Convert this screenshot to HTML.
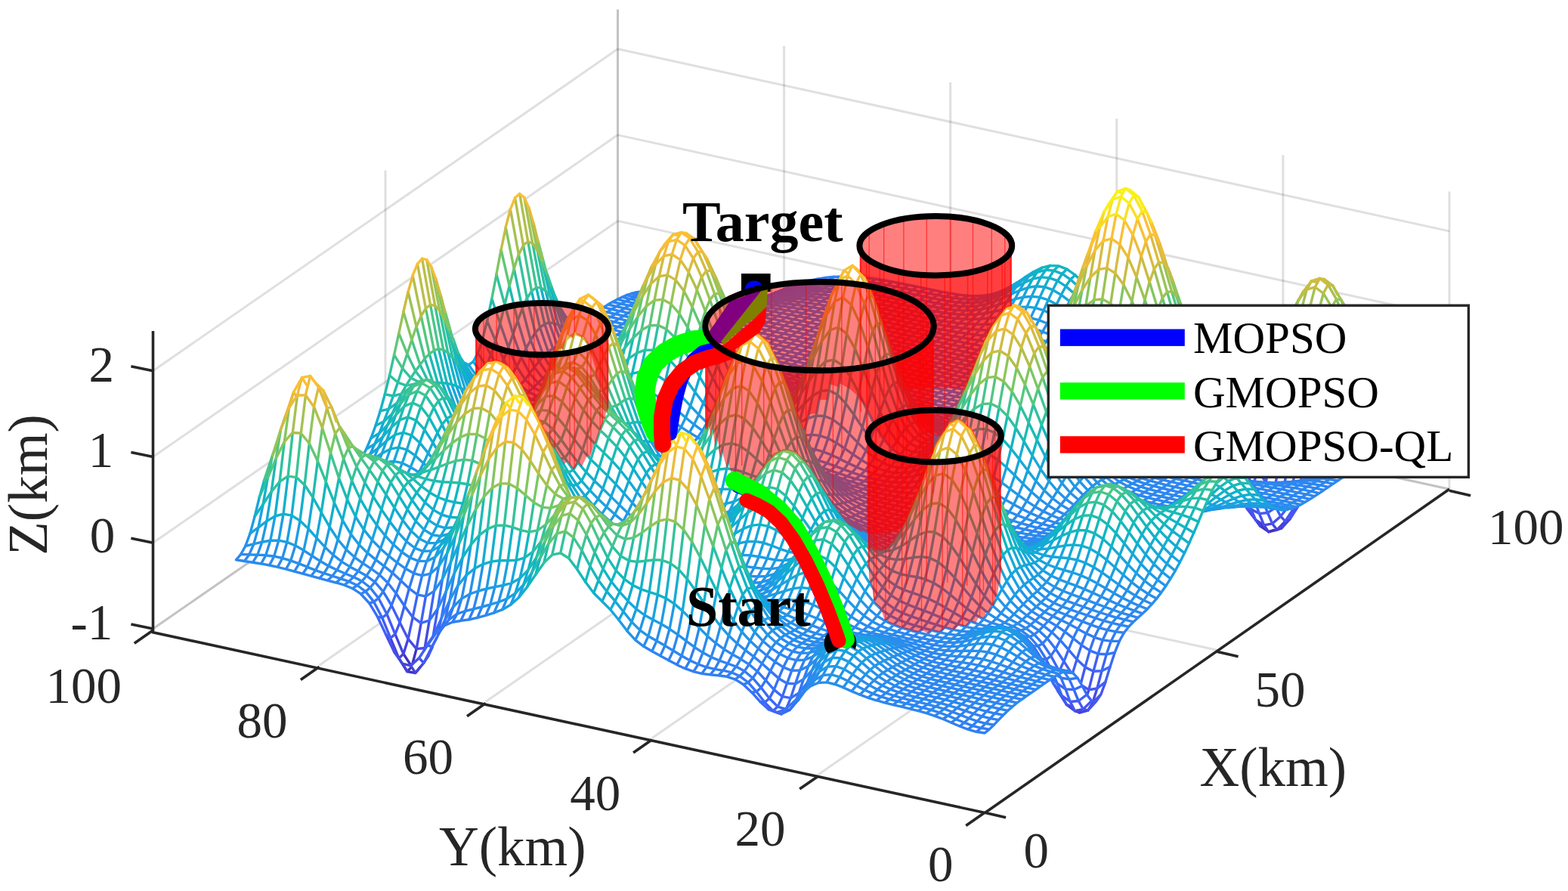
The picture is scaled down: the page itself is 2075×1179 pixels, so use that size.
<!DOCTYPE html><html><head><meta charset="utf-8"><style>html,body{margin:0;padding:0;background:#fff;overflow:hidden}svg{display:block}text{font-family:"Liberation Serif","Times New Roman",serif}</style></head><body>
<svg xmlns="http://www.w3.org/2000/svg" width="2075" height="1179" viewBox="0 0 2075 1179">
<rect width="2075" height="1179" fill="#fff"/>
<path d="M1918 647.3L1918 253.6" stroke="#262626" stroke-opacity="0.15" stroke-width="3" fill="none"/>
<path d="M1082.9 1024.9L1697.9 599.1" stroke="#262626" stroke-opacity="0.15" stroke-width="3" fill="none"/>
<path d="M1697.9 599.1L1697.9 205.3" stroke="#262626" stroke-opacity="0.15" stroke-width="3" fill="none"/>
<path d="M862.8 976.7L1477.8 550.9" stroke="#262626" stroke-opacity="0.15" stroke-width="3" fill="none"/>
<path d="M1477.8 550.9L1477.8 157.1" stroke="#262626" stroke-opacity="0.15" stroke-width="3" fill="none"/>
<path d="M642.7 928.5L1257.7 502.6" stroke="#262626" stroke-opacity="0.15" stroke-width="3" fill="none"/>
<path d="M1257.7 502.6L1257.7 108.9" stroke="#262626" stroke-opacity="0.15" stroke-width="3" fill="none"/>
<path d="M422.6 880.3L1037.6 454.4" stroke="#262626" stroke-opacity="0.15" stroke-width="3" fill="none"/>
<path d="M1037.6 454.4L1037.6 60.7" stroke="#262626" stroke-opacity="0.15" stroke-width="3" fill="none"/>
<path d="M202.5 832.1L817.5 406.2" stroke="#262626" stroke-opacity="0.15" stroke-width="3" fill="none"/>
<path d="M817.5 406.2L817.5 12.5" stroke="#262626" stroke-opacity="0.15" stroke-width="3" fill="none"/>
<path d="M202.5 832.1L202.5 438.3" stroke="#262626" stroke-opacity="0.15" stroke-width="3" fill="none"/>
<path d="M1610.5 860.2L510 619.1" stroke="#262626" stroke-opacity="0.15" stroke-width="3" fill="none"/>
<path d="M510 619.1L510 225.4" stroke="#262626" stroke-opacity="0.15" stroke-width="3" fill="none"/>
<path d="M1918 647.3L817.5 406.2" stroke="#262626" stroke-opacity="0.15" stroke-width="3" fill="none"/>
<path d="M817.5 406.2L817.5 12.5" stroke="#262626" stroke-opacity="0.15" stroke-width="3" fill="none"/>
<path d="M1918 647.3L817.5 406.2" stroke="#262626" stroke-opacity="0.15" stroke-width="3" fill="none"/>
<path d="M202.5 832.1L817.5 406.2" stroke="#262626" stroke-opacity="0.15" stroke-width="3" fill="none"/>
<path d="M1918 533.5L817.5 292.4" stroke="#262626" stroke-opacity="0.15" stroke-width="3" fill="none"/>
<path d="M202.5 718.3L817.5 292.4" stroke="#262626" stroke-opacity="0.15" stroke-width="3" fill="none"/>
<path d="M1918 419.7L817.5 178.6" stroke="#262626" stroke-opacity="0.15" stroke-width="3" fill="none"/>
<path d="M202.5 604.5L817.5 178.6" stroke="#262626" stroke-opacity="0.15" stroke-width="3" fill="none"/>
<path d="M1918 305.9L817.5 64.8" stroke="#262626" stroke-opacity="0.15" stroke-width="3" fill="none"/>
<path d="M202.5 490.7L817.5 64.8" stroke="#262626" stroke-opacity="0.15" stroke-width="3" fill="none"/>
<path d="M1918.2 533.8L1875.2 522.8L1834.2 509.8L1826.8 500.8L1816.8 483.8L1798.2 445.8L1792.2 430.8L1780.2 405.2L1764.2 378.8L1751.2 369.2L1746.2 368.8L1735.8 372.2L1724.2 387.2L1705.8 421.8L1688.2 461.2L1677.8 480.8L1589.8 461.2L1585.8 455.8L1579.2 442.8L1562.2 401.2L1551.8 369.2L1543.8 348.8L1535.2 321.8L1525.2 296.2L1507.2 261.2L1497.2 252.8L1490.2 249.8L1478.2 254.2L1462.8 278.2L1450.8 305.2L1439.2 338.8L1427.8 368.2L1411.2 355.8L1401.8 352.2L1389.8 351.8L1378.8 354.8L1366.8 360.8L1345.2 374.8L1324.2 386.2L1313.2 389.8L1302.8 391.8L1285.8 392.2L1256.8 388.8L1201.2 376.8L1167.8 370.8L1145.8 368.2L1133.2 355.2L1128.2 351.8L1117.8 357.8L1112.8 366.2L1091.2 367.8L1070.2 371.8L1041.2 381.2L1007.2 394.8L985.2 397.8L961.2 399.2L935.8 342.2L918.8 315.8L909.2 309.2L901.2 307.8L890.8 310.8L879.2 323.8L865.2 347.8L847.8 386.2L835.2 388.8L825.2 392.2L811.2 399.2L798.2 407.8L794.8 402.8L778.8 390.2L767.2 396.2L751.8 421.8L747.8 417.8L742.2 409.2L734.8 392.8L721.2 353.2L700.2 275.2L694.2 261.8L687.8 256.8L681.8 262.2L675.2 278.2L665.8 317.2L651.8 394.2L645.8 421.8L638.8 449.8L633.2 466.8L626.8 478.2L620.2 483.2L614.2 480.2L609.2 473.2L597.8 442.8L577.8 370.8L572.8 357.2L565.2 344.2L558.8 342.2L552.8 349.8L545.8 365.8L534.2 411.8L528.2 442.2L509.2 524.2L493.2 575.2L482.2 599.8L481.2 600.2L473.8 596.2L466.8 590.2L449.2 563.8L440.2 540.8L428.2 516.8L416.2 504.8L410.8 497.8L399.8 499.8L388.2 520.2L369.8 574.2L362.8 597.8L349.2 637.2L330.8 708.2L324.2 724.8L319.2 733.2L312.8 741.2L338.8 744.8L373.2 751.8L399.8 758.8L411.2 762.8L454.8 773.8L467.8 779.2L477.2 785.8L489.2 798.8L498.8 814.2L522.2 863.8L532.2 877.2L538.8 888.2L550.2 890.8L560.2 878.8L566.8 869.2L582.8 835.2L588.8 827.8L600.2 823.2L621.8 820.2L641.8 815.2L659.2 809.2L675.2 801.2L687.8 789.8L698.2 776.2L719.2 745.8L730.8 734.2L741.8 732.2L753.8 740.2L764.8 753.8L774.8 769.8L785.2 783.8L809.2 808.2L829.2 834.2L838.2 844.2L852.8 856.2L880.2 871.8L908.2 885.8L916.2 888.8L931.2 892.2L960.2 895.2L972.2 898.8L983.8 905.8L997.2 918.2L1008.8 931.2L1017.2 938.8L1022.8 941.2L1034.8 945.2L1044.8 940.2L1057.2 925.8L1064.8 915.2L1070.8 909.8L1082.8 903.8L1095.2 903.2L1105.8 905.8L1153.2 925.2L1166.8 929.2L1225.2 943.2L1248.8 951.8L1279.2 964.8L1291.8 968.8L1303.2 970.2L1312.8 962.2L1330.8 943.8L1344.2 931.8L1390.8 898.8L1412.2 933.2L1421.8 940.2L1428.2 943.2L1438.8 940.8L1442.2 937.8L1451.2 927.8L1457.8 918.2L1463.8 901.8L1475.2 863.2L1487.2 837.8L1492.8 830.2L1521.8 803.2L1544.8 773.8L1560.2 747.2L1580.2 705.8L1591.2 678.2L1592.8 676.8L1619.2 672.2L1648.8 670.8L1667.2 695.2L1678.2 703.8L1679.8 704.2L1695.2 699.8L1707.8 686.8L1719.2 668.8L1728.8 664.2L1794.8 620.2L1818.2 601.8L1844.8 578.2L1867.2 562.8L1890.8 550.8Z" fill="#fff" fill-rule="evenodd"/>
<path d="M1689.8 701.1l6.2 -2.3M1696 698.7l2.3 -5.6M1678.8 703.7l6.2 -2.2M1667.8 696.2l3.6 -1.3M549.8 890.5l6.1 -7.6M538.8 888.5l5.7 -5.9M545.8 878.8l5.3 -20.2M1689.8 701.1l-11 2.7M1696 698.7l-3.9 1M1678.8 703.7l-11 -7.5M1667.8 696.2l-4.1 -6.1M549.8 890.5l-11 -2M538.8 888.5l-11 -17.6M543.8 880.4l-9.9 -15.1" stroke="#4132c0" stroke-width="3.4" stroke-linecap="round" fill="none"/>
<path d="M561.4 860.4l0.7 -2.9" stroke="#4238cb" stroke-width="3.4" stroke-linecap="round" fill="none"/>
<path d="M1428.6 942.9l1.9 -3.2M1672.6 694.9l6.1 8.9M1428.6 942.9l-3 -2.2M1672.6 694.9l-11 -6.9" stroke="#443ed7" stroke-width="3.4" stroke-linecap="round" fill="none"/>
<path d="M1439.6 940.1l6.2 -9.9M1422.4 940.7l6.1 2.2M1439 918.8l1.9 -6.1M1700.8 689.6l6.2 -2.7M1707 686.9l5.9 -13.3M1683.7 692.9l6.1 8.2M1661.6 688l6.1 8.2M560.8 877.1l6.1 -9.3M543.6 880.8l6.2 9.6M532.6 878.2l6.2 10.3M527.8 870.9l6.1 -5.7M533.9 865.3l6.2 -19.9M1439.6 940.1l-11 2.9M1422.4 940.7l-11 -8.4M1700.8 689.6l-11 11.5M1707 686.9l-11 11.9M1683.7 692.9l-11 2M1661.6 688l-11 -14.5M560.8 877.1l-11 13.3M543.6 880.8l-11 -2.6M532.6 878.2l-11 -15.6M527.8 870.9l-11 -26.6M533.9 865.3l-11 -26.2" stroke="#4444dd" stroke-width="3.4" stroke-linecap="round" fill="none"/>
<path d="M1433.4 938.4l6.1 1.6M1446.7 927.3l5.2 -16.3M1411.4 932.3l6.1 2.2M566.9 867.8l0.4 -1.6M572.8 843.4l0.3 -1.3M562.1 857.5l6.1 -36.6M551.1 858.6l6.1 -34M1433.4 938.4l-11 2.3M1411.4 932.3l-11 -17.3M566.9 867.8l-1.8 2.5M562.1 857.5l-11 1.1M551.1 858.6l-11 -13.2" stroke="#454ae4" stroke-width="3.4" stroke-linecap="round" fill="none"/>
<path d="M1694.7 683.2l6.1 6.4M1666.5 679.6l6.2 15.3M1700.3 637.7l3.1 -19.5M1650.6 673.5l6.1 6.4M554.6 870.7l6.2 6.4M521.6 862.6l6.2 8.3M1694.7 683.2l-11 9.7M1666.5 679.6l-11 -5.9M1650.6 673.5l-1.4 -2.3M554.6 870.7l-11 10.1M521.6 862.6l-11 -23.2" stroke="#464fea" stroke-width="3.4" stroke-linecap="round" fill="none"/>
<path d="M1444.5 927.4l6.1 0.6M1450.6 928l6.2 -9M1456.8 919l6.2 -16.7M1416.3 928.5l6.2 12.2M1440.9 912.7l6.1 -24.4M1711.8 673l3.7 -2M1716.1 670.7l0.3 -0.2M1717 670.2l0.3 -0.2M1677.5 678.5l6.2 14.3M1711.4 636.8l3 -18.4M1655.5 673.7l6.2 14.3M1688.3 638.5l4.1 -25M540.1 845.4l6.1 -28.6M1444.5 927.4l-11 11M1450.6 928l-11 12.1M1456.8 919l-8.7 8.8M1416.3 928.5l-11 -8M1440.9 912.7l-8.1 -4.9M1711.8 673l-11 16.6M1717.8 670l-10.8 16.8M1677.5 678.5l-11 1.1M1655.5 673.7l-2.3 -2.5M540.1 845.4l-11 -21.7" stroke="#4655f0" stroke-width="3.4" stroke-linecap="round" fill="none"/>
<path d="M1427.3 927.5l6.2 11M1451.9 911l6.1 -23.2M1405.3 920.5l6.2 11.8M1430.5 903.7l5.5 -20.9M1400.4 915l1 0.3M1659.9 636.7l4.4 -14.8M571.8 855.6l6.1 -11.6M516.8 844.3l6.1 -5.2M522.9 839.1l6.2 -15.5M1427.3 927.5l-11 1M1451.9 911l-11 1.7M1405.3 920.5l-11 -15.6M1400.4 915l-2.1 -4.2M1654.7 636.3l-7.6 -14.5M571.8 855.6l-11 21.6M516.8 844.3l-11 -26.8M522.9 839.1l-11 -26.6" stroke="#4459f1" stroke-width="3.4" stroke-linecap="round" fill="none"/>
<path d="M1711.2 672.6l0.6 0.4M1690.2 674.7l4.4 8.4M1721.6 635.2l3.8 -20.7M1649.4 671.1l1.3 2.4M1675.3 638l6.1 -33.2M565.6 854l6.2 1.6M580.1 834.8l3.9 -16.4M573.1 842.1l6.1 -36.6M1012 393.5l3.5 -2.1M1700.9 675.2l-6.2 8M1685.1 673.6l-7.6 4.9M1674.9 637.7l-10.6 -15.8M565.6 854l-11 16.7M572.3 856.2l-5.4 11.6M573.1 842.1l-11 15.3M1015.6 391.4l-6.9 2.5" stroke="#415df3" stroke-width="3.4" stroke-linecap="round" fill="none"/>
<path d="M1438.3 919.2l6.2 8.2M1462.9 902.3l6.1 -20M1447 888.3l6.2 -23.1M1394.3 904.9l6.2 10.1M1419.6 890.1l5.5 -17.6M1675 672.3l2.5 6.3M1663.4 671.1l3.1 8.5M1654.5 671.2l1 2.5M1034 944.8l5 -5.2M1023 940.8l6.1 -5.7M557.2 824.5l6.2 -35.4M510.6 839.5l6.2 4.8M529.1 823.6l6.1 -21.9M1438.3 919.2l-11 8.3M1462.9 902.3l-11 8.6M1447 888.3l-11 -5.4M1394.3 904.9l-3.3 -5.8M1416.7 888.9l-8.8 -13.7M1388.6 880.8l-4.1 -8M1034 944.8l-11 -4M1023 940.8l-11 -11.4M557.2 824.5l-11 -7.8M510.6 839.5l-11 -23.2M529.1 823.6l-11 -22.6M1026.6 387l-11 4.4" stroke="#3f62f4" stroke-width="3.4" stroke-linecap="round" fill="none"/>
<path d="M1421.1 912.5l6.1 15M1458 887.8l6.2 -21.9M1410.1 911.9l6.1 16.6M1436 882.8l6.2 -21.9M1402.7 885.9l5.1 -10.6M1730.9 633.7l5.5 -25M1664.2 621.9l6.2 -28M1643.7 627.5l3.4 -5.7M1027.9 942.7l6.2 2.1M1040.4 937.8l5.9 -14M1029.2 935.1l6.2 -13.4M568.2 820.8l6.2 -38.5M546.2 816.7l6.2 -29.8M1018 391.9l2.5 -1.1M1020.4 390.8l6.2 -3.8M1421.1 912.5l-11 -0.6M1458 887.8l-11 0.5M1410.1 911.9l-11 -7.4M1436 882.8l-11 -10.4M1379.2 873.4l-0.8 -1.5M1399.9 884.7l-9.2 -16.8M1712 672.7l-0.2 0.3M1664.2 621.9l-11 -16.8M1626.4 620.7l-2.6 -4.7M1636 623l-6.1 -11.2M1027.9 942.7l-11 -4.1M1039.8 938.3l-10.7 -3.1M1029.2 935.1l-11 -11.1M568.2 820.8l-11 3.7M546.2 816.7l-11 -15M1020.4 390.8l-2.8 1.1M1017 392.1l-0.6 0.2" stroke="#3c66f5" stroke-width="3.4" stroke-linecap="round" fill="none"/>
<path d="M1432.2 907.6l6.1 11.6M1469 882.4l6.2 -18.9M1399.1 904.5l6.1 16M1425 872.5l6.2 -18.9M1407.9 875.3l6.1 -15.6M1738.7 631.9l2.6 -6.9M1647.1 621.8l6.2 -16.7M1038.9 939l6.2 0.4M1045 939.4l6.1 -7.6M1053.9 925.3l3.5 -8.4M1046.3 923.7l6.1 -18.8M1016.9 938.6l6.2 2.2M1035.3 921.8l6.1 -17.5M1012 929.4l6.1 -5.3M1018.2 924.1l6.2 -11.5M576.6 838.2l6.2 -3.5M582.8 834.7l6.1 -14.4M505.8 817.5l6.1 -5M511.9 812.5l6.2 -11.5M1019.1 391.8l0.3 -0.1M1020.1 391.4l5.2 -1.9M1025.3 389.5l6.1 -3M1031.4 386.5l6.2 -3.8M1432.2 907.6l-11 4.9M1469 882.4l-11 5.4M1399.1 904.5l-5.6 -6.8M1425 872.5l-11 -12.8M1407.9 875.3l-11 -16.7M1620.5 621.5l-2.8 -4.6M1647.1 621.8l-11 -18.7M1038.9 939l-11 3.7M1045 939.4l-11 5.4M1046.3 923.7l-11 -2M1016.9 938.6l-11 -10.2M1035.3 921.8l-11 -9.2M1012 929.4l-11 -14.1M1018.2 924.1l-11 -14.1M576.6 838.2l-11 15.8M582.8 834.7l-11 20.8M505.8 817.5l-11 -21M511.9 812.5l-11 -21M1019.1 391.8l-0.3 0.1M1025.3 389.5l-5.3 2M1019.3 391.7l-0.6 0.2M1031.4 386.5l-11 4.3M1037.6 382.6l-11 4.4" stroke="#3a6af7" stroke-width="3.4" stroke-linecap="round" fill="none"/>
<path d="M1714.4 618.3l6.1 -43.5M1703.4 618.2l6.1 -45.2M1692.4 613.5l6.1 -43.5M1005.9 928.4l6.2 1M584.1 818.5l6.1 -35.5M535.2 801.7l6.2 -22.9M499.6 816.2l6.2 1.3M1030.1 388.2l6.1 -2.6M1036.3 385.6l6.1 -3.2M1042.4 382.4l6.2 -3.9M1016.5 392.5l0.3 -0.1M1018.5 392l0.6 -0.2M1714.4 618.3l-11 -0.1M1703.4 618.2l-11 -4.8M1692.4 613.5l-11 -8.7M1616.2 621.9l-4.7 -6.1M1005.9 928.4l-11 -12.2M584.1 818.5l-11 23.7M535.2 801.7l-11 -16.5M499.6 816.2l-11 -18.3M1030.1 388.2l-10 3.3M1019.4 391.7l-0.3 0.1M1036.3 385.6l-11 3.9M1042.4 382.4l-11 4.1M1048.6 378.5l-11 4.2" stroke="#376ef8" stroke-width="3.4" stroke-linecap="round" fill="none"/>
<path d="M1415 898.9l6.2 13.6M1464.2 865.8l6.1 -17.5M1404 896.8l6.2 15.1M1453.2 865.2l6.1 -18.4M1442.2 860.9l6.1 -17.6M1391.5 898.8l2.7 6.1M1414 859.7l6.2 -15M1744.9 630l1.2 -1.6M1746.1 628.3l6.1 -12.8M1384.6 872.7l6.2 -4.8M1390.7 867.9l6.2 -9.3M1741.3 625l6.2 -21.9M1725.4 614.5l6.1 -38.9M1681.4 604.8l6.1 -38.9M1653.2 605.1l6.2 -22M1617.6 616.9l6.1 -0.9M1623.8 616l6.2 -4.3M1629.9 611.7l6.2 -8.6M1056 926.7l6.1 -8.9M1057.3 916.9l6.1 -18.3M1024.3 912.6l6.1 -14.9M1001 915.3l6.1 -5.4M1007.1 909.9l6.2 -9.8M588.9 820.4l6.2 -26.2M579.2 805.6l6.2 -39M518.1 801l6.1 -15.8M1041.1 385l6.1 -2.9M1047.3 382.1l6.1 -3.4M1053.4 378.7l6.2 -4M1017.8 391.9l6.2 -1.7M1024 390.3l6.2 -2.1M994.5 396.2l6.1 -0.7M978 398l1.4 0M1415 898.9l-11 -2M1464.2 865.8l-11 -0.6M1404 896.8l-4.9 -3M1453.2 865.2l-11 -4.3M1442.2 860.9l-11 -7.3M1414 859.7l-11 -12.5M1746.1 628.3l-1.3 1.6M1384.6 872.7l-11 -17.7M1390.7 867.9l-11 -16.4M1741.3 625l-8 8.5M1725.4 614.5l-11 3.8M1681.4 604.8l-11 -10.8M1653.2 605.1l-11 -14.9M1617.6 616.9l-11 -14.2M1623.8 616l-11 -15.9M1629.9 611.7l-11 -16.3M1056 926.7l-11 12.7M1057.3 916.9l-11 6.9M1024.3 912.6l-11 -12.4M1001 915.3l-11 -12.3M1007.1 909.9l-11 -12.7M588.9 820.4l-5.1 10.9M579.2 805.6l-11 15.3M518.1 801l-11 -18.2M1041.1 385l-11 3.2M1047.3 382.1l-11 3.5M1053.4 378.7l-11 3.7M1059.6 374.7l-11 3.7M1017.8 391.9l-4.3 1.1M1012.8 393.2l-1.3 0.3M1010.5 393.7l-1 0.2M1024 390.3l-5.8 1.7M1016.9 392.3l-0.3 0.1M1014.9 392.9l-0.3 0.1M994.5 396.2l-2 0.3M991.2 396.7l-1.7 0.3M973.7 398.4l-0.7 0.1" stroke="#3572f7" stroke-width="3.4" stroke-linecap="round" fill="none"/>
<path d="M1426 897.1l6.2 10.4M1475.2 863.5l6.1 -15.2M1395.6 896.2l3.5 8.3M1431.2 853.5l6.1 -15.4M1378.4 871.9l6.1 0.8M1396.9 858.6l6.1 -11.4M1611.5 615.8l6.2 1.1M1636.1 603.1l6.1 -12.9M1049.9 929.2l6.2 -2.5M1063.2 915.3l5.1 -11.9M1052.5 904.9l6.2 -18M1041.5 904.3l6.2 -17M1030.5 897.6l6.2 -14.7M994.8 916.2l6.2 -0.9M1013.3 900.2l6.1 -12.2M587.6 828l6.2 -7.8M593.8 820.2l6.1 -17.4M552.4 786.9l6.2 -25.3M1046 385.1l6.2 -2.8M1052.1 382.3l6.1 -3.1M1058.3 379.2l6.1 -3.6M1064.4 375.6l6.2 -4M1022.7 391.4l6.2 -1.9M1028.8 389.6l6.2 -2.1M1035 387.4l6.2 -2.4M1005.5 394.6l6.1 -1.2M1011.7 393.3l6.2 -1.4M988.4 396.8l6.1 -0.7M971.2 398.2l6.2 -0.2M961.2 398.9l1.7 0.1M1426 897.1l-11 1.7M1475.2 863.5l-11 2.4M1431.2 853.5l-11 -8.9M1378.4 871.9l-11 -17.2M1396.9 858.6l-11 -13.8M1612.9 623.2l-2.7 -2.1M1614.2 622.9l-8.9 -8.8M1611.5 615.8l-11 -11.6M1636.1 603.1l-11 -15M1049.9 929.2l-11 9.7M1052.5 904.9l-11 -0.7M1041.5 904.3l-11 -6.6M1030.5 897.6l-11 -9.7M994.8 916.2l-11 -10.5M1013.3 900.2l-11 -11.7M587.6 828l-11 10.2M593.8 820.2l-11 14.5M552.4 786.9l-11 -8.2M1046 385.1l-11 2.3M1052.1 382.3l-11 2.7M1058.3 379.2l-11 2.9M1064.4 375.6l-11 3.1M1070.6 371.6l-11 3.1M1022.7 391.4l-11 1.9M1028.8 389.6l-11 2.4M1035 387.4l-11 2.8M1005.5 394.6l-11 1.6M1011.7 393.3l-3.3 0.7M1007.3 394.2l-1.7 0.3M1003.7 394.9l-0.3 0.1M988.4 396.8l-6 0.6M979.4 397.8l-1.7 0.2M971.2 398.2l-10 0.5" stroke="#3476f5" stroke-width="3.4" stroke-linecap="round" fill="none"/>
<path d="M1470.3 848.4l6.2 -12.5M1459.3 846.8l6.2 -13.2M1448.3 843.3l6.2 -12.7M1746.5 629.4l4.5 -3.2M1751 626.2l6.2 -7M1757.1 619.2l6.1 -9.7M1420.2 844.7l6.1 -12.5M1752.3 615.5l6.2 -16.4M1372.5 866.5l5.9 5.4M1403 847.2l6.2 -11.3M1373.6 855l6.2 -3.5M1379.7 851.5l6.2 -6.7M1736.4 608.7l6.1 -32.5M1670.4 593.9l6.1 -32.5M1610.2 621.1l2.8 1.8M1605.3 614.1l6.1 1.6M1642.2 590.2l6.2 -16.5M1612.8 600.1l6.2 -4.7M1618.9 595.4l6.2 -7.3M983.8 905.8l6.2 -2.7M990 903l6.1 -5.8M996.1 897.2l6.2 -8.7M598.7 823.3l6.2 -10.9M563.4 789.1l6.2 -29.9M541.4 778.8l6.2 -20.2M524.2 785.2l6.2 -16.9M488.6 798l6.2 -1.5M494.8 796.4l6.1 -5M500.9 791.5l6.2 -8.7M507.1 782.8l6.1 -11.6M1086.4 371.5l6.2 -4.1M1050.8 386.3l6.2 -2.9M1057 383.4l6.2 -3.1M1063.1 380.3l6.1 -3.4M1069.3 376.9l6.1 -3.7M1075.4 373.2l6.2 -4.1M1027.5 392.2l6.1 -2.2M1033.7 390l6.2 -2.3M1039.8 387.6l6.2 -2.5M1010.4 395l6.1 -1.8M1016.5 393.2l6.1 -1.8M993.2 397.1l6.2 -1.3M999.4 395.8l6.1 -1.2M976.1 398.7l6.2 -1M982.2 397.6l6.2 -0.8M961.6 399.2l3.4 -0.5M965.1 398.7l6.2 -0.5M1470.3 848.4l-11 -1.5M1459.3 846.8l-11 -3.5M1448.3 843.3l-11 -5.2M1372.2 866.7l-1.1 -1.3M1751 626.2l-1.7 1.6M1757.1 619.2l-11 9.1M1366.7 859.2l-0.6 -0.8M1420.2 844.7l-11 -8.8M1752.3 615.5l-11 9.4M1371.3 864.9l-0.8 -1.1M1370.1 863.2l-8.9 -12.5M1403 847.2l-11 -10.6M1373.6 855l-11 -12.5M1379.7 851.5l-11 -11.9M1736.4 608.7l-11 5.8M1670.4 593.9l-11 -10.8M1610.2 621.1l-11 -7.9M1605.3 614.1l-11 -9M1642.2 590.2l-11 -12.1M1612.8 600.1l-11 -12.1M1618.9 595.4l-11 -12.5M983.8 905.8l-11 -6.9M990 903l-11 -8.4M996.1 897.2l-11 -9.2M598.7 823.3l-11 4.7M563.4 789.1l-11 -2.2M541.4 778.8l-11 -10.5M524.2 785.2l-11 -14M488.6 798l-11 -12M494.8 796.4l-11 -13.8M500.9 791.5l-11 -13.9M507.1 782.8l-11 -12.6M1086.4 371.5l-11 1.7M1092.6 367.4l-11 1.8M1050.8 386.3l-11 1.4M1057 383.4l-11 1.7M1063.1 380.3l-11 2M1069.3 376.9l-11 2.3M1075.4 373.2l-11 2.4M1081.6 369.1l-11 2.5M1027.5 392.2l-11 1M1033.7 390l-11 1.5M1039.8 387.6l-11 1.9M1010.4 395l-11 0.8M1016.5 393.2l-11 1.3M993.2 397.1l-11 0.5M999.4 395.8l-11 1.1M976.1 398.7l-11 0.1M982.2 397.6l-11 0.6M965.1 398.7l-4 0M847.9 386.1l-0.3 -0.1" stroke="#327bf4" stroke-width="3.4" stroke-linecap="round" fill="none"/>
<path d="M1303 970l6.2 -4.9M1309.2 965.1l6.1 -6M1419.8 890.5l6.2 6.7M1481.3 848.3l6.2 -11.1M1292 968.3l6.2 -4.9M1298.1 963.4l6.1 -6.1M1304.3 957.3l6.2 -6.6M1408.8 889.9l6.2 9M1281 965.2l6.2 -4.9M1287.1 960.3l6.1 -6M1401.4 892.5l2.6 4.3M1270 961l6.2 -4.8M1755.8 624.7l6.2 -4.4M1762 620.2l6.2 -5.9M1437.3 838.2l6.2 -11.5M1726.4 634.7l6.1 -0.8M1735.3 633.4l0.7 -0.1M1738 633l0.3 -0.1M1763.3 609.5l6.2 -12.1M1709.2 637.5l2.7 0.5M1409.2 835.9l6.1 -9.8M1692.1 638.4l1.6 0.5M1694.7 639.3l0.6 0.2M1747.4 603l6.1 -25.5M1367.4 854.6l6.1 0.4M1385.9 844.8l6.1 -8.2M1392 836.6l6.2 -8.4M1604 619.1l6.2 2M1659.4 583.1l6.1 -25.5M1599.2 613.2l6.2 1M1600.5 604.1l6.2 -1.4M1606.6 602.8l6.1 -2.6M1625.1 588.1l6.1 -10M1060.9 917.7l6.2 -5.8M1067 911.9l6.1 -10.2M1068.3 903.4l6.1 -16.5M1063.5 898.6l6.2 -17M1058.6 887l6.2 -13.9M1047.6 887.3l6.2 -13.5M1036.6 882.9l6.2 -12.1M1019.4 887.9l6.2 -12.2M1002.3 888.5l6.1 -10.5M972.8 898.9l6.2 -4.3M979 894.6l6.1 -6.6M985.1 888l6.2 -8.8M961.8 895.3l6.2 -5.4M968 889.8l6.1 -7.8M950.8 893.7l6.2 -6.5M957 887.3l6.1 -9.3M939.8 892.8l6.2 -7.5M946 885.3l6.1 -11.2M928.8 891.3l6.2 -8.6M935 882.8l6.1 -13.2M917.8 888.7l6.2 -9.7M906.8 884.8l6.2 -10.9M895.8 879.6l6.2 -11.9M620.7 819.8l6.2 -14M609.7 821.5l6.2 -12.9M604.8 812.4l6.1 -20.3M599.9 802.7l6.2 -28.1M574.4 782.4l6.2 -32.8M1072.9 385.1l6.2 -3.4M1079 381.7l6.2 -3.6M1085.2 378.1l6.1 -3.7M1091.3 374.4l6.1 -3.9M1097.5 370.5l6.2 -4.1M1049.5 391.5l6.1 -3M1055.7 388.5l6.2 -3.1M1061.8 385.4l6.2 -3.2M1068 382.2l6.2 -3.4M1074.1 378.9l6.1 -3.6M1080.3 375.3l6.1 -3.8M1032.4 394.3l6.1 -2.6M1038.5 391.6l6.1 -2.7M1044.7 389l6.2 -2.7M1009.1 399.2l6.2 -2.4M1015.2 396.7l6.2 -2.3M1021.4 394.4l6.1 -2.2M991.9 401l6.2 -2.2M998.1 398.8l6.2 -2M1004.2 396.8l6.2 -1.8M980.9 400.4l6.2 -1.8M987.1 398.7l6.2 -1.5M963.8 401.7l6.1 -1.7M969.9 400l6.2 -1.3M841.4 386.9l6.2 -0.9M847.6 386l0.3 0M1303 970l-11 -1.7M1309.2 965.1l-11 -1.8M1419.8 890.5l-11 -0.6M1481.3 848.3l-11 0.1M1292 968.3l-11 -3.1M1298.1 963.4l-11 -3.1M1304.3 957.3l-11 -2.9M1408.8 889.9l-1 -0.3M1281 965.2l-11 -4.2M1287.1 960.3l-11 -4.1M1270 961l-11 -4.8M1384.3 878.3l-8.4 -7.2M1755.8 624.7l-5.9 3.2M1749 628.3l-0.3 0.2M1762 620.2l-11 6M1437.3 838.2l-11 -6M1726.4 634.7l-3.6 1.2M1763.3 609.5l-11 6M1409.2 835.9l-11 -7.7M1692.1 638.4l-3 0.3M1747.4 603l-11 5.7M1367.4 854.6l-11 -12M1385.9 844.8l-11 -10.3M1392 836.6l-11 -8.3M1652.9 636.4l-1.3 -0.2M1611.8 623.4l-7.7 -4.2M1604 619.1l-11 -5.6M1659.4 583.1l-11 -9.5M1599.2 613.2l-11 -6.6M1600.5 604.1l-11 -8.9M1606.6 602.8l-11 -10.8M1625.1 588.1l-11 -11.7M1060.9 917.7l-11 11.6M1067 911.9l-11 14.8M1068.3 903.4l-11 13.5M1063.5 898.6l-11 6.4M1058.6 887l-11 0.3M1047.6 887.3l-11 -4.4M1036.6 882.9l-11 -7.2M1019.4 887.9l-11 -10M1002.3 888.5l-11 -9.3M972.8 898.9l-11 -3.6M979 894.6l-11 -4.8M985.1 888l-11 -5.9M961.8 895.3l-11 -1.5M968 889.8l-11 -2.6M950.8 893.7l-11 -0.9M957 887.3l-11 -2M939.8 892.8l-11 -1.4M946 885.3l-11 -2.5M928.8 891.3l-11 -2.6M935 882.8l-11 -3.8M917.8 888.7l-11 -4M906.8 884.8l-11 -5.1M895.8 879.6l-11 -5.8M620.7 819.8l-11 1.6M609.7 821.5l-11 1.8M604.8 812.4l-11 7.8M599.9 802.7l-11 17.6M574.4 782.4l-11 6.7M1072.9 385.1l-11 0.3M1079 381.7l-11 0.6M1085.2 378.1l-11 0.8M1091.3 374.4l-11 0.9M1097.5 370.5l-11 1M1103.6 366.3l-11 1.1M1049.5 391.5l-11 0.1M1055.7 388.5l-11 0.5M1061.8 385.4l-11 0.8M1068 382.2l-11 1.1M1074.1 378.9l-11 1.4M1080.3 375.3l-11 1.6M1032.4 394.3l-11 0.2M1038.5 391.6l-11 0.6M1044.7 389l-11 1M1009.1 399.2l-11 -0.4M1015.2 396.7l-11 0.1M1021.4 394.4l-11 0.5M991.9 401l-11 -0.6M998.1 398.8l-11 -0.2M1004.2 396.8l-11 0.3M980.9 400.4l-11 -0.5M987.1 398.7l-11 0M963.8 401.7l-1 -0.1M969.9 400l-8.3 -0.3M846.9 388.3l-5.5 -1.4" stroke="#307ff3" stroke-width="3.4" stroke-linecap="round" fill="none"/>
<path d="M1315.3 959.2l6.2 -6.5M1321.5 952.7l6.1 -6.4M1327.6 946.2l6.2 -6M1413.7 888l6.1 2.4M1487.5 837.2l6.2 -8M1310.4 950.6l6.1 -6.6M1316.6 944.1l6.2 -6.1M1402.7 886l4.7 2.9M1408.3 889.5l0.6 0.4M1476.5 835.8l6.2 -8.8M1293.3 954.3l6.2 -6.5M1299.4 947.8l6.1 -6.4M1305.6 941.4l6.2 -6M1391.7 882.4l5.6 3.9M1465.5 833.7l6.2 -9.3M1754.5 629.6l6.2 -3.5M1760.7 626.1l6.1 -3.8M1766.8 622.3l6.2 -4.4M1773 617.9l6.2 -5.2M1779.1 612.7l6.1 -6M1276.1 956.2l6.1 -5.7M1282.3 950.5l6.2 -6.1M1288.4 944.4l6.1 -6M1294.6 938.3l6.2 -5.7M1454.5 830.6l6.2 -9.2M1731.2 635.6l6.2 -2.6M1737.4 633l6.1 -2.4M1743.5 630.6l6.2 -2.6M1749.7 627.9l6.1 -3.3M1768.1 614.3l6.1 -7.5M1774.3 606.8l6.2 -8.9M1259 956.2l6.2 -4.7M1265.1 951.5l6.1 -5.3M1271.3 946.2l6.2 -5.6M1277.4 940.6l6.1 -5.6M1443.5 826.7l6.2 -8.7M1714.1 637.8l6.2 -1.9M1720.2 635.9l6.2 -1.2M1248 951.5l6.2 -4.5M1254.1 947l6.1 -4.9M1260.3 942l6.2 -5.1M1371.2 865.4l0.5 0.8M1426.3 832.1l6.2 -9.8M1696.9 639.3l6.1 -1.6M1703.1 637.7l6.2 -0.2M1758.4 599.1l6.1 -19M1366.1 858.4l1.1 1.4M1368 860.8l1.7 2.2M1370.6 864.1l0.2 0.3M1415.3 826.1l6.2 -8.3M1685.9 638.6l6.1 -0.1M1398.2 828.2l6.1 -7.7M1668.8 638.9l6.2 -0.8M1674.9 638.1l6.1 1.6M1362.6 842.6l6.2 -2.9M1368.7 839.6l6.2 -5.1M1374.9 834.5l6.1 -6.3M1381 828.3l6.2 -6.6M1657.8 637.4l6.2 0.1M1663.9 637.5l1.8 1M1651.2 636.2l1.7 0.2M1602.7 624.5l6.2 -0.9M1608.9 623.6l1.9 0.5M1597.9 619.3l6.1 -0.2M1586.9 615.2l6.1 -1.7M1593 613.5l6.2 -0.3M1648.4 573.7l6.1 -19.1M1582 608.6l6.2 -2.1M1588.2 606.5l6.2 -1.4M1594.3 605.2l6.1 -1M1631.2 578.1l6.2 -12.2M1583.3 598.1l6.1 -2.9M1589.5 595.2l6.2 -3.2M1595.6 592l6.1 -3.9M1601.8 588.1l6.2 -5.1M1607.9 583l6.2 -6.5M1614.1 576.4l6.1 -8M1073.2 901.7l6.2 -13.5M1025.6 875.7l6.2 -10.5M1008.4 878l6.2 -10.7M991.3 879.2l6.1 -10.3M974.1 882.1l6.2 -10M963.1 878l6.2 -12.1M952.1 874.1l6.2 -14.9M924 879l6.1 -15.4M913 873.9l6.1 -17.6M884.8 873.8l6.2 -12.8M631.7 817.4l6.2 -14.4M615.8 808.5l6.1 -22.6M595.1 794.2l6.1 -35.4M1146.2 368.8l1.4 -1M1099.7 391l0.6 -0.4M1076.4 397.2l6.1 -3.7M1082.6 393.5l6.1 -3.7M1088.7 389.8l6.2 -3.8M1094.9 386l6.2 -3.8M1101 382.2l5.3 -3.3M530.4 768.3l6.2 -16M1053.1 403.2l6.2 -3.6M1059.3 399.6l6.2 -3.6M1065.4 396l6.1 -3.5M1071.6 392.5l6.1 -3.5M1077.7 388.9l6.2 -3.6M1083.9 385.3l6.2 -3.6M1090 381.7l6.2 -3.7M1096.2 377.9l6.1 -3.9M1102.3 374.1l6.1 -4M1108.5 370.1l3.4 -2.3M513.2 771.2l6.2 -13.1M1036 405.3l6.2 -3.5M1042.1 401.8l6.2 -3.4M1048.3 398.4l6.2 -3.3M1054.4 395.1l6.1 -3.3M1060.6 391.8l6.1 -3.3M1066.7 388.5l6.2 -3.3M477.6 785.9l6.2 -3.3M483.7 782.7l6.1 -5.1M489.9 777.5l6.2 -7.3M496 770.2l6.1 -9.6M1018.8 407.3l6.1 -3.4M1024.9 403.9l6.2 -3.2M1031.1 400.7l6.2 -3.1M1037.2 397.5l6.2 -3M1043.4 394.5l6.1 -3M1001.6 409.1l6.1 -3.3M1007.8 405.8l6.1 -3.1M1013.9 402.7l6.2 -2.9M1020.1 399.8l6.2 -2.8M1026.2 397l6.2 -2.7M984.5 410.8l6.2 -3.2M990.6 407.6l6.1 -3M996.8 404.6l6.1 -2.8M1002.9 401.8l6.2 -2.6M967.3 412.4l6.2 -3.2M973.5 409.2l6.2 -3M979.6 406.2l6.1 -2.7M985.8 403.5l6.1 -2.5M964.6 406.7l4 -1.8M968.6 404.9l6.1 -2.4M974.8 402.5l6.1 -2.1M962.8 402l1 -0.3M838.8 401.1l3.4 -1.6M827.8 398.7l6.2 -3M834 395.7l6.1 -2.5M840.1 393.2l5.8 -1.9M816.8 396.2l6.2 -3M823 393.2l6.1 -2.6M829.1 390.6l6.2 -2.1M835.3 388.5l6.2 -1.5M1315.3 959.2l-11 -1.9M1321.5 952.7l-11 -2M1327.6 946.2l-11 -2.2M1413.7 888l-11 -2M1487.5 837.2l-11 -1.3M1310.4 950.6l-11 -2.8M1316.6 944.1l-11 -2.7M1402.7 886l-11 -3.6M1476.5 835.8l-11 -2.1M1293.3 954.3l-11 -3.8M1299.4 947.8l-11 -3.5M1305.6 941.4l-11 -3.1M1391.7 882.4l-11 -5.8M1465.5 833.7l-11 -3.1M1754.5 629.6l-11 0.9M1760.7 626.1l-11 1.8M1766.8 622.3l-11 2.4M1773 617.9l-11 2.4M1779.1 612.7l-11 1.6M1276.1 956.2l-11 -4.6M1282.3 950.5l-11 -4.3M1288.4 944.4l-11 -3.8M1294.6 938.3l-11 -3.3M1454.5 830.6l-11 -3.9M1731.2 635.6l-11 0.2M1737.4 633l-11 1.7M1743.5 630.6l-9.4 2.9M1749.7 627.9l-5.5 2.5M1768.1 614.3l-11 4.9M1774.3 606.8l-11 2.7M1259 956.2l-11 -4.7M1265.1 951.5l-11 -4.6M1271.3 946.2l-11 -4.2M1277.4 940.6l-11 -3.7M1443.5 826.7l-11 -4.4M1714.1 637.8l-11 -0.1M1720.2 635.9l-11 1.6M1248 951.5l-11 -4.2M1254.1 947l-11 -4.1M1260.3 942l-11 -3.8M1370.8 864.9l-10.8 -13.4M1426.3 832.1l-11 -6M1696.9 639.3l-11 -0.7M1703.1 637.7l-11 0.7M1758.4 599.1l-11 3.9M1365.3 857.4l-1.1 -1.3M1363.1 854.8l-1.5 -1.8M1360.7 851.9l-5.6 -6.8M1415.3 826.1l-11 -5.6M1685.9 638.6l-11 -0.5M1398.2 828.2l-11 -6.5M1668.8 638.9l-11 -1.5M1674.9 638.1l-11 -0.6M1362.6 842.6l-11 -8.2M1368.7 839.6l-11 -8.2M1374.9 834.5l-11 -7.7M1381 828.3l-11 -6.9M1657.8 637.4l-6.7 -1.1M1663.9 637.5l-11 -1.1M1607.6 625.9l-4.9 -1.4M1610.8 624.3l-1.9 -0.7M1602.7 624.5l-11 -3.3M1608.9 623.6l-11 -4.3M1597.9 619.3l-11 -4.1M1586.9 615.2l-11 -3.7M1593 613.5l-11 -4.9M1648.4 573.7l-11 -7.8M1582 608.6l-11 -4.2M1588.2 606.5l-11 -5.4M1594.3 605.2l-11 -7M1631.2 578.1l-11 -9.7M1583.3 598.1l-11 -5.7M1589.5 595.2l-11 -7.1M1595.6 592l-11 -8.4M1601.8 588.1l-11 -9.5M1607.9 583l-11 -10M1614.1 576.4l-11 -9.8M1073.2 901.7l-8.9 13M1025.6 875.7l-11 -8.4M1008.4 878l-11 -9.1M991.3 879.2l-11 -7.1M974.1 882.1l-11 -4.1M963.1 878l-11 -3.8M952.1 874.1l-11 -4.6M924 879l-11 -5.1M913 873.9l-11 -6.2M884.8 873.8l-11 -6M631.7 817.4l-11 2.5M615.8 808.5l-11 3.8M595.1 794.2l-11 24.2M1147.6 367.8l-2 -0.2M1099.7 391l-11 -1.2M1102.2 386.7l-7.3 -0.7M1104.3 382.5l-3.3 -0.3M1076.4 397.2l-11 -1.2M1082.6 393.5l-11 -1M1088.7 389.8l-11 -0.8M1094.9 386l-11 -0.7M1101 382.2l-11 -0.5M1106.5 378.3l-10.3 -0.3M1108.3 374.2l-6 -0.1M1110.8 370.1l-2.3 0M530.4 768.3l-11 -10.2M1053.1 403.2l-11 -1.4M1059.3 399.6l-11 -1.2M1065.4 396l-11 -0.9M1071.6 392.5l-11 -0.7M1077.7 388.9l-11 -0.4M1083.9 385.3l-11 -0.2M1090 381.7l-11 0M1096.2 377.9l-11 0.2M1102.3 374.1l-11 0.3M1108.5 370.1l-11 0.4M1112.9 366l-9.3 0.4M513.2 771.2l-11 -10.6M1036 405.3l-11 -1.4M1042.1 401.8l-11 -1.1M1048.3 398.4l-11 -0.9M1054.4 395.1l-11 -0.6M1060.6 391.8l-11 -0.3M1066.7 388.5l-11 0M477.6 785.9l-11 -7.2M483.7 782.7l-11 -8.2M489.9 777.5l-11 -8.5M496 770.2l-11 -8.3M1018.8 407.3l-11 -1.4M1024.9 403.9l-11 -1.2M1031.1 400.7l-11 -0.9M1037.2 397.5l-11 -0.6M1043.4 394.5l-11 -0.2M1001.6 409.1l-11 -1.5M1007.8 405.8l-11 -1.3M1013.9 402.7l-11 -1M1020.1 399.8l-11 -0.6M1026.2 397l-11 -0.2M984.5 410.8l-11 -1.6M990.6 407.6l-11 -1.4M996.8 404.6l-11 -1.1M1002.9 401.8l-11 -0.8M973.5 409.2l-7.7 -1.1M979.6 406.2l-11 -1.3M985.8 403.5l-11 -1M968.6 404.9l-5 -0.5M974.8 402.5l-11 -0.9M841.5 401.7l-2.7 -0.6M838.8 401.1l-11 -2.4M843 397.7l-9 -2M844.5 394.1l-4.3 -1M827.8 398.7l-11 -2.5M834 395.7l-11 -2.5M840.1 393.2l-11 -2.6M845.9 391l-10.7 -2.6" stroke="#2f83f1" stroke-width="3.4" stroke-linecap="round" fill="none"/>
<path d="M1333.8 940.3l6.2 -5.4M1339.9 934.9l6.1 -4.9M1346 930l6.2 -4.6M1352.2 925.5l6.1 -4.4M1358.3 921.1l6.2 -4.3M1364.5 916.8l6.2 -4.3M1370.7 912.5l6.1 -4.3M1376.8 908.2l6.2 -4.3M1383 903.9l6.1 -4.3M1389.1 899.7l6.2 -4.2M1395.2 895.5l6.2 -3.8M1401.4 891.7l6.1 -2.8M1407.5 888.9l6.2 -0.8M1493.7 829.2l6.1 -6.2M1499.8 822.9l6.2 -5.6M1506 817.3l6.1 -5.6M1512.1 811.8l6.2 -5.9M1721.2 667.7l6.1 -3.4M1727.3 664.3l6.2 -3.7M1733.5 660.5l6.2 -3.9M1739.7 656.6l6.1 -4.1M1745.8 652.6l6.2 -4.1M1752 648.4l6.1 -4.1M1758.1 644.3l6.2 -4.1M1764.2 640.2l6.2 -4.1M1770.4 636l6.1 -4.1M1776.5 631.9l6.2 -4.1M1782.7 627.8l6.1 -4.2M1788.8 623.6l6.2 -4.3M1795 619.2l6.2 -4.5M1801.2 614.7l6.1 -4.7M1807.3 610l6.2 -4.9M1813.5 605.1l6.1 -5.1M1819.6 599.9l6.2 -5.3M1825.8 594.7l6.2 -5.4M1893.4 548.5l6.2 -3.5M1899.6 544.9l6.1 -3.7M1905.7 541.2l6.1 -3.9M1911.8 537.3l6.2 -4M1322.7 938l6.2 -5.4M1328.9 932.6l6.1 -4.9M1335 927.7l6.2 -4.6M1341.2 923.1l6.1 -4.4M1347.3 918.7l6.2 -4.3M1353.5 914.4l6.2 -4.3M1359.6 910.1l6.1 -4.3M1365.8 905.7l6.2 -4.3M1371.9 901.4l6.1 -4.4M1378.1 897l6.2 -4.3M1384.2 892.8l6.2 -3.8M1390.4 888.9l6.1 -2.7M1396.5 886.3l6.2 -0.2M1482.6 827l6.1 -6.8M1488.8 820.2l6.2 -6M1494.9 814.2l6.1 -6.1M1710.2 665.3l6.1 -3.4M1716.3 661.9l6.2 -3.7M1722.5 658.2l6.2 -3.9M1728.6 654.2l6.1 -4M1734.8 650.2l6.2 -4.1M1740.9 646.1l6.1 -4M1747.1 642.1l6.2 -4M1753.2 638.1l6.2 -3.9M1759.4 634.2l6.1 -3.9M1765.5 630.3l6.2 -3.9M1771.7 626.4l6.1 -4.1M1777.8 622.3l6.2 -4.4M1784 617.9l6.2 -4.8M1790.1 613.1l6.1 -5.2M1796.3 607.9l6.2 -5.6M1802.4 602.3l6.1 -6M1888.5 541.4l6.1 -3.3M1894.7 538.1l6.1 -3.6M1900.8 534.5l6.2 -3.9M1311.7 935.5l6.2 -5.4M1317.9 930.1l6.1 -4.9M1324 925.2l6.2 -4.6M1330.2 920.7l6.1 -4.4M1336.3 916.3l6.2 -4.3M1342.5 911.9l6.2 -4.3M1348.6 907.6l6.1 -4.4M1354.8 903.2l6.2 -4.5M1360.9 898.7l6.1 -4.6M1367.1 894.2l6.2 -4.6M1373.2 889.6l6.2 -4.1M1379.4 885.4l6.1 -2.9M1385.5 882.6l6.2 -0.1M1471.6 824.4l6.1 -7.2M1477.8 817.3l6.2 -6.5M1699.2 663.1l6.1 -3.5M1705.3 659.6l6.2 -3.8M1711.5 655.8l6.2 -3.9M1717.6 651.9l6.1 -4M1723.8 647.9l6.2 -3.9M1729.9 644l6.1 -3.8M1736.1 640.2l6.2 -3.7M1742.2 636.5l6.2 -3.5M1748.4 633l6.1 -3.4M1785.3 606.6l6.2 -6.8M1791.4 599.8l6.1 -7.5M1883.7 534.5l6.1 -3.1M1889.8 531.4l6.2 -3.5M1300.7 932.7l6.2 -5.2M1306.9 927.5l6.1 -4.8M1313 922.7l6.2 -4.5M1319.2 918.2l6.1 -4.4M1325.3 913.8l6.2 -4.3M1331.5 909.5l6.2 -4.4M1337.6 905.1l6.1 -4.5M1343.8 900.6l6.2 -4.7M1349.9 895.9l6.1 -5M1356.1 890.9l6.2 -5.1M1362.2 885.8l6.2 -4.8M1374.5 877.4l6.2 -0.8M1380.7 876.7l6.1 3.8M1460.6 821.4l6.1 -7.4M1466.8 814l6.2 -7M1682 664.2l6.2 -3.2M1688.2 660.9l6.1 -3.6M1694.3 657.3l6.2 -3.8M1700.5 653.5l6.2 -3.9M1706.6 649.6l6.1 -3.9M1712.8 645.8l6.2 -3.7M1718.9 642.1l6.1 -3.4M1725.1 638.6l6.2 -3M1780.4 597.9l6.1 -10M1878.8 528l6.2 -3.1M1283.6 935.1l6.2 -5.3M1289.7 929.8l6.2 -4.9M1295.9 924.8l6.1 -4.6M1302 920.2l6.2 -4.5M1308.2 915.7l6.1 -4.4M1314.3 911.4l6.2 -4.4M1320.5 907l6.2 -4.5M1326.6 902.6l6.1 -4.7M1332.8 897.9l6.2 -5.1M1338.9 892.8l6.1 -5.6M1375.8 871l3.4 4.3M1449.6 817.9l6.1 -7.5M1672.2 661.6l5 -2.8M1677.2 658.8l6.1 -3.7M1683.3 655.1l6.2 -3.8M1689.5 651.3l6.2 -3.8M1695.6 647.4l6.1 -3.7M1701.8 643.8l6.2 -3.3M1707.9 640.5l6.1 -2.7M1769.4 597.5l6.1 -13.8M1266.4 936.9l6.1 -5.1M1272.6 931.8l6.2 -4.9M1278.7 926.9l6.2 -4.7M1284.9 922.2l6.1 -4.5M1291 917.7l6.2 -4.4M1297.2 913.3l6.1 -4.3M1303.3 908.9l6.2 -4.4M1309.5 904.5l6.2 -4.6M1315.6 900l6.1 -4.9M1321.8 895l6.2 -5.5M1327.9 889.5l6.1 -6.3M1432.5 822.3l6.2 -8M1438.6 814.2l6.1 -7.5M1667.3 656l5 -3.1M1672.3 652.9l6.2 -3.8M1678.5 649.1l6.2 -3.7M1684.6 645.3l6.1 -3.4M1690.8 642l6.2 -2.7M1237 947.3l6.2 -4.4M1243.1 942.9l6.1 -4.6M1249.3 938.2l6.2 -4.8M1255.4 933.5l6.1 -4.7M1261.6 928.7l6.2 -4.6M1267.7 924.1l6.2 -4.5M1273.9 919.6l6.1 -4.4M1280 915.2l6.2 -4.3M1286.2 910.8l6.1 -4.3M1292.3 906.5l6.2 -4.4M1298.5 902.1l6.2 -4.7M1304.6 897.4l6.1 -5.2M1310.8 892.2l6.2 -6M1421.5 817.9l6.2 -7.4M1427.6 810.5l6.1 -7.5M1662.2 650.2l5.3 -3.3M1667.5 646.9l6.2 -3.6M1673.6 643.3l6.1 -2.9M1679.8 640.4l6.2 -1.8M1226 943.7l6.2 -4.3M1232.1 939.3l6.1 -4.5M1238.3 934.9l6.2 -4.5M1244.4 930.4l6.1 -4.5M1250.6 925.9l6.2 -4.4M1256.7 921.4l6.2 -4.4M1262.9 917l6.1 -4.3M1269 912.7l6.2 -4.3M1275.2 908.4l6.1 -4.3M1281.3 904.1l6.2 -4.5M1287.5 899.6l6.2 -4.8M1293.6 894.8l6.1 -5.4M1299.8 889.5l6.2 -6.4M1361.3 850.7l6.2 3.9M1404.3 820.6l6.2 -7M1410.5 813.5l6.2 -6.9M1657.6 644.1l5 -2.7M1662.6 641.4l6.1 -2.5M1215 940.6l6.2 -4.3M1221.1 936.3l6.1 -4.3M1227.3 931.9l6.2 -4.4M1233.4 927.6l6.1 -4.4M1239.6 923.2l6.2 -4.3M1245.7 918.8l6.2 -4.3M1251.9 914.5l6.1 -4.3M1258 910.2l6.2 -4.3M1264.2 906l6.1 -4.3M1270.3 901.6l6.2 -4.5M1276.5 897.2l6.2 -4.8M1282.6 892.4l6.1 -5.4M1288.8 886.9l6.2 -6.5M1356.4 842.7l6.1 -0.1M1387.2 821.7l6.1 -6.4M1393.3 815.3l6.2 -6.2M1653.2 638.8l4.5 -1.5M1204 937.8l6.2 -4.3M1210.1 933.5l6.1 -4.3M1216.3 929.2l6.2 -4.3M1222.4 924.9l6.1 -4.3M1228.6 920.6l6.2 -4.3M1234.7 916.3l6.2 -4.3M1240.9 912l6.1 -4.3M1247 907.8l6.2 -4.3M1253.2 903.5l6.1 -4.3M1259.3 899.2l6.2 -4.4M1265.5 894.7l6.2 -4.8M1271.6 890l6.1 -5.4M1277.8 884.6l6.2 -6.4M1351.6 834.4l6.2 -3M1357.7 831.4l6.2 -4.6M1363.9 826.8l6.1 -5.5M1370 821.3l6.2 -5.8M1376.2 815.6l6.1 -5.8M1192.9 935.2l6.2 -4.3M1199.1 930.9l6.1 -4.3M1205.2 926.6l6.2 -4.3M1211.4 922.3l6.1 -4.3M1217.5 918l6.2 -4.3M1223.7 913.7l6.2 -4.3M1229.8 909.4l6.1 -4.2M1236 905.2l6.2 -4.2M1242.1 901l6.1 -4.3M1248.3 896.7l6.2 -4.4M1254.4 892.3l6.2 -4.6M1260.6 887.6l6.1 -5.2M1266.7 882.5l6.2 -6M1181.9 932.6l6.2 -4.4M1188.1 928.2l6.1 -4.4M1194.2 923.8l6.2 -4.4M1200.4 919.4l6.1 -4.3M1206.5 915.1l6.2 -4.3M1212.7 910.8l6.2 -4.2M1218.8 906.6l6.1 -4.2M1225 902.4l6.2 -4.2M1231.1 898.2l6.1 -4.2M1237.3 894l6.2 -4.3M1243.4 889.7l6.2 -4.5M1249.6 885.2l6.1 -4.9M1255.7 880.4l6.2 -5.5M1261.9 874.9l6.1 -6.3M1170.9 929.8l6.2 -4.5M1177.1 925.3l6.2 -4.6M1183.2 920.7l6.2 -4.5M1189.4 916.2l6.1 -4.4M1195.5 911.8l6.2 -4.3M1201.7 907.5l6.2 -4.2M1207.8 903.3l6.2 -4.1M1214 899.2l6.2 -4.1M1220.1 895.1l6.1 -4.1M1226.3 891l6.2 -4.1M1232.4 886.9l6.2 -4.3M1238.6 882.6l6.2 -4.5M1244.7 878.1l6.2 -4.9M1250.9 873.1l6.1 -5.5M1546.9 669.5l5.3 -3.5M1552.2 665.9l6.2 -4.1M1558.4 661.8l6.1 -4.2M1564.5 657.6l6.2 -4.2M1570.7 653.4l6.2 -4.2M1159.9 926.8l6.2 -4.9M1166.1 921.9l6.2 -4.9M1172.2 917l6.2 -4.8M1209.1 891.2l6.1 -3.9M1215.3 887.3l6.2 -3.9M1221.4 883.4l6.2 -4M1227.6 879.4l6.2 -4.1M1233.7 875.3l6.2 -4.4M1239.9 870.9l6.1 -4.7M1246 866.2l6.2 -5.1M1530.6 670.8l4.5 -3M1535.1 667.8l6.2 -4.2M1541.2 663.6l6.2 -4.2M1547.4 659.5l6.1 -4.2M1553.5 655.3l6.2 -4.2M1559.7 651.1l6.2 -4.2M1565.8 646.9l6.2 -4.2M1572 642.6l6.2 -4.2M1578.1 638.4l6.1 -4.1M1584.3 634.3l6.2 -3.9M1590.4 630.4l6.2 -3.4M1596.6 627l6.2 -2.5M1148.9 923.3l6.2 -5.4M1222.7 871.8l6.2 -3.8M1228.9 868l6.1 -4M1235 864l6.2 -4.4M1241.2 859.6l6.2 -4.6M1247.3 855l6.2 -4.8M1521.3 667.3l2.8 -1.9M1524.1 665.4l6.2 -4.2M1530.2 661.2l6.2 -4.2M1536.4 657l6.1 -4.2M1542.5 652.8l6.2 -4.2M1548.7 648.6l6.2 -4.2M1554.8 644.4l6.2 -4.2M1561 640.2l6.2 -4.2M1567.1 636l6.1 -4.1M1573.3 631.8l6.2 -4M1579.4 627.8l6.2 -3.7M1585.6 624.2l6.2 -3M1591.7 621.1l6.2 -1.9M1224 861.1l6.2 -3.6M1230.2 857.4l6.2 -4.1M1236.3 853.4l6.1 -4.4M1242.5 849l6.2 -4.7M1248.6 844.3l6.1 -5.2M1512.8 662.9l0.3 -0.2M1513.1 662.7l6.1 -4.2M1519.2 658.5l6.2 -4.2M1525.4 654.3l6.1 -4.2M1531.5 650.2l6.2 -4.2M1537.7 646l6.2 -4.2M1543.8 641.9l6.1 -4.2M1550 637.7l6.2 -4.2M1556.1 633.5l6.1 -4.2M1562.3 629.3l6.2 -4.1M1568.4 625.3l6.2 -3.9M1574.6 621.4l6.1 -3.5M1580.7 617.9l6.2 -2.7M1219.2 854.6l6.2 -3.5M1225.3 851.1l6.1 -4.1M1231.5 847l6.2 -4.7M1237.6 842.3l6.1 -5.5M1504.6 657.9l3.6 -2.5M1508.2 655.5l6.2 -4.1M1514.4 651.4l6.1 -4.1M1520.5 647.3l6.2 -4.1M1526.7 643.2l6.2 -4.1M1532.8 639.2l6.1 -4.1M1539 635.1l6.2 -4.1M1545.1 630.9l6.1 -4.1M1551.3 626.8l6.2 -4.1M1557.4 622.7l6.2 -4M1563.6 618.7l6.1 -3.8M1569.7 614.9l6.2 -3.4M1575.9 611.4l6.1 -2.8M1637.4 565.9l6.1 -13.9M1214.3 848.4l6.1 -3.9M1220.5 844.5l6.2 -4.7M1226.6 839.7l6.1 -5.8M1496.6 652.2l0.6 -0.4M1497.2 651.8l6.2 -3.9M1503.4 647.9l6.1 -3.9M1509.5 644l6.2 -3.9M1515.7 640.1l6.2 -3.9M1521.8 636.2l6.1 -3.9M1528 632.3l6.2 -4M1534.1 628.3l6.1 -4.1M1540.3 624.2l6.2 -4.1M1546.4 620.1l6.2 -4.1M1552.6 616l6.1 -4M1558.7 611.9l6.2 -3.9M1564.9 608.1l6.1 -3.6M1571 604.4l6.2 -3.3M1577.2 601.1l6.2 -3M1620.2 568.4l6.2 -9.2M1203.3 845.5l6.1 -3.7M1209.5 841.7l6.2 -4.8M1215.6 837l6.1 -6M1504.7 636.3l6.2 -3.6M1510.8 632.8l6.1 -3.7M1517 629.1l6.2 -3.8M1523.1 625.3l6.1 -3.9M1529.3 621.4l6.2 -4M1535.4 617.4l6.2 -4.1M1541.6 613.3l6.1 -4.2M1547.7 609.1l6.2 -4.2M1553.9 604.9l6.1 -4.2M1560 600.7l6.2 -4.2M1566.2 596.6l6.2 -4.2M1572.3 592.4l6.1 -4.3M1578.5 588.2l6.2 -4.5M1584.6 583.6l6.1 -5M1590.8 578.6l6.2 -5.7M1596.9 572.9l6.2 -6.3M1192.3 842.6l6.1 -3.7M1198.4 838.9l6.2 -4.9M1389.1 706.4l5.3 -3.2M1505.9 625.5l6.2 -3.4M1512.1 622.1l6.1 -3.6M1518.2 618.4l6.2 -3.9M1524.4 614.6l6.2 -4.1M1530.5 610.5l6.1 -4.3M1536.7 606.3l6.2 -4.4M1542.8 601.8l6.1 -4.6M1549 597.2l6.2 -4.8M1555.1 592.4l6.2 -5.1M1561.3 587.3l6.1 -5.4M1365.8 712.7l6.1 -3.8M1371.9 708.9l6.2 -3.9M1378.1 705l6.1 -4.2M1384.2 700.8l6.2 -4.5M1390.4 696.3l6.2 -4.8M1396.5 691.5l6.1 -5.2M1507.2 615.1l6.2 -3.6M1513.4 611.5l6.2 -3.9M1519.5 607.6l6.1 -4.3M1525.7 603.3l6.2 -4.7M1531.8 598.6l6.1 -5.1M1538 593.6l6.2 -5.5M1071.9 908.4l6.2 -8.4M1349.2 715l5.6 -3.6M1354.8 711.4l6.1 -4.1M1360.9 707.2l6.2 -4.3M1367.1 702.9l6.1 -4.6M1373.2 698.4l6.2 -5M1379.4 693.4l6.2 -5.4M1502.4 608.2l6.2 -3.7M1508.5 604.4l6.1 -4.3M1514.7 600.1l6.2 -4.9M1520.8 595.2l6.1 -5.6M1662.3 497.5l6.2 -3.3M1668.4 494.2l0.9 -0.5M1345.2 708.5l4.8 -3.4M1349.9 705.1l6.2 -4.6M1356.1 700.5l6.1 -5M1362.2 695.5l6.2 -5.5M1651.3 495l6.2 -3.2M1657.4 491.8l6.1 -3.6M1663.6 488.2l6.1 -3.9M1669.7 484.3l6.2 -4.1M1074.5 887l6.2 -14.6M1341.1 701l4 -3.2M1345.1 697.8l6.1 -5.4M1646.4 489.1l6.1 -3.4M1652.6 485.6l6.1 -3.8M1658.7 481.8l6.2 -4M1069.6 881.5l6.2 -12.7M1336.8 692.3l3.4 -3.3M1635.4 486.2l6.1 -3.2M1641.6 483l6.1 -3.7M1647.7 479.3l6.2 -3.9M1064.8 873.1l6.1 -9.2M1630.6 480.2l6.1 -3.5M1636.7 476.7l6.2 -3.9M1053.8 873.7l6.1 -9.4M1059.9 864.3l6.2 -6.3M1619.6 477.5l6.1 -3.3M1625.7 474.1l6.2 -3.8M1042.8 870.8l6.1 -8.8M1048.9 862l6.2 -6.2M1608.6 474.7l6.1 -3.2M1614.7 471.6l6.2 -3.7M1031.7 865.2l6.1 -8.1M1597.5 472l6.1 -3M1603.7 469l6.2 -3.6M1014.6 867.3l6.2 -9.5M1592.7 466.5l6.2 -3.6M997.4 868.9l6.2 -10.7M980.3 872.1l6.1 -11.6M1173.5 715.4l6.1 -3.2M1179.7 712.2l6.2 -3.6M1185.8 708.7l4.4 -2.8M941.1 869.5l6.2 -18.2M1168.7 709l6.2 -3.2M1174.8 705.8l6.2 -3.7M1181 702.1l6.1 -4M1187.1 698.2l6.2 -4.1M1193.3 694l4.5 -3.1M1163.8 702.7l6.2 -3.4M1170 699.3l6.1 -3.8M1176.1 695.5l6.2 -4M1182.3 691.5l6.1 -4.2M1188.4 687.3l6.2 -4.4M1194.6 682.9l6.2 -4.6M1200.7 678.3l4.5 -3.7M1152.8 699.4l6.2 -3M1159 696.4l6.1 -3.6M1165.1 692.8l6.2 -3.9M1171.3 688.9l6.2 -4.1M1177.4 684.8l6.2 -4.3M1183.6 680.5l6.2 -4.5M1189.7 676l6.1 -4.8M1195.9 671.2l6.2 -5.2M1202 666l6.2 -6M902 867.7l6.1 -19.5M1148 693.1l6.1 -3.3M1154.1 689.8l6.2 -3.7M1160.3 686l6.2 -4M1166.4 682l6.2 -4.1M1172.6 677.9l6.2 -4.3M1178.7 673.6l6.1 -4.6M1184.9 669l6.2 -4.9M1191 664.1l6.2 -5.4M1197.2 658.7l6.2 -6.2M890.9 861l6.1 -21.1M1143.1 686.2l6.2 -3.5M1149.2 682.7l6.2 -3.7M1155.4 679l6.2 -3.9M1161.5 675.1l6.2 -4.1M1167.7 671l6.1 -4.3M1173.8 666.7l6.2 -4.6M1180 662.1l6.2 -5M1186.1 657.1l6.2 -5.5M873.8 867.7l6.2 -13.4M1144.4 675.3l6.2 -3.6M1150.5 671.7l6.2 -3.7M1156.7 668l6.1 -4M1162.8 664l6.2 -4.2M1169 659.8l6.2 -4.6M1175.1 655.2l6.2 -5M1181.3 650.2l6.2 -5.5M862.8 861.8l6.2 -13.7M1145.7 664.3l6.1 -3.5M1151.8 660.9l6.2 -3.8M1158 657.1l6.2 -4.2M1164.1 652.9l6.2 -4.5M1170.3 648.4l6.2 -4.9M1176.4 643.4l6.1 -5.4M1147 654l6.2 -3.7M1153.1 650.3l6.2 -4.1M1159.3 646.2l6.2 -4.5M1165.4 641.7l6.1 -5M1171.6 636.7l6.2 -5.4M1142.1 647.2l6.2 -3.6M1148.3 643.6l6.2 -4.2M1154.4 639.4l6.1 -4.7M1160.6 634.7l6.2 -5.3M1137.3 640.6l6.2 -3.9M1143.4 636.7l6.1 -4.7M1149.6 632.1l6.2 -5.5M1254.1 559l2.8 -1.3M1132.4 633.7l6.1 -4.8M1249.3 552.9l6.2 -3.1M1255.4 549.8l6.1 -3.7M1261.6 546.1l1.7 -1.1M1244.4 546.9l6.1 -3.4M1250.6 543.5l6.2 -3.9M1256.7 539.6l6.1 -4.1M1262.9 535.5l6.2 -4.3M1269 531.2l1.4 -1M1233.4 543.9l6.1 -3M1239.6 540.9l6.2 -3.7M1245.7 537.2l6.1 -4M1251.9 533.1l6.2 -4.2M1258 528.9l6.2 -4.3M1264.2 524.6l6.1 -4.3M1270.3 520.3l6.2 -4.3M1276.5 516l0.3 -0.2M1228.5 538.2l6.2 -3.5M1234.7 534.6l6.1 -4M1240.8 530.7l6.2 -4.2M1247 526.5l6.2 -4.2M1253.1 522.3l6.1 -4.3M1259.3 518l6.2 -4.3M1265.4 513.7l6.1 -4.3M1271.6 509.4l6.2 -4.3M1277.7 505.1l4.8 -3.3M1217.5 535.5l6.2 -3.3M1223.7 532.1l6.1 -3.9M1229.8 528.3l6.2 -4.1M1236 524.1l6.2 -4.2M1242.1 519.9l6.1 -4.3M1248.3 515.7l6.2 -4.3M1254.4 511.4l6.1 -4.3M1260.6 507.1l6.2 -4.3M1266.7 502.9l6.2 -4.3M1272.9 498.6l6.1 -4.3M1279 494.3l6.2 -4.3M1285.2 490l3.1 -2.1M1209.3 531.4l3.4 -1.8M1212.7 529.6l6.1 -3.8M1218.8 525.8l6.2 -4.1M1225 521.7l6.2 -4.2M1231.1 517.5l6.1 -4.2M1237.3 513.3l6.2 -4.3M1243.4 509l6.1 -4.3M1249.6 504.8l6.2 -4.3M1255.7 500.5l6.2 -4.3M1261.9 496.2l6.1 -4.3M1268 492l6.2 -4.3M1274.2 487.7l6.1 -4.3M1280.3 483.4l6.2 -4.3M1286.5 479.1l6.2 -4.4M1292.6 474.7l1.1 -0.8M1205.8 524.7l2 -1.3M1207.8 523.4l6.2 -4.1M1214 519.3l6.2 -4.2M1220.1 515.1l6.1 -4.2M1226.3 510.9l6.2 -4.3M1232.4 506.6l6.1 -4.3M1238.6 502.4l6.2 -4.3M1244.7 498.1l6.2 -4.3M1250.9 493.8l6.1 -4.3M1257 489.6l6.2 -4.3M1263.2 485.3l6.1 -4.3M1269.3 481l6.2 -4.3M1275.5 476.7l6.2 -4.4M1281.6 472.3l6.2 -4.5M1287.8 467.8l6.1 -4.7M1293.9 463.1l6.1 -5.1M1300.1 457.9l0.7 -0.7M1202.1 517.5l0.8 -0.6M1203 516.9l6.2 -4.2M1209.1 512.7l6.1 -4.2M1215.3 508.5l6.2 -4.3M1221.4 504.2l6.1 -4.3M1227.6 500l6.2 -4.3M1233.7 495.7l6.2 -4.3M1239.9 491.4l6.1 -4.3M1246 487.2l6.2 -4.3M1252.2 482.9l6.1 -4.3M1258.3 478.6l6.2 -4.3M1264.5 474.3l6.2 -4.4M1270.6 470l6.2 -4.5M1276.8 465.5l6.1 -4.7M1282.9 460.8l6.1 -5M1289.1 455.9l6.2 -5.5M1295.2 450.4l6.2 -6.1M1198.1 510.3l6.1 -4.2M1204.3 506.1l6.2 -4.3M1210.4 501.8l6.1 -4.3M1216.6 497.6l6.2 -4.3M1222.7 493.3l6.2 -4.3M1228.9 489l6.1 -4.3M1235 484.8l6.2 -4.3M1241.2 480.5l6.1 -4.3M1247.3 476.2l6.2 -4.3M1253.5 471.9l6.2 -4.3M1259.6 467.6l6.2 -4.4M1265.8 463.2l6.1 -4.6M1271.9 458.6l6.1 -4.8M1278.1 453.8l6.2 -5.2M1284.2 448.6l6.2 -5.7M1195.2 502.3l4.2 -2.9M1199.4 499.4l6.1 -4.3M1205.6 495.1l6.2 -4.3M1211.7 490.9l6.2 -4.3M1217.9 486.6l6.1 -4.3M1224 482.4l6.2 -4.3M1230.2 478.1l6.1 -4.3M1236.3 473.8l6.2 -4.3M1242.5 469.5l6.2 -4.3M1248.6 465.2l6.2 -4.4M1254.8 460.8l6.1 -4.5M1260.9 456.4l6.1 -4.7M1267.1 451.7l6.2 -4.9M1273.2 446.7l6.2 -5.3M1279.4 441.4l6.2 -5.9M1192 494.5l2.5 -1.7M1194.6 492.7l6.2 -4.3M1200.7 488.5l6.2 -4.3M1206.9 484.2l6.1 -4.3M1213 480l6.2 -4.3M1219.2 475.7l6.1 -4.3M1225.3 471.4l6.2 -4.3M1231.5 467.1l6.2 -4.3M1237.6 462.8l6.2 -4.3M1243.8 458.5l6.1 -4.4M1249.9 454.1l6.1 -4.5M1256.1 449.5l6.2 -4.7M1262.2 444.8l6.2 -5M1268.4 439.8l6.2 -5.4M1189.1 486.5l0.6 -0.4M1189.7 486.1l6.2 -4.3M1195.9 481.8l6.1 -4.3M1202 477.5l6.2 -4.3M1208.2 473.3l6.1 -4.3M1214.3 469l6.2 -4.3M1220.5 464.8l6.2 -4.3M1226.6 460.5l6.2 -4.3M1232.8 456.2l6.1 -4.4M1238.9 451.8l6.1 -4.4M1245.1 447.3l6.2 -4.6M1251.2 442.8l6.2 -4.8M1257.4 438l6.2 -5M1263.5 433l6.1 -5.3M1186.2 478.4l4.8 -3.3M1191 475.1l6.2 -4.3M1197.1 470.9l6.1 -4.3M1203.3 466.6l6.2 -4.3M1209.4 462.3l6.2 -4.3M1215.6 458.1l6.2 -4.3M1221.7 453.8l6.1 -4.3M1227.9 449.5l6.1 -4.4M1234 445.1l6.2 -4.5M1240.2 440.6l6.2 -4.6M1246.3 436.1l6.2 -4.7M1252.5 431.3l6.1 -4.9M1258.6 426.5l6.1 -5.1M1264.8 421.4l6.2 -5.2M1183.1 470.6l3.1 -2.1M1186.1 468.5l6.1 -4.3M1192.3 464.2l6.2 -4.3M1198.4 459.9l6.2 -4.3M1204.6 455.7l6.2 -4.3M1210.7 451.4l6.1 -4.3M1216.9 447.1l6.1 -4.3M1223 442.8l6.2 -4.4M1229.2 438.4l6.2 -4.4M1235.3 434l6.2 -4.5M1241.5 429.4l6.1 -4.6M1247.6 424.8l6.1 -4.7M1253.8 420.1l6.2 -4.8M1259.9 415.2l6.2 -4.9M1266.1 410.4l6.2 -4.8M1180.2 462.6l1.1 -0.8M1181.3 461.8l6.2 -4.3M1187.4 457.5l6.2 -4.3M1193.6 453.3l6.2 -4.3M1199.7 449l6.2 -4.3M1205.9 444.7l6.1 -4.3M1212 440.4l6.2 -4.3M1218.2 436.1l6.2 -4.4M1224.3 431.7l6.2 -4.4M1230.5 427.3l6.2 -4.5M1236.6 422.9l6.1 -4.5M1242.8 418.3l6.2 -4.6M1248.9 413.8l6.2 -4.6M1255.1 409.2l6.2 -4.6M1261.2 404.6l6.2 -4.5M1267.4 400.1l6.1 -4.4M1273.5 395.6l6.2 -4.3M1177.5 454.4l5 -3.5M1182.6 450.9l6.2 -4.3M1188.7 446.6l6.2 -4.3M1194.9 442.3l6.1 -4.3M1201 438.1l6.2 -4.3M1207.2 433.8l6.2 -4.3M1213.3 429.5l6.2 -4.3M1219.5 425.1l6.2 -4.4M1225.6 420.8l6.1 -4.4M1231.8 416.4l6.2 -4.4M1237.9 411.9l6.2 -4.4M1244.1 407.5l6.2 -4.4M1250.2 403.1l6.2 -4.4M1256.4 398.7l6.1 -4.4M1262.5 394.3l6.2 -4.3M642.7 814.3l6.2 -14.3M1174.7 446.3l3.1 -2.1M1177.7 444.2l6.2 -4.3M1183.9 439.9l6.1 -4.3M1190 435.7l6.2 -4.3M1196.2 431.4l6.2 -4.3M1202.3 427.1l6.2 -4.3M1208.5 422.8l6.2 -4.3M1214.6 418.5l6.1 -4.3M1220.8 414.2l6.2 -4.3M1226.9 409.8l6.2 -4.3M1233.1 405.5l6.2 -4.3M1239.2 401.2l6.2 -4.3M1245.4 396.8l6.1 -4.3M1251.5 392.5l6.2 -4.3M1172 438.1l0.8 -0.6M1172.9 437.5l6.1 -4.3M1179 433.3l6.2 -4.3M1185.2 429l6.2 -4.3M1191.3 424.7l6.2 -4.3M1197.5 420.5l6.2 -4.3M1203.6 416.2l6.1 -4.3M1209.8 411.9l6.2 -4.3M1215.9 407.6l6.2 -4.3M1222.1 403.3l6.2 -4.3M1228.2 399l6.2 -4.3M1234.4 394.7l6.1 -4.3M1240.5 390.5l6.2 -4.3M626.8 805.8l6.1 -23.8M1169.4 429.9l4.8 -3.3M1174.2 426.6l6.2 -4.3M1180.3 422.4l6.2 -4.3M1186.5 418.1l6.2 -4.3M1192.6 413.9l6.1 -4.3M1198.8 409.6l6.2 -4.3M1204.9 405.3l6.2 -4.3M1211.1 401l6.2 -4.3M1217.2 396.8l6.2 -4.3M1223.4 392.5l6.1 -4.3M1229.5 388.2l6.2 -4.3M1052.5 498.5l6.2 -3.2M1058.6 495.3l6.1 -3.6M1166.5 421.9l2.8 -1.9M1169.3 420l6.2 -4.2M1175.5 415.7l6.2 -4.3M1181.6 411.5l6.1 -4.3M1187.8 407.2l6.2 -4.3M1193.9 403l6.2 -4.3M1200.1 398.7l6.2 -4.3M1206.2 394.5l6.2 -4.3M1212.4 390.2l6.1 -4.3M1218.5 386l6.2 -4.3M1047.6 492.4l6.1 -3.4M1053.8 489l6.2 -3.8M1059.9 485.2l6.2 -4M1066.1 481.2l4.2 -2.8M1163.6 414l0.8 -0.6M1164.5 413.4l6.2 -4.2M1170.6 409.2l6.1 -4.2M1176.8 404.9l6.2 -4.2M1182.9 400.7l6.2 -4.2M1189.1 396.4l6.2 -4.2M1195.2 392.2l6.2 -4.2M1201.4 387.9l6.1 -4.3M1207.5 383.7l6.2 -4.3M1036.6 489.5l6.1 -3.2M1042.7 486.3l6.2 -3.7M1048.9 482.6l6.2 -3.9M1055 478.7l6.2 -4.1M1061.2 474.6l6.2 -4.2M1067.3 470.4l6.1 -4.2M1073.5 466.2l1.4 -1M1161.3 405.7l4.5 -3.1M1165.7 402.6l6.2 -4.2M1171.9 398.4l6.2 -4.2M1178 394.2l6.2 -4.2M1184.2 389.9l6.2 -4.2M1190.3 385.7l6.1 -4.2M1196.5 381.4l6.2 -4.3M1031.7 483.6l6.2 -3.5M1037.9 480.1l6.2 -3.9M1044 476.2l6.2 -4.1M1050.2 472.2l6.2 -4.2M1056.3 468l6.1 -4.2M1062.5 463.8l6.2 -4.2M1068.6 459.5l6.2 -4.2M1074.8 455.3l4.5 -3.1M1158.4 397.9l2.5 -1.7M1160.9 396.2l6.2 -4.2M1167 391.9l6.2 -4.2M1173.2 387.7l6.2 -4.2M1179.3 383.5l6.1 -4.2M1185.5 379.3l6.2 -4.3M590.2 783l6.2 -38.7M1028.1 476.8l5 -3.1M1033 473.7l6.2 -4M1039.2 469.7l6.2 -4.1M1045.3 465.6l6.1 -4.2M1051.5 461.4l6.2 -4.2M1057.6 457.1l6.2 -4.2M1063.8 452.9l6.2 -4.2M1069.9 448.7l6.2 -4.2M1076.1 444.4l6.1 -4.2M1082.2 440.2l1.1 -0.8M1155.2 390.4l0.8 -0.6M1156 389.8l6.2 -4.2M1162.2 385.6l6.2 -4.2M1168.3 381.4l6.1 -4.2M1174.5 377.2l6.2 -4.2M1024.7 469.6l3.5 -2.3M1028.2 467.3l6.2 -4.1M1034.3 463.2l6.1 -4.2M1040.5 459l6.2 -4.2M1046.6 454.7l6.2 -4.2M1052.8 450.5l6.2 -4.2M1058.9 446.3l6.2 -4.2M1065.1 442l6.1 -4.2M1071.2 437.8l6.2 -4.2M1077.4 433.6l6.2 -4.2M1083.5 429.4l3.9 -2.7M1152.3 382.9l5 -3.4M1157.3 379.5l6.1 -4.2M1163.5 375.3l6.2 -4.2M1020.8 462.4l2.5 -1.7M1023.3 460.7l6.1 -4.2M1029.5 456.6l6.2 -4.2M1035.6 452.3l6.2 -4.2M1041.8 448.1l6.2 -4.2M1047.9 443.9l6.2 -4.2M1054.1 439.7l6.1 -4.2M1060.2 435.4l6.2 -4.2M1066.4 431.2l6.2 -4.2M1072.5 427.1l6.2 -4.2M1078.7 422.9l6.2 -4.1M1084.8 418.8l6.1 -4.1M1091 414.6l0.8 -0.6M1149.1 375.8l3.4 -2.3M1152.5 373.5l6.2 -4.2M1017.1 455.1l1.4 -1M1018.5 454.2l6.1 -4.2M1024.6 449.9l6.2 -4.2M1030.8 445.7l6.2 -4.2M1036.9 441.5l6.2 -4.2M1043.1 437.3l6.1 -4.2M1049.2 433.1l6.2 -4.2M1055.4 428.9l6.2 -4.1M1061.5 424.8l6.2 -4.1M1067.7 420.7l6.2 -4.1M1073.8 416.6l6.1 -4.1M1080 412.5l6.2 -4M1086.1 408.5l6.2 -4M1092.3 404.4l3.6 -2.4M558.5 761.6l6.1 -19M1011.7 448.9l2 -1.3M1013.6 447.6l6.2 -4.2M1019.8 443.3l6.1 -4.2M1025.9 439.1l6.2 -4.2M1032.1 435l6.1 -4.2M1038.2 430.8l6.2 -4.1M1044.4 426.7l6.2 -4.1M1050.5 422.6l6.2 -4.1M1056.7 418.5l6.1 -4M1062.8 414.5l6.1 -4M1069 410.5l6.2 -4M1075.1 406.5l6.2 -3.9M1081.3 402.6l6.2 -3.9M1087.4 398.7l6.1 -3.9M1093.6 394.8l6.1 -3.9M547.5 758.6l6.1 -16.2M1005.1 443.5l3.6 -2.5M1008.8 441l6.1 -4.2M1014.9 436.8l6.2 -4.2M1021.1 432.6l6.1 -4.1M1027.2 428.5l6.2 -4.1M1033.4 424.4l6.2 -4M1039.5 420.4l6.2 -4M1045.7 416.4l6.1 -3.9M1051.8 412.5l6.1 -3.9M1058 408.6l6.2 -3.8M1064.1 404.8l6.2 -3.8M1070.3 401l6.2 -3.8M984.1 447.9l1.4 -0.9M985.5 447l6.2 -4.2M991.6 442.8l6.2 -4.2M997.8 438.6l6.1 -4.2M1003.9 434.5l6.2 -4.1M1010.1 430.4l6.1 -4.1M1016.2 426.3l6.2 -4M1022.4 422.3l6.2 -4M1028.5 418.3l6.2 -3.9M1034.7 414.4l6.1 -3.8M1040.8 410.6l6.1 -3.7M1047 406.8l6.2 -3.7M519.4 758.1l6.2 -13.7M980.6 440.4l6.2 -4.2M986.8 436.3l6.1 -4.1M992.9 432.2l6.2 -4.1M999.1 428.1l6.1 -4M1005.2 424.1l6.2 -3.9M1011.4 420.1l6.2 -3.9M1017.5 416.3l6.2 -3.8M1023.7 412.5l6.1 -3.7M1029.8 408.8l6.1 -3.6M502.2 760.6l6.2 -11.6M976.6 433.4l5.3 -3.5M981.9 429.9l6.2 -4M988 425.9l6.1 -3.9M994.2 421.9l6.2 -3.8M1000.3 418.1l6.2 -3.7M1006.5 414.4l6.2 -3.6M1012.6 410.7l6.1 -3.5M466.6 778.7l6.2 -4.2M472.7 774.5l6.1 -5.4M478.9 769.1l6.2 -7.1M485 761.9l6.1 -9.3M973.5 426l3.5 -2.3M977 423.7l6.1 -3.8M983.2 419.9l6.2 -3.7M989.3 416.1l6.2 -3.6M995.5 412.5l6.2 -3.4M455.6 774.2l6.2 -4.8M461.7 769.4l6.1 -5.9M467.9 763.5l6.2 -7.8M970.1 419.1l2 -1.2M972.2 417.8l6.2 -3.6M978.3 414.2l6.2 -3.4M444.6 771l6.2 -5.3M450.7 765.7l6.1 -6.7M433.6 768.1l6.2 -5.8M439.7 762.2l6.1 -7.9M422.6 765.2l6.2 -6.6M411.6 762.2l6.2 -7.7M400.6 759.2l6.2 -8.9M705.1 539.6l1.9 -1.4M701 531.6l3.5 -2.7M704.5 528.8l6.1 -5M814.7 444.3l1.8 -1.1M816.5 443.2l6.1 -4M822.6 439.1l2.8 -1.9M811.6 436.5l6.2 -4M817.8 432.5l6.2 -4M823.9 428.5l6.1 -4M830.1 424.4l1.4 -0.9M808.5 428.7l4.4 -2.8M812.9 425.9l6.1 -4M819.1 422l6.2 -4M825.2 418l6.1 -3.9M831.4 414.1l5.9 -3.6M805.1 421.3l2.9 -1.8M808.1 419.5l6.2 -3.9M814.2 415.5l6.1 -3.9M820.4 411.7l6.2 -3.7M826.5 407.9l6.2 -3.6M832.7 404.4l6.1 -3.3M323.5 742.5l6.2 -8.6M801.8 414l1.5 -0.9M803.2 413.1l6.1 -3.8M809.4 409.2l6.2 -3.7M815.5 405.5l6.2 -3.6M821.7 402l6.1 -3.3M312.5 740.8l6.2 -7.3M798.1 407l0.3 -0.2M798.4 406.8l6.2 -3.7M804.5 403l6.2 -3.6M810.7 399.5l6.1 -3.3M1333.8 940.3l-11 -2.3M1339.9 934.9l-11 -2.3M1346 930l-11 -2.4M1352.2 925.5l-11 -2.4M1358.3 921.1l-11 -2.4M1364.5 916.8l-11 -2.4M1370.7 912.5l-11 -2.4M1376.8 908.2l-11 -2.5M1383 903.9l-11 -2.5M1389.1 899.7l-11 -2.6M1395.2 895.5l-11 -2.7M1401.4 891.7l-11 -2.8M1407.5 888.9l-11 -2.6M1493.7 829.2l-11 -2.2M1499.8 822.9l-11 -2.7M1506 817.3l-11 -3.1M1512.1 811.8l-11 -3.6M1721.2 667.7l-11 -2.4M1727.3 664.3l-11 -2.4M1733.5 660.5l-11 -2.4M1739.7 656.6l-11 -2.4M1745.8 652.6l-11 -2.4M1752 648.4l-11 -2.3M1758.1 644.3l-11 -2.2M1764.2 640.2l-11 -2M1770.4 636l-11 -1.8M1776.5 631.9l-11 -1.6M1782.7 627.8l-11 -1.4M1788.8 623.6l-11 -1.3M1795 619.2l-11 -1.4M1801.2 614.7l-11 -1.6M1807.3 610l-11 -2.1M1813.5 605.1l-11 -2.8M1819.6 599.9l-11 -3.6M1825.8 594.7l-11 -4.6M1893.4 548.5l-11 -4.2M1899.6 544.9l-11 -3.6M1905.7 541.2l-11 -3.1M1911.8 537.3l-11 -2.8M1918 533.3l-11 -2.6M1322.7 938l-11 -2.6M1328.9 932.6l-11 -2.5M1335 927.7l-11 -2.4M1341.2 923.1l-11 -2.4M1347.3 918.7l-11 -2.4M1353.5 914.4l-11 -2.4M1359.6 910.1l-11 -2.5M1365.8 905.7l-11 -2.5M1371.9 901.4l-11 -2.7M1378.1 897l-11 -2.9M1384.2 892.8l-11 -3.2M1390.4 888.9l-11 -3.5M1396.5 886.3l-11 -3.7M1482.6 827l-11 -2.6M1488.8 820.2l-11 -3M1494.9 814.2l-11 -3.4M1710.2 665.3l-11 -2.2M1716.3 661.9l-11 -2.3M1722.5 658.2l-11 -2.3M1728.6 654.2l-11 -2.3M1734.8 650.2l-11 -2.3M1740.9 646.1l-11 -2.2M1747.1 642.1l-11 -1.9M1753.2 638.1l-11 -1.6M1759.4 634.2l-11 -1.2M1765.5 630.3l-11 -0.7M1771.7 626.4l-11 -0.2M1777.8 622.3l-11 0M1784 617.9l-11 0M1790.1 613.1l-11 -0.5M1796.3 607.9l-11 -1.3M1802.4 602.3l-11 -2.5M1888.5 541.4l-11 -4.3M1894.7 538.1l-11 -3.6M1900.8 534.5l-11 -3.1M1907 530.6l-11 -2.8M1311.7 935.5l-11 -2.8M1317.9 930.1l-11 -2.6M1324 925.2l-11 -2.5M1330.2 920.7l-11 -2.4M1336.3 916.3l-11 -2.4M1342.5 911.9l-11 -2.4M1348.6 907.6l-11 -2.5M1354.8 903.2l-11 -2.6M1360.9 898.7l-11 -2.9M1367.1 894.2l-11 -3.3M1373.2 889.6l-11 -3.8M1379.4 885.4l-11 -4.5M1385.5 882.6l-11 -5.2M1471.6 824.4l-11 -3M1477.8 817.3l-11 -3.3M1699.2 663.1l-11 -2.2M1705.3 659.6l-11 -2.3M1711.5 655.8l-11 -2.3M1717.6 651.9l-11 -2.3M1723.8 647.9l-11 -2.2M1729.9 644l-11 -1.9M1736.1 640.2l-11 -1.5M1742.2 636.5l-11 -0.9M1748.4 633l-11 0M1785.3 606.6l-11 0.2M1791.4 599.8l-11 -1.8M1883.7 534.5l-11 -4.1M1889.8 531.4l-11 -3.4M1896 527.9l-11 -2.9M1300.7 932.7l-11 -2.9M1306.9 927.5l-11 -2.7M1313 922.7l-11 -2.5M1319.2 918.2l-11 -2.5M1325.3 913.8l-11 -2.4M1331.5 909.5l-11 -2.5M1337.6 905.1l-11 -2.5M1343.8 900.6l-11 -2.7M1349.9 895.9l-11 -3.1M1356.1 890.9l-11 -3.7M1362.2 885.8l-11 -4.6M1374.5 877.4l-11 -6.8M1380.7 876.7l-11 -8.1M1460.6 821.4l-11 -3.4M1466.8 814l-11 -3.5M1682 664.2l-9 -1.6M1688.2 660.9l-11 -2.1M1694.3 657.3l-11 -2.2M1700.5 653.5l-11 -2.2M1706.6 649.6l-11 -2.2M1712.8 645.8l-11 -2M1718.9 642.1l-11 -1.6M1725.1 638.6l-11 -0.9M1780.4 597.9l-11 -0.4M1878.8 528l-11 -3.8M1885 524.9l-11 -3.1M1283.6 935.1l-11 -3.3M1289.7 929.8l-11 -2.9M1295.9 924.8l-11 -2.7M1302 920.2l-11 -2.5M1308.2 915.7l-11 -2.5M1314.3 911.4l-11 -2.4M1320.5 907l-11 -2.5M1326.6 902.6l-11 -2.6M1332.8 897.9l-11 -2.8M1338.9 892.8l-11 -3.3M1375.8 871l-11 -11.4M1449.6 817.9l-11 -3.7M1677.2 658.8l-9 -1.7M1683.3 655.1l-11 -2.2M1689.5 651.3l-11 -2.2M1695.6 647.4l-11 -2.1M1701.8 643.8l-11 -1.8M1707.9 640.5l-11 -1.2M1769.4 597.5l-11 1.6M1874 521.8l-11 -3.3M1266.4 936.9l-11 -3.4M1272.6 931.8l-11 -3.1M1278.7 926.9l-11 -2.8M1284.9 922.2l-11 -2.6M1291 917.7l-11 -2.5M1297.2 913.3l-11 -2.5M1303.3 908.9l-11 -2.4M1309.5 904.5l-11 -2.5M1315.6 900l-11 -2.6M1321.8 895l-11 -2.8M1327.9 889.5l-11 -3.3M1432.5 822.3l-11 -4.4M1438.6 814.2l-11 -3.8M1672.3 652.9l-9 -1.8M1678.5 649.1l-11 -2.2M1684.6 645.3l-11 -2M1690.8 642l-11 -1.6M1237 947.3l-11 -3.6M1243.1 942.9l-11 -3.5M1249.3 938.2l-11 -3.3M1255.4 933.5l-11 -3.1M1261.6 928.7l-11 -2.9M1267.7 924.1l-11 -2.7M1273.9 919.6l-11 -2.5M1280 915.2l-11 -2.5M1286.2 910.8l-11 -2.4M1292.3 906.5l-11 -2.4M1298.5 902.1l-11 -2.5M1304.6 897.4l-11 -2.5M1310.8 892.2l-11 -2.7M1421.5 817.9l-11 -4.3M1427.6 810.5l-11 -3.8M1667.5 646.9l-9.7 -1.9M1673.6 643.3l-11 -2M1679.8 640.4l-11 -1.5M1226 943.7l-11 -3.1M1232.1 939.3l-11 -3M1238.3 934.9l-11 -2.9M1244.4 930.4l-11 -2.8M1250.6 925.9l-11 -2.7M1256.7 921.4l-11 -2.6M1262.9 917l-11 -2.5M1269 912.7l-11 -2.5M1275.2 908.4l-11 -2.4M1281.3 904.1l-11 -2.4M1287.5 899.6l-11 -2.4M1293.6 894.8l-11 -2.5M1299.8 889.5l-11 -2.5M1361.3 850.7l-4.6 -4.4M1354.2 843.9l-3.9 -3.7M1404.3 820.6l-11 -5.2M1410.5 813.5l-11 -4.4M1662.6 641.4l-8.3 -1.5M1215 940.6l-11 -2.8M1221.1 936.3l-11 -2.8M1227.3 931.9l-11 -2.7M1233.4 927.6l-11 -2.7M1239.6 923.2l-11 -2.6M1245.7 918.8l-11 -2.5M1251.9 914.5l-11 -2.5M1258 910.2l-11 -2.5M1264.2 906l-11 -2.5M1270.3 901.6l-11 -2.4M1276.5 897.2l-11 -2.4M1282.6 892.4l-11 -2.4M1288.8 886.9l-11 -2.3M1356.4 842.7l-11 -7.3M1387.2 821.7l-11 -6.1M1393.3 815.3l-11 -5.5M1204 937.8l-11 -2.6M1210.1 933.5l-11 -2.6M1216.3 929.2l-11 -2.6M1222.4 924.9l-11 -2.6M1228.6 920.6l-11 -2.6M1234.7 916.3l-11 -2.6M1240.9 912l-11 -2.6M1247 907.8l-11 -2.6M1253.2 903.5l-11 -2.5M1259.3 899.2l-11 -2.5M1265.5 894.7l-11 -2.4M1271.6 890l-11 -2.3M1277.8 884.6l-11 -2.1M1351.6 834.4l-11 -5.6M1357.7 831.4l-11 -6.3M1363.9 826.8l-11 -6.7M1370 821.3l-11 -6.8M1376.2 815.6l-11 -6.9M1192.9 935.2l-11 -2.6M1199.1 930.9l-11 -2.7M1205.2 926.6l-11 -2.8M1211.4 922.3l-11 -2.8M1217.5 918l-11 -2.9M1223.7 913.7l-11 -2.9M1229.8 909.4l-11 -2.8M1236 905.2l-11 -2.8M1242.1 901l-11 -2.7M1248.3 896.7l-11 -2.7M1254.4 892.3l-11 -2.6M1260.6 887.6l-11 -2.4M1266.7 882.5l-11 -2.1M1181.9 932.6l-11 -2.8M1188.1 928.2l-11 -2.9M1194.2 923.8l-11 -3.1M1200.4 919.4l-11 -3.2M1206.5 915.1l-11 -3.3M1212.7 910.8l-11 -3.4M1218.8 906.6l-11 -3.3M1225 902.4l-11 -3.2M1231.1 898.2l-11 -3.1M1237.3 894l-11 -3M1243.4 889.7l-11 -2.9M1249.6 885.2l-11 -2.7M1255.7 880.4l-11 -2.3M1261.9 874.9l-11 -1.8M1555.2 666.5l-3 -0.6M1560.7 662.2l-2.3 -0.5M1566.9 658.1l-2.3 -0.5M1571.7 653.7l-1 -0.2M1170.9 929.8l-11 -3.1M1177.1 925.3l-11 -3.4M1183.2 920.7l-11 -3.7M1189.4 916.2l-11 -4M1195.5 911.8l-11 -4.2M1201.7 907.5l-11 -4.3M1207.8 903.3l-11 -4.2M1214 899.2l-11 -4.1M1220.1 895.1l-11 -3.9M1226.3 891l-11 -3.7M1232.4 886.9l-11 -3.5M1238.6 882.6l-11 -3.2M1244.7 878.1l-11 -2.8M1250.9 873.1l-11 -2.2M1545.8 669.9l-10.7 -2.1M1552.2 665.9l-11 -2.3M1558.4 661.8l-11 -2.3M1564.5 657.6l-11 -2.3M1570.7 653.4l-11 -2.4M1576.8 649.2l-11 -2.4M1582 644.8l-10 -2.2M1586.8 640.4l-8.7 -1.9M1592 636l-7.7 -1.7M1597.4 632l-7 -1.6M1602.4 628.5l-5.8 -1.5M1159.9 926.8l-11 -3.5M1166.1 921.9l-11 -4.1M1172.2 917l-11 -4.6M1209.1 891.2l-11 -5.1M1215.3 887.3l-11 -4.7M1221.4 883.4l-11 -4.4M1227.6 879.4l-11 -4M1233.7 875.3l-11 -3.5M1239.9 870.9l-11 -2.9M1246 866.2l-11 -2.2M1535.1 667.8l-11 -2.4M1541.2 663.6l-11 -2.4M1547.4 659.5l-11 -2.5M1553.5 655.3l-11 -2.5M1559.7 651.1l-11 -2.5M1565.8 646.9l-11 -2.5M1572 642.6l-11 -2.4M1578.1 638.4l-11 -2.5M1584.3 634.3l-11 -2.5M1590.4 630.4l-11 -2.6M1596.6 627l-11 -2.8M1148.9 923.3l-11 -4.1M1222.7 871.8l-11 -4.4M1228.9 868l-11 -3.7M1235 864l-11 -2.9M1241.2 859.6l-11 -2.2M1247.3 855l-11 -1.6M1524.1 665.4l-11 -2.7M1530.2 661.2l-11 -2.7M1536.4 657l-11 -2.7M1542.5 652.8l-11 -2.6M1548.7 648.6l-11 -2.6M1554.8 644.4l-11 -2.5M1561 640.2l-11 -2.5M1567.1 636l-11 -2.5M1573.3 631.8l-11 -2.5M1579.4 627.8l-11 -2.6M1585.6 624.2l-11 -2.8M1591.7 621.1l-11 -3.2M1224 861.1l-11 -3.5M1230.2 857.4l-11 -2.8M1236.3 853.4l-11 -2.3M1242.5 849l-11 -2M1248.6 844.3l-11 -2M1513.1 662.7l-0.3 -0.1M1512.1 662.4l-0.3 -0.1M1519.2 658.5l-11 -3M1525.4 654.3l-11 -3M1531.5 650.2l-11 -2.9M1537.7 646l-11 -2.8M1543.8 641.9l-11 -2.7M1550 637.7l-11 -2.6M1556.1 633.5l-11 -2.6M1562.3 629.3l-11 -2.5M1568.4 625.3l-11 -2.6M1574.6 621.4l-11 -2.7M1580.7 617.9l-11 -3.1M1219.2 854.6l-11 -3.2M1225.3 851.1l-11 -2.7M1231.5 847l-11 -2.5M1237.6 842.3l-11 -2.5M1508.2 655.5l-11 -3.7M1514.4 651.4l-11 -3.5M1520.5 647.3l-11 -3.3M1526.7 643.2l-11 -3.1M1532.8 639.2l-11 -3M1539 635.1l-11 -2.8M1545.1 630.9l-11 -2.7M1551.3 626.8l-11 -2.6M1557.4 622.7l-11 -2.6M1563.6 618.7l-11 -2.7M1569.7 614.9l-11 -2.9M1575.9 611.4l-11 -3.4M1637.4 565.9l-11 -6.7M1214.3 848.4l-11 -2.9M1220.5 844.5l-11 -2.7M1226.6 839.7l-11 -2.8M1497.2 651.8l-5 -2.2M1503.4 647.9l-11 -4.4M1509.5 644l-11 -4.1M1515.7 640.1l-11 -3.8M1521.8 636.2l-11 -3.4M1528 632.3l-11 -3.1M1534.1 628.3l-11 -2.9M1540.3 624.2l-11 -2.8M1546.4 620.1l-11 -2.7M1552.6 616l-11 -2.7M1558.7 611.9l-11 -2.8M1564.9 608.1l-11 -3.1M1571 604.4l-11 -3.7M1577.2 601.1l-11 -4.6M1620.2 568.4l-11 -8.8M1203.3 845.5l-11 -2.9M1209.5 841.7l-11 -2.8M1215.6 837l-11 -3M1504.7 636.3l-11 -4.7M1510.8 632.8l-11 -4.1M1517 629.1l-11 -3.6M1523.1 625.3l-11 -3.3M1529.3 621.4l-11 -3M1535.4 617.4l-11 -2.8M1541.6 613.3l-11 -2.8M1547.7 609.1l-11 -2.9M1553.9 604.9l-11 -3.1M1560 600.7l-11 -3.5M1566.2 596.6l-11 -4.2M1572.3 592.4l-11 -5.1M1578.5 588.2l-11 -6.2M1584.6 583.6l-11 -7.4M1590.8 578.6l-11 -8.6M1596.9 572.9l-11 -9.4M1192.3 842.6l-11 -2.8M1198.4 838.9l-11 -3M1389.1 706.4l-11 -1.5M1394.9 702.7l-10.7 -1.9M1398.7 698.2l-8.3 -1.8M1403.3 693.3l-6.8 -1.8M1407.9 687.9l-5.2 -1.7M1505.9 625.5l-11 -4.4M1512.1 622.1l-11 -3.8M1518.2 618.4l-11 -3.3M1524.4 614.6l-11 -3M1530.5 610.5l-11 -2.9M1536.7 606.3l-11 -3M1542.8 601.8l-11 -3.2M1549 597.2l-11 -3.6M1555.1 592.4l-11 -4.3M1561.3 587.3l-11 -5.2M1365.8 712.7l-11 -1.3M1371.9 708.9l-11 -1.7M1378.1 705l-11 -2M1384.2 700.8l-11 -2.4M1390.4 696.3l-11 -2.9M1396.5 691.5l-11 -3.5M1507.2 615.1l-11 -3.8M1513.4 611.5l-11 -3.4M1519.5 607.6l-11 -3.2M1525.7 603.3l-11 -3.2M1531.8 598.6l-11 -3.4M1538 593.6l-11 -4M1668.8 494.3l-0.3 -0.1M1071.9 908.4l-11 9.3M1354.8 711.4l-9 -1.5M1360.9 707.2l-11 -2.1M1367.1 702.9l-11 -2.4M1373.2 698.4l-11 -2.8M1379.4 693.4l-11 -3.4M1502.4 608.2l-11 -3.8M1508.5 604.4l-11 -3.4M1514.7 600.1l-11 -3.5M1520.8 595.2l-11 -3.8M1662.3 497.5l-11 -2.5M1668.4 494.2l-11 -2.4M1671.6 489.9l-8 -1.7M1674.4 485.3l-4.7 -1M1677.2 480.5l-1.3 -0.3M1349.9 705.1l-7.3 -1.6M1356.1 700.5l-11 -2.7M1362.2 695.5l-11 -3.2M1651.3 495l-11 -3M1657.4 491.8l-11 -2.7M1663.6 488.2l-11 -2.6M1669.7 484.3l-11 -2.5M1675.9 480.3l-11 -2.4M1074.5 887l-11 11.6M1345.1 697.8l-6.5 -1.7M1646.4 489.1l-11 -2.9M1652.6 485.6l-11 -2.7M1658.7 481.8l-11 -2.5M1664.9 477.8l-11 -2.5M1069.6 881.5l-11 5.4M1635.4 486.2l-11 -3M1641.6 483l-11 -2.7M1647.7 479.3l-11 -2.6M1653.9 475.3l-11 -2.5M1064.8 873.1l-11 0.6M1630.6 480.2l-11 -2.8M1636.7 476.7l-11 -2.6M1642.9 472.9l-11 -2.5M1053.8 873.7l-11 -2.9M1059.9 864.3l-11 -2.3M1619.6 477.5l-11 -2.7M1625.7 474.1l-11 -2.6M1631.9 470.4l-11 -2.5M1042.8 870.8l-11 -5.6M1048.9 862l-11 -4.8M1608.6 474.7l-11 -2.7M1614.7 471.6l-11 -2.6M1620.9 467.9l-11 -2.5M1031.7 865.2l-11 -7.5M1597.5 472l-1.3 -0.3M1603.7 469l-11 -2.5M1609.8 465.4l-11 -2.5M1014.6 867.3l-11 -9M1598.8 462.9l-9.7 -2.1M997.4 868.9l-11 -8.5M980.3 872.1l-11 -6.2M1177.7 721.7l-10.4 -3.6M1181.9 717.9l-8.4 -2.5M1184.9 713.6l-5.2 -1.4M1187.8 709.1l-2 -0.5M1173.5 715.4l-11 -3.8M1179.7 712.2l-11 -3.2M1185.8 708.7l-11 -2.9M1191 704.5l-10 -2.4M1193.5 699.6l-6.3 -1.5M1195.9 694.6l-2.7 -0.6M941.1 869.5l-11 -5.9M1168.7 709l-11 -3.6M1174.8 705.8l-11 -3.1M1181 702.1l-11 -2.8M1187.1 698.2l-11 -2.6M1193.3 694l-11 -2.5M1198.4 689.5l-10 -2.2M1201.2 684.3l-6.7 -1.4M1203.4 678.8l-2.7 -0.5M1163.8 702.7l-11 -3.3M1170 699.3l-11 -3M1176.1 695.5l-11 -2.8M1182.3 691.5l-11 -2.6M1188.4 687.3l-11 -2.5M1194.6 682.9l-11 -2.4M1200.7 678.3l-11 -2.3M1205.9 673.1l-10 -1.9M1208.3 667l-6.3 -1M1152.8 699.4l-11 -3.7M1159 696.4l-11 -3.3M1165.1 692.8l-11 -3M1171.3 688.9l-11 -2.9M1177.4 684.8l-11 -2.7M1183.6 680.5l-11 -2.6M1189.7 676l-11 -2.4M1195.9 671.2l-11 -2.2M1202 666l-11 -1.9M902 867.7l-11 -6.7M1148 693.1l-11 -3.8M1154.1 689.8l-11 -3.5M1160.3 686l-11 -3.3M1166.4 682l-11 -3.1M1172.6 677.9l-11 -2.8M1178.7 673.6l-11 -2.6M1184.9 669l-11 -2.4M1191 664.1l-11 -2.1M1197.2 658.7l-11 -1.6M890.9 861l-11 -6.6M1143.1 686.2l-11 -4.5M1149.2 682.7l-11 -4.1M1155.4 679l-11 -3.7M1161.5 675.1l-11 -3.3M1167.7 671l-11 -3M1173.8 666.7l-11 -2.7M1180 662.1l-11 -2.3M1186.1 657.1l-11 -1.9M873.8 867.7l-11 -6M1144.4 675.3l-11 -4.9M1150.5 671.7l-11 -4.2M1156.7 668l-11 -3.6M1162.8 664l-11 -3.1M1169 659.8l-11 -2.7M1175.1 655.2l-11 -2.2M1181.3 650.2l-11 -1.8M862.8 861.8l-11 -6.5M1145.7 664.3l-11 -4.6M1151.8 660.9l-11 -3.8M1158 657.1l-11 -3.1M1164.1 652.9l-11 -2.6M1170.3 648.4l-11 -2.2M1176.4 643.4l-11 -1.8M1147 654l-11 -3.7M1153.1 650.3l-11 -3.1M1159.3 646.2l-11 -2.6M1165.4 641.7l-11 -2.3M1171.6 636.7l-11 -2M1142.1 647.2l-11 -3.6M1148.3 643.6l-11 -3M1154.4 639.4l-11 -2.7M1160.6 634.7l-11 -2.6M1255.7 559.5l-1.6 -0.5M1137.3 640.6l-11 -3.4M1143.4 636.7l-11 -3.1M1149.6 632.1l-11 -3.2M1254.1 559l-11 -3.9M1257.7 555.3l-8.4 -2.4M1260.4 551l-5 -1.2M1262.9 546.4l-1.3 -0.3M1132.4 633.7l-11 -3.4M1249.3 552.9l-11 -3.5M1255.4 549.8l-11 -2.9M1261.6 546.1l-11 -2.6M1265 541.5l-8.3 -1.8M1267.2 536.4l-4.3 -0.9M1269.7 531.4l-0.7 -0.1M1244.4 546.9l-11 -3M1250.6 543.5l-11 -2.7M1256.7 539.6l-11 -2.5M1262.9 535.5l-11 -2.4M1269 531.2l-11 -2.3M1271.8 526.2l-7.7 -1.6M1274.3 521.1l-4 -0.8M1233.4 543.9l-11 -3.1M1239.6 540.9l-11 -2.7M1245.7 537.2l-11 -2.5M1251.9 533.1l-11 -2.4M1258 528.9l-11 -2.4M1264.2 524.6l-11 -2.3M1270.3 520.3l-11 -2.3M1276.5 516l-11 -2.3M1278.9 510.9l-7.3 -1.5M1280.7 505.7l-3 -0.6M1228.5 538.2l-11 -2.7M1234.7 534.6l-11 -2.5M1240.8 530.7l-11 -2.4M1247 526.5l-11 -2.4M1253.1 522.3l-11 -2.4M1259.3 518l-11 -2.4M1265.4 513.7l-11 -2.3M1271.6 509.4l-11 -2.3M1277.7 505.1l-11 -2.3M1282.9 500.6l-10 -2.1M1285.4 495.6l-6.3 -1.3M1287.2 490.4l-2 -0.4M1217.5 535.5l-7 -1.7M1223.7 532.1l-11 -2.5M1229.8 528.3l-11 -2.4M1236 524.1l-11 -2.4M1242.1 519.9l-11 -2.4M1248.3 515.7l-11 -2.4M1254.4 511.4l-11 -2.4M1260.6 507.1l-11 -2.4M1266.7 502.9l-11 -2.4M1272.9 498.6l-11 -2.3M1279 494.3l-11 -2.3M1285.2 490l-11 -2.3M1289.3 485.3l-9 -1.9M1291.5 480.1l-5 -1.1M1293.3 474.8l-0.7 -0.1M1212.7 529.6l-5.7 -1.3M1218.8 525.8l-11 -2.4M1225 521.7l-11 -2.4M1231.1 517.5l-11 -2.4M1237.3 513.3l-11 -2.4M1243.4 509l-11 -2.4M1249.6 504.8l-11 -2.4M1255.7 500.5l-11 -2.4M1261.9 496.2l-11 -2.4M1268 492l-11 -2.4M1274.2 487.7l-11 -2.4M1280.3 483.4l-11 -2.4M1286.5 479.1l-11 -2.4M1292.6 474.7l-11 -2.3M1295.8 469.5l-8 -1.7M1297.9 463.9l-4 -0.8M1300.4 458l-0.3 -0.1M1207.8 523.4l-3 -0.7M1214 519.3l-11 -2.4M1220.1 515.1l-11 -2.4M1226.3 510.9l-11 -2.4M1232.4 506.6l-11 -2.4M1238.6 502.4l-11 -2.4M1244.7 498.1l-11 -2.4M1250.9 493.8l-11 -2.4M1257 489.6l-11 -2.4M1263.2 485.3l-11 -2.4M1269.3 481l-11 -2.4M1275.5 476.7l-11 -2.4M1281.6 472.3l-11 -2.4M1287.8 467.8l-11 -2.3M1293.9 463.1l-11 -2.2M1300.1 457.9l-11 -2.1M1203 516.9l-1.3 -0.3M1209.1 512.7l-11 -2.4M1215.3 508.5l-11 -2.4M1221.4 504.2l-11 -2.4M1227.6 500l-11 -2.4M1233.7 495.7l-11 -2.4M1239.9 491.4l-11 -2.4M1246 487.2l-11 -2.4M1252.2 482.9l-11 -2.4M1258.3 478.6l-11 -2.4M1264.5 474.3l-11 -2.4M1270.6 470l-11 -2.4M1276.8 465.5l-11 -2.3M1282.9 460.8l-11 -2.2M1289.1 455.9l-11 -2.1M1295.2 450.4l-11 -1.8M1204.3 506.1l-8 -1.8M1210.4 501.8l-11 -2.4M1216.6 497.6l-11 -2.4M1222.7 493.3l-11 -2.4M1228.9 489l-11 -2.4M1235 484.8l-11 -2.4M1241.2 480.5l-11 -2.4M1247.3 476.2l-11 -2.4M1253.5 471.9l-11 -2.4M1259.6 467.6l-11 -2.4M1265.8 463.2l-11 -2.3M1271.9 458.6l-11 -2.2M1278.1 453.8l-11 -2.1M1284.2 448.6l-11 -1.9M1199.4 499.4l-5.7 -1.2M1205.6 495.1l-11 -2.4M1211.7 490.9l-11 -2.4M1217.9 486.6l-11 -2.4M1224 482.4l-11 -2.4M1230.2 478.1l-11 -2.4M1236.3 473.8l-11 -2.4M1242.5 469.5l-11 -2.4M1248.6 465.2l-11 -2.4M1254.8 460.8l-11 -2.3M1260.9 456.4l-11 -2.3M1267.1 451.7l-11 -2.1M1273.2 446.7l-11 -1.9M1279.4 441.4l-11 -1.6M1194.6 492.7l-3.3 -0.7M1200.7 488.5l-11 -2.4M1206.9 484.2l-11 -2.4M1213 480l-11 -2.4M1219.2 475.7l-11 -2.4M1225.3 471.4l-11 -2.4M1231.5 467.1l-11 -2.4M1237.6 462.8l-11 -2.4M1243.8 458.5l-11 -2.4M1249.9 454.1l-11 -2.3M1256.1 449.5l-11 -2.2M1262.2 444.8l-11 -2M1268.4 439.8l-11 -1.8M1189.7 486.1l-1 -0.2M1195.9 481.8l-9.3 -2M1202 477.5l-11 -2.4M1208.2 473.3l-11 -2.4M1214.3 469l-11 -2.4M1220.5 464.8l-11 -2.4M1226.6 460.5l-11 -2.4M1232.8 456.2l-11 -2.4M1238.9 451.8l-11 -2.3M1245.1 447.3l-11 -2.3M1251.2 442.8l-11 -2.1M1257.4 438l-11 -2M1263.5 433l-11 -1.7M1191 475.1l-6.7 -1.5M1197.1 470.9l-11 -2.4M1203.3 466.6l-11 -2.4M1209.4 462.3l-11 -2.4M1215.6 458.1l-11 -2.4M1221.7 453.8l-11 -2.4M1227.9 449.5l-11 -2.4M1234 445.1l-11 -2.3M1240.2 440.6l-11 -2.2M1246.3 436.1l-11 -2.1M1252.5 431.3l-11 -1.9M1258.6 426.5l-11 -1.7M1264.8 421.4l-11 -1.3M1186.1 468.5l-4 -0.9M1192.3 464.2l-11 -2.4M1198.4 459.9l-11 -2.4M1204.6 455.7l-11 -2.4M1210.7 451.4l-11 -2.4M1216.9 447.1l-11 -2.4M1223 442.8l-11 -2.3M1229.2 438.4l-11 -2.3M1235.3 434l-11 -2.2M1241.5 429.4l-11 -2.1M1247.6 424.8l-11 -1.9M1253.8 420.1l-11 -1.7M1259.9 415.2l-11 -1.5M1266.1 410.4l-11 -1.2M1181.3 461.8l-1.7 -0.4M1187.4 457.5l-9.7 -2.1M1193.6 453.3l-11 -2.4M1199.7 449l-11 -2.4M1205.9 444.7l-11 -2.4M1212 440.4l-11 -2.4M1218.2 436.1l-11 -2.3M1224.3 431.7l-11 -2.3M1230.5 427.3l-11 -2.2M1236.6 422.9l-11 -2.1M1242.8 418.3l-11 -2M1248.9 413.8l-11 -1.8M1255.1 409.2l-11 -1.7M1261.2 404.6l-11 -1.5M1267.4 400.1l-11 -1.4M1273.5 395.6l-11 -1.3M1279.7 391.3l-11 -1.3M1182.6 450.9l-7 -1.5M1188.7 446.6l-11 -2.4M1194.9 442.3l-11 -2.4M1201 438.1l-11 -2.4M1207.2 433.8l-11 -2.4M1213.3 429.5l-11 -2.3M1219.5 425.1l-11 -2.3M1225.6 420.8l-11 -2.2M1231.8 416.4l-11 -2.2M1237.9 411.9l-11 -2.1M1244.1 407.5l-11 -2M1250.2 403.1l-11 -1.9M1256.4 398.7l-11 -1.8M1262.5 394.3l-11 -1.8M1268.7 390l-11 -1.8M642.7 814.3l-11 3.1M1177.7 444.2l-4 -0.9M1183.9 439.9l-11 -2.4M1190 435.7l-11 -2.4M1196.2 431.4l-11 -2.4M1202.3 427.1l-11 -2.4M1208.5 422.8l-11 -2.3M1214.6 418.5l-11 -2.3M1220.8 414.2l-11 -2.3M1226.9 409.8l-11 -2.2M1233.1 405.5l-11 -2.2M1239.2 401.2l-11 -2.1M1245.4 396.8l-11 -2.1M1251.5 392.5l-11 -2.1M1257.7 388.2l-11 -2.1M1059.3 505.2l-1.9 -0.6M1172.9 437.5l-1.3 -0.3M1179 433.3l-9.3 -2M1185.2 429l-11 -2.4M1191.3 424.7l-11 -2.4M1197.5 420.5l-11 -2.4M1203.6 416.2l-11 -2.3M1209.8 411.9l-11 -2.3M1215.9 407.6l-11 -2.3M1222.1 403.3l-11 -2.3M1228.2 399l-11 -2.2M1234.4 394.7l-11 -2.2M1240.5 390.5l-11 -2.2M1246.7 386.2l-11 -2.2M626.8 805.8l-11 2.7M1061.2 501l-8.7 -2.5M1062.8 496.3l-4.2 -1.1M1174.2 426.6l-6.3 -1.4M1180.3 422.4l-11 -2.4M1186.5 418.1l-11 -2.4M1192.6 413.9l-11 -2.4M1198.8 409.6l-11 -2.3M1204.9 405.3l-11 -2.3M1211.1 401l-11 -2.3M1217.2 396.8l-11 -2.3M1223.4 392.5l-11 -2.3M1229.5 388.2l-11 -2.3M1235.7 384l-11 -2.3M1052.5 498.5l-11 -3.3M1058.6 495.3l-11 -2.9M1064.8 491.6l-11 -2.7M1066.9 486.8l-7 -1.6M1068.7 481.8l-2.7 -0.6M1169.3 420l-3.7 -0.8M1175.5 415.7l-11 -2.4M1181.6 411.5l-11 -2.3M1187.8 407.2l-11 -2.3M1193.9 403l-11 -2.3M1200.1 398.7l-11 -2.3M1206.2 394.5l-11 -2.3M1212.4 390.2l-11 -2.3M1218.5 386l-11 -2.3M1224.7 381.7l-11 -2.3M1047.6 492.4l-11 -2.9M1053.8 489l-11 -2.7M1059.9 485.2l-11 -2.6M1066.1 481.2l-11 -2.5M1070.9 476.7l-9.7 -2.1M1072.4 471.5l-5 -1.1M1074.5 466.4l-1 -0.2M1164.5 413.4l-0.7 -0.1M1170.6 409.2l-9 -1.9M1176.8 404.9l-11 -2.3M1182.9 400.7l-11 -2.3M1189.1 396.4l-11 -2.3M1195.2 392.2l-11 -2.3M1201.4 387.9l-11 -2.3M1207.5 383.7l-11 -2.2M1213.7 379.4l-11 -2.2M1036.6 489.5l-3.9 -1M1042.7 486.3l-11 -2.7M1048.9 482.6l-11 -2.6M1055 478.7l-11 -2.5M1061.2 474.6l-11 -2.4M1067.3 470.4l-11 -2.4M1073.5 466.2l-11 -2.4M1076.3 461.2l-7.7 -1.7M1077.8 456l-3 -0.7M1165.7 402.6l-6 -1.2M1171.9 398.4l-11 -2.2M1178 394.2l-11 -2.2M1184.2 389.9l-11 -2.2M1190.3 385.7l-11 -2.2M1196.5 381.4l-11 -2.2M1202.6 377.2l-11 -2.2M1031.7 483.6l-1 -0.2M1037.9 480.1l-9.3 -2.2M1044 476.2l-11 -2.5M1050.2 472.2l-11 -2.4M1056.3 468l-11 -2.4M1062.5 463.8l-11 -2.4M1068.6 459.5l-11 -2.4M1074.8 455.3l-11 -2.4M1079.9 450.8l-10 -2.2M1081.4 445.6l-5.3 -1.2M1082.9 440.3l-0.7 -0.1M1160.9 396.2l-3.7 -0.7M1167 391.9l-11 -2.1M1173.2 387.7l-11 -2.1M1179.3 383.5l-11 -2.1M1185.5 379.3l-11 -2.1M1191.6 375l-11 -2.1M590.2 783l-11 22.6M1033 473.7l-7.3 -1.6M1039.2 469.7l-11 -2.4M1045.3 465.6l-11 -2.4M1051.5 461.4l-11 -2.4M1057.6 457.1l-11 -2.4M1063.8 452.9l-11 -2.4M1069.9 448.7l-11 -2.4M1076.1 444.4l-11 -2.4M1082.2 440.2l-11 -2.4M1084.7 435.2l-7.3 -1.6M1086.2 429.9l-2.7 -0.6M1156 389.8l-1 -0.2M1162.2 385.6l-9.7 -1.7M1168.3 381.4l-11 -1.9M1174.5 377.2l-11 -1.9M1180.6 372.9l-11 -1.9M1028.2 467.3l-5.7 -1.2M1034.3 463.2l-11 -2.4M1040.5 459l-11 -2.4M1046.6 454.7l-11 -2.4M1052.8 450.5l-11 -2.4M1058.9 446.3l-11 -2.4M1065.1 442l-11 -2.4M1071.2 437.8l-11 -2.4M1077.4 433.6l-11 -2.3M1083.5 429.4l-11 -2.3M1087.7 424.8l-9 -1.9M1089.8 419.8l-5 -1M1091.3 414.7l-0.3 -0.1M1157.3 379.5l-7 -1.1M1163.5 375.3l-11 -1.7M1169.6 371l-11 -1.7M1023.3 460.7l-3.7 -0.8M1029.5 456.6l-11 -2.4M1035.6 452.3l-11 -2.4M1041.8 448.1l-11 -2.4M1047.9 443.9l-11 -2.4M1054.1 439.7l-11 -2.4M1060.2 435.4l-11 -2.3M1066.4 431.2l-11 -2.3M1072.5 427.1l-11 -2.3M1078.7 422.9l-11 -2.2M1084.8 418.8l-11 -2.2M1091 414.6l-11 -2.1M1093.5 409.8l-7.3 -1.4M1094.9 404.9l-2.7 -0.5M1152.5 373.5l-4.3 -0.6M1158.6 369.3l-11 -1.4M1018.5 454.2l-1.7 -0.4M1024.6 449.9l-11 -2.4M1030.8 445.7l-11 -2.4M1036.9 441.5l-11 -2.4M1043.1 437.3l-11 -2.3M1049.2 433.1l-11 -2.3M1055.4 428.9l-11 -2.3M1061.5 424.8l-11 -2.2M1067.7 420.7l-11 -2.2M1073.8 416.6l-11 -2.1M1080 412.5l-11 -2M1086.1 408.5l-11 -1.9M1092.3 404.4l-11 -1.8M1096.4 400.1l-9 -1.4M1098.2 395.5l-4.7 -0.7M558.5 761.6l-11 -3M1013.6 447.6l-5.3 -1.2M1019.8 443.3l-11 -2.4M1025.9 439.1l-11 -2.3M1032.1 435l-11 -2.3M1038.2 430.8l-11 -2.3M1044.4 426.7l-11 -2.2M1050.5 422.6l-11 -2.2M1056.7 418.5l-11 -2.1M1062.8 414.5l-11 -2M1069 410.5l-11 -1.9M1075.1 406.5l-11 -1.8M1081.3 402.6l-11 -1.6M1087.4 398.7l-11 -1.5M1093.6 394.8l-11 -1.4M547.5 758.6l-11 -6.3M986.5 447.2l-1 -0.2M992.3 443l-0.7 -0.1M1008.8 441l-11 -2.3M1014.9 436.8l-11 -2.3M1021.1 432.6l-11 -2.3M1027.2 428.5l-11 -2.2M1033.4 424.4l-11 -2.2M1039.5 420.4l-11 -2.1M1045.7 416.4l-11 -2M1051.8 412.5l-11 -1.9M1058 408.6l-11 -1.7M1064.1 404.8l-11 -1.6M1070.3 401l-11 -1.4M985.5 447l-2.3 -0.5M991.6 442.8l-11 -2.4M997.8 438.6l-11 -2.3M1003.9 434.5l-11 -2.3M1010.1 430.4l-11 -2.3M1016.2 426.3l-11 -2.2M1022.4 422.3l-11 -2.1M1028.5 418.3l-11 -2M1034.7 414.4l-11 -1.9M1040.8 410.6l-11 -1.7M1047 406.8l-11 -1.6M519.4 758.1l-11 -9M980.6 440.4l-0.3 -0.1M986.8 436.3l-9.7 -2M992.9 432.2l-11 -2.3M999.1 428.1l-11 -2.2M1005.2 424.1l-11 -2.1M1011.4 420.1l-11 -2M1017.5 416.3l-11 -1.9M1023.7 412.5l-11 -1.8M1029.8 408.8l-11 -1.6M502.2 760.6l-11 -8.1M981.9 429.9l-7.3 -1.5M988 425.9l-11 -2.2M994.2 421.9l-11 -2.1M1000.3 418.1l-11 -2M1006.5 414.4l-11 -1.8M1012.6 410.7l-11 -1.6M466.6 778.7l-11 -4.5M472.7 774.5l-11 -5M478.9 769.1l-11 -5.5M485 761.9l-11 -6.2M977 423.7l-5.3 -1M983.2 419.9l-11 -2M989.3 416.1l-11 -1.9M995.5 412.5l-11 -1.7M455.6 774.2l-11 -3.3M461.7 769.4l-11 -3.7M467.9 763.5l-11 -4.5M972.2 417.8l-2.7 -0.5M978.3 414.2l-11 -1.8M444.6 771l-11 -2.9M450.7 765.7l-11 -3.5M433.6 768.1l-11 -2.9M439.7 762.2l-11 -3.7M422.6 765.2l-11 -3M411.6 762.2l-11 -3.1M400.6 759.2l-11 -3.1M707.7 536l-5.2 -1.3M710.3 530.3l-5.8 -1.5M712.9 524.5l-2.3 -0.6M704.5 528.8l-6 -2.5M819.4 449.4l-2.6 -0.7M821.8 444.4l-5.3 -1.3M824 439.4l-1.3 -0.3M816.5 443.2l-2.3 -0.6M822.6 439.1l-11 -2.7M826.5 434.5l-8.7 -2M828.9 429.6l-5 -1.1M830.8 424.6l-0.7 -0.1M817.8 432.5l-8.7 -2.1M823.9 428.5l-11 -2.5M830.1 424.4l-11 -2.5M833.2 419.8l-8 -1.8M835.4 415l-4 -0.9M812.9 425.9l-6.3 -1.5M819.1 422l-11 -2.5M825.2 418l-11 -2.4M831.4 414.1l-11 -2.4M837.2 410.3l-10.7 -2.3M839.3 405.8l-6.7 -1.5M808.1 419.5l-4.3 -1M814.2 415.5l-11 -2.5M820.4 411.7l-11 -2.4M826.5 407.9l-11 -2.4M832.7 404.4l-11 -2.4M323.5 742.5l-11 -1.7M803.2 413.1l-2.7 -0.6M809.4 409.2l-11 -2.5M815.5 405.5l-11 -2.5M821.7 402l-11 -2.5" stroke="#2d87f0" stroke-width="3.4" stroke-linecap="round" fill="none"/>
<path d="M1518.2 805.8l6.2 -6.5M1524.4 799.3l6.1 -7.2M1702.8 674.4l6.2 -1.5M1708.9 673l6.1 -2.3M1715 670.6l6.2 -3M1831.9 589.3l6.2 -5.4M1838.1 583.9l6.1 -5.2M1844.2 578.7l6.1 -4.9M1850.3 573.8l6.2 -4.5M1856.5 569.3l6.2 -4M1862.7 565.3l6.2 -3.6M1868.8 561.6l6.1 -3.4M1875 558.3l6.1 -3.2M1881.1 555.1l6.2 -3.2M1887.2 551.8l6.2 -3.4M1501.1 808.1l6.2 -6.6M1507.2 801.5l6.2 -7.3M1691.7 672.2l6.2 -1.5M1697.9 670.7l6.1 -2.4M1704 668.3l6.2 -3M1808.6 596.3l6.2 -6.3M1814.7 590l6.2 -6.4M1820.9 583.6l6.2 -6.4M1870.1 549.2l6.2 -2.3M1876.2 546.8l6.2 -2.6M1882.4 544.3l6.2 -2.9M1483.9 810.8l6.1 -6.7M1490.1 804.1l6.2 -7.4M1682.7 669.9l4.2 -1.2M1686.9 668.7l6.1 -2.5M1693 666.2l6.2 -3.1M1797.6 592.2l6.2 -8M1803.7 584.2l6.2 -8.2M1871.4 539l6.2 -1.9M1877.5 537.1l6.1 -2.5M1368.4 881l6.1 -3.5M1472.9 807l6.1 -7.5M1479.1 799.5l6.2 -8.5M1677.1 666.4l4.9 -2.2M1786.6 587.9l6.2 -10.8M1866.5 531.8l6.1 -1.4M1872.7 530.4l6.1 -2.4M1345.1 887.2l6.2 -6M1351.2 881.2l6.2 -5.9M1357.4 875.3l6.1 -4.7M1363.5 870.6l6.2 -2M1369.7 868.6l6.1 2.4M1455.8 810.5l6.2 -7.5M1461.9 803l6.1 -8.4M1775.6 583.7l6.2 -14.9M1861.7 525.6l6.1 -1.4M1867.8 524.3l6.2 -2.5M1334.1 883.2l6.2 -7.1M1340.2 876.1l6.2 -7.3M1364.8 859.6l6.2 5.6M1444.8 806.8l6.2 -8M1450.9 798.8l6.1 -9.3M1856.8 520.2l6.2 -1.7M1316.9 886.2l6.1 -7.1M1323.1 879l6.2 -8.2M1360 851.5l6.2 6.9M1433.8 803l6.2 -8.4M1845.8 515.8l6.2 -0.8M1305.9 883.1l6.1 -7.7M1312.1 875.3l6.2 -9.1M1355.1 845.1l6.1 5.6M1416.6 806.7l6.1 -7.4M1422.8 799.2l6.2 -8.8M1294.9 880.4l6.1 -8M1301.1 872.4l6.2 -9.4M1350.3 840.2l6.2 2.5M1399.5 809.1l6.2 -6.5M1405.6 802.6l6.1 -7.4M1731.6 575.6l6.2 -41M1283.9 878.2l6.1 -7.8M1290.1 870.5l6.2 -9.1M1345.4 835.3l6.1 -0.9M1382.3 809.8l6.2 -5.8M1388.5 804l6.2 -6.2M1394.6 797.8l6.1 -7.1M1720.6 574.8l6.2 -45.7M1272.9 876.5l6.1 -7.1M1279 869.3l6.2 -8.3M1334.4 830.9l6.1 -2.1M1340.5 828.8l6.2 -3.7M1346.7 825.1l6.2 -4.9M1352.8 820.1l6.1 -5.6M1359 814.5l6.2 -5.8M1365.1 808.7l6.1 -5.8M1709.5 573.1l6.2 -47.4M1268 868.6l6.2 -7.2M1274.2 861.4l6.2 -7.7M1323.4 827.7l6.1 -3.8M1329.5 824l6.2 -5.1M1335.7 818.9l6.2 -6.1M1698.5 570l6.2 -45.7M1257 867.6l6.2 -6.1M1263.2 861.5l6.2 -6.4M1269.3 855.1l6.2 -6.3M1306.2 828.7l6.2 -4.4M1312.4 824.2l6.1 -5.8M1687.5 565.8l6.2 -41M1178.4 912.2l6.1 -4.6M1184.5 907.6l6.2 -4.4M1190.7 903.2l6.2 -4.1M1196.8 899.1l6.2 -4M1203 895.1l6.2 -3.9M1252.2 861l6.2 -5.4M1258.3 855.6l6.2 -5.4M1264.5 850.2l6.2 -5.1M1270.6 845.1l6.1 -4.7M1276.8 840.4l6.2 -4.4M1282.9 836l6.2 -4.5M1289.1 831.5l6.2 -5.3M1295.2 826.1l6.2 -6.6M1155.1 917.9l6.2 -5.5M1161.2 912.4l6.2 -5.3M1167.4 907l6.1 -5M1173.5 902.1l6.2 -4.5M1179.7 897.6l6.2 -4M1185.8 893.5l6.2 -3.7M1192 889.8l6.2 -3.6M1198.1 886.2l6.1 -3.6M1204.3 882.6l6.2 -3.6M1210.4 879l6.2 -3.6M1216.6 875.4l6.2 -3.6M1253.5 850.2l6.2 -4.9M1259.6 845.3l6.1 -4.9M1265.8 840.4l6.2 -5.2M1271.9 835.3l6.2 -5.9M1278.1 829.4l6.2 -7.2M1137.9 919.2l6.2 -6.2M1144.1 913l6.1 -6.4M1150.2 906.6l6.2 -6.1M1193.3 876.4l6.2 -3.1M1199.4 873.3l6.2 -3M1205.6 870.3l6.1 -2.9M1211.7 867.4l6.2 -3M1217.9 864.4l6.1 -3.3M1254.8 839.1l6.2 -5.9M1260.9 833.2l6.2 -7.2M1267.1 826l6.1 -9.1M1126.9 914.6l6.2 -7.3M1200.7 862.1l6.2 -2.1M1206.9 860l6.1 -2.4M1213 857.6l6.2 -2.9M1243.8 836.8l6.2 -6.6M1249.9 830.2l6.2 -8.4M1195.9 855.2l6.1 -1.5M1202 853.7l6.2 -2.2M1208.2 851.4l6.2 -3.1M1232.8 834l6.2 -7.3M1238.9 826.7l6.2 -9.6M1626.4 559.2l6.1 -10.2M1191 849.9l6.2 -1.7M1197.2 848.2l6.2 -2.7M1221.8 830.9l6.2 -7.9M1227.9 823.1l6.2 -10.6M1487.1 646.6l5.3 -3.1M1492.4 643.4l6.1 -3.6M1498.5 639.9l6.2 -3.5M1603.1 566.6l6.1 -7M1609.2 559.6l6.2 -7.5M1180 846.5l6.2 -1.3M1186.1 845.2l6.2 -2.6M1204.6 834l6.1 -6.3M1210.7 827.7l6.2 -8.3M1358.3 723.1l6.1 -3.3M1364.5 719.8l6.2 -3.3M1370.6 716.5l6.2 -3.3M1376.8 713.3l6.1 -3.3M1382.9 709.9l6.2 -3.5M1481.3 637.5l6.1 -3M1487.5 634.5l6.2 -2.9M1493.6 631.6l6.2 -3M1499.8 628.6l6.1 -3.2M1567.4 581.9l6.2 -5.7M1573.6 576.2l6.1 -6.1M1579.7 570l6.2 -6.5M1082.9 903.4l6.2 -9.9M1169 843.9l6.2 -1.4M1175.1 842.5l6.2 -2.7M1181.3 839.8l6.1 -3.9M1187.4 835.9l6.2 -5.1M1193.6 830.8l6.1 -6.5M1199.7 824.2l6.2 -8.6M1353.8 719.9l5.9 -3.5M1359.6 716.4l6.2 -3.7M1402.7 686.3l6.2 -5.7M1408.8 680.6l6.1 -6.1M1415 674.5l6.2 -6.4M1488.8 623.4l6.1 -2.4M1494.9 621.1l6.2 -2.8M1501.1 618.3l6.1 -3.2M1544.1 588.1l6.2 -6M1550.3 582.1l6.1 -6.6M1556.4 575.5l6.2 -7.1M1078 900l6.1 -11.1M1158 842l6.2 -2M1164.1 840l6.2 -3.2M1170.3 836.8l6.1 -4.4M1176.4 832.4l6.2 -5.5M1182.6 826.9l6.1 -6.8M1188.7 820l6.2 -8.7M1385.5 688l6.1 -6M1391.7 681.9l6.2 -6.7M1397.8 675.2l6.1 -7.3M1483.9 615.6l6.2 -1.8M1490.1 613.8l6.1 -2.5M1496.2 611.3l6.2 -3.1M1527 589.6l6.2 -6.3M1533.1 583.3l6.2 -7.2M1650 502.6l6.2 -2.2M1656.1 500.3l6.2 -2.8M1079.3 888.2l6.1 -14.1M1147 840.4l6.2 -3M1153.1 837.5l6.2 -4.1M1159.3 833.3l6.1 -5.2M1165.4 828.1l6.2 -6.2M1171.6 821.9l6.1 -7.3M1368.4 690l6.2 -6.2M1374.5 683.8l6.1 -7.1M1380.7 676.7l6.2 -8.1M1479.1 608.4l6.1 -1.5M1485.2 606.9l6.2 -2.5M1491.4 604.4l6.2 -3.4M1497.5 601l6.1 -4.3M1503.7 596.6l6.2 -5.2M1509.8 591.4l6.1 -6.2M1516 585.2l6.2 -7.4M1639 499.3l6.2 -1.8M1645.1 497.5l6.2 -2.6M1129.8 841.8l6.1 -3.2M1136 838.6l6.2 -4.3M1142.1 834.3l6.2 -5.4M1148.3 828.9l6.1 -6.5M1351.2 692.4l6.2 -6.2M1357.4 686.2l6.2 -7.2M1363.5 678.9l6.1 -8.5M1474.2 601.9l6.2 -1.7M1480.4 600.2l6.2 -3M1486.5 597.2l6.1 -4.3M1492.7 592.9l6.2 -5.6M1498.8 587.2l6.1 -7.1M1634.1 494l6.2 -2.1M1640.3 492l6.2 -2.9M1075.8 868.8l6.1 -8.1M1106.5 847.2l6.1 -3M1112.7 844.2l6.2 -3.6M1118.8 840.6l6.1 -4.6M1125 836l6.2 -5.8M1131.1 830.2l6.2 -7.1M1340.2 688.9l6.2 -7M1346.4 681.9l6.2 -8.5M1469.4 595.6l6.2 -2.5M1475.5 593.1l6.1 -4.3M1481.7 588.8l6.2 -6.1M1487.8 582.7l6.1 -8.1M1623.1 490l6.2 -1.4M1629.3 488.6l6.2 -2.5M1070.9 863.9l6.2 -5.8M1077.1 858l6.1 -4M1083.2 854l6.2 -3.4M1089.4 850.6l6.2 -3.4M1095.5 847.2l6.1 -3.9M1101.7 843.3l6.2 -4.7M1107.8 838.5l6.1 -6M1114 832.5l6.2 -7.5M1332.1 681.6l3.3 -4.2M1464.5 588.8l6.1 -4.3M1470.7 584.5l6.2 -6.6M1618.3 485.1l6.2 -2M1624.4 483.1l6.1 -2.9M1066.1 858.1l6.1 -4.5M1072.2 853.6l6.2 -3.9M1078.4 849.7l6.2 -3.9M1084.5 845.8l6.1 -4.6M1090.7 841.2l6.2 -5.7M1096.8 835.5l6.1 -7.3M1607.3 481.5l6.2 -1.4M1613.4 480.1l6.1 -2.6M1055.1 855.8l6.1 -4.6M1061.2 851.2l6.2 -4M1067.4 847.2l6.2 -4.1M1073.5 843.1l6.1 -4.9M1079.7 838.2l6.2 -6.4M1085.8 831.8l6.1 -8.5M1600 477.4l2.4 -0.4M1602.4 477l6.1 -2.3M1037.9 857.2l6.2 -5.9M1044 851.3l6.1 -4.5M1050.2 846.8l6.2 -3.8M1056.3 843l6.2 -3.9M1062.5 839.2l6.1 -4.8M1068.6 834.3l6.2 -6.7M1596.6 472.4l1 -0.3M1020.7 857.7l6.1 -7.7M1003.6 858.2l6.2 -9.9M986.4 860.4l6.2 -12.3M969.3 865.9l6.1 -14.3M1162.2 728.4l3.9 -1.3M1166.1 727.1l6.2 -2.4M1172.2 724.7l5.2 -2.4M958.3 859.2l6.1 -18.1M1161.2 720l6.1 -2M1167.4 718l6.2 -2.6M1156.4 713.3l6.2 -1.7M1162.5 711.6l6.1 -2.6M930.1 863.6l6.2 -21.8M1151.5 707.2l6.1 -1.8M1157.7 705.4l6.2 -2.7M919.1 856.3l6.2 -25.4M1140.5 702.2l6.2 -0.8M1146.7 701.5l6.2 -2.1M1208.2 660l6.2 -7M1135.7 697.1l6.2 -1.4M1141.8 695.7l6.2 -2.6M1203.3 652.5l6.2 -7.3M1209.5 645.2l6.1 -8.6M1000.7 778.4l1 -1M1130.8 691.4l6.2 -2.2M1136.9 689.2l6.1 -3M1192.3 651.5l6.2 -6.3M1198.4 645.3l6.1 -7.2M1204.6 638.1l6.2 -8.2M879.9 854.3l6.1 -22.1M996.6 771.7l0.2 -0.3M1125.9 684.4l6.1 -2.7M1132.1 681.7l6.2 -3.1M1138.2 678.6l6.2 -3.4M1187.4 644.7l6.1 -6.1M1193.6 638.5l6.2 -6.8M1199.7 631.7l6.2 -7.5M1121.1 675.6l6.2 -2.5M1127.2 673.1l6.2 -2.7M1133.4 670.4l6.2 -2.9M1139.5 667.5l6.2 -3.1M1182.6 638l6.2 -5.9M1188.7 632.1l6.2 -6.4M1194.9 625.7l6.2 -6.8M851.8 855.3l6.2 -13.5M1128.5 661.9l6.2 -2.2M1134.7 659.8l6.1 -2.6M1140.8 657.1l6.2 -3.2M1177.7 631.3l6.2 -5.9M1183.9 625.4l6.2 -6.4M1190 619.1l6.2 -6.8M1123.7 653.8l6.1 -1.4M1129.8 652.4l6.2 -2.2M1136 650.2l6.1 -3M1166.7 629.4l6.1 -5.9M1172.9 623.5l6.2 -6.6M1179 616.9l6.2 -7.3M1125 645.7l6.1 -2M1131.1 643.7l6.2 -3.1M1155.7 626.5l6.1 -6.5M1161.9 620l6.2 -7.7M1241.8 562l6.2 -0.9M1248 561l6.1 -2M1386.1 464.9l3.3 -3M1114 640.4l6.1 -0.8M1120.1 639.6l6.2 -2.3M1126.3 637.3l6.2 -3.6M1138.6 628.9l6.2 -6.1M1144.7 622.7l6.1 -7.7M1150.9 615.1l6.2 -9.6M1237 555.8l6.1 -0.7M1243.1 555.1l6.2 -2.1M1382.1 454.8l2.4 -2.9M1109.1 635.1l6.2 -1.5M1115.3 633.6l6.2 -3.3M1121.4 630.2l6.1 -5.1M1127.6 625.2l6.2 -7M1133.7 618.1l6.1 -9.4M1232.1 550.5l6.2 -1M1238.3 549.4l6.2 -2.5M1104.3 629.6l6.2 -3.1M1110.4 626.6l6.1 -5.5M1116.6 621.1l6.2 -8.2M1227.3 545.6l6.2 -1.8M1093.2 625.6l6.2 -2.8M1099.4 622.8l6.1 -5.9M1105.5 616.9l6.2 -9.5M1216.6 541.7l5.8 -0.9M1222.4 540.8l6.1 -2.6M1088.4 619.2l6.1 -6.4M1212.7 537.2l4.9 -1.8M1082.6 610.3l0.9 -1M1301.4 444.2l6.2 -7M1307.5 437.2l6.1 -8.1M1290.4 442.9l6.2 -6.4M1296.5 436.4l6.1 -7.2M1285.5 435.5l6.1 -6.5M1291.7 429.1l6.1 -7.1M1274.5 434.4l6.1 -5.8M1280.7 428.6l6.1 -6.2M1286.8 422.4l6.2 -6.6M1269.7 427.7l6.1 -5.5M1275.8 422.2l6.2 -5.8M1282 416.4l6.2 -5.9M1288.1 410.5l6.2 -5.8M1270.9 416.2l6.2 -5.3M1277.1 410.9l6.2 -5.2M1283.2 405.7l6.1 -5.1M1289.4 400.6l6.1 -4.8M1295.5 395.7l6.2 -4.5M1272.2 405.5l6.1 -4.8M1278.4 400.8l6.1 -4.6M1284.5 396.2l6.2 -4.4M653.7 810.9l6.2 -14.2M637.8 803l6.1 -24M1049.9 515.1l4.9 -1.3M1045 508.6l6.2 -1.6M1051.2 507.1l6.2 -2.4M1057.3 504.6l3.1 -1.5M919.1 583.8l4.2 -4.9M1040.2 502.7l6.2 -1.6M1046.3 501l6.2 -2.5M611 792l6.2 -30.9M1036.3 496.8l5.2 -1.6M1041.5 495.2l6.2 -2.8M1033.7 490.6l2.9 -1.1M1031.1 483.9l0.6 -0.3M585.4 766.5l6.2 -34.1M569.5 759.2l6.1 -21.8M536.5 752.3l6.1 -14.3M508.3 749.1l6.2 -13.4M491.2 752.6l6.2 -12M474 755.8l6.1 -10.4M456.9 759l6.2 -9.1M445.9 754.3l6.2 -11.3M428.7 758.6l6.1 -9.6M417.7 754.6l6.1 -12M406.7 750.2l6.1 -14.7M389.6 756.1l6.2 -10.2M378.5 753.1l6.2 -11.3M710.6 523.9l3.8 -3.2M367.5 750.4l6.2 -11.8M696.1 522l3.6 -3.3M699.6 518.7l6.2 -5.9M705.8 512.8l6.2 -6.1M356.5 748l6.2 -11.8M345.5 746l6.2 -11.1M334.5 744.2l6.2 -10M329.7 733.9l6.1 -13.9M318.7 733.5l6.1 -11M1518.2 805.8l-11 -4.3M1524.4 799.3l-11 -5.1M1702.8 674.4l-11 -2.2M1708.9 673l-11 -2.3M1715 670.6l-11 -2.3M1831.9 589.3l-11 -5.7M1838.1 583.9l-11 -6.7M1844.2 578.7l-11 -7.5M1850.3 573.8l-11 -8.1M1856.5 569.3l-11 -8.3M1862.7 565.3l-11 -8.1M1868.8 561.6l-11 -7.6M1875 558.3l-11 -6.8M1881.1 555.1l-11 -5.9M1887.2 551.8l-11 -5M1501.1 808.1l-11 -4.1M1507.2 801.5l-11 -4.9M1691.7 672.2l-7 -1.1M1697.9 670.7l-11 -2M1704 668.3l-11 -2.1M1808.6 596.3l-11 -4.1M1814.7 590l-11 -5.8M1820.9 583.6l-11 -7.6M1870.1 549.2l-11 -8M1876.2 546.8l-11 -6.6M1882.4 544.3l-11 -5.3M1483.9 810.8l-11 -3.8M1490.1 804.1l-11 -4.5M1686.9 668.7l-8.7 -1.4M1693 666.2l-11 -2M1797.6 592.2l-11 -4.3M1803.7 584.2l-11 -7.1M1871.4 539l-11 -6.8M1877.5 537.1l-11 -5.2M1368.4 881l-11 -5.6M1472.9 807l-11 -4M1479.1 799.5l-11 -4.9M1786.6 587.9l-11 -4.2M1866.5 531.8l-11 -6.3M1872.7 530.4l-11 -4.8M1345.1 887.2l-11 -4M1351.2 881.2l-11 -5.2M1357.4 875.3l-11 -6.5M1363.5 870.6l-11 -8M1369.7 868.6l-11 -9.6M1455.8 810.5l-11 -3.7M1461.9 803l-11 -4.2M1775.6 583.7l-11 -3.6M1861.7 525.6l-11 -5.4M1867.8 524.3l-11 -4.1M1334.1 883.2l-11 -4.1M1340.2 876.1l-11 -5.2M1364.8 859.6l-11 -11.5M1444.8 806.8l-11 -3.8M1450.9 798.8l-11 -4.2M1856.8 520.2l-11 -4.3M1863 518.5l-11 -3.4M1316.9 886.2l-11 -3.1M1323.1 879l-11 -3.7M1360 851.5l-11 -11.2M1433.8 803l-11 -3.8M1845.8 515.8l-8.8 -3.5M1852 515.1l-11 -3.4M1305.9 883.1l-11 -2.7M1312.1 875.3l-11 -2.9M1355.1 845.1l-5.5 -4.4M1348.6 839.9l-4.5 -3.5M1416.6 806.7l-11 -4.1M1422.8 799.2l-11 -4M1841 511.6l-6.2 -1.9M1294.9 880.4l-11 -2.2M1301.1 872.4l-11 -1.9M1350.3 840.2l-3.6 -1.9M1399.5 809.1l-11 -5.1M1405.6 802.6l-11 -4.8M1731.6 575.6l-11 -0.8M1283.9 878.2l-11 -1.8M1290.1 870.5l-11 -1.1M1345.4 835.3l-11 -4.4M1382.3 809.8l-11 -6.9M1388.5 804l-11 -6.7M1394.6 797.8l-11 -6.4M1720.6 574.8l-11 -1.8M1272.9 876.5l-11 -1.6M1279 869.3l-11 -0.8M1334.4 830.9l-11 -3.2M1340.5 828.8l-11 -4.8M1346.7 825.1l-11 -6.2M1352.8 820.1l-11 -7.4M1359 814.5l-11 -8.3M1365.1 808.7l-11 -9.1M1709.5 573.1l-11 -3.1M1268 868.6l-11 -0.9M1274.2 861.4l-11 0.2M1323.4 827.7l-11 -3.5M1329.5 824l-11 -5.5M1335.7 818.9l-11 -7.5M1698.5 570l-11 -4.1M1257 867.6l-11 -1.5M1263.2 861.5l-11 -0.5M1269.3 855.1l-11 0.5M1306.2 828.7l-11 -2.5M1312.4 824.2l-11 -4.7M1687.5 565.8l-11 -4.4M1178.4 912.2l-11 -5.2M1184.5 907.6l-11 -5.5M1190.7 903.2l-11 -5.6M1196.8 899.1l-11 -5.6M1203 895.1l-11 -5.3M1252.2 861l-11 -1.4M1258.3 855.6l-11 -0.6M1264.5 850.2l-11 0M1270.6 845.1l-11 0.3M1276.8 840.4l-11 0M1282.9 836l-11 -0.7M1289.1 831.5l-11 -2.1M1295.2 826.1l-11 -4M1155.1 917.9l-11 -4.9M1161.2 912.4l-11 -5.8M1167.4 907l-11 -6.6M1173.5 902.1l-11 -7.1M1179.7 897.6l-11 -7.3M1185.8 893.5l-11 -7.2M1192 889.8l-11 -7M1198.1 886.2l-11 -6.6M1204.3 882.6l-11 -6.1M1210.4 879l-11 -5.7M1216.6 875.4l-11 -5.1M1253.5 850.2l-11 -1.2M1259.6 845.3l-11 -1.1M1265.8 840.4l-11 -1.4M1271.9 835.3l-11 -2.1M1278.1 829.4l-11 -3.4M1137.9 919.2l-11 -4.6M1144.1 913l-11 -5.7M1150.2 906.6l-11 -6.9M1193.3 876.4l-11 -7.5M1199.4 873.3l-11 -6.9M1205.6 870.3l-11 -6.1M1211.7 867.4l-11 -5.3M1217.9 864.4l-11 -4.4M1254.8 839.1l-11 -2.3M1260.9 833.2l-11 -3M1267.1 826l-11 -4.3M1126.9 914.6l-11 -4.8M1200.7 862.1l-11 -5.8M1206.9 860l-11 -4.8M1213 857.6l-11 -3.9M1243.8 836.8l-11 -2.8M1249.9 830.2l-11 -3.5M1195.9 855.2l-11 -4.6M1202 853.7l-11 -3.8M1208.2 851.4l-11 -3.2M1232.8 834l-11 -3.1M1238.9 826.7l-11 -3.6M1626.4 559.2l-11 -7M1191 849.9l-11 -3.3M1197.2 848.2l-11 -3M1221.8 830.9l-11 -3.2M1227.9 823.1l-11 -3.6M1383.8 712.9l-7 0.4M1387.3 710l-4.3 0M1390.8 706.5l-1.7 -0.1M1479.8 643.4l-4.6 -2.7M1492.4 643.4l-11 -5.9M1498.5 639.9l-11 -5.3M1603.1 566.6l-11 -9.8M1609.2 559.6l-11 -9.6M1180 846.5l-11 -2.6M1186.1 845.2l-11 -2.7M1204.6 834l-11 -3.2M1210.7 827.7l-11 -3.5M1358.3 723.1l-0.3 0M1364.5 719.8l-10.3 0.2M1370.6 716.5l-11 -0.1M1376.8 713.3l-11 -0.5M1382.9 709.9l-11 -1M1412.9 682.2l-4.1 -1.6M1418 675.9l-3.1 -1.4M1423.8 669.5l-2.7 -1.5M1430.1 663.3l-2.8 -1.8M1435.9 656.8l-2.5 -1.8M1481.3 637.5l-11 -8M1487.5 634.5l-11 -7.1M1493.6 631.6l-11 -6.1M1499.8 628.6l-11 -5.2M1567.4 581.9l-11 -6.4M1573.6 576.2l-11 -7.8M1579.7 570l-11 -9.2M1082.9 903.4l-11 4.9M1169 843.9l-11 -1.9M1175.1 842.5l-11 -2.5M1181.3 839.8l-11 -3M1187.4 835.9l-11 -3.5M1193.6 830.8l-11 -3.9M1199.7 824.2l-11 -4.2M1359.6 716.4l-10 -1M1402.7 686.3l-11 -4.3M1408.8 680.6l-11 -5.4M1415 674.5l-11 -6.6M1488.8 623.4l-11 -6.6M1494.9 621.1l-11 -5.4M1501.1 618.3l-11 -4.5M1544.1 588.1l-11 -4.8M1550.3 582.1l-11 -5.9M1556.4 575.5l-11 -7.4M1660.3 504.3l-10.3 -1.7M1663.1 501.5l-7 -1.1M1666 498.1l-3.7 -0.6M1078 900l-11 11.9M1158 842l-11 -1.6M1164.1 840l-11 -2.6M1170.3 836.8l-11 -3.5M1176.4 832.4l-11 -4.3M1182.6 826.9l-11 -5M1188.7 820l-11 -5.5M1385.5 688l-11 -4.2M1391.7 681.9l-11 -5.3M1397.8 675.2l-11 -6.7M1483.9 615.6l-11 -6.7M1490.1 613.8l-11 -5.4M1496.2 611.3l-11 -4.4M1527 589.6l-11 -4.4M1533.1 583.3l-11 -5.5M1650 502.6l-11 -3.3M1656.1 500.3l-11 -2.8M1079.3 888.2l-11 15.2M1147 840.4l-11 -1.8M1153.1 837.5l-11 -3.1M1159.3 833.3l-11 -4.4M1165.4 828.1l-11 -5.7M1171.6 821.9l-11 -6.9M1368.4 690l-11 -3.8M1374.5 683.8l-11 -4.9M1380.7 676.7l-11 -6.3M1479.1 608.4l-11 -6.4M1485.2 606.9l-11 -5M1491.4 604.4l-11 -4.2M1497.5 601l-11 -3.8M1503.7 596.6l-11 -3.8M1509.8 591.4l-11 -4.2M1516 585.2l-11 -5M1639 499.3l-11 -4.3M1645.1 497.5l-11 -3.5M1129.8 841.8l-11 -1.2M1136 838.6l-11 -2.5M1142.1 834.3l-11 -4.1M1148.3 828.9l-11 -5.8M1351.2 692.4l-11 -3.4M1357.4 686.2l-11 -4.3M1363.5 678.9l-11 -5.5M1474.2 601.9l-11 -5.7M1480.4 600.2l-11 -4.6M1486.5 597.2l-11 -4.1M1492.7 592.9l-11 -4.1M1498.8 587.2l-11 -4.5M1634.1 494l-11 -4M1640.3 492l-11 -3.3M1075.8 868.8l-11 4.3M1106.5 847.2l-11 0M1112.7 844.2l-11 -0.9M1118.8 840.6l-11 -2.1M1125 836l-11 -3.5M1131.1 830.2l-11 -5.2M1340.2 688.9l-5.5 -1.8M1346.4 681.9l-11 -4.6M1469.4 595.6l-11 -4.9M1475.5 593.1l-11 -4.3M1481.7 588.8l-11 -4.3M1487.8 582.7l-11 -4.8M1623.1 490l-11 -4.4M1629.3 488.6l-11 -3.5M1070.9 863.9l-11 0.5M1077.1 858l-11 0M1083.2 854l-11 -0.4M1089.4 850.6l-11 -0.9M1095.5 847.2l-11 -1.4M1101.7 843.3l-11 -2.1M1107.8 838.5l-11 -3M1114 832.5l-11 -4.3M1464.5 588.8l-11 -4.4M1470.7 584.5l-11 -4.4M1618.3 485.1l-11 -3.6M1624.4 483.1l-11 -3.1M1066.1 858.1l-11 -2.3M1072.2 853.6l-11 -2.4M1078.4 849.7l-11 -2.5M1084.5 845.8l-11 -2.7M1090.7 841.2l-11 -3M1096.8 835.5l-11 -3.7M1607.3 481.5l-5.2 -1.7M1613.4 480.1l-11 -3M1055.1 855.8l-11 -4.6M1061.2 851.2l-11 -4.4M1067.4 847.2l-11 -4.2M1073.5 843.1l-11 -3.9M1079.7 838.2l-11 -3.9M1085.8 831.8l-11 -4.2M1602.4 477l-2.6 -0.7M1037.9 857.2l-11 -7.2M1044 851.3l-11 -7M1050.2 846.8l-11 -6.7M1056.3 843l-11 -6.1M1062.5 839.2l-11 -5.3M1068.6 834.3l-11 -4.7M1020.7 857.7l-11 -9.4M1003.6 858.2l-11 -10.1M986.4 860.4l-11 -8.9M1168.7 728l-2.6 -0.9M1174.5 725.4l-2.3 -0.7M969.3 865.9l-11 -6.6M1153.8 725.5l-0.3 -0.2M1166.1 727.1l-11 -5.6M1172.2 724.7l-11 -4.6M958.3 859.2l-11 -8M1161.2 720l-11 -6M1167.4 718l-11 -4.7M1156.4 713.3l-11 -5.6M1162.5 711.6l-11 -4.4M930.1 863.6l-11 -7.3M1151.5 707.2l-11 -4.9M1157.7 705.4l-11 -3.9M1211.5 660.4l-3.3 -0.4M919.1 856.3l-11 -8.1M1140.5 702.2l-11 -5.4M1146.7 701.5l-11 -4.3M1208.2 660l-11 -1.3M1214.3 653l-11 -0.5M1135.7 697.1l-11 -4.9M1141.8 695.7l-11 -4.2M1203.3 652.5l-11 -0.9M1209.5 645.2l-11 0.1M1130.8 691.4l-11 -5.2M1136.9 689.2l-11 -4.9M1192.3 651.5l-11 -1.4M1198.4 645.3l-11 -0.6M1204.6 638.1l-11 0.4M879.9 854.3l-11 -6.2M1125.9 684.4l-11 -6.6M1132.1 681.7l-11 -6.1M1138.2 678.6l-11 -5.5M1187.4 644.7l-11 -1.2M1193.6 638.5l-11 -0.5M1199.7 631.7l-11 0.4M1121.1 675.6l-11 -8.8M1127.2 673.1l-11 -7.8M1133.4 670.4l-11 -6.7M1139.5 667.5l-11 -5.6M1182.6 638l-11 -1.3M1188.7 632.1l-11 -0.8M1194.9 625.7l-11 -0.3M851.8 855.3l-11 -8.5M1128.5 661.9l-11 -7.6M1134.7 659.8l-11 -6M1140.8 657.1l-11 -4.7M1177.7 631.3l-11 -1.9M1183.9 625.4l-11 -1.9M1190 619.1l-11 -2.2M1249.5 569.4l-2.8 -1M1123.7 653.8l-11 -7.8M1129.8 652.4l-11 -5.9M1136 650.2l-11 -4.5M1166.7 629.4l-11 -2.9M1172.9 623.5l-11 -3.5M1179 616.9l-11 -4.5M1251.9 566.7l-10.1 -4.7M1253.9 563.2l-6 -2.1M1125 645.7l-11 -5.3M1131.1 643.7l-11 -4.1M1155.7 626.5l-11 -3.8M1161.9 620l-11 -5M1241.8 562l-11 -7.2M1248 561l-11 -5.2M1389.4 461.9l-5.3 -1.3M1393 454.6l-8.4 -2.7M1114 640.4l-11 -6.1M1120.1 639.6l-11 -4.6M1126.3 637.3l-11 -3.7M1138.6 628.9l-11 -3.7M1144.7 622.7l-11 -4.6M1150.9 615.1l-11 -6.4M1237 555.8l-11 -6.5M1243.1 555.1l-11 -4.6M1109.1 635.1l-11 -4.9M1115.3 633.6l-11 -3.9M1121.4 630.2l-11 -3.7M1127.6 625.2l-11 -4.1M1133.7 618.1l-11 -5.2M1232.1 550.5l-11 -5.2M1238.3 549.4l-11 -3.8M1104.3 629.6l-11 -4M1110.4 626.6l-11 -3.7M1116.6 621.1l-11 -4.2M1227.3 545.6l-10.7 -3.8M1093.2 625.6l-1.9 -0.7M1099.4 622.8l-11 -3.6M1105.5 616.9l-11 -4M1222.4 540.8l-8.7 -2.4M1088.4 619.2l-1.3 -0.4M1302.9 451.7l-7.7 -1.3M1306.4 444.9l-5 -0.6M1301.4 444.2l-11 -1.4M1307.5 437.2l-11 -0.8M1290.4 442.9l-11 -1.5M1296.5 436.4l-11 -0.9M1285.5 435.5l-11 -1.1M1291.7 429.1l-11 -0.5M1274.5 434.4l-11 -1.4M1280.7 428.6l-11 -0.9M1286.8 422.4l-11 -0.2M1269.7 427.7l-11 -1.3M1275.8 422.2l-11 -0.8M1282 416.4l-11 -0.2M1288.1 410.5l-11 0.4M1270.9 416.2l-11 -0.9M1277.1 410.9l-11 -0.5M1283.2 405.7l-11 -0.1M1289.4 400.6l-11 0.2M1295.5 395.7l-11 0.5M1301.7 391.3l-11 0.5M1272.2 405.5l-11 -0.9M1278.4 400.8l-11 -0.7M1284.5 396.2l-11 -0.6M1290.7 391.8l-11 -0.5M653.7 810.9l-11 3.4M1051.8 520.2l-8 -4.1M1053.3 516.6l-3.5 -1.5M637.8 803l-11 2.8M1049.9 515.1l-8.6 -4.6M1055.4 513.1l-10.4 -4.5M1057.5 509.3l-6.3 -2.2M923.3 588.9l-0.6 -0.3M927.5 581.1l-4.2 -2.2M1045 508.6l-5.5 -2.8M1051.2 507.1l-11 -4.4M1057.3 504.6l-11 -3.6M1040.2 502.7l-2.1 -0.9M1046.3 501l-10.1 -3.5M611 792l-11 10.7M1041.5 495.2l-6.8 -2.1M585.4 766.5l-11 15.8M569.5 759.2l-11 2.4M536.5 752.3l-11 -7.9M508.3 749.1l-11 -8.5M491.2 752.6l-11 -7.2M474 755.8l-11 -5.9M456.9 759l-11 -4.7M445.9 754.3l-11 -5.4M428.7 758.6l-11 -4M417.7 754.6l-11 -4.3M406.7 750.2l-11 -4.4M389.6 756.1l-11 -3M378.5 753.1l-11 -2.7M710.6 523.9l-11 -5.1M715.3 517.9l-9.5 -5.1M718 510.5l-6.1 -3.8M720.8 502.6l-2.8 -1.9M367.5 750.4l-11 -2.4M699.6 518.7l-8.4 -6.7M705.8 512.8l-11 -10.6M356.5 748l-11 -2.1M345.5 746l-11 -1.8M334.5 744.2l-11 -1.7M329.7 733.9l-11 -0.4" stroke="#2a8ced" stroke-width="3.4" stroke-linecap="round" fill="none"/>
<path d="M1530.5 792.1l6.2 -8M1536.7 784.1l6.1 -8.8M1696.6 674.8l6.2 -0.4M1513.4 794.2l6.1 -8.2M1519.5 786l6.2 -9M1688.3 672.5l3.4 -0.3M1827 577.2l6.1 -6M1833.2 571.2l6.1 -5.5M1839.3 565.7l6.2 -4.7M1845.5 561l6.2 -3.9M1851.6 557.2l6.2 -3.1M1857.8 554.1l6.1 -2.6M1863.9 551.5l6.1 -2.3M1496.2 796.6l6.2 -8.4M1502.4 788.2l6.1 -9.4M1809.9 576l6.2 -8.1M1859.1 541.1l6.2 -0.9M1865.2 540.2l6.2 -1.3M1485.2 791l6.2 -9.8M1657.4 670.5l6.1 -0.2M1792.7 577.1l6.2 -11M1860.4 532.2l6.2 -0.4M1468.1 794.6l6.2 -9.7M1855.5 525.5l6.1 0.1M1346.4 868.8l6.1 -6.2M1352.5 862.6l6.2 -3.6M1358.7 859l6.1 0.6M1457.1 789.5l6.2 -11.1M1629.3 671.4l6.2 -0.9M1764.6 580.1l6.2 -20.4M1850.7 520.2l6.1 -0.1M1329.2 870.8l6.2 -8.7M1439.9 794.6l6.1 -10.1M1612.1 673.3l6.1 -1.2M1753.6 577.6l6.2 -27.2M1839.7 514.5l6.1 1.4M1318.2 866.2l6.2 -9.8M1428.9 790.4l6.1 -10.8M1592.6 676.8l2.4 -0.5M1595.3 676.1l0.3 -0.1M1596.6 675.8l0.6 -0.2M1598.2 675.3l1 -0.3M1599.8 674.8l1 -0.3M1742.6 576.2l6.2 -34.4M1836.5 511.5l4.4 0.1M1307.2 863l6.2 -10.2M1411.8 795.2l6.2 -8.9M1417.9 786.3l6.1 -11.1M1296.2 861.4l6.2 -9.9M1340.3 834.4l0.3 0.1M1341.3 834.6l4.1 0.7M1400.8 790.7l6.2 -8.7M1285.2 861l6.2 -8.9M1330.6 831.3l3.8 -0.3M1371.3 802.9l6.2 -5.7M1377.4 797.3l6.2 -5.9M1383.6 791.4l6.1 -6.6M1389.7 784.8l6.2 -7.9M1280.3 853.7l6.1 -7.4M1286.5 846.3l6.2 -6.2M1311.1 831.7l6.1 -1.5M1317.2 830.2l6.2 -2.4M1341.8 812.8l6.1 -6.6M1348 806.2l6.2 -6.6M1354.1 799.6l6.1 -6.2M1275.5 848.8l6.2 -5.6M1281.6 843.2l6.1 -4.5M1287.8 838.7l6.2 -3.5M1293.9 835.2l6.2 -3.1M1300.1 832.1l6.2 -3.4M1318.5 818.5l6.2 -7.1M1324.7 811.3l6.2 -8.1M1301.4 819.5l6.1 -8.3M1676.5 561.5l6.2 -34.4M1284.2 822.2l6.2 -9.1M1665.5 557.6l6.2 -27.1M1156.4 900.5l6.1 -5.5M1162.5 894.9l6.2 -4.7M1168.7 890.2l6.2 -4M1174.8 886.3l6.1 -3.4M1181 882.8l6.2 -3.2M1187.1 879.6l6.1 -3.2M1273.2 816.9l6.2 -11.7M1654.5 554.6l6.2 -20.4M1133.1 907.2l6.1 -7.5M1139.2 899.7l6.2 -7.2M1182.3 868.9l6.2 -2.5M1188.4 866.4l6.2 -2.3M1194.6 864.2l6.1 -2.1M1256.1 821.7l6.1 -11.1M1643.5 552l6.2 -14.8M1115.9 909.7l6.2 -8.5M1122.1 901.2l6.1 -8.9M1183.6 857.4l6.1 -1.1M1189.7 856.3l6.2 -1.1M1245.1 817.1l6.1 -13M1632.5 549l6.2 -10.7M1104.9 905.5l6.2 -9.7M1178.7 850.8l6.2 -0.2M1184.9 850.6l6.1 -0.7M1234.1 812.4l6.1 -14.6M1363.2 724l6.2 -3M1369.4 721l6.1 -2.9M1375.5 718.1l2.8 -1.2M1615.4 552.1l6.1 -7.7M1621.5 544.4l6.2 -7.8M1093.9 902.9l6.2 -10.2M1173.8 846.8l6.1 -0.3M1216.9 819.4l6.2 -11.3M1358 723.2l0.3 -0.2M1473.7 641.5l1.5 -0.8M1475.2 640.7l6.2 -3.2M1585.9 563.5l6.2 -6.7M1592 556.8l6.1 -6.8M1089 893.5l6.1 -11.5M1162.8 844.2l6.1 -0.3M1205.9 815.7l6.2 -11.6M1421.1 668.1l6.2 -6.6M1427.3 661.5l6.1 -6.5M1433.4 655l6.2 -6.1M1470.3 629.5l6.1 -2M1476.5 627.5l6.2 -1.9M1482.6 625.5l6.2 -2.1M1562.6 568.4l6.1 -7.5M1568.7 560.8l6.2 -7.8M1648.7 507.7l6.1 -1.4M1654.8 506.2l4.9 -1.4M1084.2 888.8l6.2 -12.6M1151.8 842.9l6.1 -0.9M1194.9 811.4l6.2 -11.5M1404 667.9l6.2 -7.8M1477.8 616.8l6.1 -1.2M1539.3 576.1l6.1 -8M1545.4 568.1l6.2 -8.9M1637.7 504.9l6.1 -0.8M1643.8 504.1l6.1 -1.5M1134.7 843.5l2 -0.4M1137.4 843l3.4 -0.7M1140.8 842.3l6.1 -1.9M1177.7 814.5l6.2 -8.8M1386.8 668.5l6.1 -9.1M1472.9 608.9l6.2 -0.4M1522.1 577.8l6.2 -8.7M1528.3 569.1l6.1 -10M1632.8 500l6.1 -0.7M1080.6 872.4l6.2 -10.5M1122.7 844.5l1 -0.3M1123.7 844.1l6.2 -2.4M1154.4 822.4l6.2 -7.4M1160.6 815l6.1 -8.1M1369.7 670.4l6.2 -10M1468.1 602.1l6.1 -0.2M1505 580.2l6.2 -8.7M1511.1 571.4l6.2 -10.5M1621.8 494.4l6.1 0.5M1628 495l6.2 -0.9M1081.9 860.7l6.2 -4.9M1088.1 855.8l6.1 -3.2M1094.2 852.6l6.2 -2.7M1100.4 849.9l6.2 -2.7M1137.3 823.1l6.1 -8.3M1352.5 673.4l6.1 -10.3M1463.2 596.2l6.2 -0.6M1494 574.6l6.2 -10.3M1617 489.8l6.2 0.2M1120.1 825l6.2 -9.2M1335.4 677.3l6.2 -9.9M1458.4 590.7l6.2 -1.9M1476.8 577.9l6.1 -9.2M1612.1 485.6l6.2 -0.5M1103 828.2l6.2 -9.4M1109.1 818.8l6.2 -11.6M1326.6 668.4l3.9 -7.2M1447.4 585.6l6.2 -1.2M1453.5 584.4l6.1 -4.2M1459.7 580.2l6.2 -7.2M1465.8 573l6.1 -10.4M1603.5 481.3l3.8 0.2M1092 823.3l6.2 -11.2M1442.5 580l6.1 -4.1M1448.7 575.9l6.2 -7.6M1074.8 827.7l6.1 -9.3M1080.9 818.3l6.2 -12.6M1436.3 572.9l1.4 -0.9M1437.6 572l6.2 -8M1026.9 850l6.2 -5.8M1033 844.2l6.1 -4.1M1039.2 840.1l6.2 -3.1M1045.3 837l6.2 -3.1M1051.5 833.9l6.1 -4.2M1057.6 829.7l6.2 -6.4M1063.8 823.3l6.1 -9.6M1009.7 848.3l6.1 -8.2M1040.5 826.9l6.1 -2.8M1046.6 824.1l6.2 -5.3M1052.8 818.7l6.1 -9M975.4 851.5l6.2 -15.5M1149.6 722.4l5.5 -0.9M1155.1 721.5l6.2 -1.4M947.3 851.3l6.1 -22.7M1150.2 714.1l6.1 -0.8M1145.4 707.7l6.2 -0.5M1007.2 788.8l4.2 -4M1134.4 701.3l6.2 0.9M908.1 848.2l6.2 -28.8M1003.5 784.3l3 -2.9M1006.5 781.4l6.1 -7M1129.5 696.8l6.2 0.3M1215.6 636.6l6.2 -10M1001.6 777.5l6.2 -7M1007.8 770.5l6.2 -8M1124.6 692.3l6.2 -0.8M1210.7 629.9l6.2 -9.1M996.8 771.4l6.2 -8.4M1002.9 763l6.1 -10.6M1115.7 686.5l4.1 -0.2M1119.8 686.2l6.2 -1.8M1205.9 624.3l6.2 -8M868.9 848.1l6.1 -22.4M992.1 761.9l6 -10.9M1110.2 678.9l4.8 -1.2M1114.9 677.8l6.1 -2.2M1201 618.9l6.2 -7.1M1207.2 611.8l6.1 -7.1M1116.2 665.3l6.2 -1.6M1122.4 663.7l6.2 -1.8M1196.2 612.3l6.1 -7M1202.3 605.3l6.2 -6.9M1245.4 575.3l0.3 -0.1M840.8 846.8l6.2 -12.9M1117.5 654.4l6.2 -0.6M1185.2 609.6l6.1 -7.8M1191.3 601.8l6.2 -7.8M1240.5 569.2l6.2 -0.8M1246.7 568.4l4.8 -1.1M1112.7 646l6.1 0.5M1118.8 646.6l6.2 -0.8M1168 612.4l6.2 -8.8M1174.2 603.5l6.1 -9.7M1235.7 561.7l6.1 0.3M1107.8 639.4l6.2 1M1157 605.5l6.2 -11.5M1230.8 554.8l6.2 1M1384.6 451.9l6.1 -8.7M1390.7 443.2l6.1 -10M1103 634.3l6.1 0.7M1139.9 608.7l6.2 -12.3M1226 549.4l6.1 1.1M1376.5 443.8l3.2 -4.9M1098.1 630.2l6.2 -0.5M1122.7 612.9l6.1 -11.6M1221.1 545.3l6.2 0.3M1092.2 625.6l1 0.1M1111.7 607.4l6.1 -14M1087.8 619.5l0.6 -0.3M1094.5 612.9l6.2 -10.7M1083.5 609.3l6.2 -11.5M1076.5 598.8l2.2 -4.1M1313.7 429.1l6.1 -9.1M1302.7 429.2l6.1 -8.1M1308.8 421.1l6.2 -8.7M1297.8 422l6.2 -7.6M1304 414.5l6.2 -7.8M1293 415.9l6.2 -6.7M1299.1 409.1l6.2 -6.7M1305.3 402.4l6.1 -6.3M1294.3 404.7l6.1 -5.6M1300.4 399.1l6.1 -5.2M1306.6 393.9l6.2 -4.6M664.7 806.7l6.2 -14.3M648.8 800l6.1 -23.4M1046.2 523.3l2.4 -0.3M1048.6 523l1.7 -0.4M1043.7 516l6.2 -0.9M1040.6 509l4.4 -0.4M622 785.9l6.2 -33.6M923.3 578.9l6.1 -9M1038.1 502.8l2 -0.1M910.5 574.8l1.8 -2.4M889 579.9l6.2 -5.7M553.7 742.4l6.2 -12.9M525.5 744.5l6.1 -13.9M497.3 740.6l6.2 -14.7M480.2 745.4l6.2 -13.7M463 749.9l6.1 -12.5M452 743l6.1 -15.8M434.9 748.9l6.2 -14.5M423.9 742.6l6.2 -18.7M395.7 745.9l6.1 -17.5M384.7 741.9l6.1 -19.9M373.7 738.5l6.1 -21.2M711.9 506.7l6.1 -6.1M718.1 500.6l5.9 -5.7M362.7 736.2l6.1 -21.1M689.5 508.9l5.3 -6.7M351.7 734.8l6.1 -19.5M340.7 734.2l6.1 -17M324.8 722.5l6.2 -16.6M1530.5 792.1l-11 -6.1M1536.7 784.1l-11 -7.1M1696.6 674.8l-6.3 -1.2M1689.6 673.5l-0.3 -0.1M1513.4 794.2l-11 -6M1519.5 786l-11 -7.3M1827 577.2l-11 -9.3M1833.2 571.2l-11 -10.7M1839.3 565.7l-11 -11.6M1845.5 561l-11 -11.9M1851.6 557.2l-11 -11.6M1857.8 554.1l-11 -10.8M1863.9 551.5l-11 -9.5M1496.2 796.6l-11 -5.6M1502.4 788.2l-11 -6.9M1809.9 576l-11 -9.9M1859.1 541.1l-11 -10.8M1865.2 540.2l-11 -8.7M1485.2 791l-11 -6.1M1657.4 670.5l-8.3 0M1792.7 577.1l-11 -8.3M1860.4 532.2l-11 -8.4M1468.1 794.6l-11 -5.1M1855.5 525.5l-11 -7.3M1346.4 868.8l-11 -6.7M1352.5 862.6l-11 -8.2M1358.7 859l-11 -9.8M1457.1 789.5l-11 -5.1M1629.3 671.4l-1.7 0.1M1626.9 671.5l-2.3 0.2M1764.6 580.1l-11 -2.5M1850.7 520.2l-10.4 -5.5M1329.2 870.8l-11 -4.6M1439.9 794.6l-11 -4.1M1612.1 673.3l-1 0.1M1610.1 673.5l-1 0.1M1753.6 577.6l-11 -1.3M1839.7 514.5l-0.9 -0.5M1318.2 866.2l-11 -3.2M1428.9 790.4l-11 -4.1M1742.6 576.2l-11 -0.6M1307.2 863l-11 -1.6M1411.8 795.2l-11 -4.6M1417.9 786.3l-11 -4.3M1296.2 861.4l-11 -0.3M1400.8 790.7l-11 -5.9M1285.2 861l-11 0.3M1321.9 830.7l-4.7 -0.6M1371.3 802.9l-11 -9.6M1377.4 797.3l-11 -9.6M1383.6 791.4l-11 -9.2M1389.7 784.8l-11 -8.2M1280.3 853.7l-11 1.4M1286.5 846.3l-11 2.5M1311.1 831.7l-11 0.4M1317.2 830.2l-11 -1.5M1341.8 812.8l-11 -9.5M1348 806.2l-11 -11.3M1354.1 799.6l-11 -12.8M1275.5 848.8l-11 1.4M1281.6 843.2l-11 1.8M1287.8 838.7l-11 1.7M1293.9 835.2l-11 0.8M1300.1 832.1l-11 -0.6M1318.5 818.5l-11 -7.2M1324.7 811.3l-11 -9.9M1301.4 819.5l-11 -6.4M1676.5 561.5l-11 -3.8M1284.2 822.2l-11 -5.3M1665.5 557.6l-11 -3M1156.4 900.5l-11 -8M1162.5 894.9l-11 -8.7M1168.7 890.2l-11 -9M1174.8 886.3l-11 -8.9M1181 882.8l-11 -8.5M1187.1 879.6l-11 -8.1M1273.2 816.9l-11 -6.2M1654.5 554.6l-11 -2.6M1133.1 907.2l-11 -6M1139.2 899.7l-11 -7.4M1182.3 868.9l-11 -8.3M1188.4 866.4l-11 -7.6M1194.6 864.2l-11 -6.7M1256.1 821.7l-11 -4.7M1643.5 552l-11 -3M1115.9 909.7l-11 -4.3M1122.1 901.2l-11 -5.4M1183.6 857.4l-11 -6.4M1189.7 856.3l-11 -5.5M1245.1 817.1l-11 -4.6M1632.5 549l-11 -4.6M1104.9 905.5l-11 -2.6M1178.7 850.8l-11 -4.3M1184.9 850.6l-11 -3.8M1234.1 812.4l-11 -4.3M1363.2 724l-2 0.4M1369.4 721l-11 2.1M1375.5 718.1l-11 1.8M1381 715.4l-10.3 1.2M1615.4 552.1l-11 -8.8M1621.5 544.4l-11 -7.5M1093.9 902.9l-11 0.6M1173.8 846.8l-11 -2.5M1216.9 819.4l-11 -3.8M1442.5 651.2l-2.9 -2.3M1449.3 646.5l-3.6 -3M1456.8 642.9l-4.9 -4.2M1465.5 641.2l-7.4 -6.3M1475.2 640.7l-11 -8.8M1585.9 563.5l-11 -10.5M1592 556.8l-11 -11.5M1657.8 506.1l-3 0.1M1089 893.5l-11 6.4M1162.8 844.2l-11 -1.3M1205.9 815.7l-11 -4.3M1421.1 668.1l-11 -8M1427.3 661.5l-11 -9.5M1433.4 655l-11 -10.9M1470.3 629.5l-11 -11M1476.5 627.5l-11 -9.5M1482.6 625.5l-11 -8M1562.6 568.4l-11 -9.2M1568.7 560.8l-11 -11.1M1648.7 507.7l-11 -2.7M1654.8 506.2l-11 -2.1M1084.2 888.8l-11 12.9M1151.8 842.9l-11 -0.6M1194.9 811.4l-11 -5.6M1404 667.9l-11 -8.4M1477.8 616.8l-11 -8.5M1539.3 576.1l-11 -7M1545.4 568.1l-11 -8.9M1637.7 504.9l-11 -5.3M1643.8 504.1l-11 -4.1M1130.7 843.7l-4.3 0.3M1124.3 844.1l-0.7 0M1140.8 842.3l-11 -0.6M1177.7 814.5l-11 -7.7M1386.8 668.5l-11 -8.1M1472.9 608.9l-11 -8.2M1522.1 577.8l-11 -6.3M1528.3 569.1l-11 -8.2M1632.8 500l-11 -5.6M1080.6 872.4l-11 9.2M1108.4 848.4l-0.3 0.1M1106.7 848.7l-6.3 1.2M1114.2 846.4l-0.7 0.1M1112.9 846.6l-6.3 0.7M1123.7 844.1l-11 0.1M1154.4 822.4l-11 -7.6M1160.6 815l-11 -9.3M1369.7 670.4l-11 -7.2M1468.1 602.1l-11 -7.3M1505 580.2l-11 -5.5M1511.1 571.4l-11 -7.1M1621.8 494.4l-11 -6.8M1628 495l-11 -5.1M1081.9 860.7l-11 3.2M1088.1 855.8l-11 2.3M1094.2 852.6l-11 1.5M1100.4 849.9l-11 0.7M1137.3 823.1l-11 -7.3M1352.5 673.4l-11 -6M1463.2 596.2l-11 -6.2M1494 574.6l-11 -5.9M1617 489.8l-8.9 -4.6M1120.1 825l-11 -6.2M1335.4 677.3l-5.7 -2.4M1458.4 590.7l-11 -5.1M1476.8 577.9l-11 -4.9M1612.1 485.6l-7.5 -3.1M1103 828.2l-11 -4.9M1109.1 818.8l-11 -6.7M1447.4 585.6l-2.8 -1.2M1453.5 584.4l-11 -4.3M1459.7 580.2l-11 -4.3M1465.8 573l-11 -4.8M1092 823.3l-11 -5M1442.5 580l-1.9 -0.7M1448.7 575.9l-11 -3.9M1074.8 827.7l-11 -4.4M1080.9 818.3l-11 -4.6M1437.6 572l-2.9 -0.9M1026.9 850l-11 -9.8M1033 844.2l-11 -10M1039.2 840.1l-11 -9.5M1045.3 837l-11 -8.4M1051.5 833.9l-11 -7M1057.6 829.7l-11 -5.6M1063.8 823.3l-11 -4.5M1009.7 848.3l-11 -11.9M1040.5 826.9l-11 -9.1M1046.6 824.1l-11 -6.8M1052.8 818.7l-11 -4.8M975.4 851.5l-11 -10.4M1155.1 721.5l-11 -7.5M947.3 851.3l-11 -9.5M1150.2 714.1l-11 -7.3M1145.4 707.7l-11 -6.4M1134.4 701.3l-9.6 -6.1M1217.5 644.7l-8 0.5M908.1 848.2l-11 -8.3M1006.5 781.4l-3.7 0.7M1129.5 696.8l-7.7 -4.1M1215.6 636.6l-11 1.5M1001.6 777.5l-2 0.1M1007.8 770.5l-11 0.9M1124.6 692.3l-7.4 -3.8M1210.7 629.9l-11 1.8M1002.9 763l-10.7 -0.8M1119.8 686.2l-8.2 -5.2M1205.9 624.3l-11 1.5M868.9 848.1l-11 -6.3M1114.9 677.8l-11 -9.5M1201 618.9l-11 0.2M1207.2 611.8l-11 0.5M1245.7 575.3l-0.3 0M1116.2 665.3l-11 -11.1M1122.4 663.7l-11 -9.3M1196.2 612.3l-11 -2.7M1202.3 605.3l-11 -3.5M1245.4 575.3l-11 -5.6M1247.8 572.3l-7.2 -3.1M840.8 846.8l-11 -12M1117.5 654.4l-11 -10.1M1185.2 609.6l-11 -6M1191.3 601.8l-11 -8M1240.5 569.2l-11 -8.7M1246.7 568.4l-11 -6.7M1112.7 646l-11 -9.8M1118.8 646.6l-11 -7.2M1168 612.4l-11 -6.9M1174.2 603.5l-11 -9.5M1235.7 561.7l-11 -9.9M1397.3 445.9l-6.6 -2.7M1107.8 639.4l-11 -8.4M1157 605.5l-11 -9.1M1230.8 554.8l-11 -9.3M1384.6 451.9l-4.9 -1.5M1390.7 443.2l-11 -4.2M1103 634.3l-5.2 -3.1M1139.9 608.7l-11 -7.4M1226 549.4l-5.4 -3.6M1098.1 630.2l-3.1 -1.4M1122.7 612.9l-11 -5.5M1221.1 545.3l-1.8 -0.9M1111.7 607.4l-11 -5.2M1094.5 612.9l-11 -3.6M1083.5 609.3l-2.3 -0.6M1310.2 437.4l-2.7 -0.2M1314.7 429.1l-1 0M1313.7 429.1l-11 0.1M1302.7 429.2l-11 -0.1M1308.8 421.1l-11 0.9M1297.8 422l-11 0.4M1304 414.5l-11 1.4M1293 415.9l-11 0.6M1299.1 409.1l-11 1.4M1305.3 402.4l-11 2.2M1294.3 404.7l-11 1M1300.4 399.1l-11 1.5M1306.6 393.9l-11 1.8M1312.7 389.4l-11 1.9M825.7 690.5l-1.1 -0.8M664.7 806.7l-11 4.2M1047.8 526.1l-1.3 -0.5M1049.8 523.5l-1.3 -0.5M648.8 800l-11 3M1048.6 523l-3.5 -2.1M1043.7 516l-0.6 -0.4M932 571.6l-2.5 -1.7M622 785.9l-11 6.1M923.3 578.9l-11 -6.6M887.9 585.3l-5.1 -3.2M890.8 580.9l-1.8 -1M897.2 575.4l-2.1 -1.2M889 579.9l-11 -6.5M553.7 742.4l-11 -4.4M525.5 744.5l-11 -8.8M497.3 740.6l-11 -9M480.2 745.4l-11 -8M463 749.9l-11 -6.8M452 743l-11 -8.6M434.9 748.9l-11 -6.3M423.9 742.6l-11 -7.1M395.7 745.9l-11 -4M384.7 741.9l-11 -3.3M373.7 738.5l-11 -2.3M711.9 506.7l-11 -12.6M718.1 500.6l-11 -14.7M724.1 494.4l-10.8 -16.3M727.8 484.9l-8.4 -13.7M362.7 736.2l-11 -1.4M351.7 734.8l-11 -0.7M340.7 734.2l-11 -0.3" stroke="#2690eb" stroke-width="3.4" stroke-linecap="round" fill="none"/>
<path d="M1542.8 775.3l6.2 -9.6M1690.5 673.9l6.1 0.9M1525.7 777.1l6.1 -9.7M1679.4 671.9l6.1 0.8M1508.5 778.8l6.2 -10.3M1668.4 670.9l6.1 0.4M1816 568l6.1 -7.4M1822.2 560.5l6.1 -6.4M1846.8 543.3l6.1 -1.3M1852.9 542l6.1 -0.8M1491.4 781.3l6.1 -11M1651.3 669.5l6.2 0.9M1798.9 566.1l6.2 -10.7M1854.2 531.6l6.2 0.6M1474.2 784.9l6.2 -11.3M1640.3 670.4l6.2 0M1781.7 568.8l6.2 -15.1M1849.4 523.8l6.2 1.7M1463.2 778.5l6.2 -13M1623.1 671.5l6.1 -0.1M1844.5 518.3l6.1 2M1335.4 862.2l6.1 -7.8M1341.5 854.4l6.2 -5.2M1347.7 849.2l6.1 -1.1M1353.8 848.1l6.2 3.4M1446.1 784.4l6.2 -12.3M1599.8 674.1l6.2 -0.2M1606 674l6.2 -0.7M1324.4 856.5l6.1 -9M1349 840.4l6.2 4.8M1435.1 779.6l6.2 -13.3M1313.4 852.8l6.1 -9.5M1344.1 836.4l6.1 3.8M1302.4 851.5l6.1 -9.3M1333.7 832.4l0.3 0.1M1406.9 782l6.1 -10.9M1291.3 852.1l6.1 -8.5M1297.5 843.6l6.2 -6.8M1315.9 831.1l3.4 0M1395.9 776.9l6.1 -10M1292.6 840.1l6.1 -4.4M1298.8 835.8l6.2 -2.6M1304.9 833.2l6.2 -1.5M1360.3 793.4l6.2 -5.7M1366.4 787.6l6.2 -5.4M1372.6 782.2l6.1 -5.6M1330.8 803.3l6.2 -8.4M1307.5 811.2l6.2 -9.8M1290.4 813.1l6.1 -11.2M1145.4 892.5l6.1 -6.3M1151.5 886.2l6.2 -5M1157.7 881.2l6.2 -3.9M1163.8 877.4l6.1 -3.1M1170 874.3l6.2 -2.7M1176.1 871.5l6.1 -2.6M1262.2 810.6l6.2 -14.5M1128.2 892.3l6.2 -8.4M1171.3 860.6l6.2 -1.8M1177.4 858.8l6.2 -1.4M1638.7 538.4l6.2 -10.7M1111.1 895.8l6.1 -10.2M1172.6 851l6.1 -0.2M1362.3 724.4l0.9 -0.4M1627.7 536.6l6.2 -7.6M1100 892.6l6.1 -11.2M1167.7 846.5l6.2 0.3M1223 808.1l6.1 -15.6M1598.2 550l6.2 -6.7M1604.3 543.3l6.1 -6.4M1610.5 536.9l6.2 -5.9M1647.4 510.8l6.2 -2.1M1156.7 843.9l6.2 0.4M1212 804.1l6.1 -16M1439.6 648.9l6.1 -5.5M1445.7 643.4l6.2 -4.7M1451.9 638.7l6.2 -3.8M1458 634.9l6.1 -3M1464.2 631.9l6.2 -2.4M1574.9 553l6.2 -7.8M1636.4 509.9l6.2 -1.1M1642.5 508.8l6.2 -1.2M1090.3 876.2l6.1 -11.9M1139.5 843.1l6.1 0M1145.7 843.1l6.2 -0.2M1201 799.9l6.1 -15.5M1410.1 660l6.2 -8.1M1416.3 652l6.1 -7.9M1465.5 617.9l6.2 -0.5M1471.6 617.5l6.2 -0.7M1551.6 559.2l6.1 -9.5M1631.5 505l6.2 -0.1M1085.5 874.1l6.2 -11.7M1183.9 805.8l6.2 -11M1393 659.5l6.2 -9.8M1466.8 608.3l6.1 0.5M1534.4 559.1l6.2 -11.2M1626.7 499.6l6.1 0.4M1086.8 861.9l6.1 -6.4M1092.9 855.5l6.2 -3.6M1099.1 851.9l4.9 -1.8M1104.6 849.9l0.3 -0.1M1166.7 806.8l6.2 -9M1375.8 660.4l6.1 -11.4M1461.9 600.7l6.2 1.4M1517.3 560.9l6.1 -12.4M1615.7 492.2l6.1 2.2M1143.4 814.8l6.2 -9.1M1149.6 805.7l6.1 -9.5M1358.7 663.2l6.2 -12.3M1457.1 594.7l6.1 1.5M1500.1 564.3l6.2 -12.8M1610.8 487.7l6.1 2.1M1126.3 815.8l6.1 -10.6M1341.5 667.4l6.1 -12.3M1452.2 590l6.2 0.6M1483 568.7l6.2 -12.1M1606.6 484.3l0.3 0.1M1607.7 484.6l4.4 1M1330.5 661.2l6.1 -14.4M1444.8 584.8l2.6 0.8M1472 562.6l6.2 -14M1098.1 812.1l6.2 -14M1441.1 580.2l1.4 -0.1M1454.8 568.3l6.1 -11.4M1443.8 563.9l6.1 -12.3M1069.9 813.7l6.2 -13.5M1430.1 563.8l2.7 -3.6M1432.8 560.2l6.1 -12.9M1015.9 840.2l6.2 -5.9M1022 834.3l6.1 -3.6M1028.2 830.6l6.2 -2M1034.3 828.6l6.2 -1.7M1058.9 809.7l6.2 -13.4M1424.1 552.5l3.9 -8.2M992.6 848.1l6.2 -11.7M1035.6 817.3l6.2 -3.4M1041.8 813.9l6.1 -7.5M1047.9 806.4l6.2 -12.2M1030.8 808.5l6.1 -4.9M1036.9 803.6l6.2 -10M1025.9 800.8l6.2 -7M1021.1 794.1l6.2 -8.4M1139.6 713.4l4.4 0.5M1144.1 714l6.2 0.1M1010.1 793.9l6.2 -5.1M1016.2 788.8l6.1 -8.7M1139.2 706.8l6.1 0.9M1011.4 784.8l6.2 -7.9M1017.5 776.9l6.1 -8.5M1012.7 774.4l6.2 -7.4M1018.8 767l6.2 -7.7M1123.4 694.3l0.3 0.1M1124.3 694.7l5.2 2.1M1221.8 626.6l6.2 -11.4M897.1 839.9l6.2 -31.5M1013.9 762.4l6.1 -9.6M1120.2 691.4l4.4 0.9M1216.9 620.8l6.2 -9.9M1009.1 752.4l6.2 -13.5M1212 616.2l6.2 -8.3M1218.2 607.9l6.1 -8.2M998.1 751l6.2 -14.5M1213.3 604.6l6.2 -6.8M1219.5 597.8l6.2 -6.1M857.9 841.8l6.1 -21.7M987.1 749.6l6.2 -14.7M1103.9 668.3l6.1 -1.5M1110.1 666.8l6.2 -1.5M1208.5 598.5l6.2 -6.4M1214.6 592.1l6.2 -5.5M1220.8 586.6l6.2 -4.4M1226.9 582.3l6.1 -3.2M1233.1 579.1l6.2 -2.2M1239.2 576.9l6.2 -1.6M846.9 833.9l6.1 -20M981.4 736.4l0.8 -1.8M1111.4 654.3l6.2 0M1197.5 594l6.1 -7.4M1228.2 570.6l6.1 -0.8M1234.4 569.7l6.2 -0.5M1106.5 644.3l6.2 1.8M1180.3 593.8l6.2 -10M1229.5 560.5l6.2 1.2M1396.9 433.2l6.2 -11.2M1096.8 630.9l6.2 3.4M1379.7 438.9l6.1 -11M1095.5 629.1l2.6 1M1128.9 601.3l6.2 -15.7M1219.1 544.2l2 1.1M1370.6 431.7l4.3 -8.1M1363.7 420.9l0.2 -0.3M1100.7 602.2l6.1 -16.1M1089.7 597.8l6.1 -17.7M1078.7 594.6l6.1 -18.2M1070.1 586l3.7 -10.7M1319.8 420l6.2 -10M1315 412.4l6.2 -9.1M1310.1 406.6l6.2 -7.7M1316.3 398.9l6.1 -7.2M1311.4 396.2l6.1 -5.6M1317.6 390.5l6.2 -4.7M823.4 691.4l1.2 -1.7M824.6 689.7l6.1 -11.1M659.8 796.7l6.1 -22.2M633 782l6.2 -35.4M929.5 569.9l6.2 -10.7M912.3 572.3l6.1 -10.7M606.1 774.7l6.1 -37.2M882.8 582l6.1 -2.1M895.1 574.2l6.2 -9.1M878 573.4l6.2 -5.7M884.1 567.8l6.2 -10.1M580.5 749.5l6.1 -23.8M564.7 742.6l6.2 -13.6M542.7 738l6.2 -13M514.5 735.7l6.1 -15.1M469.2 737.3l6.2 -16.5M441 734.5l6.1 -20.5M412.9 735.5l6.2 -23.7M694.8 502.2l6.2 -8.1M700.9 494.1l6.1 -8.2M335.8 719.9l6.2 -22M1542.8 775.3l-11 -8M1690.5 673.9l-11 -1.9M1525.7 777.1l-11 -8.6M1679.4 671.9l-11 -1.1M1508.5 778.8l-11 -8.5M1668.4 670.9l-11 -0.4M1816 568l-11 -12.5M1822.2 560.5l-11 -14.7M1846.8 543.3l-11 -14.9M1852.9 542l-11 -13M1491.4 781.3l-11 -7.7M1651.3 669.5l-11 0.9M1798.9 566.1l-11 -12.4M1854.2 531.6l-11 -11M1474.2 784.9l-11 -6.4M1640.3 670.4l-11 1M1781.7 568.8l-11 -9.1M1849.4 523.8l-11 -9.9M1463.2 778.5l-11 -6.3M1623.1 671.5l-11 1.8M1844.5 518.3l-5.5 -4M1335.4 862.2l-11 -5.7M1341.5 854.4l-11 -6.9M1347.7 849.2l-11 -8.1M1353.8 848.1l-11 -9.5M1446.1 784.4l-11 -4.8M1599.8 674.1l-7.1 2.3M1606 674l-9.3 1.9M1596 676l-0.7 0.1M1324.4 856.5l-11 -3.7M1349 840.4l-11 -7.1M1435.1 779.6l-11 -4.4M1313.4 852.8l-11 -1.3M1344.1 836.4l-1.9 -0.7M1341.6 835.4l-0.3 -0.1M1340.3 834.9l-0.3 -0.1M1334 832.5l-0.3 -0.1M1302.4 851.5l-11 0.6M1406.9 782l-11 -5.1M1291.3 852.1l-11 1.6M1297.5 843.6l-11 2.7M1315.9 831.1l-11 2.1M1311.8 831.6l-0.7 0M1395.9 776.9l-11 -6.8M1292.6 840.1l-11 3.1M1298.8 835.8l-11 3M1304.9 833.2l-11 2M1360.3 793.4l-11 -13.8M1366.4 787.6l-11 -14M1372.6 782.2l-11 -13.4M1330.8 803.3l-11 -12.7M1307.5 811.2l-11 -9.4M1290.4 813.1l-11 -8M1145.4 892.5l-11 -8.7M1151.5 886.2l-11 -9.6M1157.7 881.2l-11 -9.9M1163.8 877.4l-11 -9.9M1170 874.3l-11 -9.5M1176.1 871.5l-11 -8.9M1262.2 810.6l-11 -6.5M1128.2 892.3l-11 -6.7M1171.3 860.6l-11 -7.9M1177.4 858.8l-11 -7.2M1373.9 719.8l-0.3 0.1M1373 720.2l-0.6 0.2M1371.7 720.6l-8.5 3.3M1375.3 718.7l-6 2.3M1377.8 717.3l-2.3 0.8M1638.7 538.4l-11 -1.8M1111.1 895.8l-11 -3.2M1172.6 851l-11 -4.9M1627.7 536.6l-11 -5.6M1100 892.6l-11 0.9M1167.7 846.5l-11 -2.6M1223 808.1l-11 -4M1598.2 550l-11 -12.1M1604.3 543.3l-11 -12.1M1610.5 536.9l-11 -11.5M1647.4 510.8l-11 -0.9M1653.2 508.8l-10.7 0.1M1656.4 507.3l-7.7 0.4M1156.7 843.9l-4.7 -0.3M1151 843.5l-5.3 -0.4M1212 804.1l-11 -4.2M1439.6 648.9l-11 -12.1M1445.7 643.4l-11 -12.9M1451.9 638.7l-11 -13.2M1458 634.9l-11 -12.9M1464.2 631.9l-11 -12.1M1574.9 553l-11 -13M1636.4 509.9l-11 -5.4M1642.5 508.8l-11 -3.8M1090.3 876.2l-11 12M1139.5 843.1l-3.3 0.4M1136.7 843.4l-2 0.1M1201 799.9l-11 -5.1M1410.1 660l-11 -10.4M1416.3 652l-11 -12.6M1465.5 617.9l-11 -12.6M1471.6 617.5l-11 -10.4M1551.6 559.2l-11 -11.3M1631.5 505l-11 -7.1M1085.5 874.1l-11 12.8M1183.9 805.8l-11 -7.9M1393 659.5l-11 -10.5M1466.8 608.3l-11 -10.5M1534.4 559.1l-11 -10.7M1626.7 499.6l-11 -7.4M1086.8 861.9l-11 6.9M1092.9 855.5l-11 5.2M1099.1 851.9l-11 3.9M1104.9 849.7l-1 0.3M1103.3 850.2l-9.1 2.4M1166.7 806.8l-11 -10.6M1375.8 660.4l-11 -9.6M1461.9 600.7l-11 -9.6M1517.3 560.9l-11 -9.4M1615.7 492.2l-9.4 -7.7M1143.4 814.8l-11 -9.6M1149.6 805.7l-11 -11.9M1358.7 663.2l-11 -8M1457.1 594.7l-7.4 -5.5M1500.1 564.3l-11 -7.7M1610.8 487.7l-0.6 -0.4M1608.8 486.3l-0.6 -0.4M1126.3 815.8l-11 -8.6M1341.5 667.4l-11 -6.2M1452.2 590l-4.1 -2.4M1483 568.7l-11 -6.1M1330.5 661.2l-8.9 -4.9M1472 562.6l-11 -5.8M1098.1 812.1l-11 -6.5M1454.8 568.3l-11 -4.3M1443.8 563.9l-11 -3.7M1069.9 813.7l-11 -4M1432.8 560.2l-5.5 -1.4M1015.9 840.2l-11 -13.2M1022 834.3l-11 -13.7M1028.2 830.6l-11 -13.1M1034.3 828.6l-11 -11.4M1058.9 809.7l-11 -3.3M992.6 848.1l-11 -12.1M1035.6 817.3l-11 -8.4M1041.8 813.9l-11 -5.4M1047.9 806.4l-11 -2.8M1030.8 808.5l-11 -6.3M1036.9 803.6l-11 -2.8M1025.9 800.8l-11 -3.3M1021.1 794.1l-11 -0.3M1144.1 714l-11 -9.4M1016.2 788.8l-8.7 1.5M1139.2 706.8l-11 -8.4M1011.4 784.8l-6.3 1.5M1017.5 776.9l-11 4.5M1220.9 635.5l-5.3 1.2M1012.7 774.4l-11 3M1018.8 767l-11 3.4M1123.4 694.3l-0.8 -0.6M1221.8 626.6l-11 3.3M897.1 839.9l-11 -7.6M1013.9 762.4l-11 0.6M1216.9 620.8l-11 3.5M1009.1 752.4l-11 -1.4M1212 616.2l-11 2.7M1218.2 607.9l-11 3.8M998.1 751l-11 -1.4M1213.3 604.6l-11 0.7M1219.5 597.8l-11 0.7M1241.7 579.5l-8.7 -0.4M1244.2 577.3l-5 -0.4M857.9 841.8l-11 -7.9M1103.9 668.3l-6.3 -7.9M1096.7 659.3l-0.2 -0.3M1110.1 666.8l-11 -12.7M1208.5 598.5l-11 -4.5M1214.6 592.1l-11 -5.5M1220.8 586.6l-11 -6.4M1226.9 582.3l-11 -6.8M1233.1 579.1l-11 -6.8M1239.2 576.9l-11 -6.3M846.9 833.9l-11 -11M1111.4 654.3l-11 -12.8M1197.5 594l-11 -10.2M1228.2 570.6l-11 -12.7M1234.4 569.7l-11 -10.8M1106.5 644.3l-11 -13M1180.3 593.8l-11 -12.8M1229.5 560.5l-11 -13.2M1402.2 435.9l-5.4 -2.7M1396.9 433.2l-11 -5.2M1096.8 630.9l-0.3 -0.2M1379.7 438.9l-6.5 -2.2M1128.9 601.3l-11 -7.9M1100.7 602.2l-11 -4.4M1089.7 597.8l-11 -3.1M1078.7 594.6l-5 -0.8M1321.5 419.8l-1.7 0.2M1319.8 420l-11 1.2M1315 412.4l-11 2.1M1310.1 406.6l-11 2.5M1316.3 398.9l-11 3.5M1311.4 396.2l-11 2.9M1317.6 390.5l-11 3.4M1323.7 385.8l-11 3.6M835 682.4l-4.3 -3.8M809.3 691.4l-0.8 -0.6M808 690.3l-0.5 -0.4M824.6 689.7l-11 -9.1M659.8 796.7l-11 3.2M633 782l-11 3.9M881.8 594.3l-1.6 -1.7M936.9 560.3l-1.3 -1.1M884.8 589.9l-3.3 -2.9M929.5 569.9l-11 -8.3M885.9 587.9l-9.2 -7.4M912.3 572.3l-11 -7.2M606.1 774.7l-11 19.5M882.8 582l-11 -7.6M895.1 574.2l-11 -6.5M878 573.4l-11 -6.4M884.1 567.8l-11 -6.3M580.5 749.5l-11 9.7M564.7 742.6l-11 -0.2M542.7 738l-11 -7.5M514.5 735.7l-11 -9.8M469.2 737.3l-11 -10.1M441 734.5l-11 -10.6M412.9 735.5l-11 -7.2M731.3 475.3l-5.8 -9.8M734.4 465.8l-2.7 -4.6M694.8 502.2l-11 -17.3M700.9 494.1l-11 -21.1M335.8 719.9l-11 2.6" stroke="#2395e8" stroke-width="3.4" stroke-linecap="round" fill="none"/>
<path d="M1549 765.7l6.2 -10.4M1684.3 671.5l6.2 2.4M1531.8 767.3l6.2 -10.4M1673.3 669.7l6.2 2.2M1514.7 768.5l6.1 -10.9M1662.3 669.2l6.2 1.7M1828.3 554.1l6.2 -5M1834.5 549.1l6.2 -3.6M1840.6 545.5l6.2 -2.2M1497.5 770.3l6.2 -11.9M1645.1 667.3l6.1 2.2M1848.1 530.3l6.2 1.3M1480.4 773.6l6.1 -12.8M1634.1 669.4l6.1 1M1843.2 520.6l6.2 3.2M1617 670.9l6.2 0.6M1838.4 513.9l6.2 4.3M1452.2 772.1l6.2 -14.6M1593.7 674l6.1 0.2M1838.5 513.7l1.1 0.8M1330.5 847.5l6.2 -6.4M1336.7 841.1l6.1 -2.5M1342.8 838.6l6.2 1.7M1319.5 843.3l6.2 -7.1M1338 833.3l6.2 3.1M1424.1 775.2l6.2 -13.8M1308.5 842.2l6.2 -7.2M1327 830.5l6.2 1.6M1413.1 771.1l6.2 -13.6M1303.6 836.8l6.1 -4.2M1309.8 832.7l6.2 -1.6M1402 766.9l6.2 -12.6M1378.7 776.6l6.2 -6.5M1384.9 770.1l6.1 -8.3M1337 794.9l6.2 -8.1M1343.1 786.8l6.1 -7.2M1313.7 801.4l6.2 -10.9M1296.5 801.9l6.2 -13.3M1279.4 805.1l6.1 -14.7M1649.7 537.2l6.2 -14.9M1134.4 883.8l6.1 -7.2M1140.5 876.7l6.2 -5.4M1152.8 867.5l6.1 -2.7M1159 864.8l6.2 -2.2M1165.1 862.6l6.1 -2M1251.2 804.1l6.2 -17.3M1365.3 723.9l0.6 -0.3M1366.5 723.4l1.5 -0.6M1368.1 722.8l2.2 -1.1M1370.8 721.4l3.4 -1.7M1644.8 527.7l6.2 -10.1M1117.2 885.6l6.2 -9.7M1160.3 852.7l6.2 -1.1M1166.4 851.7l6.2 -0.6M1240.2 797.9l6.2 -19.6M1633.8 529l6.2 -7.1M1640 521.9l6.1 -6.3M1106.2 881.5l6.2 -10.8M1155.4 846.2l6.2 -0.1M1161.5 846.1l6.1 0.4M1616.6 531l6.2 -5.4M1622.8 525.7l6.2 -4.7M1628.9 520.9l6.1 -4.1M1635.1 516.8l6.1 -3.4M1641.2 513.5l6.2 -2.7M1095.2 882l6.2 -11.8M1144.4 843.3l6.2 0.1M1150.5 843.4l6.1 0.4M1581 545.3l6.1 -7.4M1587.2 537.9l6.2 -6.7M1624.1 512.5l6.1 -1.4M1630.2 511.1l6.2 -1.2M1133.4 843.3l6.2 -0.2M1422.4 644.1l6.2 -7.3M1428.6 636.8l6.1 -6.3M1453.2 619.8l6.2 -1.2M1459.3 618.5l6.1 -0.6M1557.7 549.7l6.2 -9.7M1625.4 504.5l6.2 0.5M1091.6 862.4l6.2 -7.9M1110.1 847.7l1.7 -0.4M1190 794.8l6.1 -14.3M1399.1 649.6l6.2 -10.2M1460.6 607l6.2 1.3M1620.5 498l6.2 1.7M1172.9 797.9l6.2 -10.3M1382 649l6.2 -12.5M1455.8 597.9l6.1 2.8M1155.7 796.3l6.2 -9.5M1364.8 650.8l6.1 -14.3M1450.9 591.1l6.2 3.6M1132.4 805.2l6.2 -11.4M1347.7 655.2l6.2 -15M1448.1 587.8l4.1 2.3M1489.1 556.6l6.2 -15.4M1115.3 807.2l6.1 -13.4M1320.6 652.3l5.1 -13.6M1461 556.8l6.2 -15.7M1087.1 805.7l6.2 -16.1M1313.6 634.8l1.1 -3.2M1449.9 551.6l6.2 -17.2M1076.1 800.2l6.2 -17.5M998.7 836.5l6.1 -9.6M1023.3 817.2l6.2 0.6M1029.5 817.8l6.1 -0.5M981.6 836.1l6.2 -14.8M1024.6 808.9l6.2 -0.3M1043.1 793.6l6.2 -14.7M1411.5 526.4l0.6 -1.6M964.4 841.1l6.2 -19.9M1019.8 802.3l6.1 -1.5M1032.1 793.8l6.2 -11.8M1014.9 797.5l6.2 -3.4M1027.2 785.7l6.1 -11.9M936.3 841.7l6.1 -27.8M1022.4 780.2l6.2 -10.4M1133.1 704.6l6.2 2.2M1023.7 768.4l6.2 -8.2M1128.2 698.4l6.1 2.9M1025 759.4l6.1 -8.3M1031.1 751.1l6.2 -9.5M1227.9 615.2l1 -2.1M1229.3 612.5l0.2 -0.3M1230.3 610.3l0.1 -0.3M1020.1 752.8l6.1 -11.8M1223 610.9l6.2 -10.3M886.1 832.3l6.2 -33.3M1224.3 599.7l6.2 -7.6M1225.6 591.7l6.2 -5.1M1231.8 586.5l6.2 -4M1237.9 582.5l2.8 -1.3M1102.9 668.5l1 -0.2M1099.1 654.1l6.2 0M1105.2 654.1l6.1 0.2M1203.6 586.6l6.2 -6.3M1209.8 580.3l6.2 -4.8M1215.9 575.5l6.1 -3.2M1222.1 572.3l6.2 -1.8M829.8 834.8l6.2 -11.9M976.1 722.5l1.3 -3.4M1186.5 583.8l6.1 -9.4M1223.4 558.9l6.2 1.6M1101.7 636.3l6.1 3.1M1163.2 594l6.1 -13M1224.7 551.8l6.1 3M1146 596.4l6.2 -15.3M1219.8 545.5l6.2 3.8M1385.9 428l6.2 -12.2M1374.9 423.7l6.2 -13M1117.8 593.4l6.2 -19.4M1363.8 420.6l6.2 -13.2M1356.4 411.3l2.6 -5.4M1326 410l6.2 -10.5M1321.1 403.3l6.2 -9M1322.4 391.8l6.1 -6.2M1328.6 385.5l6.2 -4.9M675.7 800.3l6.2 -15M670.8 792.4l6.1 -21M807.4 689.9l6.2 -9.3M644 779l6.2 -35.8M935.6 559.2l6.1 -12.2M881.6 587l3.9 1.5M918.5 561.7l6.2 -13M876.7 580.4l6.2 1.6M901.3 565.1l6.1 -12.5M601.2 758.8l6.2 -39.4M871.8 574.5l6.1 -1M890.3 557.7l6.1 -14.3M867 567l6.2 -5.6M873.1 561.4l6.2 -11M860.1 557.6l2.1 -1.8M575.7 737.4l6.2 -14.4M570.8 729l6.1 -10.2M559.8 729.5l6.1 -11.1M548.8 725l6.1 -12.2M531.7 730.5l6.2 -14.1M503.5 725.9l6.1 -17.2M486.3 731.7l6.2 -17M458.2 727.2l6.2 -20.3M553.3 626.8l1.1 -1.8M401.9 728.3l6.2 -28.8M707.1 486l6.2 -7.8M679.1 493.3l4.7 -8.4M346.8 717.2l6.2 -27.6M489 602.4l0.6 -1.2M331 705.9l6.1 -22.5M482 599.7l2.7 -5.4M1549 765.7l-11 -8.8M1684.3 671.5l-11 -1.8M1531.8 767.3l-11 -9.7M1673.3 669.7l-11 -0.6M1514.7 768.5l-11 -10.1M1662.3 669.2l-11 0.4M1828.3 554.1l-11 -16.1M1834.5 549.1l-11 -16.6M1840.6 545.5l-11 -16.2M1497.5 770.3l-11 -9.5M1645.1 667.3l-11 2M1848.1 530.3l-11 -14M1480.4 773.6l-11 -8.1M1634.1 669.4l-11 2.1M1843.2 520.6l-11 -13.2M1617 670.9l-11 3.1M1838.4 513.9l-1.7 -1.7M1835.7 511.3l-1.7 -1.7M1452.2 772.1l-11 -5.8M1330.5 847.5l-11 -4.2M1336.7 841.1l-11 -4.9M1342.8 838.6l-11 -5.8M1319.5 843.3l-11 -1.1M1338 833.3l-11 -2.8M1424.1 775.2l-11 -4.1M1308.5 842.2l-11 1.5M1327 830.5l-11 0.6M1413.1 771.1l-11 -4.2M1303.6 836.8l-11 3.3M1309.8 832.7l-11 3.1M1402 766.9l-11 -5.1M1378.7 776.6l-11 -11.9M1384.9 770.1l-11 -9.7M1337 794.9l-11 -15.5M1343.1 786.8l-11 -17.8M1313.7 801.4l-11 -12.8M1296.5 801.9l-11 -11.4M1279.4 805.1l-11 -9M1649.7 537.2l-11 1.1M1134.4 883.8l-11 -8M1140.5 876.7l-11 -8.9M1152.8 867.5l-11 -9.4M1159 864.8l-11 -9M1165.1 862.6l-11 -8.5M1251.2 804.1l-11 -6.2M1368.1 722.8l-0.6 0.2M1366.8 723.2l-1.9 0.7M1363.9 724.2l-0.6 0.2M1644.8 527.7l-11 1.3M1117.2 885.6l-11 -4.1M1160.3 852.7l-11 -6M1166.4 851.7l-11 -5.5M1240.2 797.9l-11 -5.4M1633.8 529l-11 -3.3M1640 521.9l-11 -1M1654.5 508.4l-0.3 0.1M1106.2 881.5l-11 0.6M1155.4 846.2l-11 -2.8M1161.5 846.1l-11 -2.7M1616.6 531l-11 -10.2M1622.8 525.7l-11 -8.5M1628.9 520.9l-11 -6.4M1635.1 516.8l-11 -4.3M1641.2 513.5l-11 -2.4M1095.2 882l-11 6.8M1144.4 843.3l-11 0M1150.5 843.4l-11 -0.3M1581 545.3l-11 -14.7M1587.2 537.9l-11 -16M1624.1 512.5l-11 -9.7M1630.2 511.1l-11 -7.4M1133.4 843.3l-3.7 0.6M1422.4 644.1l-11 -14.6M1428.6 636.8l-11 -16.3M1453.2 619.8l-11 -16.3M1459.3 618.5l-11 -14.6M1557.7 549.7l-11 -13.8M1625.4 504.5l-11 -9.3M1091.6 862.4l-11 9.9M1110.1 847.7l-0.6 0.2M1108.8 848.1l-0.6 0.2M1107.3 848.8l-1.9 0.7M1104.7 849.7l-5.7 2.2M1190 794.8l-11 -7.2M1399.1 649.6l-11 -13.1M1460.6 607l-11 -13.1M1620.5 498l-11 -9.8M1172.9 797.9l-11 -11.1M1382 649l-11 -12.4M1455.8 597.9l-11 -12.5M1155.7 796.3l-11 -13.8M1364.8 650.8l-11 -10.7M1450.9 591.1l-3.3 -3.3M1132.4 805.2l-11 -11.3M1347.7 655.2l-11 -8.3M1489.1 556.6l-11 -7.9M1115.3 807.2l-11 -9.1M1461 556.8l-11 -5.2M1087.1 805.7l-11 -5.5M1449.9 551.6l-11 -4.3M1076.1 800.2l-11 -3.9M998.7 836.5l-11 -15.2M1023.3 817.2l-11 -15M1029.5 817.8l-11 -11.8M981.6 836.1l-11 -14.8M1024.6 808.9l-11 -10.3M1043.1 793.6l-11 0.2M964.4 841.1l-11 -12.5M1019.8 802.3l-6.5 -4.4M1032.1 793.8l-11 0.3M1014.9 797.5l-2.2 -0.8M1027.2 785.7l-11 3.1M936.3 841.7l-11 -10.9M1022.4 780.2l-11 4.6M1133.1 704.6l-11 -11M1023.7 768.4l-11 6M1128.2 698.4l-5 -4.1M1224.3 625.6l-2.5 1.1M1025 759.4l-11 3.1M1031.1 751.1l-11 1.8M1227.9 615.2l-11 5.6M1020.1 752.8l-11 -0.4M1223 610.9l-11 5.4M886.1 832.3l-11 -6.5M1224.3 599.7l-11 4.9M1225.6 591.7l-11 0.5M1231.8 586.5l-11 0.1M1237.9 582.5l-11 -0.2M1099.1 654.1l-11 -17.7M1105.2 654.1l-11 -15.4M1203.6 586.6l-11 -12.2M1209.8 580.3l-11 -13.7M1215.9 575.5l-11 -14.4M1222.1 572.3l-11 -14M829.8 834.8l-11 -14.5M1186.5 583.8l-11 -16.4M1223.4 558.9l-11 -16.7M1407 424.5l-4 -2.5M1101.7 636.3l-8.5 -9M1092.3 626.3l-0.2 -0.2M1163.2 594l-11 -12.9M1224.7 551.8l-11 -13.1M1146 596.4l-11 -10.8M1219.8 545.5l-1.7 -1.7M1215.7 541.5l-0.2 -0.2M1385.9 428l-11 -4.3M1374.9 423.7l-11 -3.1M1117.8 593.4l-11 -7.4M1363.8 420.6l-0.3 -0.1M1326 410l-11 2.4M1321.1 403.3l-11 3.3M1322.4 391.8l-11 4.4M1328.6 385.5l-11 5M1334.7 380.6l-11 5.2M675.7 800.3l-11 6.4M842.8 671.9l-6 -6.5M670.8 792.4l-11 4.3M807.4 689.9l-0.8 -0.7M806.2 688.8l-9.8 -8.6M644 779l-11 3M875.8 606.1l-3 -3.2M880 597.3l-5.9 -7.9M942.5 547.7l-0.7 -0.7M883.5 591.9l-8.1 -9.5M935.6 559.2l-11 -10.5M881.6 587l-9.4 -10.1M871.2 575.9l-0.2 -0.2M918.5 561.7l-11 -9M876.7 580.4l-3 -2.7M901.3 565.1l-11 -7.4M601.2 758.8l-11 24.1M871.8 574.5l-2.8 -1.9M890.3 557.7l-11 -7.2M867 567l-2.4 -1.3M873.1 561.4l-11 -5.7M575.7 737.4l-11 5.2M570.8 729l-11 0.4M559.8 729.5l-11 -4.4M548.8 725l-11 -8.6M531.7 730.5l-11 -9.9M503.5 725.9l-11 -11.2M486.3 731.7l-11 -10.8M458.2 727.2l-11 -13.2M401.9 728.3l-11 -6.4M616.3 517.3l-0.1 -0.3M707.1 486l-11 -24.8M743.8 440.8l-4.6 -10.8M745.9 434.7l-0.6 -1.2M671.3 484.4l-4.7 -8.6M749.4 425.3l-2.9 -5.3M346.8 717.2l-11 2.7M627.3 500.4l-2.4 -3.6M751.2 422.3l-3.1 -4" stroke="#209ae5" stroke-width="3.4" stroke-linecap="round" fill="none"/>
<path d="M1555.2 755.3l6.1 -11.3M1538 756.9l6.2 -10.9M1667.1 666l6.1 3.8M1520.8 757.6l6.2 -11.2M1656.1 666l6.1 3.1M1805 555.4l6.1 -9.6M1841.9 529l6.1 1.3M1628 667.3l6.2 2M1787.9 553.7l6.2 -14.4M1469.4 765.5l6.1 -14.7M1610.8 669.6l6.2 1.3M1770.7 559.7l6.2 -20.5M1441.2 766.3l6.2 -15.8M1325.7 836.2l6.1 -3.4M1331.8 832.8l6.2 0.5M1430.2 761.4l6.2 -16.5M1314.7 835l6.1 -3.9M1320.8 831.1l6.2 -0.6M1419.2 757.5l6.2 -16.5M1391 761.8l6.2 -10.7M1349.3 779.6l6.2 -6M1355.4 773.6l6.2 -4.8M1361.6 768.8l6.2 -4.2M1367.7 764.7l6.2 -4.4M1373.9 760.3l6.1 -5.6M1380 754.7l6.2 -7.7M1319.8 790.5l6.2 -11.1M1302.7 788.6l6.2 -14.7M1285.5 790.5l6.2 -17.4M1660.7 534.2l6.2 -20.4M1268.4 796.1l6.1 -18.4M1366.8 723.6l6.2 -3.2M1372.9 720.4l6.2 -4M1379.1 716.4l0.3 -0.2M1146.7 871.3l6.2 -3.8M1651 517.5l6.1 -9M1123.4 875.9l6.1 -8.1M1129.5 867.8l6.2 -5.9M1148 855.8l6.2 -1.6M1154.1 854.1l6.1 -1.4M1646.1 515.6l6.1 -5.2M1652.3 510.4l6.2 -3.9M1112.3 870.6l6.1 -9.1M1149.2 846.7l6.2 -0.6M1229.2 792.5l6.2 -21.2M1101.3 870.2l6.1 -10.3M1138.2 843.7l6.2 -0.3M1218.2 788.1l6.2 -21.7M1593.3 531.2l6.1 -5.7M1599.5 525.5l6.2 -4.7M1605.6 520.8l6.2 -3.6M1611.8 517.2l6.2 -2.7M1617.9 514.5l6.1 -2M1096.5 864.3l6.2 -9.2M1121.1 844.6l6.1 -0.8M1127.2 843.8l6.2 -0.5M1207.2 784.4l6.2 -20.8M1434.7 630.5l6.2 -5M1440.9 625.5l6.2 -3.5M1447 622l6.1 -2.2M1563.9 540l6.2 -9.5M1613.1 502.8l6.1 0.8M1619.2 503.7l6.2 0.8M1097.8 854.5l6.1 -4.5M1103.9 850l6.2 -2.4M1405.3 639.4l6.1 -9.9M1454.5 605.4l6.2 1.7M1540.6 547.9l6.1 -12.1M1614.4 495.2l6.2 2.7M1179 787.6l6.1 -12.4M1523.4 548.4l6.2 -14.2M1609.5 488.2l6.2 4M1161.9 786.8l6.2 -9.6M1506.3 551.5l6.1 -15.4M1606.1 484.2l4.8 3.5M1138.6 793.8l6.1 -11.3M1121.4 793.9l6.2 -14.3M1336.7 646.8l6.2 -17.8M1478.1 548.7l6.2 -18M1104.3 798.1l6.1 -16.3M1438.9 547.3l6.2 -18.1M1065.1 796.3l6.2 -17.8M1427.9 544.2l6.2 -18.4M1004.9 826.9l6.2 -6.4M1011 820.5l6.1 -3M1017.2 817.6l6.2 -0.4M1054.1 794.2l6.2 -16.8M1418 539.3l5.1 -14.9M1018.5 806l6.1 2.9M1013.6 798.6l6.2 3.7M1038.2 782.1l6.1 -15.2M1012.1 796.3l2.8 1.2M1033.4 773.8l6.2 -13.5M1028.5 769.7l6.1 -10.6M1128.8 702.4l4.3 2.2M925.3 830.9l6.1 -33M1029.8 760.2l6.2 -7.4M1036 752.8l6.1 -6.8M1122.1 693.6l6.2 4.8M1037.3 741.6l6.2 -11.4M1122 693.2l1.3 1.1M1026.2 741l6.2 -14.6M1229.2 600.6l6.1 -10M1015.2 738.9l6.1 -16.9M1230.5 592.1l6.2 -6.6M1236.6 585.6l5.1 -4.3M875.1 825.7l6.2 -34M1004.2 736.6l6.1 -18.3M993.2 734.9l6.1 -18.6M982.2 734.5l6.1 -17.8M1094.3 654.5l4.8 -0.4M835.9 822.9l6.1 -17M1100.4 641.6l6.2 2.7M1192.6 574.4l6.2 -7.8M1217.2 557.9l6.1 1.1M971.1 709.7l1.4 -3.8M1095.5 631.3l6.2 5M1169.3 581l6.2 -13.6M1218.5 547.3l6.2 4.5M1403 422l6.2 -11.7M1092.1 626.1l4.7 4.9M1152.2 581.1l6.1 -17.7M1213.7 538.7l6.1 6.8M1392 415.7l6.2 -12.9M1135 585.6l6.2 -20M961.5 682.5l3.9 -6.2M1106.8 586l6.2 -22.7M958 672.4l2.5 -5.8M1095.8 580.1l6.2 -25.1M1348.4 405.2l5.7 -12M1338.2 405.3l4.9 -9.4M1073.8 575.3l6.2 -25.1M1332.1 399.5l6.2 -10.3M1064 571.8l4.9 -18.2M1327.3 394.3l6.1 -8.2M1333.4 386.1l6.1 -6.9M830.7 678.7l6.2 -13.2M813.6 680.6l6.1 -12.5M655 776.6l6.2 -34.9M795.7 680.9l0.7 -0.7M796.4 680.2l6.2 -9.4M880.3 592.6l2.2 0.9M941.8 547l4.1 -9M946.2 537.4l0.7 -1.5M947.3 534.9l0.1 -0.3M617.1 761.1l6.1 -40.5M875.4 582.4l6.2 4.6M924.6 548.6l6.1 -15.1M907.4 552.6l6.2 -15.6M869.2 572.8l2.6 1.6M865.6 567l1.4 0M879.3 550.5l6.1 -16M862.1 555.7l6.2 -11.6M854 545.4l3.2 -6.3M577 718.8l6.2 -9.3M566 718.4l6.2 -10.7M537.8 716.4l6.1 -13.9M520.6 720.6l6.2 -16.1M475.3 720.9l6.2 -19.9M430 723.9l6.1 -26.6M554.3 625l6.2 -12M539.7 625.8l3.6 -7.6M390.8 722l6.2 -33M529.1 620.6l3.2 -7.8M379.8 717.4l6.2 -35.3M519.7 614.4l1.6 -4M368.8 715.2l6.2 -35.1M713.2 478.2l6.1 -6.9M719.4 471.3l6.2 -5.8M725.5 465.5l6.2 -4.4M731.7 461.1l5.5 -2.7M357.8 715.3l6.2 -32.3M502.7 606.8l2.8 -6.8M683.8 484.9l6.2 -11.8M495.6 604.3l4.9 -11.4M489.6 601.2l6.2 -13.4M484.7 594.3l6.1 -14.4M1555.2 755.3l-11 -9.2M1538 756.9l-11 -10.6M1667.1 666l-11 0.1M1520.8 757.6l-11 -11.6M1656.1 666l-11 1.3M1805 555.4l-11 -16.1M1841.9 529l-11 -17M1628 667.3l-11 3.5M1787.9 553.7l-11 -14.6M1469.4 765.5l-11 -7.9M1610.8 669.6l-11 4.5M1770.7 559.7l-11 -9.3M1441.2 766.3l-11 -4.9M1325.7 836.2l-11 -1.2M1331.8 832.8l-11 -1.7M1430.2 761.4l-11 -3.9M1314.7 835l-11 1.8M1320.8 831.1l-11 1.6M1419.2 757.5l-11 -3.2M1391 761.8l-11 -7.1M1349.3 779.6l-11 -19.3M1355.4 773.6l-11 -19.7M1361.6 768.8l-11 -18.9M1367.7 764.7l-11 -16.9M1373.9 760.3l-11 -13.8M1380 754.7l-11 -10.1M1319.8 790.5l-11 -16.6M1302.7 788.6l-11 -15.6M1285.5 790.5l-11 -12.8M1660.7 534.2l-11 3M1268.4 796.1l-11 -9.3M1366.8 723.6l-3.6 0.9M1372.9 720.4l-7.9 3.6M1379.1 716.4l-11 6.4M1378.7 716.8l-0.3 0.2M1376.5 718.2l-0.3 0.2M1146.7 871.3l-11 -9.4M1651 517.5l-11 4.4M1123.4 875.9l-11 -5.3M1129.5 867.8l-11 -6.3M1148 855.8l-11 -6.9M1154.1 854.1l-11 -6.5M1646.1 515.6l-11 1.3M1652.3 510.4l-11 3.1M1656.2 507.4l-8.8 3.4M1112.3 870.6l-11 -0.4M1149.2 846.7l-11 -3M1229.2 792.5l-11 -4.4M1101.3 870.2l-11 6M1138.2 843.7l-11 0.1M1218.2 788.1l-11 -3.7M1593.3 531.2l-11 -16.6M1599.5 525.5l-11 -16.5M1605.6 520.8l-11 -15.6M1611.8 517.2l-11 -14.1M1617.9 514.5l-11 -12M1096.5 864.3l-11 9.9M1121.1 844.6l-4.9 1.3M1113 846.9l-0.3 0.1M1111.7 847.2l-1.6 0.4M1127.2 843.8l-3 0.7M1207.2 784.4l-11 -3.9M1434.7 630.5l-11 -17.4M1440.9 625.5l-11 -17.8M1447 622l-11 -17.4M1563.9 540l-11 -16.5M1613.1 502.8l-11 -14.8M1619.2 503.7l-11 -12M1097.8 854.5l-11 7.4M1103.9 850l-11 5.5M1405.3 639.4l-11 -16M1454.5 605.4l-11 -16M1540.6 547.9l-11 -13.7M1614.4 495.2l-11 -12.7M1179 787.6l-11 -10.4M1523.4 548.4l-11 -12.4M1609.5 488.2l-7.3 -8M1161.9 786.8l-11 -14.7M1506.3 551.5l-11 -10.3M1138.6 793.8l-11 -14.1M1121.4 793.9l-11 -12M1336.7 646.8l-11 -8.1M1478.1 548.7l-11 -7.6M1104.3 798.1l-11 -8.6M1438.9 547.3l-11 -3.1M1065.1 796.3l-11 -2.1M1427.9 544.2l-8.3 -1.3M1004.9 826.9l-11 -17.5M1011 820.5l-11 -18.4M1017.2 817.6l-11 -17.5M1054.1 794.2l-11 -0.6M1018.5 806l-11 -14.8M1013.6 798.6l-0.4 -0.5M1038.2 782.1l-11 3.6M1033.4 773.8l-11 6.3M1028.5 769.7l-11 7.2M1124 697.8l-8.1 -10.2M925.3 830.9l-11 -11.5M1029.8 760.2l-11 6.8M1036 752.8l-11 6.5M1122.1 693.6l-4.4 -4.7M1117.2 688.4l-1.1 -1.2M1037.3 741.6l-11 -0.6M1026.2 741l-11 -2.1M1229.2 600.6l-11 7.3M1015.2 738.9l-11 -2.4M1230.5 592.1l-11 5.7M1236.6 585.6l-11 6.1M1240.4 581.7l-8.6 4.8M1241.2 580.8l-3.3 1.7M875.1 825.7l-11 -5.7M1004.2 736.6l-11 -1.6M993.2 734.9l-11 -0.4M982.2 734.5l-1.7 0.1M1082.8 636.9l-0.2 -0.3M1082.1 635.7l-0.2 -0.3M835.9 822.9l-11 -13.7M1100.4 641.6l-11 -16.6M1192.6 574.4l-11 -19.7M1217.2 557.9l-11 -19.9M1411.8 412.3l-2.7 -2M1095.5 631.3l-9.5 -13.5M1169.3 581l-11 -17.5M1218.5 547.3l-11 -17.7M1403 422l-11 -6.3M1152.2 581.1l-11 -15.5M1213.7 538.7l-0.6 -0.8M1211.7 536l-0.2 -0.3M1392 415.7l-11 -5M1135 585.6l-11 -11.5M1106.8 586l-11 -5.9M1095.8 580.1l-11 -3.7M1330 409.1l-4 0.8M1073.8 575.3l-8 0.8M1332.1 399.5l-11 3.8M1327.3 394.3l-11 4.6M1333.4 386.1l-11 5.6M830.7 678.7l-11 -10.5M813.6 680.6l-11 -9.8M655 776.6l-11 2.4M796.4 680.2l-11 -11.1M877.9 601.8l-9.9 -15.1M880.3 592.6l-11 -16.4M941.8 547l-11 -13.4M617.1 761.1l-11 13.6M875.4 582.4l-9.3 -13.2M924.6 548.6l-11 -11.6M907.4 552.6l-11 -9.3M879.3 550.5l-11 -6.4M862.1 555.7l-4.1 -1.7M577 718.8l-11 -0.4M566 718.4l-11 -5.6M537.8 716.4l-11 -12M520.6 720.6l-11 -11.9M475.3 720.9l-11 -14M430 723.9l-11 -12.1M554.9 625.4l-0.6 -0.3M564 616.2l-3.5 -3.2M554.3 625l-11 -6.9M390.8 722l-11 -4.6M379.8 717.4l-11 -2.2M603.2 538.8l-0.2 -0.3M602.7 537.9l-0.2 -0.3M368.8 715.2l-11 0.1M613.5 522.3l-3.5 -8.7M713.2 478.2l-11 -28.2M719.4 471.3l-11 -30.8M725.5 465.5l-11 -32.2M731.7 461.1l-11 -32.4M737.4 456.9l-10.6 -29.9M740.9 448.3l-7.9 -20.6M357.8 715.3l-11 1.9M621.8 508.7l-4.3 -9.8M683.8 484.9l-11 -25.2M750.6 423.3l-8 -13.9M742.2 408.8l-0.2 -0.3M489.6 601.2l-1.8 0.9" stroke="#1c9ee3" stroke-width="3.4" stroke-linecap="round" fill="none"/>
<path d="M1561.3 744l6.2 -12.2M1678.2 667.5l6.1 4M1544.1 746.1l6.1 -11.3M1503.7 758.4l6.1 -12.4M1639 664l6.2 3.4M1811.2 545.8l6.1 -7.8M1817.3 538l6.2 -5.6M1823.5 532.4l6.2 -3.1M1829.6 529.3l6.2 -0.9M1835.8 528.4l6.1 0.6M1486.5 760.8l6.2 -13.8M1621.8 664.5l6.2 2.8M1837.1 516.4l6.2 4.2M1604.7 667.9l6.1 1.7M1832.2 507.4l6.2 6.5M1458.4 757.6l6.1 -16.5M1759.7 550.4l6.2 -27M1408.2 754.3l6.2 -15.5M1397.2 751.1l6.2 -13.4M1386.2 747l6.2 -10.3M1326 779.4l6.2 -10.4M1671.7 530.5l6.2 -27M1362.3 724.5l4.4 -0.8M1655.8 522.3l6.2 -14.1M1257.4 786.8l6.1 -22.2M1657.1 508.6l6.1 -7.2M1135.7 861.9l6.2 -3.8M1141.8 858.1l6.1 -2.3M1118.5 861.5l6.2 -6.5M1136.9 848.9l6.2 -1.2M1143.1 847.6l6.1 -0.9M1107.5 859.9l6.2 -7.6M1125.9 845.5l6.2 -1.1M1132.1 844.4l6.1 -0.7M1102.6 855l6.2 -5.9M1108.8 849.2l6.1 -3.1M1114.9 846.1l6.2 -1.5M1570 530.6l6.1 -8.6M1606.9 502.5l6.1 0.4M1196.2 780.6l6.2 -18.8M1411.4 629.5l6.2 -9M1448.3 603.9l6.1 1.4M1546.7 535.9l6.2 -12.4M1608.2 491.7l6.2 3.5M1185.2 775.2l6.2 -15.7M1388.1 636.5l6.2 -13M1449.6 593.9l6.2 4M1168 777.2l6.1 -10.2M1371 636.6l6.2 -15.8M1444.8 585.4l6.1 5.7M1144.7 782.4l6.2 -10.4M1353.8 640.2l6.1 -17.6M1495.3 541.2l6.1 -18.7M1325.7 638.7l6.2 -20.5M1467.1 541.1l6.2 -20.4M1093.2 789.6l6.1 -18.9M987.7 821.3l6.1 -11.9M1049.2 778.9l6.1 -18.2M1405.7 511.3l1.5 -5.1M953.4 828.6l6.2 -25.3M1034.7 759.1l6.2 -9.4M1042.1 746.1l6.2 -6.7M1048.3 739.3l6.2 -7.5M1235.3 590.5l6.2 -9.1M864.1 820.1l6.2 -33.2M853.1 814l6.2 -30.6M977.4 719l6.2 -19.3M1094.2 638.7l6.1 2.9M1198.8 566.6l6.2 -5.4M1204.9 561.1l6.1 -2.8M1211.1 558.3l6.2 -0.5M818.8 820.3l6.2 -11.1M1409.2 410.3l6.2 -11.5M967.2 698.8l0.5 -1.2M1381 410.7l6.2 -13.7M963.2 686.7l0.9 -1.4M1370 407.4l6.2 -13.9M965.4 676.2l6.1 -12.6M1359 405.9l6.2 -13.7M953 656.2l2.6 -9M1084.8 576.4l6.2 -25.9M1343.1 395.9l6.2 -11.6M1338.3 389.2l6.1 -9.3M1339.6 379.2l6.2 -5.2M686.7 790.4l6.2 -16.6M681.8 785.3l6.1 -20.1M836.9 665.5l6.1 -14.3M666 774.5l6.2 -32.8M819.7 668.1l6.2 -15.2M802.6 670.8l6.1 -13.3M785.2 669.3l0.3 -0.2M785.4 669.1l6.2 -8.8M872.8 603l4.4 0.3M874.1 589.5l6.1 3.1M871.1 575.6l5.6 4.8M896.4 543.4l6.2 -18.2M596.4 744.3l6.2 -35M868.3 544.1l6.1 -17.4M857.3 539.1l6.1 -18.3M581.8 723l6.1 -9.3M583.1 709.5l6.2 -10.8M841.3 516.3l0.1 -0.3M572.1 707.7l6.2 -12M555 712.8l6.2 -12M492.5 714.6l6.1 -19.7M447.2 714l6.2 -25.6M543.3 618.2l6.2 -15.3M510.9 609.9l5.6 -15.6M664.6 480.4l2 -4.6M342 697.9l6.1 -30.5M748.1 418.3l3.2 3.5M1561.3 744l-11 -9.3M1678.2 667.5l-11 -1.5M1544.1 746.1l-11 -11M1503.7 758.4l-11 -11.4M1639 664l-11 3.3M1811.2 545.8l-11 -19.2M1817.3 538l-11 -21.2M1823.5 532.4l-11 -21.9M1829.6 529.3l-11 -21.3M1835.8 528.4l-11 -19.6M1486.5 760.8l-11 -10M1621.8 664.5l-11 5.1M1837.1 516.4l-11 -16.9M1604.7 667.9l-11 6.1M1832.2 507.4l-3.1 -4.1M1828.8 502.8l-0.6 -0.8M1827.7 501.5l-0.6 -0.8M1458.4 757.6l-11 -7.1M1759.7 550.4l-11 -8.6M1408.2 754.3l-11 -3.2M1397.2 751.1l-11 -4.1M1386.2 747l-11 -6.1M1326 779.4l-11 -20.3M1671.7 530.5l-11 3.7M1655.8 522.3l-11 5.4M1257.4 786.8l-11 -8.6M1657.1 508.6l-11 7M1135.7 861.9l-11 -6.9M1141.8 858.1l-11 -7.1M1118.5 861.5l-11 -1.6M1136.9 848.9l-11 -3.4M1143.1 847.6l-11 -3.3M1107.5 859.9l-11 4.4M1125.9 845.5l-11 0.6M1132.1 844.4l-11 0.3M1102.6 855l-11 7.4M1108.8 849.2l-11 5.3M1114.9 846.1l-11 3.9M1570 530.6l-11 -19M1606.9 502.5l-11 -17.6M1196.2 780.6l-11 -5.3M1411.4 629.5l-11 -18.7M1448.3 603.9l-11 -18.7M1546.7 535.9l-11 -17M1608.2 491.7l-11 -16.1M1185.2 775.2l-11 -8.2M1388.1 636.5l-11 -15.8M1449.6 593.9l-11 -15.8M1168 777.2l-11 -14.2M1371 636.6l-11 -14M1444.8 585.4l-5.2 -6.6M1439.2 578.3l-0.6 -0.8M1437.7 576.4l-0.2 -0.3M1144.7 782.4l-11 -16.5M1353.8 640.2l-11 -11.2M1495.3 541.2l-11 -10.5M1325.7 638.7l-11 -7.1M1467.1 541.1l-11 -6.7M1093.2 789.6l-11 -6.8M987.7 821.3l-11 -19.2M1049.2 778.9l-11 3.2M953.4 828.6l-11 -14.6M1034.7 759.1l-11 9.3M1117.3 692.9l-7.5 -11.5M1042.1 746.1l-11 5M1048.3 739.3l-11 2.3M1233 603.5l-9.9 7.4M1235.3 590.5l-11 9.2M864.1 820.1l-11 -6.1M853.1 814l-11 -8.1M977.4 719l-2.3 0.7M1094.2 638.7l-11 -20.3M1198.8 566.6l-11 -22M1204.9 561.1l-11 -22.9M1211.1 558.3l-11 -22.1M1416.3 399.6l-1 -0.9M818.8 820.3l-11 -13.5M1409.2 410.3l-11 -7.4M1381 410.7l-11 -3.3M1370 407.4l-11 -1.5M965.4 676.2l-5.2 2.3M1359 405.9l-9.3 0.2M1084.8 576.4l-11 -1.2M1343.1 395.9l-11 3.6M1338.3 389.2l-11 5.1M1339.6 379.2l-11 6.3M1345.7 374l-11 6.6M686.7 790.4l-11 9.9M681.8 785.3l-11 7.1M850 660.2l-6.9 -9M836.9 665.5l-11 -12.6M666 774.5l-11 2.1M819.7 668.1l-11 -10.7M802.6 670.8l-11 -10.5M785.4 669.1l-11 -12.8M872.8 603l-11 -18.2M874.1 589.5l-11 -19.9M896.4 543.4l-11 -8.9M596.4 744.3l-11 22.3M868.3 544.1l-11 -5M857.3 539.1l-7.8 -2.4M581.8 723l-11 6M583.1 709.5l-11 -1.8M572.1 707.7l-11 -6.8M555 712.8l-11 -10.3M492.5 714.6l-11 -13.7M447.2 714l-11 -16.7M571.4 605.6l-4.8 -6M543.3 618.2l-11 -5.4M610.4 528.3l-6.6 -17.6M748.2 429.4l-7.7 -18.2M625.4 503l-6.6 -12M654 477.9l-4.5 -8.2M342 697.9l-11 8M629.8 496.1l-9.8 -13.3M634.4 489.7l-8.2 -11.1M747.3 417.3l-0.2 -0.3" stroke="#19a3e0" stroke-width="3.4" stroke-linecap="round" fill="none"/>
<path d="M1672 662l6.2 5.5M1661 660.7l6.2 5.2M1527 746.3l6.2 -11.3M1650 661.6l6.2 4.5M1509.8 746l6.2 -12.3M1632.8 659.6l6.2 4.4M1492.7 747l6.1 -14.1M1615.7 661.1l6.1 3.4M1794 539.3l6.1 -12.6M1830.9 512l6.1 4.3M1475.5 750.8l6.2 -15.8M1598.5 666l6.2 1.9M1776.9 539.1l6.2 -19.3M1447.4 750.5l6.1 -18M1748.7 541.8l6.2 -33.9M1436.4 744.9l6.1 -18.9M1403.3 737.7l6.1 -15.9M1392.3 736.7l6.2 -12.8M1332.1 769l6.1 -8.7M1362.9 746.5l6.1 -1.9M1369 744.6l6.2 -3.7M1375.2 740.9l6.2 -6.2M1381.3 734.7l6.2 -8.9M1682.7 527.1l6.2 -33.9M1308.8 774l6.2 -14.9M1370.3 730.9l6.2 -4.2M1376.5 726.7l6.2 -6.7M1365.5 725.7l6.2 -2.3M1371.6 723.4l6.1 -4.7M1377.8 718.7l6.2 -5.8M1383.9 712.9l6.2 -5.6M1390.1 707.4l0.8 -0.6M1274.5 777.7l6.2 -22.1M1662 508.2l6.1 -12.3M1246.4 778.2l6.1 -25.4M1124.6 854.9l6.2 -3.9M1130.8 851l6.1 -2.1M1113.6 852.4l6.2 -4.6M1119.8 847.8l6.1 -2.3M1576.2 521.9l6.2 -7.3M1582.3 514.6l6.1 -5.6M1588.5 508.9l6.2 -3.8M1594.6 505.2l6.2 -2.1M1600.8 503.1l6.2 -0.6M1417.6 620.5l6.1 -7.4M1423.7 613.1l6.2 -5.4M1436 604.6l6.1 -1.1M1442.2 603.5l6.2 0.5M1552.9 523.5l6.2 -11.9M1394.3 623.5l6.1 -12.6M1443.5 589.4l6.2 4.5M1529.6 534.3l6.1 -15.4M1603.4 482.5l6.2 5.7M1174.2 767l6.2 -11.9M1512.4 536.1l6.2 -17.7M1603.5 481.9l1.1 1.3M1150.9 772l6.2 -9M1127.6 779.6l6.1 -13.7M1342.8 629l6.1 -21.1M1484.3 530.7l6.1 -22.1M1110.4 781.9l6.2 -17.3M1314.6 631.6l6.2 -22.8M1456.1 534.4l6.2 -22.5M1082.2 782.8l6.1 -20.7M1306.2 616l3.6 -14.2M1445.1 529.2l6.2 -23.8M1071.2 778.6l6.1 -21.2M1434.1 525.8l6.2 -24.3M1060.2 777.4l6.1 -20.3M1423.1 524.4l6.2 -23.8M1012.3 802.2l6.2 3.8M1412.1 524.8l6.2 -22.5M970.6 821.2l6.2 -19.1M1007.5 791.1l6.1 7.4M1044.4 766.9l6.2 -16.8M1039.5 760.3l6.1 -13.2M1400 497.7l2.4 -8.5M1040.8 749.8l6.2 -7.3M1054.4 731.8l6.2 -9M1115.9 687.6l6.2 6M914.3 819.4l6.1 -38M1043.4 730.2l6.2 -13.5M1244.7 580.3l0.1 -0.3M1245.2 579.3l1.2 -2.4M1032.4 726.5l6.2 -17.4M1241.5 581.4l6.2 -7.5M1021.4 722l6.2 -20.3M1010.4 718.3l6.2 -21.9M999.4 716.4l6.2 -22.2M988.4 716.7l6.2 -21.3M842.1 805.9l6.2 -26.2M1088.1 636.4l6.2 2.3M824.9 809.2l6.1 -13.8M972.5 706l6.2 -18.4M1089.4 625l6.2 6.3M1175.5 567.4l6.1 -12.7M1212.4 542.2l6.2 5.1M1415.3 398.7l4.1 -6.9M1419.8 391.2l0.2 -0.3M967.7 697.5l6.1 -15.5M1398.2 402.8l6.2 -12.6M964.6 690.7l4.3 -8.3M1387.2 397l6.2 -13.4M964.1 685.3l6.2 -8.5M970.2 676.8l6.2 -8.5M1124 574l6.2 -25M1365.1 392.2l6.2 -13.4M960.5 666.6l6.2 -19.5M1354.1 393.2l6.2 -12.7M1349.3 384.3l6.1 -10.4M1344.4 379.9l6.1 -7.7M1350.6 372.2l6.2 -5.5M1058.5 557.2l5.6 -22.7M1047.6 528.9l1.9 -3.9M677 771.4l6.2 -30.1M808.7 657.4l6.2 -16.7M791.6 660.3l6.1 -13.4M866.7 602.5l6.2 0.5M628.1 752.3l6.1 -44.1M868 586.7l6.2 2.8M869.3 576.2l6.2 6.2M930.8 533.6l6.2 -16.5M913.6 537.1l6.1 -18.3M885.4 534.5l6.2 -20.7M591.5 732.4l6.1 -25M586.7 725.7l6.2 -14.8M588 713.7l6.2 -7.4M594.1 706.3l6.2 -8.6M847.5 531.9l4.9 -14.8M589.3 698.7l6.1 -14.4M561.1 700.9l6.2 -12.4M544 702.6l6.2 -13.2M526.8 704.5l6.1 -16M509.6 708.7l6.2 -18.6M464.3 706.9l6.2 -23.3M419 711.8l6.1 -33.8M560.5 613l6.1 -13.4M532.3 612.7l6.2 -17.5M521.3 610.4l6.2 -18.1M505.4 600l6.1 -16.7M689.9 473.1l6.1 -11.9M745.3 433.5l1.2 0.7M500.6 592.9l6.2 -15.2M666.6 475.8l6.2 -16.1M746.6 420l3.7 4.3M495.7 587.8l6.1 -14.6M624.9 496.8l4.4 0.7M645.4 479.2l4.1 -9.5M337.1 683.4l6.2 -25.4M490.9 579.9l6.2 -16.7M1672 662l-11 -1.3M1661 660.7l-11 0.8M1527 746.3l-11 -12.6M1650 661.6l-11 2.4M1509.8 746l-11 -13.1M1632.8 659.6l-11 4.9M1492.7 747l-11 -12M1615.7 661.1l-11 6.8M1794 539.3l-11 -19.4M1830.9 512l-11 -20.7M1475.5 750.8l-11 -9.8M1598.5 666l-2.5 1.7M1776.9 539.1l-11 -15.8M1447.4 750.5l-11 -5.6M1748.7 541.8l-11 -7.2M1436.4 744.9l-11 -3.9M1403.3 737.7l-11 -1M1392.3 736.7l-11 -1.9M1332.1 769l-11 -23.5M1362.9 746.5l-11 -18.7M1369 744.6l-11 -13.9M1375.2 740.9l-11 -8.9M1381.3 734.7l-11 -3.8M1682.7 527.1l-11 3.4M1308.8 774l-11 -20.3M1370.3 730.9l-11 -6.2M1376.5 726.7l-11 -1M1365.5 725.7l-6.8 -1.9M1371.6 723.4l-8.7 1.1M1377.8 718.7l-11 4.9M1383.9 712.9l-11 7.5M1390.1 707.4l-9.7 8M1379.8 715.8l-0.8 0.6M1274.5 777.7l-11 -13M1662 508.2l-11 9.4M1663.3 501.4l-11 9M1246.4 778.2l-11 -7M1124.6 854.9l-11 -2.6M1130.8 851l-11 -3.2M1113.6 852.4l-11 2.7M1119.8 847.8l-11 1.4M1576.2 521.9l-11 -20.9M1582.3 514.6l-11 -22.1M1588.5 508.9l-11 -22.3M1594.6 505.2l-11 -21.6M1600.8 503.1l-11 -19.9M1417.6 620.5l-11 -20.9M1423.7 613.1l-11 -22.4M1436 604.6l-11 -22.4M1442.2 603.5l-11 -20.9M1552.9 523.5l-11 -20.4M1394.3 623.5l-11 -19.3M1443.5 589.4l-11 -19.3M1529.6 534.3l-11 -15.9M1603.4 482.5l-9.3 -13M1593.7 468.9l-0.2 -0.3M1174.2 767l-11 -11.9M1512.4 536.1l-11 -13.6M1150.9 772l-11 -17.9M1127.6 779.6l-11 -15M1342.8 629l-11 -10.8M1484.3 530.7l-11 -10M1110.4 781.9l-11 -11.2M1314.6 631.6l-2.4 -1.2M1456.1 534.4l-11 -5.2M1082.2 782.8l-11 -4.2M1445.1 529.2l-11 -3.4M1071.2 778.6l-11 -1.1M1434.1 525.8l-11 -1.4M1060.2 777.4l-11 1.5M1423.1 524.4l-11 0.4M1012.3 802.2l-11 -19.2M1412.1 524.8l-1 0.2M970.6 821.2l-11 -18M1007.5 791.1l-6.8 -11.1M1000.3 779.5l-0.2 -0.3M1044.4 766.9l-11 7M1039.5 760.3l-11 9.4M1040.8 749.8l-11 10.5M1055.4 731.7l-1 0.1M1061.9 723.3l-1.3 -0.4M1054.4 731.8l-11 -1.6M1115.9 687.6l-9.8 -13.3M1105.7 673.7l-0.2 -0.3M914.3 819.4l-11 -11M1043.4 730.2l-11 -3.8M1237.8 592l-8.6 8.6M1032.4 726.5l-11 -4.5M1241.5 581.4l-11 10.7M1244 577.8l-7.3 7.8M1021.4 722l-11 -3.7M1010.4 718.3l-11 -1.9M999.4 716.4l-11 0.3M988.4 716.7l-11 2.3M842.1 805.9l-11 -10.5M1088.1 636.4l-11 -23.4M824.9 809.2l-11 -13.8M972.5 706l-2.3 1.4M1089.4 625l-11 -20.3M1175.5 567.4l-11 -22.5M1212.4 542.2l-11 -22.7M1415.3 398.7l-11 -8.6M967.7 697.5l-0.5 0.4M1398.2 402.8l-11 -5.8M1387.2 397l-11 -3.6M964.1 685.3l-1 0.9M970.2 676.8l-8.2 7M1124 574l-11 -10.7M1365.1 392.2l-11 1M960.5 666.6l-4 0.6M1354.1 393.2l-11 2.7M1349.3 384.3l-11 4.9M1344.4 379.9l-11 6.3M1350.6 372.2l-11 7M855.9 647.4l-6.7 -10M677 771.4l-11 3.1M808.7 657.4l-11 -10.6M791.6 660.3l-11 -11.4M866.3 601.9l-10.7 -18M628.1 752.3l-11 8.8M868 586.7l-11 -23M947.7 533.4l-10.8 -16.3M869.3 576.2l-11 -20.2M930.8 533.6l-11 -14.8M913.6 537.1l-11 -11.9M885.4 534.5l-11 -7.8M591.5 732.4l-11 17.1M586.7 725.7l-11 11.7M588 713.7l-11 5.1M594.1 706.3l-11 3.2M589.3 698.7l-11 -3M561.1 700.9l-11 -11.5M544 702.6l-11 -14.1M526.8 704.5l-11 -14.4M509.6 708.7l-11 -13.7M464.3 706.9l-11 -18.5M578.1 594.3l-5.3 -8.6M419 711.8l-11 -12.3M560.5 613l-11 -10.1M532.3 612.7l-11 -2.4M521.3 610.4l-7.7 0.8M607.3 535.5l-9.6 -26.9M505.4 600l-7.9 5.1M619.4 512.7l-8.1 -22.3M689.9 473.1l-11 -30.9M745.3 433.5l-11 -31.9M500.6 592.9l-11 8.3M623.6 506l-11 -24.9M666.6 475.8l-11 -25.1M746.6 420l-10.5 -24.1M735.8 395.2l-0.3 -0.6M495.7 587.8l-11 6.5M624.9 496.8l-11 -16.8M641.9 481.9l-9.5 -14.5" stroke="#17a6db" stroke-width="3.4" stroke-linecap="round" fill="none"/>
<path d="M1567.5 731.9l6.1 -13M1550.3 734.8l6.2 -11.7M1533.1 735.1l6.1 -11.1M1643.8 655.9l6.2 5.6M1516 733.7l6.2 -11.7M1800.2 526.6l6.1 -9.8M1597.2 665.6l1.3 0.4M1826.1 499.5l6.2 8M1464.5 741l6.2 -17.7M1737.7 534.6l6.2 -40.1M1425.4 741l6.1 -18.9M1726.7 529.1l6.2 -44.5M1414.3 738.8l6.1 -17.9M1715.7 525.7l6.2 -46.1M1704.7 524.3l6.2 -44.5M1693.7 524.8l6.2 -40.1M1338.3 760.3l6.2 -6.4M1344.4 753.9l6.2 -4M1350.6 749.9l6.2 -2.1M1356.7 747.8l6.2 -1.3M1387.5 725.9l6.2 -10.9M1364.2 732.1l6.2 -1.2M1382.6 720l6.1 -8.3M1388.8 711.7l6.2 -8.5M1291.7 773l6.2 -19.3M1359.3 724.7l6.1 1M1666.8 513.8l6.2 -19.1M1235.3 771.3l6.1 -27.5M1224.3 766.4l6.1 -28.1M1213.3 763.6l6.1 -27M1202.3 761.8l6.1 -24.2M1429.9 607.7l6.2 -3.2M1602.1 488l6.1 3.7M1191.3 759.5l6.1 -19.9M1377.1 620.7l6.2 -16.5M1438.6 578.1l6.2 7.3M1157 763l6.1 -7.9M1360 622.6l6.2 -19.7M993.9 809.4l6.2 -7.3M1000 802.2l6.1 -2.1M1006.2 800.1l6.2 2.1M942.4 813.9l6.2 -31.5M1047 742.4l0.5 -0.4M1060.6 722.9l6.2 -10.5M1049.6 716.7l6.2 -15.3M903.2 808.4l6.1 -42.1M1081.9 635.4l6.1 1M1181.6 554.7l6.2 -10.2M1206.2 537.9l6.1 4.3M807.8 806.7l6.2 -11.4M1086 617.9l4.6 6.8M1158.3 563.4l6.2 -18.6M1207.5 529.6l6.2 9.2M1404.3 390.2l6.1 -11.3M969 682.4l6.1 -10.3M1141.2 565.6l6.1 -23.4M976.4 668.3l6.1 -9.8M1376.1 393.4l6.2 -13.7M971.5 663.7l6.2 -16.7M1113 563.3l6.2 -29.6M1360.3 380.6l6.1 -11.3M1355.4 373.9l6.1 -8.4M946.8 638.7l4 -17.4M1069 553.6l6.2 -29.6M1053.5 544.8l5.8 -22.1M1049.6 534.8l4.8 -14.5M692.8 773.8l6.1 -19.8M1049.5 525l6.2 -10.2M688 765.2l6.2 -27M843 651.2l6.2 -13.8M825.9 652.9l6.1 -16.6M774.4 656.3l6.2 -7.4M861.8 584.8l6.1 1.9M612.2 737.5l6.2 -42M866.2 569.1l4.4 6M874.4 526.7l6.2 -22.7M592.8 710.9l6.1 -8M600.3 697.7l6.1 -12.7M578.3 695.7l6.1 -14.7M835.1 499.9l1.5 -5.5M567.3 688.5l6.1 -13.9M481.5 701l6.1 -22M566.6 599.6l6.2 -13.9M408 699.6l6.1 -41.2M549.5 602.8l6.1 -16.9M516.4 594.3l6.1 -18.9M602.5 537.7l2.9 0.8M616.1 517l0.3 0.2M696.1 461.1l6.2 -11.1M739.1 430l6.2 3.5M353 689.6l6.1 -38.8M501.9 573.2l6.2 -15.6M742.1 408.5l0.2 0.3M742.6 409.4l5.3 8.7M620 482.8l6.2 -4.1M626.2 478.6l6.1 -11.3M1567.5 731.9l-11 -8.8M1550.3 734.8l-11 -10.8M1533.1 735.1l-11 -13M1643.8 655.9l-11 3.7M1516 733.7l-11 -14.3M1800.2 526.6l-11 -23.4M1826.1 499.5l-9 -15.4M1816.8 483.5l-0.2 -0.3M1464.5 741l-11 -8.6M1737.7 534.6l-11 -5.4M1425.4 741l-11 -2.2M1726.7 529.1l-11 -3.5M1414.3 738.8l-11 -1.1M1715.7 525.7l-11 -1.4M1704.7 524.3l-11 0.5M1693.7 524.8l-11 2.2M1338.3 760.3l-11 -25.7M1344.4 753.9l-11 -26.3M1350.6 749.9l-11 -25.3M1356.7 747.8l-11 -22.6M1387.5 725.9l-11 0.9M1364.2 732.1l-11 -11.9M1382.6 720l-11 3.4M1388.8 711.7l-11 7M1291.7 773l-11 -17.5M1359.3 724.7l-4.6 -3.5M1666.8 513.8l-11 8.5M1235.3 771.3l-11 -4.8M1224.3 766.4l-11 -2.9M1213.3 763.6l-11 -1.8M1202.3 761.8l-11 -2.3M1429.9 607.7l-11 -23M1602.1 488l-11 -19.6M1191.3 759.5l-11 -4.4M1377.1 620.7l-11 -17.8M1438.6 578.1l-8.5 -13.8M1429.7 563.7l-0.2 -0.3M1429.2 562.8l-0.2 -0.3M1428.7 562l-0.2 -0.3M1157 763l-11 -17.6M1360 622.6l-11 -14.7M993.9 809.4l-11 -22.4M1000 802.2l-11 -23.6M1006.2 800.1l-11 -22.4M942.4 813.9l-11 -16.1M1047 742.4l-11 10.4M1047.3 741.9l-5.2 4.2M1050.3 738.2l-2.1 1.1M1068.6 713.9l-1.9 -1.5M1075.8 704.7l-3 -3.6M1083.2 696.8l-4.1 -6.5M1104.8 688.4l-7.4 -14M1110.9 689.4l-7.3 -12.8M1060.6 722.9l-11 -6.2M1049.6 716.7l-11 -7.6M903.2 808.4l-11 -9.5M1081.9 635.4l-11 -25.4M1181.6 554.7l-11 -27.1M1206.2 537.9l-11 -27.2M1421 387.9l-10.5 -9M807.8 806.7l-11 -11M1158.3 563.4l-11 -21.3M1207.5 529.6l-6.4 -12.5M1200.2 515.3l-0.2 -0.3M1404.3 390.2l-11 -6.5M969 682.4l-5.3 5.8M1141.2 565.6l-11 -16.6M976.4 668.3l-11 7.9M1376.1 393.4l-11 -1.2M971.5 663.7l-11 2.9M1113 563.3l-11 -8.3M1360.3 380.6l-11 3.8M1355.4 373.9l-11 6M1356.7 366.8l-11 7.3M1069 553.6l-9.8 5.2M692.8 773.8l-11 11.5M1049.5 525l-2 2.6M688 765.2l-11 6.2M861.9 636.4l-6.6 -10.4M843 651.2l-11 -14.9M825.9 652.9l-11 -12.2M774.4 656.3l-11 -14.6M861.8 584.8l-11 -24.9M612.2 737.5l-11 21.3M874.4 526.7l-11 -5.9M592.8 710.9l-11 12.1M600.3 697.7l-11 1M578.3 695.7l-11 -7.3M567.3 688.5l-11 -11.5M481.5 701l-11 -17.4M584.2 582.8l-5.3 -10.1M566.6 599.6l-11 -13.7M408 699.6l-11 -10.6M549.5 602.8l-11 -7.6M516.4 594.3l-11 5.7M602.5 537.7l-11 -30.3M616.1 517l-11 -35.5M696.1 461.1l-11 -36.7M739.1 430l-11 -37.7M353 689.6l-11 8.3M501.9 573.2l-11 6.7M741.7 408l-0.2 -0.3" stroke="#16a9d6" stroke-width="3.4" stroke-linecap="round" fill="none"/>
<path d="M1573.6 718.8l6.2 -13.9M1665.8 655.2l6.2 6.8M1556.4 723.1l6.1 -12.2M1654.8 654.2l6.2 6.5M1539.3 724l6.2 -10.8M1626.7 654.6l6.1 5M1498.8 732.9l6.2 -13.5M1609.5 657.5l6.2 3.6M1806.3 516.8l6.2 -6.3M1824.8 508.8l6.1 3.2M1481.7 735l6.1 -15.9M1453.5 732.5l6.2 -19.3M1409.5 721.8l6.2 -17.4M1398.5 723.8l6.2 -14.5M1393.6 715l6.1 -11.8M1315 759.1l6.2 -13.6M1358 730.7l6.2 1.4M1394.9 703.2l6.2 -7.3M1353.2 720.2l6.2 4.5M1668.1 495.9l6.1 -9.5M1263.5 764.6l6.2 -26.8M1559 511.6l6.1 -10.6M1595.9 484.9l6.1 3.1M1400.4 610.8l6.2 -11.3M1437.3 585.3l6.1 4.1M1535.7 518.9l6.2 -15.8M1597.2 475.6l6.2 6.9M1180.3 755.2l6.1 -14.6M1518.6 518.4l6.1 -19.4M1594 469.5l0.2 0.3M1594.6 470.4l3.9 5.9M1163.2 755.2l6.2 -7.6M1169.3 747.5l6.1 -8.7M1501.4 522.5l6.2 -21.7M1133.7 765.9l6.2 -11.7M1116.6 764.6l6.1 -16.3M1331.8 618.2l6.1 -24.5M1473.3 520.6l6.1 -25.3M1099.4 770.7l6.2 -20M1055.4 760.7l6.2 -19.7M976.7 802.1l6.1 -15.1M1050.5 750.1l6.1 -16M1407.2 506.2l6.1 -25.3M959.6 803.2l6.2 -24.4M1045.7 747.2l6.2 -11M1395 485.5l2.5 -8.8M1066.7 712.4l6.1 -11.3M1109.8 681.5l6.2 6.2M1390.8 475.8l1.8 -5.7M1106 674.3l0.7 1.1M1107.1 676l3.9 5.8M1246.4 576.9l6.2 -11.3M1038.5 709.1l6.2 -19.5M1386.9 466.3l2.2 -3.8M892.2 798.9l6.1 -45.1M983.5 699.7l6.2 -21.4M1081.6 635.5l0.3 0M831.1 795.4l6.2 -21.1M1083.2 618.4l6.1 6.6M1187.8 544.6l6.2 -6.3M1200.1 536.2l6.2 1.8M813.9 795.3l6.1 -12M973.8 682l6.2 -14.3M796.8 795.8l6.2 -13.4M975.1 672.1l6.2 -8.4M1393.3 383.6l6.1 -12M982.5 658.5l6.2 -12.6M1382.3 379.8l6.1 -12.2M1371.3 378.8l6.1 -12M966.7 647.1l6.1 -25.6M1102 555l6.2 -32.8M955.7 647.2l6.1 -27.3M1361.6 365.5l6.2 -5.7M1080 550.2l6.2 -32.8M697.7 776.6l6.2 -19.1M797.7 646.8l6.2 -17.5M639.1 746.6l6.1 -46.8M770.1 658.4l4.3 -2.1M780.6 648.9l6.1 -12.7M855.7 583.9l6.2 0.9M863.1 569.5l6.1 6.7M936.9 517l6.2 -17M919.7 518.8l6.2 -20.1M902.6 525.2l6.1 -21.6M863.4 520.8l6.2 -24M852.4 517.2l6.2 -24.5M595.4 684.3l6.2 -19.7M841.4 516l6.2 -24M584.4 681l6.2 -18.9M550.1 689.4l6.2 -12.4M532.9 688.5l6.2 -14.5M515.8 690.1l6.1 -18.2M498.6 694.9l6.2 -20.8M436.2 697.3l6.2 -32.4M538.4 595.2l6.1 -19.3M527.4 592.2l6.1 -19.9M364 683l6.1 -45.8M511.6 583.3l6.2 -17.4M610 513.6l6.1 3.4M702.2 450l6.1 -9.5M733 427.6l6.1 2.4M506.7 577.7l6.1 -15.4M617.4 498.9l6.1 7.1M672.8 459.6l6.2 -17.5M618.7 491l6.1 5.7M649.5 469.7l6.1 -19M497 563.2l6.2 -19.3M613.9 479.9l6.2 2.8M632.3 467.4l6.2 -18.2M1573.6 718.8l-11 -8M1665.8 655.2l-11 -1M1556.4 723.1l-11 -9.9M1654.8 654.2l-11 1.7M1539.3 724l-11 -12.6M1626.7 654.6l-11 6.5M1498.8 732.9l-11 -13.9M1609.5 657.5l-11 8.5M1806.3 516.8l-11 -26M1824.8 508.8l-11 -23.9M1481.7 735l-11 -11.7M1453.5 732.5l-11 -6.5M1409.5 721.8l-11 2.1M1398.5 723.8l-11 2M1393.6 715l-11 5M1315 759.1l-11 -24.9M1358 730.7l-11 -17.8M1394.9 703.2l-11 9.7M1353.2 720.2l-6.5 -8.5M1668.1 495.9l-11 12.7M1263.5 764.6l-11 -11.8M1559 511.6l-11 -23.6M1595.9 484.9l-11 -23M1400.4 610.8l-11 -22.7M1437.3 585.3l-11 -22.7M1535.7 518.9l-11 -19.9M1597.2 475.6l-11 -19.5M1180.3 755.2l-11 -7.6M1518.6 518.4l-11 -17.6M1163.2 755.2l-11 -15.3M1169.3 747.5l-11 -11.1M1501.4 522.5l-11 -14M1133.7 765.9l-11 -17.7M1116.6 764.6l-11 -13.9M1331.8 618.2l-11 -9.4M1473.3 520.6l-11 -8.7M1099.4 770.7l-11 -8.6M1055.4 760.7l-11 6.2M976.7 802.1l-11 -23.3M1050.5 750.1l-11 10.2M1407.2 506.2l-3.1 1.5M959.6 803.2l-11 -20.8M1045.7 747.2l-11 12M1090.5 691.1l-5.3 -9.7M1098 688.7l-6.7 -12.8M1066.7 712.4l-11 -11M1109.8 681.5l-11 -18.1M1246.4 576.9l-11 13.6M1038.5 709.1l-11 -7.4M892.2 798.9l-11 -7.2M983.5 699.7l-11 6.2M1065.7 612.4l-0.9 -2.2M831.1 795.4l-11 -12M1083.2 618.4l-11 -24.9M1187.8 544.6l-11 -30.3M1200.1 536.2l-11 -30.4M1424.9 377.4l-8.3 -7.6M1427.9 368.7l-5.1 -4.8M813.9 795.3l-11 -12.9M973.8 682l-8.8 9.8M796.8 795.8l-11 -11.1M975.1 672.1l-11 13.2M1393.3 383.6l-11 -3.9M982.5 658.5l-11 5.2M1382.3 379.8l-11 -1M1371.3 378.8l-11 1.7M966.7 647.1l-11 0.2M1102 555l-11 -4.5M955.7 647.2l-5.7 0.5M1361.6 365.5l-11 6.7M1367.7 359.8l-11 7M1080 550.2l-11 3.4M697.7 776.6l-11 13.8M1050.8 522.1l-3.5 5.4M866.5 625.9l-5.1 -7.9M870.4 617.8l-2.8 -3.8M797.7 646.8l-11 -10.6M639.1 746.6l-11 5.7M761.3 658l-10.2 -18.4M767 657.3l-9.7 -15.2M780.6 648.9l-11 -12.6M855.7 583.9l-11 -25.4M953.1 518.2l-10 -18.2M863.1 569.5l-11 -24.7M936.9 517l-11 -18.4M919.7 518.8l-11 -15.2M902.6 525.2l-11 -11.3M596.3 705.5l-8.4 8.2M596.9 704.3l-2.8 2M601.2 697.3l-0.9 0.4M863.4 520.8l-11 -3.6M852.4 517.2l-11 -1.2M595.4 684.3l-11 -3.3M841.4 516l-0.3 0M584.4 681l-11 -6.4M550.1 689.4l-11 -15.4M532.9 688.5l-11 -16.6M515.8 690.1l-11 -16M498.6 694.9l-11 -15.9M436.2 697.3l-11 -19.3M590 572.3l-4.9 -10.6M594.7 562l-3.5 -8M598.7 553.3l-1.4 -3.1M538.4 595.2l-11 -3M527.4 592.2l-11 2M591.7 522.9l-6.3 -16.2M364 683l-11 6.6M511.6 583.3l-11 9.6M610 513.6l-11 -40.3M702.2 450l-11 -41.8M733 427.6l-11 -42.7M506.7 577.7l-11 10.1M617.4 498.9l-11 -31M672.8 459.6l-11 -31.6M618.7 491l-7.2 -13.4M649.5 469.7l-11 -20.5" stroke="#14acd1" stroke-width="3.4" stroke-linecap="round" fill="none"/>
<path d="M1562.6 710.9l6.2 -12.7M1545.4 713.2l6.1 -10.6M1637.7 649.5l6.1 6.4M1522.1 722.1l6.1 -10.6M1603.4 654.2l6.1 3.3M1812.5 510.5l6.2 -2.5M1818.6 508l6.2 0.8M1783 519.8l6.1 -16.6M1765.9 523.4l6.2 -25.1M1442.5 726l6.2 -20.2M1431.5 722.1l6.2 -20.3M1420.5 720.9l6.2 -19.3M1404.6 709.3l6.1 -14.9M1399.8 703.2l6.2 -11.1M1351.9 727.8l6.1 2.8M1401.1 695.9l5.4 -4.5M1677.8 503.5l6.2 -25M1297.8 753.7l6.1 -19.6M1673 494.6l6.1 -16.4M1280.7 755.6l6.2 -24.6M1565.2 501l6.2 -8.5M1589.8 483.2l6.2 1.7M1406.6 599.6l6.1 -8.9M1431.2 582.5l6.2 2.7M1186.5 740.6l6.2 -17.8M1383.3 604.2l6.1 -16M1432.5 570.1l6.2 8M1175.5 738.8l6.2 -10.8M1139.9 754.2l6.2 -8.7M1349 607.9l6.2 -23.8M1159.6 728.2l6.2 0.9M1166.1 729l5.8 -1.3M1320.8 608.8l6.1 -27.3M1462.2 511.9l6.1 -28M1088.4 762.1l6.2 -22M1077.4 757.4l6.2 -22.6M1066.4 757.1l6.2 -21.8M1418.2 502.3l6.1 -28M1001.3 783l6.2 8.2M1051.8 736.2l6.2 -7.5M931.4 797.8l6.2 -37.9M1072.9 701.1l6.2 -10.9M1103.6 676.6l6.2 4.9M1256.9 560.4l0.5 -1.3M1055.7 701.4l6.1 -15.9M1252.5 565.6l5.4 -7.8M1258.3 557.2l0.2 -0.3M1389.3 462.3l0.6 -0.8M1390.3 460.9l0.2 -0.3M1027.5 701.7l6.2 -22.6M881.2 791.8l6.1 -46.3M994.5 695.4l6.2 -23.6M978.7 687.5l6.1 -18.7M1193.9 538.2l6.1 -2M820.1 783.3l6.2 -16.9M1078.4 604.7l6.2 10.9M1164.5 544.9l6.1 -17.2M1201.4 519.5l6.2 10.1M1410.5 378.8l6.1 -9M1416.6 369.8l6.2 -5.9M1399.5 371.7l6.1 -9.4M988.7 645.8l6.1 -16.8M1130.1 549l6.1 -29.6M977.7 647l6.1 -22M1377.4 366.9l6.1 -9.4M1366.4 369.2l6.1 -9M1372.6 360.2l6.2 -5.9M1091 550.5l6.2 -34M934 608.1l0.9 -3.9M1064.1 534.5l6.1 -29.6M1054.4 520.3l6.1 -17.3M849.2 637.5l6.2 -11.5M832 636.3l6.2 -15.9M814.9 640.7l6.1 -18.5M650.1 743.2l6.1 -47.8M786.7 636.2l6.2 -17.4M763.4 641.7l6.2 -5.4M849.5 583.4l6.2 0.5M858.2 556l6.2 10.7M607.4 719.5l6.2 -36.8M891.6 513.8l6.1 -24.7M597.7 707.3l6.2 -14.8M606.4 685l6.2 -18.8M573.4 674.6l6.2 -16.6M829.3 484.4l2.4 -9.7M556.3 676.9l6.1 -12.2M453.3 688.4l6.2 -27.5M572.8 585.7l6.1 -13.1M555.6 585.9l6.2 -17.3M397 689l6.1 -47.2M386 682.1l6.1 -50.5M375 680.1l6.1 -50M708.4 440.5l6.2 -7.2M726.8 427l6.2 0.6M740.4 411.2l6.1 8.8M508 557.7l6.2 -16.4M1562.6 710.9l-11 -8.3M1545.4 713.2l-11 -11.3M1637.7 649.5l-11 5.1M1522.1 722.1l-11 -14.8M1603.4 654.2l-1.8 1.6M1812.5 510.5l-11 -26.9M1818.6 508l-11 -26.2M1783 519.8l-11 -21.5M1765.9 523.4l-11 -15.5M1442.5 726l-11 -3.9M1431.5 722.1l-11 -1.2M1420.5 720.9l-11 0.9M1404.6 709.3l-11 5.6M1399.8 703.2l-11 8.5M1351.9 727.8l-11 -23.4M1401.1 695.9l-11 11.4M1677.8 503.5l-11 10.3M1297.8 753.7l-11 -22.7M1673 494.6l-11 13.5M1280.7 755.6l-11 -17.7M1672.5 488.8l-9.2 12.6M1565.2 501l-11 -26.2M1589.8 483.2l-11 -25.8M1406.6 599.6l-11 -25.5M1431.2 582.5l-11 -25.5M1186.5 740.6l-11 -1.8M1383.3 604.2l-11 -21.9M1432.5 570.1l-11 -21.9M1175.5 738.8l-11 -5.2M1139.9 754.2l-11 -19.2M1349 607.9l-11 -14.2M1159.6 728.2l-3.9 -1.3M1320.8 608.8l-11 -7.1M1462.2 511.9l-11 -6.6M1088.4 762.1l-11 -4.7M1077.4 757.4l-11 -0.3M1066.4 757.1l-11 3.6M1418.2 502.3l-11 3.9M1001.3 783l-11 -23.3M1051.8 736.2l-11 13.6M1054.4 733.2l-0.6 0.8M1052.9 735l-0.6 0.8M1051 737.4l-1.3 1.6M1048.9 740l-0.6 0.8M1047.4 741.9l-0.4 0.5M931.4 797.8l-11 -16.4M1072.9 701.1l-11 -15.6M1103.6 676.6l-11 -20.9M1055.7 701.4l-11 -11.8M1252.5 565.6l-11 15.8M1388.9 462.8l-2.3 3.3M1027.5 701.7l-11 -5.4M881.2 791.8l-11 -4.9M994.5 695.4l-11 4.3M978.7 687.5l-11 10M1193.9 538.2l-11 -31.5M820.1 783.3l-11 -13.5M1078.4 604.7l-7.8 -16.1M1069.7 586.8l-0.1 -0.3M1164.5 544.9l-11 -27.4M1201.4 519.5l-11 -27.5M1410.5 378.8l-11 -7.2M1416.6 369.8l-11 -7.6M980 665.2l-0.2 0.3M978.9 666.5l-0.6 0.8M977.4 668.3l-7.1 8.5M980.8 663.6l-4.4 4.6M1399.5 371.7l-11 -4.1M988.7 645.8l-11 1.1M1130.1 549l-11 -15.3M977.7 647l-11 0.1M1377.4 366.9l-11 2.3M1366.4 369.2l-11 4.7M1372.6 360.2l-11 5.3M1091 550.5l-11 -0.3M1064.1 534.5l-10.5 11.2M1054.4 520.3l-6.3 10M849.2 637.5l-11 -17M874.4 609.9l-5.5 -4.9M832 636.3l-11 -14.1M814.9 640.7l-11 -11.3M650.1 743.2l-11 3.4M786.7 636.2l-11 -11.4M763.4 641.7l-11 -16.5M848.8 581.8l-10.3 -22.7M958.5 503.3l-9.3 -19.5M858.2 556l-6.6 -13.6M851.4 541.8l-0.7 -1.5M850.2 539.3l-0.1 -0.3M849.7 538.4l-0.1 -0.3M607.4 719.5l-11 24.8M891.6 513.8l-11 -9.8M597.7 707.3l-11 18.4M607.4 684.9l-1 0.1M606.4 685l-11 -0.8M573.4 674.6l-11 -9.8M556.3 676.9l-11 -15.1M453.3 688.4l-11 -23.4M572.8 585.7l-11 -17.1M555.6 585.9l-11 -10M397 689l-11 -6.9M386 682.1l-11 -2M375 680.1l-11 2.9M581 510.3l-1.8 -4M708.4 440.5l-11 -45.8M726.8 427l-11 -46.4M740.4 411.2l-11 -32.5M508 557.7l-11 5.5" stroke="#12b0cd" stroke-width="3.4" stroke-linecap="round" fill="none"/>
<path d="M1579.8 705l6.2 -14.4M1659.7 647.5l6.1 7.7M1648.7 646.9l6.1 7.3M1551.6 702.6l6.2 -10.6M1528.3 711.4l6.2 -9.5M1620.5 649.3l6.2 5.3M1505 719.4l6.2 -12.1M1602.8 653.9l0.6 0.3M1487.8 719.1l6.2 -14.8M1819.9 491.3l6.1 8.1M1470.7 723.3l6.1 -17.7M1817 484.5l0.2 0.3M1817.6 485.6l0.2 0.3M1818.1 486.5l0.2 0.3M1818.5 487.4l0.2 0.3M1819.1 488.6l0.2 0.3M1819.6 489.5l0.2 0.3M1820 490.4l0.2 0.3M1820.6 491.6l0.1 0.3M1821.1 492.5l0.2 0.3M1321.1 745.5l6.1 -10.8M1345.7 725.2l6.2 2.6M1252.5 752.8l6.2 -30.8M1571.3 492.5l6.1 -5.9M1577.5 486.6l6.2 -3M1583.6 483.6l6.2 -0.4M1197.5 739.6l6.2 -24.2M1412.7 590.7l6.2 -5.9M1418.9 584.8l6.2 -2.6M1425 582.1l6.1 0.4M1541.9 503.1l6.2 -15.1M1591.1 468.4l6.1 7.2M1181.6 728l6.2 -13M1366.1 602.9l6.2 -20.6M1430 564.7l0.2 0.3M1430.5 565.5l0.2 0.3M1431 566.4l0.3 0.6M1431.7 567.6l0.2 0.3M1432.1 568.5l0.2 0.3M1432.6 569.3l0.5 0.9M1433.6 571.1l0.2 0.3M1146 745.5l6.1 -5.6M1152.2 739.8l6.2 -3.4M1158.3 736.4l6.1 -2.8M1164.5 733.6l6.2 -3.8M1170.6 729.8l6.2 -5.7M1176.8 724.1l6.1 -7.4M1182.9 716.7l6.2 -8M1490.4 508.6l6.2 -25.9M1122.7 748.2l6.2 -13.3M1105.5 750.6l6.1 -18.7M1309.8 601.7l6.1 -29.2M1451.2 505.4l6.1 -29.7M1299 596.7l5.9 -28.9M1440.2 501.5l6.1 -30.3M1291.1 581.2l2.8 -13.5M1429.2 500.6l6.1 -29.7M1061.5 741l6.1 -18.5M982.9 787l6.2 -8.5M995.2 777.7l6.2 5.3M1056.7 734.1l6.2 -12.8M1402.4 489.3l6.2 -25.9M1079 690.2l6.2 -8.8M1388.1 468.7l5.9 -14.5M1016.5 696.3l6.2 -24.4M870.2 786.9l6.1 -45.6M1005.5 694.1l6.2 -24.7M859.2 783.4l6.1 -42.6M848.2 779.6l6.1 -37.4M1077.1 613l6.2 5.4M980 667.7l6.1 -11.8M802.9 782.4l6.1 -12.6M1147.3 542.2l6.2 -24.7M1405.6 362.3l6.2 -6.1M785.7 784.7l6.2 -16.8M1388.4 367.6l6.1 -9.6M1383.6 357.4l6.2 -6.1M940.6 621.4l5.4 -26.5M1059.3 522.7l6.2 -24.8M703.9 757.5l6.1 -20.1M699 754.1l6.2 -23.9M683.1 741.3l6.1 -39.7M855.3 625.9l6.1 -7.9M861.5 618l6.2 -4M867.6 614l4.8 -0.5M672.1 741.7l6.1 -44M868.9 605l5 4.9M661.1 741.7l6.1 -46.8M803.9 629.4l6.1 -19.6M757.3 642.1l6.2 -0.4M769.6 636.3l6.1 -11.5M857 563.7l6.2 5.8M602.5 709.3l6.1 -26.2M562.4 664.8l6.2 -13.1M539.1 674l6.2 -12.1M487.6 679l6.2 -21.9M470.5 683.6l6.1 -23.7M522.6 575.3l6.2 -19.4M517.7 565.9l6.1 -16.8M603.8 510.7l6.2 2.9M714.5 433.3l6.2 -4.5M720.7 428.7l6.1 -1.8M512.9 562.3l6.2 -14.9M611.3 490.4l6.2 8.5M348.1 667.4l6.2 -34.7M612.6 481.1l6.2 9.9M655.6 450.7l6.2 -22.6M735.6 394.6l0.3 0.6M736.1 395.8l5.6 12.1M343.3 657.9l6.2 -21.8M1579.8 705l-11 -6.8M1659.7 647.5l-11 -0.6M1648.7 646.9l-11 2.6M1551.6 702.6l-11 -9.1M1528.3 711.4l-11 -14.3M1620.5 649.3l-11 8.2M1505 719.4l-11 -15.2M1487.8 719.1l-11 -13.4M1819.9 491.3l-11 -23.2M1470.7 723.3l-11 -10.1M1321.1 745.5l-11 -28.9M1345.7 725.2l-11 -28.1M1252.5 752.8l-11 -9.1M1571.3 492.5l-11 -27.9M1577.5 486.6l-11 -28.4M1583.6 483.6l-11 -27.7M1197.5 739.6l-11 1M1412.7 590.7l-11 -27.4M1418.9 584.8l-11 -28M1425 582.1l-11 -27.4M1541.9 503.1l-11 -24.1M1591.1 468.4l-11 -23.7M1181.6 728l-11 1.8M1366.1 602.9l-11 -18.8M1146 745.5l-11 -19.2M1152.2 739.8l-11 -17.2M1158.3 736.4l-11 -13.4M1164.5 733.6l-11 -8M1170.6 729.8l-11 -1.6M1176.8 724.1l-10.7 4.8M1182.9 716.7l-8.1 8.2M1490.4 508.6l-11 -13.3M1122.7 748.2l-11 -16.3M1105.5 750.6l-11 -10.5M1309.8 601.7l-10.7 -3.9M1451.2 505.4l-11 -3.9M1440.2 501.5l-11 -1M1429.2 500.6l-11 1.7M1061.5 741l-11 9.1M982.9 787l-11 -27.3M995.2 777.7l-11 -27.3M1056.7 734.1l-11 13M1402.4 489.3l-4.2 3.5M1079 690.2l-11 -19.4M1016.5 696.3l-11 -2.2M870.2 786.9l-11 -3.5M1005.5 694.1l-11 1.3M859.2 783.4l-11 -3.8M848.2 779.6l-11 -5.4M1077.1 613l-11 -28.8M980 667.7l-11 14.7M1422.8 363.9l-11 -7.7M802.9 782.4l-11 -14.6M986.4 655.6l-3.9 2.8M992.9 644.6l-4.2 1.2M1147.3 542.2l-11 -22.7M1405.6 362.3l-11 -4.2M785.7 784.7l-11 -14.6M1388.4 367.6l-11 -0.7M1383.6 357.4l-11 2.8M1378.7 354.3l-11 5.5M1059.3 522.7l-8.9 13.2M703.9 757.5l-11 16.3M699 754.1l-11 11.1M683.1 741.3l-11 0.4M855.3 625.9l-11 -18.3M861.5 618l-11 -18.2M867.6 614l-11 -16.7M872.9 612.4l-10.2 -12.7M672.1 741.7l-11 0.1M868.9 605l-4.3 -4.3M661.1 741.7l-11 1.4M803.9 629.4l-11 -10.6M757.3 642.1l-11 -19.4M769.6 636.3l-11 -14.3M837.8 571l-5.4 -10.7M964 489.8l-8.6 -20.1M981.4 456l-1.5 -3.4M857 563.7l-11 -28.6M602.5 709.3l-11 23.1M562.4 664.8l-11 -12.8M539.1 674l-11 -17.7M487.6 679l-11 -19.1M470.5 683.6l-11 -22.6M603.6 542.3l-4.9 -9.1M522.6 575.3l-11 7.9M517.7 565.9l-11 11.8M603.8 510.7l-11 -43.9M714.5 433.3l-11 -48M720.7 428.7l-11 -48.2M512.9 562.3l-11 10.9M611.3 490.4l-11 -37.8M348.1 667.4l-11 16M612.6 481.1l-5 -11.7M607.3 468.8l-0.3 -0.6M655.6 450.7l-11 -25.9M735.6 394.6l-0.5 -1.2M734.8 392.8l-0.3 -0.6M734.1 391.2l-0.1 -0.3" stroke="#11b3c8" stroke-width="3.4" stroke-linecap="round" fill="none"/>
<path d="M1568.7 698.2l6.2 -13.1M1557.7 691.9l6.2 -10.8M1631.5 642.8l6.2 6.7M1534.4 701.9l6.1 -8.5M1614.4 644.4l6.1 4.9M1511.1 707.3l6.1 -10.1M1789.2 503.3l6.1 -12.4M1813.8 484.9l6.1 6.5M1459.7 713.2l6.1 -19.1M1754.9 507.9l6.2 -31.1M1415.6 704.4l6.1 -17.4M1410.8 694.4l6.2 -13.6M1405.9 692.1l6.2 -9M1412.1 683l6.2 -5.8M1688.8 493.2l6.2 -31.1M1327.3 734.6l6.2 -7M1333.4 727.6l6.2 -2.9M1339.6 724.7l6.2 0.5M1347 712.9l6.2 7.3M1679.1 478.2l6.1 -12.2M1241.5 743.8l6.2 -33.5M1230.5 738.3l6.2 -34.3M1219.5 736.6l6.2 -32.9M1208.5 737.6l6.2 -29.4M1548 488l6.1 -13.2M1389.4 588.2l6.2 -14.1M1426.3 562.6l6.1 7.5M1524.7 499l6.2 -19.9M1586.2 456.1l6.2 10.9M1507.6 500.8l6.1 -23.9M1153.5 725.6l6.2 2.5M1338 593.7l6.2 -27.6M1479.4 495.3l6.2 -29.8M989 778.6l6.1 -0.9M1276 560.8l2 -9.2M1413.4 480.8l6.2 -29.8M1397.5 476.7l6.1 -23.9M1085.2 681.4l6.2 -5.5M1091.3 675.9l6.2 -1.5M1097.5 674.4l6.1 2.2M1257.4 559.2l6.2 -14.1M1392.7 470l6.2 -19.9M1061.9 685.5l6.2 -14.7M1098.8 663.3l6.2 9.3M1394 454.3l6.1 -13.2M1044.7 689.6l6.1 -19.9M989.7 678.3l6.1 -21.7M837.2 774.2l6.1 -30.9M984.8 668.8l6.2 -17M1070.9 610l6.1 3M809.1 769.8l6.2 -14.9M1394.6 358l6.2 -6.1M950.8 621.3l6.2 -32.9M708.7 760.4l6.2 -22.4M928.5 596.8l1.6 -5.8M924.3 590.7l0.9 -2.5M924 589.9l0.8 -1.1M925.3 588.3l0.2 -0.3M694.1 738.2l6.1 -34.3M838.2 620.4l6.2 -12.8M821 622.2l6.2 -17.6M751.1 639.6l6.1 2.5M775.7 624.8l6.2 -16.8M623.3 720.6l6.2 -46.2M850.8 559.9l6.1 3.8M943.1 500l6.1 -16.2M925.9 498.7l6.2 -20.8M908.7 503.6l6.2 -23.9M603.8 692.5l0.5 -0.5M880.6 504l6.1 -27.2M869.6 496.8l6.1 -28.9M612.6 666.3l6.1 -25.5M601.6 664.6l6.1 -25.6M847.6 491.9l6.1 -28.9M590.6 662.1l6.1 -23.8M836.6 494.4l6.1 -27.2M579.6 658l6.1 -20.3M824.5 469.4l2.3 -9M545.2 661.8l6.1 -9.8M820.5 459l1.5 -5.2M521.9 671.9l6.2 -15.6M504.8 674.1l6.1 -19.6M425.2 678.1l6.2 -40.3M578.9 572.6l6.2 -10.9M544.6 576l6.2 -19.6M533.6 572.3l6.2 -20.3M597.7 508.6l6.1 2.1M678.9 442.1l6.1 -17.6M734.3 401.6l6.2 9.6M503.2 543.9l6.1 -22.1M610.1 474.2l3.7 5.7M638.5 449.2l6.1 -24.4M1568.7 698.2l-11 -6.3M1557.7 691.9l-11 -6.4M1631.5 642.8l-11 6.5M1534.4 701.9l-11 -12.7M1614.4 644.4l-11 9.7M1511.1 707.3l-11 -15.7M1789.2 503.3l-11 -26.1M1813.8 484.9l-11 -26.9M1459.7 713.2l-11 -7.4M1754.9 507.9l-11 -13.5M1415.6 704.4l-11 4.9M1410.8 694.4l-11 8.8M1405.9 692.1l-11 11.2M1412.1 683l-11 12.9M1688.8 493.2l-11 10.3M1327.3 734.6l-11 -31.7M1333.4 727.6l-11 -32.5M1339.6 724.7l-11 -31.3M1347 712.9l-9 -16.8M1337.7 695.5l-0.2 -0.3M1679.1 478.2l-11 17.6M1241.5 743.8l-11 -5.4M1230.5 738.3l-11 -1.7M1219.5 736.6l-11 1M1208.5 737.6l-11 2M1548 488l-11 -28M1389.4 588.2l-11 -25.8M1426.3 562.6l-11 -25.8M1524.7 499l-11 -22.1M1586.2 456.1l-3.2 -6.3M1582.8 449.2l-0.2 -0.3M1582.3 448.3l-0.2 -0.3M1581.8 447.4l-0.3 -0.6M1581.2 446.2l-0.2 -0.3M1580.8 445.3l-0.2 -0.3M1507.6 500.8l-11 -18.1M1153.5 725.6l-9.7 -7.8M1338 593.7l-11 -12.2M1479.4 495.3l-11 -11.3M989 778.6l-11 -28.8M1413.4 480.8l-11 8.4M1397.5 476.7l-4.4 5.1M1085.2 681.4l-11 -22M1091.3 675.9l-11 -23.1M1097.5 674.4l-11 -22.7M1257.4 559.2l-1.1 1.7M1255.9 561.5l-0.2 0.3M1255.4 562.3l-0.7 1.1M1254.3 564l-1.1 1.7M1252.9 566.3l-6.6 10.6M1392.7 470l-2.6 3.5M1061.9 685.5l-11 -15.8M1098.8 663.3l-11 -17.6M1394 454.3l-7.1 12.1M1044.7 689.6l-11 -10.5M989.7 678.3l-11 9.2M837.2 774.2l-11 -7.8M984.8 668.8l-11 13.2M1070.9 610l-11 -31.4M809.1 769.8l-11 -17.1M1411.8 356.2l-11 -4.3M1394.6 358l-11 -0.6M1400.7 351.9l-11 -0.5M1389.7 351.4l-11 2.9M950.8 621.3l-9.1 3.1M708.7 760.4l-11 16.2M694.1 738.2l-11 3.1M838.2 620.4l-11 -15.8M821 622.2l-11 -12.4M751.1 639.6l-11 -22.5M775.7 624.8l-11 -12.9M969.1 477.9l-7.6 -19M978.2 461.3l-4.4 -10.9M623.3 720.6l-11 16.9M850.8 559.9l-11 -31.1M943.1 500l-11 -22.2M984.5 450.4l-3.3 -6.6M925.9 498.7l-11 -19M908.7 503.6l-11 -14.4M603.8 692.5l-11 18.4M880.6 504l-11 -7.3M614.9 666.6l-2.3 -0.3M869.6 496.8l-11 -4.1M612.6 666.3l-11 -1.7M601.6 664.6l-11 -2.5M847.6 491.9l-11 2.4M590.6 662.1l-11 -4.1M836.6 494.4l-3.4 1.5M579.6 658l-11 -6.3M545.2 661.8l-11 -17M521.9 671.9l-11 -17.4M504.8 674.1l-11 -17.1M425.2 678.1l-11 -19.6M578.9 572.6l-11 -20.2M601.9 547l-9.4 -19.2M604.4 540.8l-3.7 -4.8M600.2 535.4l-0.2 -0.3M544.6 576l-11 -3.7M533.6 572.3l-11 3.1M597.7 508.6l-11 -45.8M678.9 442.1l-11 -38.9M734.3 401.6l-11 -40.1" stroke="#0fb6c3" stroke-width="3.4" stroke-linecap="round" fill="none"/>
<path d="M1585.9 690.5l6.1 -14.6M1574.9 685.1l6.1 -13.2M1642.5 639.3l6.2 7.6M1540.6 693.4l6.2 -7.8M1546.7 685.6l6.2 -7.6M1517.3 697.1l6.2 -7.9M1494 704.2l6.2 -12.6M1537 671.5l6.2 -0.3M1544.5 671l4.8 -0.8M1476.8 705.6l6.2 -16.1M1772 498.3l6.1 -21.2M1448.7 705.8l6.1 -19.9M1437.7 701.8l6.1 -20M1426.6 701.5l6.1 -19.1M1684 478.5l6.2 -21.1M1304 734.1l6.2 -17.6M1269.7 737.8l6.2 -29.9M1584.9 462l6.1 6.5M1192.6 722.8l6.2 -20.5M1187.8 715l6.1 -14.3M1128.9 734.9l6.2 -8.7M1147.3 723.1l6.1 2.6M1094.5 740.1l6.1 -20.4M1083.5 734.8l6.1 -21M1072.5 735.3l6.1 -20.3M1062.8 721.4l6.2 -7.9M965.7 778.8l6.1 -19.1M990.3 759.6l6.2 13.6M948.6 782.5l6.2 -30.6M920.4 781.4l6.2 -44.1M1033.7 679.1l6.1 -23M1000.7 671.8l6.1 -23.9M1064.2 610.6l0.6 -0.3M1064.8 610.3l6.2 -0.3M826.2 766.4l6.1 -24.4M986.1 655.9l6.2 -8.4M1072.2 593.5l6.1 11.2M1170.6 527.6l6.2 -13.4M1195.2 510.7l6.1 8.8M791.9 767.8l6.1 -15.1M994.8 629l6.2 -21.5M774.7 770.1l6.2 -21M983.8 624.9l6.2 -27.5M1119.1 533.7l6.1 -35.2M972.8 621.5l6.2 -31.6M961.8 620l6.2 -33.4M1075.1 524l6.1 -35.2M1060.6 503.1l6.2 -13.4M862.8 599.7l6.2 5.3M792.9 618.8l6.1 -19.9M752.4 625.1l6.2 -3.2M758.6 622l6.1 -10.1M844.7 558.5l6.2 1.4M852.1 544.8l6.1 11.2M858.6 492.7l6.1 -29.5M568.6 651.7l6.1 -15.4M551.4 652l6.2 -8.7M585.1 561.7l6.2 -7.7M591.2 554l6.1 -3.8M597.4 550.2l2.4 0M561.8 568.6l6.1 -16.1M585.4 506.7l6.2 0.6M591.5 507.4l6.2 1.3M519 547.4l6.2 -13.8M514.2 541.3l6.1 -17.2M1585.9 690.5l-11 -5.4M1574.9 685.1l-11 -3.9M1642.5 639.3l-11 3.6M1540.6 693.4l-11 -10.2M1546.7 685.6l-11 -6.9M1517.3 697.1l-11 -15.2M1494 704.2l-11 -14.7M1537 671.5l-5 0M1542.8 671.3l-0.3 0.1M1476.8 705.6l-11 -11.5M1772 498.3l-11 -21.5M1448.7 705.8l-11 -3.9M1437.7 701.8l-11 -0.3M1426.6 701.5l-11 2.9M1684 478.5l-11 16.1M1304 734.1l-11 -28M1269.7 737.8l-11 -15.8M1584.9 462l-11 -27.7M1192.6 722.8l-11 5.2M1187.8 715l-11 9.1M1128.9 734.9l-11 -17.8M1147.3 723.1l-11 -13.2M1094.5 740.1l-11 -5.3M1083.5 734.8l-11 0.5M1072.5 735.3l-11 5.7M1062.8 721.4l-11 14.9M965.7 778.8l-11 -26.9M990.3 759.6l-11 -26.8M948.6 782.5l-11 -22.5M920.4 781.4l-11 -15.2M1033.7 679.1l-11 -7.2M1000.7 671.8l-11 6.5M1042.6 595.9l-1.2 -2.8M1053.3 599.3l-5.7 -15.8M1064.8 610.3l-11 -32M826.2 766.4l-11 -11.5M986.1 655.9l-11 16.2M1072.2 593.5l-11 -28M1170.6 527.6l-11 -33M1195.2 510.7l-11 -33M1002 631.1l-7.1 -2M791.9 767.8l-11 -18.7M994.8 629l-11 -4.1M774.7 770.1l-11 -16.9M983.8 624.9l-11 -3.5M1119.1 533.7l-11 -11.5M972.8 621.5l-11 -1.5M961.8 620l-11 1.3M1075.1 524l-11 10.4M1060.6 503.1l-11 21.9M862.8 599.7l-11 -13.7M792.9 618.8l-11 -10.8M973.9 468.2l-6.2 -15.8M752.4 625.1l-11 -18M758.6 622l-11 -15.8M844.7 558.5l-11 -31.8M852.1 544.8l-11 -27.9M858.6 492.7l-11 -0.7M568.6 651.7l-11 -8.4M551.4 652l-11 -14.3M585.1 561.7l-11 -22.4M591.2 554l-11 -23.6M597.4 550.2l-11 -23.6M561.8 568.6l-11 -12.3M585.4 506.7l-11 -43M591.5 507.4l-11 -45.6M519 547.4l-11 10.3M514.2 541.3l-11 2.6" stroke="#15b8bc" stroke-width="3.4" stroke-linecap="round" fill="none"/>
<path d="M1653.5 639.6l6.2 7.9M1563.9 681.2l6.1 -10.8M1625.4 636.6l6.1 6.2M1552.9 678l6.1 -7.6M1559 670.4l6.2 -7.6M1609.1 641.1l5.3 3.4M1523.4 689.2l6.1 -6M1529.6 683.2l6.2 -4.6M1535.7 678.7l6.2 -3.9M1541.9 674.8l6.1 -3.8M1548 671l6.2 -4M1554.2 667l6.1 -4.3M1560.3 662.7l6.2 -4.3M1566.5 658.4l5.9 -3.6M1500.1 691.6l6.1 -9.6M1530.9 671.2l6.1 0.2M1795.3 490.8l6.2 -7.3M1801.5 483.6l6.2 -1.8M1807.6 481.8l6.2 3.1M1519.9 667.4l5.3 3.5M1808.9 468.2l6.1 12.4M1465.8 694.1l6.2 -17.2M1743.9 494.4l6.2 -36.5M1421.8 687l6.2 -15.6M1416.9 680.9l6.2 -10.6M1699.8 484.7l6.2 -36.5M1340.9 704.4l6.1 8.4M1685.3 466l0.7 -0.8M1286.8 731l6.1 -24.8M1203.6 715.4l6.2 -27.5M1554.2 474.8l6.2 -10.2M1578.8 457.4l6.2 4.5M1395.6 574.1l6.1 -10.8M1420.2 557.1l6.2 5.5M1530.9 479l6.2 -19M1580.1 444.7l6.1 11.4M1372.3 582.3l6.1 -19.9M1421.5 548.2l6.2 12.1M1355.1 584.1l6.2 -24.9M1496.6 482.7l6.1 -28.6M1135 726.3l6.1 -3.7M1141.2 722.6l6.2 0.4M1111.7 731.9l6.2 -14.8M1326.9 581.5l6.2 -30.9M1468.4 484l6.2 -33M1067.7 722.5l6.2 -14.5M1283.8 567.2l5.2 -26.3M1424.4 474.3l6.2 -33M1069 713.5l1.3 -0.5M1269.1 556.4l4.1 -16.5M1408.5 463.4l6.1 -28.6M1262.3 557.8l6.1 -19.6M1263.5 545.1l6.2 -10.8M1398.8 450.1l6.2 -19M1068 670.8l6.2 -11.4M1092.6 655.7l6.2 7.6M1400.1 441.1l1.2 -2M1087.7 645.7l0.6 1.2M1088.6 647.5l0.1 0.3M1089.1 648.4l0.8 1.5M1090.1 650.5l0.1 0.3M1022.7 671.9l6.1 -24.7M1011.7 669.4l6.1 -25M991 651.8l6.1 -13.4M1176.8 514.2l6.2 -7.5M1189.1 505.8l6.2 4.9M815.2 754.9l6.1 -19.1M1012.8 615.7l5.4 -15.4M1108.1 522.2l6.1 -39.1M1086.1 517.4l6.1 -39.1M935 604.2l6.2 -28.8M710 737.4l6.2 -21.1M925.3 588.2l6.2 -15.1M705.1 730.2l6.1 -28.2M844.3 607.7l6.1 -7.9M850.5 599.8l6.2 -2.4M856.6 597.4l6.1 2.4M827.2 604.6l6.2 -13.9M810 609.8l6.2 -18.7M634.3 708.2l6.2 -50.8M747.7 638l3.4 1.6M781.9 608l6.1 -19.8M746.3 622.7l6.2 2.5M764.7 611.9l6.2 -16.2M838.5 559.1l6.2 -0.6M949.2 483.8l6.2 -14.1M897.7 489.1l6.2 -27.4M831.7 474.7l6.2 -27.4M557.5 643.3l6.1 -9.5M706.2 541l0.2 -0.6M706.7 539.7l4.6 -12M528.1 656.3l6.2 -11.5M818.1 452.8l5.2 -12M510.9 654.5l6.2 -15.9M547.8 628.3l6.2 -1.9M554 626.5l6.1 -5.1M560.1 621.3l6.2 -7M493.8 657l6.1 -19.5M476.6 659.9l6.2 -21.3M459.5 660.9l6.1 -24.8M442.3 664.9l6.2 -32.4M598.7 533.2l5.7 7.6M550.7 556.3l6.1 -18.2M528.7 555.9l6.1 -18.3M523.9 549l6.2 -15M579.2 506.3l6.1 0.4M359.1 650.8l6.2 -44.4M525.2 533.5l6.1 -12.4M605.1 481.5l6.2 8.9M685.1 424.5l6.2 -16.3M728.1 392.4l6.2 9.2M606.4 467.9l6.1 13.2M349.4 636.1l6.1 -11.2M1653.5 639.6l-11 -0.3M1563.9 681.2l-11 -3.2M1625.4 636.6l-11 7.8M1552.9 678l-11 -3.2M1559 670.4l-11 0.6M1523.4 689.2l-11 -13.6M1529.6 683.2l-11 -10.9M1535.7 678.7l-11 -7.5M1541.9 674.8l-11 -3.6M1548 671l-11 0.4M1554.2 667l-10.4 4M1560.3 662.7l-6.2 4.2M1566.5 658.4l-1 0.9M1565 659.7l-0.8 0.7M1500.1 691.6l-11 -15.2M1530.9 671.2l-11 -3.8M1795.3 490.8l-11 -29.1M1801.5 483.6l-11 -30.2M1807.6 481.8l-11 -29.4M1519.9 667.4l-0.3 -0.1M1808.9 468.2l-8.9 -18.9M1799.8 448.7l-0.1 -0.3M1799.3 447.8l-0.3 -0.6M1798.2 445.4l-0.1 -0.3M1465.8 694.1l-11 -8.3M1743.9 494.4l-11 -9.8M1421.8 687l-11 7.5M1416.9 680.9l-11 11.2M1699.8 484.7l-11 8.5M1340.9 704.4l-11 -26.7M1685.3 466l-8 14.8M1677 481.3l-0.5 0.9M1286.8 731l-11 -23M1203.6 715.4l-11 7.4M1554.2 474.8l-11 -31.1M1578.8 457.4l-11 -30.9M1395.6 574.1l-11 -29M1420.2 557.1l-11 -29M1530.9 479l-11 -26.7M1580.1 444.7l-11 -26.6M1372.3 582.3l-11 -23.1M1421.5 548.2l-5.4 -11.2M1415.8 536.3l-0.7 -1.5M1414.7 533.9l-0.1 -0.3M1355.1 584.1l-11 -18.1M1496.6 482.7l-11 -17.2M1135 726.3l-11 -17.9M1141.2 722.6l-11 -16.4M1111.7 731.9l-11 -12.2M1326.9 581.5l-11 -8.9M1468.4 484l-11 -8.3M1067.7 722.5l-11 11.7M1424.4 474.3l-11 6.5M1069 713.5l-4.7 6.5M1063.9 720.5l-0.6 0.8M1408.5 463.4l-11 13.3M1263.5 545.1l-11 20.5M1398.8 450.1l-10.7 18.7M1068 670.8l-11 -19.2M1092.6 655.7l-11 -20.2M1400.1 441.1l-10.9 21.2M1087.7 645.7l-0.6 -0.8M1086.7 644.3l-0.2 -0.3M1022.7 671.9l-11 -2.5M1011.7 669.4l-11 2.4M991 651.8l-11 15.9M1021.9 605.9l-3.7 -5.7M1176.8 514.2l-11 -36.9M1189.1 505.8l-11 -36.9M815.2 754.9l-11 -16.8M1011.5 617.5l-10.5 -9.9M1108.1 522.2l-11 -5.7M1086.1 517.4l-11 6.6M935 604.2l-1.8 1.6M710 737.4l-11 16.7M925.3 588.2l-1.2 1.7M705.1 730.2l-11 8M844.3 607.7l-11 -16.9M850.5 599.8l-11 -17M856.6 597.4l-11 -15.9M827.2 604.6l-11 -13.5M810 609.8l-11 -10.9M634.3 708.2l-11 12.5M781.9 608l-11 -12.3M746.3 622.7l-11 -20.9M764.7 611.9l-11 -14.6M838.5 559.1l-11 -30.3M949.2 483.8l-11 -25.7M983.5 452l-8.4 -19.5M897.7 489.1l-11 -12.3M831.7 474.7l-4.4 3.8M557.5 643.3l-11 -9.6M528.1 656.3l-11 -17.7M510.9 654.5l-11 -16.9M547.8 628.3l-0.3 0.1M554 626.5l-0.5 0.4M560.1 621.3l-0.4 0.5M493.8 657l-11 -18.5M476.6 659.9l-11 -23.7M459.5 660.9l-11 -28.4M442.3 664.9l-11 -27.2M598.7 533.2l-11 -15.6M550.7 556.3l-11 -4.4M528.7 555.9l-11 9.9M523.9 549l-11 13.3M579.2 506.3l-11 -38.1M359.1 650.8l-11 16.6M525.2 533.5l-11 7.7M605.1 481.5l-11 -44.7M685.1 424.5l-11 -46.2M728.1 392.4l-11 -47.5M606.4 467.9l-5.3 -15.5M600.9 451.7l-0.3 -1M600.2 449.8l-0.1 -0.3M599.7 448.2l-0.1 -0.3" stroke="#1bbab6" stroke-width="3.4" stroke-linecap="round" fill="none"/>
<path d="M1592 675.9l6.2 -14.2M1581 671.9l6.2 -12.9M1636.4 632.2l6.1 7.1M1570 670.3l6.2 -10.7M1565.2 662.8l6.1 -7.4M1571.3 655.4l6.2 -6.7M1506.3 681.9l6.2 -6.3M1518.6 672.3l6.2 -1.1M1524.7 671.1l6.2 0.1M1483 689.5l6.2 -13.2M1454.8 685.8l6.2 -17.8M1732.9 484.6l6.2 -40.3M1432.8 682.4l6.2 -17M1710.8 479.8l6.2 -40.3M1423.1 670.3l6.2 -6.5M1429.2 663.8l1 -0.3M1310.1 716.5l6.1 -13.5M1339.5 700l0.1 0.3M1340.6 702.4l0.1 0.3M1341 703.4l0.3 0.6M1341.6 704.6l0.1 0.3M1342 705.5l0.1 0.3M1258.7 722l6.2 -34.4M1560.3 464.6l6.1 -6.4M1566.5 458.2l6.2 -2.3M1572.6 455.9l6.2 1.5M1401.7 563.3l6.2 -6.5M1414 554.8l6.1 2.3M1193.9 700.7l6.2 -13.7M1513.7 476.9l6.2 -24.6M1136.3 709.8l6.1 7M1315.9 572.5l6.2 -33.1M1457.4 475.7l6.2 -35.1M1446.4 471.2l6.2 -35.8M1293.9 567.7l6.2 -33.1M1435.4 470.9l6.2 -35.1M971.9 759.7l6.2 -9.9M1403.7 452.8l6.2 -24.6M1074.2 659.4l6.2 -6.6M1086.5 651.7l6.1 4M909.4 766.3l6.2 -49.4M1050.8 669.7l6.2 -18M995.8 656.7l6.2 -19.5M1066.1 584.1l6.2 9.4M1182.9 506.7l6.1 -0.9M1153.5 517.5l6.1 -22.8M1190.4 492l6.2 16.2M798 752.7l6.2 -14.6M1136.3 519.5l6.2 -31.3M763.7 753.2l6.2 -24.9M1097.1 516.5l6.1 -40.5M719.7 744.9l6.2 -25.6M1070.3 504.9l6.2 -31.3M714.9 738l6.1 -21.2M930.1 591l6.1 -23.1M1065.4 497.9l6.1 -22.8M851.8 586l6.2 8.1M799 598.9l6.2 -19.1M826.5 560.1l5.8 0.2M832.4 560.3l6.1 -1.2M618.4 695.5l6.2 -40.2M747.5 606.1l6.1 -8.9M932 477.9l6.1 -19.8M981.2 443.8l3.3 6.6M914.9 479.7l6.2 -24.7M608.7 683.1l6.2 -14.7M596.7 638.3l6.2 -28.4M585.7 637.7l6.2 -24.2M574.7 636.3l6.2 -18.5M826.9 460.4l6.2 -24.7M563.7 633.8l6.2 -12M822 453.8l6.1 -19.8M534.2 644.8l6.1 -7.1M540.4 637.7l6.2 -4M546.5 633.7l6.1 -3.4M552.7 630.3l6.2 -5.1M558.8 625.2l6.2 -8.1M541.7 627.1l6.2 1.2M414.2 658.4l6.2 -48.4M567.9 552.5l6.2 -13.2M539.7 551.9l6.1 -18.9M530 534l6.2 -12.1M575.1 506.1l4.1 0.3M520.3 524l6.2 -18M661.8 428l6.2 -24.8M729.4 378.7l6.1 15.9M509.3 521.7l6.2 -24.9M644.6 424.8l6.2 -29.4M1592 675.9l-11 -4M1581 671.9l-11 -1.5M1636.4 632.2l-11 4.4M1570 670.3l-11 0.1M1565.2 662.8l-11 4.2M1571.3 655.4l-11 7.3M1506.3 681.9l-11 -14.8M1518.6 672.3l-11 -10.8M1524.7 671.1l-11 -7.5M1483 689.5l-11 -12.6M1454.8 685.8l-11 -4M1732.9 484.6l-11 -5M1432.8 682.4l-11 4.6M1710.8 479.8l-11 4.9M1423.1 670.3l-11 12.8M1429.2 663.8l-3 3.6M1310.1 716.5l-11 -32.6M1258.7 722l-11 -11.8M1560.3 464.6l-11 -33.2M1566.5 458.2l-11 -33.9M1572.6 455.9l-11 -33.1M1401.7 563.3l-11 -31.2M1414 554.8l-11 -31.2M1193.9 700.7l-11 16M1513.7 476.9l-11 -22.8M1136.3 709.8l-11 -10.3M1315.9 572.5l-11 -4.7M1457.4 475.7l-11 -4.5M1446.4 471.2l-11 -0.4M1293.9 567.7l-7.9 2.9M1435.4 470.9l-11 3.5M971.9 759.7l-11 -31.5M1403.7 452.8l-11 17.2M1074.2 659.4l-11 -21.5M1086.5 651.7l-11 -21.9M909.4 766.3l-11 -12.4M1050.8 669.7l-11 -13.5M995.8 656.7l-11 12.1M1066.1 584.1l-11 -32.5M1182.9 506.7l-11 -38.3M1153.5 517.5l-11 -29.3M1190.4 492l-7.3 -19.4M1182.9 472l-0.4 -0.9M1182.3 470.4l-0.2 -0.6M1181.7 468.9l-0.1 -0.3M798 752.7l-11 -21.8M1136.3 519.5l-11 -20.9M763.7 753.2l-11 -14.4M1097.1 516.5l-11 0.9M719.7 744.9l-11 15.5M1070.3 504.9l-11 17.8M714.9 738l-11 19.5M930.1 591l-3 3.7M1065.4 497.9l-11 22.4M851.8 586l-11 -12.1M799 598.9l-11 -10.7M825.8 559.2l-10.6 -22.1M832.4 560.3l-11 -27.2M618.4 695.5l-11 24M747.5 606.1l-11 -16.3M932 477.9l-11 -22.9M981.2 443.8l-6.7 -13.8M974.3 429.4l-0.7 -1.5M973.3 427.3l-0.1 -0.3M914.9 479.7l-11 -18M608.7 683.1l-11 24.3M596.7 638.3l-11 -0.6M585.7 637.7l-11 -1.4M574.7 636.3l-11 -2.5M826.9 460.4l-3.9 5.1M563.7 633.8l-11 -3.4M822 453.8l-2.3 3.7M534.2 644.8l-11 -16.5M540.4 637.7l-11 -13.6M546.5 633.7l-11 -9M552.7 630.3l-11 -3.2M558.8 625.2l-11 3.1M541.7 627.1l-3 -0.4M414.2 658.4l-11 -16.6M567.9 552.5l-11 -14.4M539.7 551.9l-11 4M530 534l-11 13.3M572.7 505l-10.7 -30.2M520.3 524l-11 -2.3M661.8 428l-11 -32.7M729.4 378.7l-3.3 -10.1M725.9 367.9l-0.3 -1M725.4 366.3l-0.3 -1M724.7 364.4l-0.2 -0.6M723.6 361l-0.1 -0.3" stroke="#20bcaf" stroke-width="3.4" stroke-linecap="round" fill="none"/>
<path d="M1598.2 661.7l6.1 -13.1M1647.4 632.2l6.1 7.4M1587.2 658.9l6.1 -12M1576.2 659.7l6.1 -10M1619.2 631.6l6.2 5.1M1577.5 648.6l6.2 -5.5M1583.6 643.1l6.1 -3.8M1512.4 675.6l6.1 -3.3M1513.7 663.6l6.2 3.8M1778.2 477.2l6.1 -15.4M1502.7 657.1l0.7 0.8M1443.8 681.8l6.2 -17.7M1721.8 479.6l6.2 -41.7M1427.9 671.4l6.2 -12M1690.1 457.4l6.1 -15.3M1334.7 697.1l6.2 7.3M1214.6 708.2l6.2 -33.2M1198.8 702.3l6.1 -21.5M1407.9 556.8l6.2 -2M1200.1 686.9l6.1 -10.8M1117.8 717.1l6.2 -8.8M1130.1 706.2l6.2 3.6M1100.7 719.7l6.2 -15.9M1125.3 699.6l2.3 3.7M1089.7 713.7l6.2 -16.2M1304.9 567.8l6.2 -33.8M1078.7 715l6.2 -15.7M1073.8 708l6.2 -8.3M1080 699.7l5.8 -1.3M978 749.8l6.1 0.6M984.2 750.4l6.2 9.3M937.6 759.9l6.2 -37M1080.3 652.8l6.2 -1.1M843.4 743.4l6.2 -38.5M997.1 638.3l6.2 -8.6M832.4 742l6.2 -30.4M1039.8 596.4l1.7 -3.3M1001 607.6l6.2 -25.2M780.9 749.1l6.1 -18.2M946 594.9l6.2 -33.8M931.4 573.1l6.1 -11.6M833.3 590.7l6.1 -8M845.6 581.5l6.1 4.5M816.2 591.1l6.2 -14.5M840.8 573.9l3.4 5.4M645.3 699.8l6.2 -54.3M740.1 617.1l6.1 5.6M770.9 595.6l6.1 -19.6M955.4 469.7l6.1 -10.8M980 452.6l2.1 1.9M741.4 607.2l6.2 -1M753.7 597.2l6.2 -16M845.9 535.1l6.2 9.7M613.5 682.7l6.1 -28M886.7 476.8l6.2 -30.3M618.7 640.7l6.2 -31.4M607.7 639l6.2 -30.8M842.7 467.2l6.2 -30.3M713.8 526.5l2.4 -8.1M569.8 621.8l6.2 -14.8M711.3 527.7l5.1 -10.4M716.8 516.5l0.1 -0.3M565 617.2l6.1 -10.6M823.3 440.8l6.1 -10.8M517.1 638.5l6.2 -10.3M535.5 624.7l6.1 2.4M574.1 539.3l6.2 -8.9M592.5 527.8l6.1 5.4M534.9 537.7l6.2 -15.4M531.3 521.1l6.2 -11.1M599 473.3l6.1 8.2M691.2 408.2l6.1 -13.5M354.3 632.6l6.2 -29.6M1598.2 661.7l-11 -2.7M1647.4 632.2l-11 0M1587.2 658.9l-11 0.7M1576.2 659.7l-11 3.1M1619.2 631.6l-8.6 7M1577.5 648.6l-11 9.7M1583.6 643.1l-3.5 3.6M1512.4 675.6l-11 -13.3M1513.7 663.6l-11 -6.5M1778.2 477.2l-11 -26.3M1502.7 657.1l-0.6 -0.2M1443.8 681.8l-11 0.6M1721.8 479.6l-11 0.2M1427.9 671.4l-11 9.5M1690.1 457.4l-11 20.8M1334.7 697.1l-11 -31.9M1214.6 708.2l-11 7.3M1198.8 702.3l-11 12.7M1407.9 556.8l-11 -32M1200.1 686.9l-8.9 17.5M1190.9 705l-0.2 0.3M1117.8 717.1l-11 -13.3M1130.1 706.2l-11 -12.4M1100.7 719.7l-11 -5.9M1125.3 699.6l-1.5 -0.7M1089.7 713.7l-11 1.2M1304.9 567.8l-11 -0.1M1078.7 715l-11 7.5M1073.8 708l-11 13.4M1080 699.7l-11 13.8M978 749.8l-11 -33.2M984.2 750.4l-11 -31.5M937.6 759.9l-11 -22.6M1080.3 652.8l-11 -22.4M843.4 743.4l-11 -1.4M997.1 638.3l-11 17.5M832.4 742l-11 -6.2M1032.2 598.4l-7.9 -17.4M1001 607.6l-11 -10.1M780.9 749.1l-11 -20.8M946 594.9l-11 9.3M931.4 573.1l-8.4 16.2M833.3 590.7l-11 -14.2M845.6 581.5l-11 -13.4M816.2 591.1l-11 -11.3M840.8 573.9l-4.8 -4.4M645.3 699.8l-11 8.4M740.1 617.1l-5 -11M734.8 605.4l-0.7 -1.5M733.7 603l-0.1 -0.3M770.9 595.6l-11 -14.4M955.4 469.7l-11 -28.6M980 452.6l-11 -28.6M741.4 607.2l-11 -18.3M753.7 597.2l-11 -15.3M845.9 535.1l-11 -32.4M613.5 682.7l-11 26.6M886.7 476.8l-11 -8.9M623.9 642.3l-5.2 -1.6M618.7 640.7l-11 -1.7M607.7 639l-11 -0.7M842.7 467.2l-11 7.5M569.8 621.8l-11 3.4M711.3 527.7l-5.8 13.1M565 617.2l-11 9.3M823.3 440.8l-5.7 10.9M517.1 638.5l-11 -15.7M535.5 624.7l-11 -6.3M574.1 539.3l-11 -16M592.5 527.8l-11 -16.7M534.9 537.7l-11 11.3M565.5 502.4l-9.6 -19.9M531.3 521.1l-11 2.9M599 473.3l-11 -50.9M691.2 408.2l-11 -52.8M354.3 632.6l-11 25.3" stroke="#26bfa8" stroke-width="3.4" stroke-linecap="round" fill="none"/>
<path d="M1641.2 626.1l6.2 6M1630.2 626.4l6.2 5.8M1582.3 649.6l6.2 -8.8M1616.8 630.3l2.5 1.3M1489.1 676.3l6.1 -9.2M1495.3 667.2l6.2 -4.8M1501.4 662.3l6.1 -0.8M1507.6 661.5l6.2 2.1M1802.8 458l6.1 10.2M1472 676.9l6.2 -13.6M1761 476.8l6.1 -25.9M1438.9 665.4l6.2 -13M1434.1 659.4l6.1 -7.1M1695 462.1l6.2 -25.9M1316.3 703l6.2 -7.9M1328.6 693.4l6.1 3.7M1247.6 710.3l6.2 -37.5M1225.6 703.7l6.2 -37M1537 460l6.1 -16.4M1573.9 434.3l6.1 10.4M1378.4 562.4l6.2 -17.3M1415.3 536.8l6.1 11.4M1361.3 559.2l6.1 -24M1344.1 566.1l6.2 -29.1M1485.6 465.6l6.1 -32.9M1124 708.4l6.1 -2.1M1278.1 551.6l6.2 -29.1M1419.5 451.1l6.1 -32.9M1273.2 539.9l6.1 -24M954.7 751.9l6.1 -23.7M1268.4 538.2l6.2 -17.3M1405 431.1l6.1 -16.4M1057 651.6l6.2 -13.7M1081.6 635.5l6.2 10.2M898.4 753.9l6.2 -53.2M1039.8 656.1l6.2 -20.6M1006.8 647.9l6.2 -21.4M854.4 742.2l6.2 -45.8M1002 637.1l6.1 -15M1041.5 593.1l6.1 -9.6M1059.9 578.6l6.1 5.5M821.4 735.8l6.2 -22.4M1018.2 600.3l6.1 -19.3M804.2 738.2l6.1 -14.9M990 597.5l6.2 -31.5M957 588.4l6.2 -36.9M716.2 716.3l6.1 -22M839.5 582.8l6.2 -1.3M788 588.2l6.2 -19M961.5 458.9l6.2 -6.5M967.7 452.4l6.2 -2M973.8 450.4l6.1 2.2M735.2 601.7l6.2 5.5M839.8 528.7l6.1 6.4M875.7 467.9l6.2 -32.2M864.7 463.2l6.2 -32.9M853.7 463.1l6.2 -32.2M580.9 617.8l6.2 -21.3M571.1 606.6l6.2 -11.2M523.2 628.3l6.1 -4.1M529.4 624.1l6.2 0.6M499.9 637.5l6.2 -14.7M524.5 618.4l2.6 3.1M482.8 638.5l6.1 -16.9M580.2 530.4l6.1 -3.8M586.4 526.6l6.2 1.2M403.1 641.8l6.2 -55M556.9 538.1l6.2 -14.8M587.6 517.6l6.2 9.6M545.9 533l6.2 -15.5M370.1 637.2l6.2 -52.6M536.2 521.9l6.1 -8.6M537.5 510.1l6.1 -9.9M722 384.9l6.1 7.5M526.5 506l6.1 -18.7M1641.2 626.1l-11 0.2M1630.2 626.4l-11 5.2M1582.3 649.6l-11 5.7M1489.1 676.3l-11 -13M1495.3 667.2l-11 -12.6M1501.4 662.3l-11 -11.3M1507.6 661.5l-11 -9.2M1802.8 458l-11 -27.2M1472 676.9l-11 -8.9M1761 476.8l-11 -18.9M1438.9 665.4l-11 6M1434.1 659.4l-11 10.8M1695 462.1l-11 16.4M1316.3 703l-11 -35.7M1328.6 693.4l-11 -35.4M1247.6 710.3l-11 -6.2M1225.6 703.7l-11 4.5M1537 460l-11 -31.1M1573.9 434.3l-11 -31M1378.4 562.4l-11 -27.2M1415.3 536.8l-11 -27.2M1361.3 559.2l-11 -22.2M1344.1 566.1l-11 -15.5M1485.6 465.6l-11 -14.5M1124 708.4l-11 -13.4M1278.1 551.6l-5.4 6.5M1419.5 451.1l-11 12.3M1273.2 539.9l-10.8 18M954.7 751.9l-11 -29M1268.4 538.2l-11 20.9M1405 431.1l-11 23.1M1057 651.6l-11 -16.1M1081.6 635.5l-11 -16.9M898.4 753.9l-11 -8.4M1039.8 656.1l-11 -8.9M1006.8 647.9l-11 8.8M854.4 742.2l-11 1.1M1002 637.1l-11 14.6M1041.5 593.1l-11 -30.2M1059.9 578.6l-11 -35.4M821.4 735.8l-11 -12.6M1018.2 600.3l-11 -17.9M804.2 738.2l-11 -22M990 597.5l-11 -7.6M957 588.4l-11 6.5M716.2 716.3l-11 13.9M839.5 582.8l-11 -14.1M788 588.2l-11 -12.2M816.3 550.8l-7.3 -12.4M961.5 458.9l-11 -30.6M967.7 452.4l-11 -31.2M973.8 450.4l-11 -30.5M735.2 601.7l-8.2 -15.8M726.7 585.3l-0.2 -0.3M726.3 584.5l-0.2 -0.3M839.8 528.7l-11 -35.3M610.9 676.9l-0.1 0.3M610.4 678.2l-0.1 0.3M610 679.1l-6.1 13.4M875.7 467.9l-11 -4.7M864.7 463.2l-11 -0.1M853.7 463.1l-11 4.1M580.9 617.8l-11 4M571.1 606.6l-11 14.7M523.2 628.3l-11 -13.5M529.4 624.1l-11 -10.3M499.9 637.5l-11 -15.9M524.5 618.4l-1 -0.2M482.8 638.5l-11 -21M580.2 530.4l-11 -17M586.4 526.6l-11 -17.2M403.1 641.8l-11 -10.2M556.9 538.1l-11 -5.1M587.6 517.6l-2.4 -1.8M545.9 533l-11 4.6M370.1 637.2l-11 13.6M536.2 521.9l-11 11.6M553.4 505l-9.8 -4.9M559.5 503.5l-9.8 -12.5M537.5 510.1l-11 -4M722 384.9l-11 -53.9M526.5 506l-11 -9.2" stroke="#2cc1a2" stroke-width="3.4" stroke-linecap="round" fill="none"/>
<path d="M1604.3 648.6l6.2 -11.2M1593.3 647l6.2 -10.3M1625.3 623.3l5 3M1588.5 640.8l6.2 -6.9M1594.6 633.9l6.1 -4.5M1600.8 629.4l5.5 -1.7M1784.3 461.7l6.2 -8.4M1796.6 452.4l6.2 5.6M1478.1 663.3l6.1 -8.8M1496.6 652.2l6.2 4.9M1798 445.1l0.1 0.3M1461 668.1l6.2 -13.8M1450 664.1l6.2 -13.6M1440.2 652.3l6.2 -1.7M1696.3 442.1l5.1 -6.9M1322.4 695.1l6.2 -1.7M1293 706.1l6.2 -22.2M1329.9 677.7l6.1 14.5M1275.8 708l6.1 -30.2M1236.6 704l6.2 -38.5M1209.8 688l6.1 -28.2M1106.8 703.8l6.2 -8.9M1113 694.9l6.1 -1.1M1119.1 693.9l6.2 5.7M1095.8 697.5l6.2 -8.9M1084.8 699.2l6.2 -8.7M1091 690.6l6.1 -0.7M979.3 732.8l5.6 17.9M985.1 751.3l0.2 0.6M887.4 745.4l6.2 -55M1028.8 647.2l6.2 -22.1M876.4 741.3l6.2 -54.4M1017.8 644.4l6.2 -22.4M865.4 740.8l6.2 -51.3M1047.6 583.5l6.2 -5.2M1053.8 578.3l6.2 0.3M1061.2 565.5l6.1 16.4M1159.6 494.6l6.2 -17.3M1184.2 477.7l6.1 14.3M787 731l6.2 -14.8M1125.3 498.6l6.2 -37.3M979 589.9l6.2 -35.8M752.7 738.8l6.2 -27.7M968 586.6l6.2 -37.7M741.7 731.8l6.2 -28.8M730.7 734.2l6.2 -28M1081.3 488.9l6.2 -37.3M941.1 575.4l6.1 -29.2M721 716.9l6.2 -18.9M936.3 567.9l6.2 -20.7M1071.6 475.1l6.2 -17.3M700.3 703.9l6.2 -39.3M689.3 701.6l6.2 -46.4M678.3 697.7l6.2 -51.8M667.3 695l6.2 -55M656.3 695.4l6.2 -55.8M822.3 576.6l6.1 -7.9M834.6 568.1l6.1 5.8M805.2 579.8l6.2 -14.7M738.6 615.7l1.5 1.4M759.8 581.3l6.1 -19.7M938.2 458.1l6.2 -17M975.1 432.5l6.1 11.3M730.4 588.9l6.2 1M736.5 589.9l6.1 -8M742.7 581.9l6.2 -16M841.1 516.9l6.1 16.4M903.9 461.7l6.2 -28.4M837.9 447.2l6.2 -28.4M716.2 518.4l6.2 -19.6M576 607l6.1 -16.4M828.1 434l6.2 -17M577.3 595.4l6.1 -9.4M465.6 636.2l6.2 -18.6M431.3 637.7l6.2 -38.1M581.5 511.1l6.1 6.5M381.1 630.1l6.2 -57.6M541 522.3l6.2 -11.1M542.3 513.3l6.2 -5.2M548.5 508.1l2.3 -0.9M543.6 500.1l6.2 -9.1M592.8 466.8l6.2 6.5M697.4 394.7l6.2 -9.5M715.8 380.6l6.2 4.3M600.3 452.6l6.2 15.3M667.9 403.2l6.1 -25M515.5 496.8l6.1 -27.2M1604.3 648.6l-11 -1.6M1593.3 647l-11 2.7M1588.5 640.8l-11 7.8M1594.6 633.9l-11 9.2M1600.8 629.4l-3.8 3.4M1784.3 461.7l-11 -29.4M1796.6 452.4l-11 -29.7M1478.1 663.3l-11 -9M1496.6 652.2l-11 -6.2M1461 668.1l-11 -4M1450 664.1l-11 1.3M1440.2 652.3l-11 11.4M1696.3 442.1l-11 23.9M1322.4 695.1l-11 -36.7M1293 706.1l-11 -28.3M1329.9 677.7l-9.8 -24.2M1319.9 652.8l-0.3 -0.6M1319.2 651.3l-0.1 -0.3M1275.8 708l-11 -20.4M1236.6 704l-11 -0.4M1209.8 688l-11 14.3M1106.8 703.8l-11 -6.3M1113 694.9l-11 -6.3M1119.1 693.9l-11 -5.8M1095.8 697.5l-11 1.7M1084.8 699.2l-11 8.8M1091 690.6l-11 9.1M979.3 732.8l-8.7 -22.9M970.2 709l-0.1 -0.3M969.6 707.4l-0.1 -0.3M887.4 745.4l-11 -4.1M1028.8 647.2l-11 -2.8M876.4 741.3l-11 -0.5M1017.8 644.4l-11 3.5M865.4 740.8l-11 1.4M1047.6 583.5l-11 -34.4M1053.8 578.3l-11 -36.2M1061.2 565.5l-6.7 -17.1M1054.3 547.8l-0.2 -0.6M1053.7 546.3l-0.1 -0.3M1159.6 494.6l-11 -35.3M1184.2 477.7l-11 -35.3M787 731l-11 -23.5M1125.3 498.6l-11 -15.4M979 589.9l-11 -3.3M752.7 738.8l-11 -7M968 586.6l-11 1.9M741.7 731.8l-11 2.4M730.7 734.2l-11 10.7M1081.3 488.9l-11 16M941.1 575.4l-11 15.6M721 716.9l-11 20.5M936.3 567.9l-11 20.3M1071.6 475.1l-11 27.9M700.3 703.9l-11 -2.3M689.3 701.6l-11 -3.9M678.3 697.7l-11 -2.7M667.3 695l-11 0.4M656.3 695.4l-11 4.4M822.3 576.6l-11 -11.4M834.6 568.1l-11 -10.7M805.2 579.8l-11 -10.6M808.8 543.9l-5.9 -8.2M759.8 581.3l-11 -15.4M938.2 458.1l-11 -26.6M975.1 432.5l-11 -26.6M730.4 588.9l-4.2 -6.4M725.8 581.9l-0.2 -0.3M724.7 580.2l-0.2 -0.3M736.5 589.9l-11 -14.8M742.7 581.9l-11 -13.8M841.1 516.9l-6 -15.4M834.9 500.9l-0.2 -0.6M834.2 499.3l-0.2 -0.6M833.6 497.7l-0.1 -0.3M833.1 496.5l-0.1 -0.3M903.9 461.7l-11 -15.2M837.9 447.2l-11 13.2M716.2 518.4l-8 18.4M707.9 537.4l-0.1 0.3M707.4 538.6l-0.1 0.3M576 607l-11 10.1M828.1 434l-10.1 19.1M577.3 595.4l-6.6 11.4M570.3 607.3l-0.5 0.9M569 609.7l-0.2 0.3M465.6 636.2l-11 -29.1M431.3 637.7l-11 -27.7M581.5 511.1l-11 -7.8M381.1 630.1l-11 7.1M541 522.3l-11 11.8M542.3 513.3l-11 7.8M548.5 508.1l-11 2M543.6 500.1l-11 -12.8M592.8 466.8l-11 -55.7M697.4 394.7l-11 -57.9M715.8 380.6l-11 -58.6M600.3 452.6l-11 -39.1M667.9 403.2l-11 -40.2" stroke="#32c39b" stroke-width="3.4" stroke-linecap="round" fill="none"/>
<path d="M1610.5 637.4l6.2 -8.6M1635.1 622.3l6.2 3.9M1599.5 636.6l6.2 -8M1617.9 621.6l6.1 1.1M1790.5 453.4l6.2 -1M1484.3 654.6l6.2 -3.5M1490.4 651l6.1 1.2M1485.6 646l3 3.3M1445.1 652.4l6.1 -7.6M1457.4 643.1l0.6 0.4M1204.9 680.8l6.2 -19.7M1543.2 443.6l6.2 -12.3M1567.8 426.5l6.2 7.8M1384.6 545l6.1 -12.9M1409.2 528l6.2 8.8M1519.9 452.3l6.2 -23.4M1569.1 418.2l6.1 16.1M1502.7 454.2l6.2 -29.4M1333.1 550.6l6.2 -32.5M1474.5 451l6.1 -36.5M1102 688.7l6.1 -0.6M1108.1 688.1l6.2 6.6M1289.1 540.9l6.2 -32.5M1430.5 441.4l6.1 -36.5M1414.7 434.9l6.2 -29.4M1274.5 520.9l6.1 -13M1409.8 428.2l6.2 -23.4M1411.1 414.7l4.8 -9.6M1063.1 637.9l6.2 -7.5M1069.3 630.4l6.2 -0.6M1075.4 629.8l6.1 5.7M1046 635.5l6.2 -15.5M1070.6 618.6l6.2 12.2M1008.1 622.1l6.2 -8.8M1024.3 581l6.2 -18.1M810.3 723.3l6.2 -14.8M1007.1 582.4l6.1 -26.4M1142.4 488.1l6.1 -28.8M769.9 728.4l6.1 -20.9M725.9 719.3l6.1 -22.4M711.3 701.9l6.2 -30.8M828.5 568.6l6.2 -0.5M794.2 569.2l6.2 -14.4M629.4 674.4l6.2 -44.9M777 576l6.2 -18.8M809 538.4l6.1 -1.2M815.2 537.2l6.2 -4M821.3 533.1l6.1 -4.4M827.5 528.8l6.2 -2M833.6 526.7l6.2 2M921 455l6.1 -23.5M591.9 613.5l6.2 -26.9M833 435.7l6.1 -23.5M506.1 622.9l6.2 -8.1M512.2 614.8l6.1 -1M518.4 613.8l6.2 4.6M488.9 621.6l6.2 -11.1M507.4 608.7l4.9 6.2M448.5 632.5l6.1 -25.4M563 523.3l6.2 -9.9M392.1 631.6l6.2 -58.4M552 517.5l6.2 -10.5M570.5 503.4l6.1 5.8M547.2 511.1l6.1 -6.1M553.3 505l6.2 -1.2M549.8 491l6.2 -8.5M586.7 462.8l6.1 4M703.5 385.2l6.2 -4.7M709.7 380.5l6.1 0.1M723.3 361.5l6.2 17.2M1610.5 637.4l-11 -0.7M1635.1 622.3l-8.3 0.3M1599.5 636.6l-11 4.2M1617.9 621.6l-3.3 1.8M1790.5 453.4l-11 -30.5M1484.3 654.6l-11 -8.7M1490.4 651l-11 -7.7M1485.6 646l-2.3 -0.4M1445.1 652.4l-11 7M1457.4 643.1l-1.1 0.8M1204.9 680.8l-11 19.8M1543.2 443.6l-11 -34.7M1567.8 426.5l-11 -34.6M1384.6 545l-11 -30.6M1409.2 528l-11 -30.6M1519.9 452.3l-11 -27.6M1569.1 418.2l-2.5 -6.3M1566.3 411.3l-0.3 -0.6M1565.7 409.7l-0.1 -0.3M1565.2 408.5l-0.1 -0.3M1564.7 407.2l-0.1 -0.3M1564.2 405.9l-0.1 -0.3M1502.7 454.2l-11 -21.5M1333.1 550.6l-11 -11.1M1474.5 451l-11 -10.4M1102 688.7l-11 1.9M1108.1 688.1l-5.3 0.9M1289.1 540.9l-11 10.6M1430.5 441.4l-11 9.7M1414.7 434.9l-11 17.9M1274.5 520.9l-11 24.2M1409.8 428.2l-11 21.9M1411.1 414.7l-11 26.4M1063.1 637.9l-11 -17.9M1069.3 630.4l-11 -18.6M1075.4 629.8l-11 -18.2M1046 635.5l-11 -10.4M1070.6 618.6l-3.5 -3.6M1008.1 622.1l-11 16.2M1024.3 581l-11 -25M810.3 723.3l-11 -18.4M1007.1 582.4l-11 -16.4M1142.4 488.1l-11 -26.9M769.9 728.4l-11 -17.2M725.9 719.3l-11 18.8M711.3 701.9l-11 2M828.5 568.6l-11 -11.2M794.2 569.2l-11 -12M629.4 674.4l-11 21.1M777 576l-11 -14.5M809 538.4l-11 -21.7M815.2 537.2l-11 -26.4M821.3 533.1l-11 -31M827.5 528.8l-11 -34.5M833.6 526.7l-11 -36.1M921 455l-11 -21.6M591.9 613.5l-11 4.3M833 435.7l-11 18.1M506.1 622.9l-11 -12.3M512.2 614.8l-11 -8.6M518.4 613.8l-11 -5.1M488.9 621.6l-11 -15.4M507.4 608.7l-3.3 0.2M448.5 632.5l-11 -32.9M563 523.3l-11 -5.8M392.1 631.6l-11 -1.5M552 517.5l-11 4.7M570.5 503.4l-3.7 0.2M547.2 511.1l-11 10.8M553.3 505l-11 8.3M559.5 503.9l-0.3 0.1M551.3 507l-2.8 1.1M549.8 491l-11 -22.7M586.7 462.8l-11 -58.4M703.5 385.2l-11 -60.7M709.7 380.5l-11 -61M723.3 361.5l-11 -41.4" stroke="#3ec492" stroke-width="3.4" stroke-linecap="round" fill="none"/>
<path d="M1616.7 628.8l6.1 -5.5M1622.8 623.3l6.2 -2.1M1629 621.2l6.1 1.1M1605.6 628.7l6.1 -5.1M1611.8 623.6l6.2 -2M1467.1 654.3l6.1 -8.4M1473.3 645.9l6.2 -2.6M1479.4 643.3l6.1 2.7M1750 457.9l6.1 -30.2M1456.1 650.5l6.1 -8M1462.3 642.5l6.2 -2M1468.4 640.5l6.1 3.6M1451.2 644.8l6.2 -1.7M1706 448.2l6.2 -30.1M1390.7 532.1l6.2 -7.3M1403 523.6l6.1 4.4M1322.1 539.5l6.2 -34.8M1300.1 534.7l6.2 -34.8M926.6 737.4l6.2 -43.3M1013 626.4l6.1 -16.2M1014.3 613.4l1.9 -0.6M827.5 713.4l6.2 -21.6M1165.8 477.3l6.2 -9M1178.1 468.8l6.2 8.8M816.5 708.4l6.2 -12.5M793.2 716.2l6.1 -11.4M1114.3 483.1l6.2 -41.5M1092.3 478.3l6.2 -41.5M1076.4 473.6l6.1 -28.8M1077.7 457.8l0.2 -0.3M1078.3 457l0.2 -0.3M722.3 694.2l6.2 -21.8M811.3 565.1l6.1 -7.7M817.5 557.4l6.2 0M823.6 557.4l6.1 6.3M730.6 595.1l4.6 6.6M944.3 441l6.1 -12.7M968.9 424l6.2 8.5M619.7 654.7l6.2 -14.9M748.8 565.9l6.1 -20.2M725.5 575.1l6.1 -7M731.7 568l6.2 -15.8M892.9 446.5l6.2 -31.4M637.3 606.5l4.8 -26.4M613.9 608.2l6.2 -33.9M705.7 541.9l0.5 -0.9M602.9 609.9l6.2 -31.3M848.9 436.9l6.2 -31.4M722.3 510.2l0.1 -0.3M722.6 509.3l4.6 -17.8M587 596.5l6.1 -22.2M582.1 590.6l6.2 -15.8M834.3 417l6.1 -12.7M495.1 610.6l6.2 -4.3M501.2 606.2l6.1 2.5M471.8 617.5l6.1 -11.3M490.2 603l6.1 6.4M569.2 513.4l6.1 -4M575.3 509.4l6.2 1.7M558.2 507l6.1 -4.7M564.3 502.3l6.2 1.1M555.9 482.5l6.1 -7.7M562.1 474.7l6.2 -6.5M580.5 461.8l6.2 1M360.4 603l6.1 -14.4M532.6 487.3l6.2 -19.1M650.8 395.4l6.2 -32.3M1616.7 628.8l-11 -0.1M1622.8 623.3l-11 0.2M1629 621.2l-11 0.4M1605.6 628.7l-11 5.2M1611.8 623.6l-11 5.8M1467.1 654.3l-11 -3.8M1473.3 645.9l-11 -3.4M1479.4 643.3l-11 -2.8M1750 457.9l-11 -13.6M1456.1 650.5l-11 1.9M1462.3 642.5l-11 2.3M1468.4 640.5l-11 2.6M1451.2 644.8l-11 7.5M1706 448.2l-11 13.9M1390.7 532.1l-11 -32.9M1403 523.6l-11 -32.9M1322.1 539.5l-11 -5.5M1300.1 534.7l-11 6.3M926.6 737.4l-11 -20.5M1013 626.4l-11 10.7M1014.3 613.4l-5 7.5M827.5 713.4l-11 -5M1165.8 477.3l-11 -39.5M1178.1 468.8l-11 -39.5M816.5 708.4l-11 -11.5M793.2 716.2l-11 -23.7M1114.3 483.1l-11 -7.1M1092.3 478.3l-11 10.6M1076.4 473.6l-11 24.4M1077.5 458.4l-0.3 0.9M1076.9 460l-0.3 0.9M1076.4 461.6l-0.2 0.6M1076 462.9l-0.2 0.6M1075.4 464.4l-0.1 0.3M1075 465.7l-0.2 0.6M1073.5 470.1l-0.1 0.3M722.3 694.2l-11 7.7M811.3 565.1l-11 -10.3M817.5 557.4l-11 -9.8M823.6 557.4l-11 -9.4M944.3 441l-11 -29.6M968.9 424l-11 -29.6M619.7 654.7l-11 28.4M748.8 565.9l-11 -13.7M725.5 575.1l-5.5 -5.6M731.7 568l-11 -9.6M892.9 446.5l-11 -10.9M634.3 613.4l-9.4 -4M613.9 608.2l-11 1.7M602.9 609.9l-11 3.6M848.9 436.9l-11 10.4M587 596.5l-11 10.5M582.1 590.6l-11 16M834.3 417l-11 23.9M495.1 610.6l-11 -8.8M501.2 606.2l-11 -3.2M471.8 617.5l-11 -24.4M490.2 603l-3.7 0.4M569.2 513.4l-11 -6.4M575.3 509.4l-11 -7.1M558.2 507l-11 4.1M564.3 502.3l-11 2.7M555.9 482.5l-11 -32.9M562.1 474.7l-11 -42.4M580.5 461.8l-11 -58.5M360.4 603l-11 33M532.6 487.3l-11 -17.7" stroke="#49c589" stroke-width="3.4" stroke-linecap="round" fill="none"/>
<path d="M1767.2 450.9l6.1 -18.5M1791.8 430.8l6.1 14M1701.1 436.2l6.1 -18.5M1299.1 683.9l6.1 -16.6M1323.7 665.3l6.2 12.4M1264.8 687.6l6.1 -34.8M1220.8 675l6.1 -33.8M1211.1 661.1l6.1 -14.9M1549.3 431.4l6.1 -7.1M1555.5 424.3l6.2 -1.5M1561.6 422.8l6.2 3.7M1396.9 524.8l6.2 -1.2M1367.4 535.2l6.2 -20.8M1404.3 509.6l6.1 15.5M1350.3 537l6.1 -28M1463.5 440.6l6.1 -38.9M1311.1 534l6.2 -35.6M1452.5 435.4l6.1 -39.7M1441.5 435.8l6.1 -38.9M1284.2 522.5l6.1 -28M1279.4 515.9l6.2 -20.8M960.9 728.2l6.2 -11.6M973.2 718.9l6.2 13.9M1052.1 620l6.2 -8.3M1064.4 611.5l6.1 7M1035 625.1l6.2 -16.5M1024 622l6.1 -16.8M838.5 711.6l6.2 -30.7M1055.1 551.6l6.2 13.9M1171.9 468.4l6.1 0.5M799.3 704.8l6.2 -7.9M817.8 694.2l0.7 0.8M1103.3 476l6.2 -43M952.1 561.1l6.1 -34.2M727.2 698l6.1 -16.2M942.4 547.2l6.1 -15.5M800.3 554.8l6.1 -7.2M812.6 548l6.1 6.3M783.2 557.2l6.2 -13.9M624.5 655.3l6.1 -30.9M766 561.5l6.2 -18.9M802.9 535.7l6.2 2.7M725 581.7l0.2 0.3M725.6 582.5l4.8 6.4M834.9 502.7l6.2 14.2M721.5 573.2l4 1.9M716.6 562.1l4.1 -3.7M720.7 558.5l6.2 -14.9M624.9 609.4l6.2 -34.8M707.1 544.4l3.8 -9.2M706.1 540.9l6.2 -10.3M729.8 500.2l0.1 -0.3M730.1 499.3l1.9 -6.8M722.3 498.8l6.1 -15M477.9 606.2l6.2 -4.5M484.1 601.7l6.2 1.3M365.3 606.4l6.2 -37.7M568.2 468.3l6.1 -4.5M574.4 463.7l6.2 -2M594.1 436.9l6.2 15.8M1767.2 450.9l-11 -23.1M1791.8 430.8l-11 -24M1701.1 436.2l-11 21.2M1299.1 683.9l-11 -33M1323.7 665.3l-11 -32.4M1264.8 687.6l-11 -14.8M1220.8 675l-11 13M1211.1 661.1l-11 25.8M1549.3 431.4l-11 -37.1M1555.5 424.3l-11 -37.9M1561.6 422.8l-11 -37M1396.9 524.8l-11 -33.7M1367.4 535.2l-11 -26.1M1404.3 509.6l-10.2 -24.3M1393.8 484.7l-0.3 -0.6M1350.3 537l-11 -18.9M1463.5 440.6l-11 -5.2M1311.1 534l-11 0.6M1452.5 435.4l-11 0.4M1441.5 435.8l-11 5.6M1284.2 522.5l-11 17.4M1279.4 515.9l-11 22.4M960.9 728.2l-11 -33.9M973.2 718.9l-11 -33.8M1052.1 620l-11 -11.5M1064.4 611.5l-11 -11.8M1035 625.1l-11 -3.1M1024 622l-11 4.4M838.5 711.6l-11 1.8M1055.1 551.6l-11 -32.9M1171.9 468.4l-11 -41M799.3 704.8l-11 -20.7M817.8 694.2l-1 -0.1M815.5 694l-0.7 -0.1M1103.3 476l-11 2.3M952.1 561.1l-11 14.2M727.2 698l-11 18.3M942.4 547.2l-11 25.9M800.3 554.8l-11 -11.5M812.6 548l-11 -10.4M783.2 557.2l-11 -14.6M806.9 542.5l-10.2 -12.5M624.5 655.3l-11 27.4M766 561.5l-11 -15.8M802.9 535.7l-11 -18M834.9 502.7l-11 -32.8M720.7 558.5l-7.1 -2.1M624.9 609.4l-11 -1.2M706.1 540.9l-0.4 0.9M722.3 498.8l-11 29M477.9 606.2l-11 -15.8M484.1 601.7l-11 -6.4M365.3 606.4l-11 26.2M568.2 468.3l-11 -50.2M574.4 463.7l-11 -55.7M594.1 436.9l-11 -46.2" stroke="#55c67f" stroke-width="3.4" stroke-linecap="round" fill="none"/>
<path d="M1739 444.3l6.1 -33.1M1728 437.9l6.1 -34.2M1717 439.5l6.1 -33.1M1282 677.8l6.2 -26.9M1319.1 651l0.1 0.3M1319.5 652.6l0.1 0.3M1526 428.9l6.1 -20M1562.9 403.3l6.1 14.8M1491.7 432.6l6.2 -34M1425.7 418.2l6.2 -34M967 716.6l6.1 2.3M1416 404.8l6.1 -20M943.7 722.9l6.1 -28.6M1058.3 611.8l6.2 -0.2M1019.1 610.2l6.2 -8.9M849.5 704.9l6.2 -39.1M1030.5 562.8l6.1 -13.8M822.6 696l6.1 -7M828.8 688.9l5.5 1M805.5 697l6.2 -3.9M811.6 693.1l6.1 1.1M996.1 566l6.1 -32.5M776 707.5l6.2 -15M758.9 711.1l6.1 -22.8M736.9 706.2l6.1 -23.4M732 696.8l6.2 -17.3M947.3 546.2l6.2 -26M806.5 547.6l6.2 0.4M801.6 537.6l6.1 5.9M796.7 530l6.2 5.6M950.5 428.4l6.2 -7.2M956.6 421.1l6.2 -1.3M962.8 419.8l6.1 4.2M927.2 431.5l6.2 -20.1M964.1 406l6.1 15M737.8 552.2l6.1 -20.5M910 433.4l6.1 -26.9M711.3 552l4.5 -9.3M881.9 435.6l6.2 -33.4M870.9 430.3l6.2 -34.1M859.9 430.8l6.2 -33.4M844 418.9l6.1 -26.9M839.2 412.2l6.2 -20.1M588.3 574.8l6.1 -12.4M454.6 607.1l6.2 -13.9M473.1 595.3l6.2 8.9M420.3 610l6.2 -43.8M538.8 468.2l6.2 -18.7M674.1 378.3l6.2 -22.9M717.1 344.9l6.2 16.6M521.6 469.6l6.2 -28.6M1739 444.3l-11 -6.4M1728 437.9l-11 1.5M1717 439.5l-11 8.7M1282 677.8l-11 -25M1318.2 648.8l-0.1 -0.3M1526 428.9l-11 -32.1M1562.9 403.3l-11 -32.1M1491.7 432.6l-11 -18.1M1425.7 418.2l-11 16.7M967 716.6l-11 -35.7M1416 404.8l-11 26.3M943.7 722.9l-11 -28.8M1058.3 611.8l-11 -11.9M1019.1 610.2l-11 11.9M849.5 704.9l-11 6.7M1030.5 562.8l-11 -31M822.6 696l-11 -2.9M828.8 688.9l-11 5.2M805.5 697l-11 -15M811.6 693.1l-11 -7.8M996.1 566l-11 -12M776 707.5l-11 -19.1M758.9 711.1l-11 -8.2M736.9 706.2l-11 13.1M732 696.8l-11 20.1M947.3 546.2l-11 21.7M806.5 547.6l-11 -10.9M801.6 537.6l-11 -13M796.7 530l-11 -15.8M950.5 428.4l-11 -31.6M956.6 421.1l-11 -32.3M962.8 419.8l-11 -31.6M927.2 431.5l-11 -25.1M964.1 406l-9 -20.5M954.8 384.9l-0.8 -1.8M953.8 382.4l-0.1 -0.3M953.4 381.5l-0.3 -0.6M737.8 552.2l-11 -8.6M910 433.4l-11 -18.2M881.9 435.6l-11 -5.4M870.9 430.3l-11 0.5M859.9 430.8l-11 6M844 418.9l-11 16.8M839.2 412.2l-11 21.8M588.3 574.8l-11 20.6M454.6 607.1l-11 -33.3M473.1 595.3l-3.4 -1.6M420.3 610l-11 -23.2M538.8 468.2l-11 -27.3M674.1 378.3l-11 -47.8M717.1 344.9l-11 -49.1" stroke="#61c676" stroke-width="3.4" stroke-linecap="round" fill="none"/>
<path d="M1773.3 432.3l6.2 -9.5M1785.6 422.7l6.2 8.1M1707.3 417.7l6.2 -9.5M1305.3 667.3l6.2 -8.9M1317.6 658l6.1 7.2M1253.8 672.8l6.1 -37.9M1231.8 666.7l6.1 -37.5M1215.9 659.8l6.2 -25.4M1508.9 424.7l6.2 -27.9M1420.8 405.4l6.2 -27.9M915.5 716.9l6.2 -48.8M1041.1 608.6l6.2 -8.7M1053.4 599.7l6.1 7.7M1030.1 605.2l6.2 -8.9M1042.4 596l2.4 2.9M1025.3 601.3l6.2 -1M833.7 691.8l6.1 -15.3M1036.6 549l6.2 -6.9M1048.9 543.1l6.1 8.5M1013.3 556l6.2 -24.1M800.6 685.3l6.1 8M747.9 703l6.1 -23.6M963.1 551.5l6.1 -37.4M733.3 681.8l6.2 -13.1M948.6 531.7l0.4 -0.5M728.5 672.4l6.2 -18.8M717.4 671.1l6.2 -28.9M640.4 657.4l6.2 -49.6M789.3 543.3l6.1 -6.6M795.5 536.8l6.2 0.8M772.1 542.7l6.2 -13.6M755 545.7l6.2 -19.2M791.9 517.7l6.2 -1M798 516.7l6.1 -5.9M804.2 510.8l6.2 -8.7M828.8 493.5l6.1 9.3M726.8 543.6l6.1 -20M715.8 542.6l6.1 -18.1M711 535.1l6.2 -15.4M598 586.5l6.1 -27.3M1773.3 432.3l-11 -25.8M1785.6 422.7l-11 -26.2M1707.3 417.7l-11 24.4M1305.3 667.3l-11 -36.1M1317.6 658l-11 -35.9M1253.8 672.8l-11 -7.2M1231.8 666.7l-11 8.3M1215.9 659.8l-11 21.1M1217 646.9l-0.1 0.3M1508.9 424.7l-11 -26.1M1420.8 405.4l-11 22.8M915.5 716.9l-11 -16.2M1041.1 608.6l-11 -3.3M1053.4 599.7l-11 -3.8M1030.1 605.2l-11 5M1042.4 596l-3.1 1.3M1025.3 601.3l-11 12.1M833.7 691.8l-11 4.1M1036.6 549l-11 -35M1048.9 543.1l-11 -35.9M1013.3 556l-11 -22.4M800.6 685.3l-9 -7.5M747.9 703l-11 3.2M963.1 551.5l-11 9.6M754.2 659.9l-2.4 -2.4M733.3 681.8l-11 12.5M755.5 658.2l-8.6 -16.6M948.6 531.7l-0.9 2.5M947.4 534.9l-0.2 0.6M946.9 536.1l-0.2 0.6M946.5 537.4l-0.1 0.3M945.9 538.9l-0.1 0.3M728.5 672.4l-11 -1.3M717.4 671.1l-11 -6.4M640.4 657.4l-11 17M789.3 543.3l-11 -14.2M795.5 536.8l-11 -13.5M772.1 542.7l-11 -16.1M755 545.7l-11 -14M791.9 517.7l-11 -18M798 516.7l-11 -22M804.2 510.8l-11 -26.9M828.8 493.5l-11 -35.8M726.8 543.6l-11 -1M715.8 542.6l-6.8 4.5M711 535.1l-4.7 7.7M598 586.5l-11 9.9" stroke="#6cc76d" stroke-width="3.4" stroke-linecap="round" fill="none"/>
<path d="M1779.5 422.8l6.2 -0.1M1756.2 427.8l6.1 -21.3M1712.1 418l6.1 -21.2M1311.4 658.4l6.2 -0.4M1242.8 665.6l6.1 -38.9M1373.6 514.4l6.1 -15.2M1398.2 497.4l6.2 12.2M1339.2 518.1l6.1 -31.3M1295.2 508.4l6.1 -31.3M1285.5 495.1l6.1 -15.2M1047.3 599.8l6.2 -0.1M1036.3 596.3l6.2 -0.3M860.5 696.5l6.2 -46.2M1042.8 542.1l6.2 1.1M1148.6 459.3l6.2 -21.5M1173.2 442.3l6.1 20.3M1131.4 461.3l6.1 -34.2M782.2 692.5l6.1 -8.4M794.5 682l6.2 3.3M985.1 554l6.1 -36.6M974.1 548.9l6.1 -38.3M1087.4 451.6l6.1 -34.2M738.2 679.5l6.1 -11.4M1082.6 444.8l6.2 -21.5M739.5 668.7l6.2 -8.7M706.4 664.7l6.2 -38.1M790.6 524.6l6.1 5.5M810.3 502.1l6.1 -7.8M822.6 490.7l6.2 2.8M609 578.6l6.1 -31.2M727.2 491.5l6.2 -22.7M593.2 574.3l6.2 -20.3M594.4 562.4l1.4 -1.5M596.3 560.4l0.2 -0.2M460.8 593.2l6.1 -2.8M466.9 590.4l6.2 4.9M437.5 599.6l6.1 -25.8M588 422.4l6.1 14.4M589.3 413.5l6.2 22.4M1779.5 422.8l-11 -26.9M1756.2 427.8l-11 -16.5M1712.1 418l-11 18.2M1311.4 658.4l-11 -37.2M1242.8 665.6l-11 1.1M1373.6 514.4l-11 -29.4M1398.2 497.4l-11 -29.4M1339.2 518.1l-11 -13.4M1295.2 508.4l-11 14.1M1285.5 495.1l-11 25.8M1047.3 599.8l-11 -3.5M1036.3 596.3l-11 5M860.5 696.5l-11 8.5M1042.8 542.1l-11 -36.7M1148.6 459.3l-11 -32.3M1173.2 442.3l-11 -32.3M1131.4 461.3l-11 -19.6M782.2 692.5l-11 -19.3M794.5 682l-11 -13.8M985.1 554l-11 -5.2M974.1 548.9l-11 2.6M1087.4 451.6l-11 22M738.2 679.5l-11 18.5M1082.6 444.8l-11 30.4M739.5 668.7l-11 3.7M752.2 650.9l-0.1 -0.3M751.8 649.9l-0.3 -0.6M751.3 648.7l-9.3 -23M706.4 664.7l-11 -9.5M790.6 524.6l-11 -15.1M810.3 502.1l-11 -31.6M822.6 490.7l-11 -36.6M645.9 583.9l-3.9 -3.8M609 578.6l-11 7.9M727.2 491.5l-11 26.9M593.2 574.3l-11 16.3M594.4 562.4l-5.8 12.4M460.8 593.2l-11 -27.3M466.9 590.4l-11 -16.7M437.5 599.6l-11 -33.4M588 422.4l-11 -52.7" stroke="#78c864" stroke-width="3.4" stroke-linecap="round" fill="none"/>
<path d="M1780.8 406.8l5.9 16.6M1532.2 408.9l6.2 -14.6M1556.8 391.9l6.2 11.5M1356.4 509l6.2 -24.1M1393.5 484.1l0.2 0.6M1394 485.7l0.2 0.6M1480.7 414.5l6.2 -37.7M1436.7 404.8l6.2 -37.7M1290.4 494.6l6.2 -24.1M1422.1 384.8l6.2 -14.6M904.5 700.7l6.2 -52.7M844.7 681l6.1 -23.2M839.8 676.5l6.2 -4.3M788.3 684.1l6.2 -2.1M765 688.4l6.2 -15.2M743 682.7l6.2 -16.2M745.6 660l6.1 -2.5M751.8 657.5l2.6 2.3M695.4 655.2l6.2 -45.7M651.4 645.5l6.2 -53.3M778.3 529.1l6.1 -5.9M784.4 523.3l6.2 1.3M785.7 514.2l6.2 3.4M816.5 494.2l6.2 -3.6M933.3 411.5l6.1 -14.7M957.9 394.4l6.2 11.6M744 531.7l6.2 -19.5M899 415.1l6.1 -29.8M642 580.1l6.1 -34M722 524.6l6.2 -17.8M717.1 519.7l6.2 -11.7M738.3 490.3l4.7 -15.8M732 492.5l6.1 -25.5M855 405.5l6.1 -29.8M845.3 392.2l6.1 -14.7M376.3 584.6l6.2 -44.7M544.9 449.5l6.1 -17.2M680.2 355.4l6.1 -18.5M656.9 363.1l6.1 -32.6M1780.8 406.8l-4.1 -6.5M1532.2 408.9l-11 -35.9M1556.8 391.9l-11 -35.8M1356.4 509l-11 -22.2M1393.3 483.5l-0.3 -0.6M1392.7 482.3l-0.1 -0.3M1480.7 414.5l-11 -12.8M1436.7 404.8l-11 13.3M1290.4 494.6l-11 21.3M1422.1 384.8l-11 29.9M904.5 700.7l-11 -10.3M844.7 681l-11 10.9M839.8 676.5l-11 12.5M788.3 684.1l-11 -17.4M765 688.4l-11 -9M743 682.7l-11 14.1M751.9 661.5l-6.3 -1.5M745.6 660l-11 -6.3M751.8 657.5l-11 -15.3M695.4 655.2l-11 -9.3M651.4 645.5l-11 11.9M778.3 529.1l-11 -16M784.4 523.3l-11 -15.4M785.7 514.2l-11 -15.3M816.5 494.2l-11 -35.1M933.3 411.5l-11 -28M957.9 394.4l-11 -28M744 531.7l-11 -8.1M899 415.1l-11 -12.8M642 580.1l-11 -5.6M722 524.6l-11 10.6M717.1 519.7l-11 21.2M732 492.5l-5.6 11.8M725.9 505.2l-0.1 0.3M855 405.5l-11 13.4M845.3 392.2l-11 24.8M376.3 584.6l-11 21.8M544.9 449.5l-11 -37M680.2 355.4l-11 -54.6" stroke="#83c65f" stroke-width="3.4" stroke-linecap="round" fill="none"/>
<path d="M1288.1 650.9l6.1 -19.8M1312.7 632.9l6.2 17.5M1271 652.8l6.2 -30.9M1226.9 641.3l6.2 -30.1M1222.1 634.4l6.1 -18.7M1379.7 499.2l6.2 -8.1M1385.9 491l6.2 -0.4M1392 490.6l6.1 6.7M1328.2 504.7l6.1 -33.5M1317.2 498.4l6.1 -34.2M1306.2 499.9l6.1 -33.5M1291.7 479.9l1.6 -2.2M949.9 694.4l6.2 -13.4M962.2 685.1l6.2 18.9M932.7 694.1l6.1 -33.3M871.5 689.5l6.2 -51.4M1044 518.8l6.2 18.5M783.5 668.2l6.2 7.9M754 679.3l6.2 -15.5M958.3 526.9l6.2 -30.4M744.3 668.1l6.2 -5.5M750.5 662.6l0.3 0M953.4 520.2l6.1 -19.1M734.6 653.6l6.1 -11.5M684.4 645.9l6.2 -51.3M635.6 629.5l6.1 -34.5M630.7 624.4l6.2 -15.5M761.1 526.5l6.2 -13.4M779.6 509.5l6.1 4.8M780.9 499.7l6.2 -5.1M787 494.6l6.1 -10.8M823.9 469.9l6.2 18.7M916.2 406.4l6.2 -22.9M953.1 380.9l0.1 0.3M953.5 382.2l0.1 0.3M733 523.6l6.2 -19.1M631 574.5l6.1 -34.6M723.3 508l6.1 -6.6M620 574.2l6.1 -33.7M850.2 392l6.2 -22.9M599.3 554l6.1 -15.3M455.9 573.7l6.2 16.4M409.3 586.8l6.2 -48.4M711 331l6.1 13.9M712.3 320.1l6.2 25.1M1288.1 650.9l-11 -29M1312.7 632.9l-11 -28.6M1271 652.8l-11 -18M1226.9 641.3l-11 18.5M1222.1 634.4l-11 26.7M1379.7 499.2l-11 -31.6M1385.9 491l-11 -32.4M1392 490.6l-11 -31.6M1328.2 504.7l-11 -6.3M1317.2 498.4l-11 1.4M1306.2 499.9l-11 8.6M1291.7 479.9l-3.9 10M1287.4 490.8l-0.2 0.6M1286.9 492l-0.1 0.3M949.9 694.4l-11 -33.6M962.2 685.1l-11 -33.5M932.7 694.1l-11 -25.9M871.5 689.5l-11 7M1044 518.8l-11 -28.9M783.5 668.2l-11 -8.5M754 679.3l-11 3.4M958.3 526.9l-11 19.3M744.3 668.1l-11 13.6M750.5 662.6l-11 6.1M953.4 520.2l-11 27M734.6 653.6l-11 -11.4M684.4 645.9l-11 -5.9M635.6 629.5l-11 25.7M630.7 624.4l-11 30.3M704.7 540.5l-3.8 -8.6M761.1 526.5l-11 -14.3M779.6 509.5l-11 -14.2M780.9 499.7l-11 -14.1M787 494.6l-11 -18.4M823.9 469.9l-11 -28.9M916.2 406.4l-11 -21.1M733 523.6l-11 0.9M631 574.5l-11 -0.3M723.3 508l-5 10.3M718 518.9l-0.3 0.6M620 574.2l-11 4.4M850.2 392l-11 20.3M599.3 554l-11 20.8M455.9 573.7l-5.3 -7.8M450.2 565.4l-0.2 -0.3M409.3 586.8l-11 -13.6M711 331l-11 -55.7" stroke="#8fc55a" stroke-width="3.4" stroke-linecap="round" fill="none"/>
<path d="M1762.3 406.5l6.2 -10.6M1774.6 396.5l6.2 10.3M1745.2 411.2l6.1 -23.2M1723.1 406.4l6.1 -23.2M1718.3 396.8l6.2 -10.5M1538.3 394.3l6.1 -7.9M1544.5 386.4l6.2 -0.6M1550.6 385.8l6.2 6.1M1515 396.8l6.1 -23.7M1551.9 371.2l6.1 19.4M1497.9 398.7l6.2 -32.2M1469.7 401.7l6.2 -40.2M1458.7 395.7l6.2 -41M1447.7 396.9l6.2 -40.2M1431.8 384.2l6.2 -32.2M1427 377.5l6.1 -23.7M893.5 690.4l6.2 -54.7M882.5 686.9l6.2 -54.3M1019.4 531.9l6.1 -17.9M1154.7 437.8l6.2 -10.5M1167 429.3l6.2 13M1002.3 533.5l6.2 -29.1M1120.4 441.6l6.1 -38M771.2 673.2l6.1 -6.5M777.3 666.7l6.2 1.5M772.5 659.7l3.8 5.6M1098.4 436.8l6.1 -38M749.2 666.5l6.1 -8M1088.7 423.2l5.6 -9.6M740.8 642.1l6.2 -0.5M746.9 641.6l6.1 11.5M673.4 640l6.2 -54.4M662.4 639.6l6.2 -55.1M767.3 513.1l6.1 -5.3M773.4 507.8l6.2 1.6M939.5 396.8l6.2 -7.9M945.6 388.9l6.2 -0.6M951.8 388.2l6.1 6.2M774.7 498.9l6.2 0.8M793.2 483.8l6.2 -13.4M888 402.3l6.1 -31.7M745.3 486.9l2.6 -4.3M877 396.2l6.1 -32.3M866 397.4l6.1 -31.7M604.2 559.3l6.2 -24.3M733.3 468.8l6.1 -17.3M851.5 377.5l2.5 -3.2M371.4 568.7l6.1 -17.8M551.1 432.4l6.2 -14.3M581.8 411.1l6.2 11.3M527.8 440.9l6.2 -28.4M1762.3 406.5l-11 -18.4M1774.6 396.5l-11 -18.7M1745.2 411.2l-11 -7.4M1723.1 406.4l-11 11.7M1718.3 396.8l-11 20.9M1538.3 394.3l-11 -38.3M1544.5 386.4l-11 -39.2M1550.6 385.8l-11 -38.3M1515 396.8l-11 -30.3M1551.9 371.2l-4.4 -12M1547.2 358.3l-0.1 -0.3M1546.6 356.7l-0.1 -0.3M1546.2 355.4l-0.1 -0.3M1497.9 398.7l-11 -21.9M1469.7 401.7l-11 -6M1458.7 395.7l-11 1.2M1447.7 396.9l-11 8M1431.8 384.2l-11 21.2M1427 377.5l-11 27.3M893.5 690.4l-11 -3.6M882.5 686.9l-11 2.6M1019.4 531.9l-11 -27.5M1154.7 437.8l-11 -36.1M1167 429.3l-11 -36.1M1002.3 533.5l-11 -16.1M1120.4 441.6l-11 -8.6M771.2 673.2l-11 -9.4M777.3 666.7l-11 -9.2M772.5 659.7l-3.3 -0.4M1098.4 436.8l-11 14.8M749.2 666.5l-11 13M751.4 662.2l-0.9 0.4M1088.7 423.2l-11 34.6M740.8 642.1l-11 -20.3M746.9 641.6l-11 -26M673.4 640l-11 -0.4M662.4 639.6l-11 5.9M767.3 513.1l-11 -14.2M773.4 507.8l-11 -14M939.5 396.8l-11 -29.8M945.6 388.9l-11 -30.5M951.8 388.2l-11 -29.8M774.7 498.9l-11 -10.8M793.2 483.8l-11 -23.2M888 402.3l-11 -6.1M877 396.2l-11 1.2M866 397.4l-11 8M604.2 559.3l-11 15M733.3 468.8l-11 30M851.5 377.5l-5.2 12.8M845.9 390.9l-0.3 0.6M845.4 392.1l-0.3 0.6M844.9 393.4l-0.3 0.6M844.4 394.6l-0.1 0.3M843.4 397.1l-0.1 0.3M842 400.5l-0.1 0.3M371.4 568.7l-11 34.3M551.1 432.4l-11 -46.1M581.8 411.1l-11 -57.8" stroke="#9ac355" stroke-width="3.4" stroke-linecap="round" fill="none"/>
<path d="M1768.5 395.9l6.2 0.6M1734.1 403.8l6.1 -23.8M1724.4 386.2l2.4 0.2M956 680.9l6.1 4.2M855.7 665.9l6.1 -30M1160.9 427.4l6.1 2M1109.4 433l6.1 -39.4M760.2 663.8l6.1 -6.3M766.3 657.5l6.2 2.2M755.3 658.5l6.2 -0.2M723.6 642.2l6.1 -20.4M742 625.7l2.1 8.1M744.5 635.1l0.1 0.3M750.1 512.3l6.2 -13.4M768.6 495.3l6.1 3.6M769.9 485.7l6.2 -9.4M728.1 506.7l6.2 -12.7M747.9 482.5l6.2 -17.8M743 474.5l6.1 -25.3M738.2 467l6.2 -24.7M605.5 538.7l6.2 -7.9M443.6 573.8l6.2 -7.9M449.8 565.9l6.1 7.8M398.3 573.2l6.2 -50.5M387.3 572.4l6.2 -49.3M686.4 336.9l6.2 -12.3M704.8 322l6.2 9M1768.5 395.9l-11 -19.1M1734.1 403.8l-11 2.6M1724.4 386.2l-4.5 9M1719.5 396.2l-0.2 0.3M956 680.9l-11 -35.3M855.7 665.9l-11 15.1M1160.9 427.4l-11 -37.5M1109.4 433l-11 3.8M760.2 663.8l-11 2.7M766.3 657.5l-11 1.1M755.3 658.5l-11 9.6M723.6 642.2l-11 -15.7M742 625.7l-11 -28.9M698.8 533l-4 -9.9M750.1 512.3l-11 -7.8M768.6 495.3l-11 -8.8M769.9 485.7l-11 -6.4M728.1 506.7l-11 13M747.9 482.5l-4.2 4.8M743 474.5l-11 18M738.2 467l-11 24.5M605.5 538.7l-11 23.7M443.6 573.8l-11 -33.6M449.8 565.9l-11 -27.2M398.3 573.2l-11 -0.7M387.3 572.4l-11 12.2M686.4 336.9l-11 -59.8M704.8 322l-11 -60.6" stroke="#a6c150" stroke-width="3.4" stroke-linecap="round" fill="none"/>
<path d="M1294.3 631.2l6.2 -9.9M1306.6 622.2l6.1 10.7M1259.9 634.8l6.2 -33.6M1237.9 629.2l6.2 -33.2M1228.2 615.7l5.6 -8.3M1362.6 485l6.1 -17.4M1387.2 467.9l6.2 15.5M1345.4 486.8l6.2 -26.8M1301.4 477.2l6.2 -26.8M1296.5 470.5l6.1 -17.4M850.8 657.8l6.2 -8.9M1025.6 514l6.2 -8.6M1037.9 507.3l6.1 11.5M1137.6 427l6.2 -25.3M1162.2 410l1.7 7.2M1164.1 417.8l0.2 1M1164.5 419.8l0.2 0.7M1165.1 422.1l0.1 0.3M991.3 517.4l6.2 -32.6M969.3 514.1l6.2 -33.2M1093.6 417.3l6.2 -25.3M959.6 501.1l6.2 -9.4M756.3 498.9l6.1 -5.1M762.4 493.8l6.2 1.5M799.3 470.5l6.1 -11.4M817.8 457.7l6.1 12.3M922.3 383.5l6.1 -16.6M946.9 366.5l6.2 14.4M661.7 547.4l3.6 -16.7M739.1 504.5l6.2 -13.2M763.7 488.1l6.2 -2.5M776 476.2l6.1 -15.6M905.2 385.3l6.2 -25.3M734.3 494l6.1 -5.9M746.6 486.9l0.7 -0.1M748.6 486.5l1.7 -0.4M751 486l1.7 -0.4M752.7 485.6l6.2 -6.3M758.9 479.2l6.2 -13.8M615.2 547.4l6.2 -27.4M861.2 375.7l6.2 -25.3M739.5 451.5l3 -4.1M856.3 369l6.1 -16.6M426.5 566.2l6.1 -26M377.6 550.9l0.4 0.5M557.2 418.1l6.1 -10M575.7 404.4l6.1 6.7M692.5 324.5l6.2 -5M698.7 319.6l6.1 2.5M583.1 390.6l6.2 22.9M1294.3 631.2l-11 -31.8M1306.6 622.2l-11 -31.6M1259.9 634.8l-11 -8.2M1237.9 629.2l-11 12.1M1228.2 615.7l-10.1 28M1217.9 644.4l-0.2 0.6M1217.4 645.6l-0.1 0.3M1362.6 485l-11 -25M1387.2 467.9l-11 -25M1345.4 486.8l-11 -15.6M1301.4 477.2l-11 17.4M1296.5 470.5l-11 24.6M850.8 657.8l-11 18.7M1025.6 514l-11 -30.9M1037.9 507.3l-11 -31.6M1137.6 427l-11 -23.5M1162.2 410l-1.6 -3.4M991.3 517.4l-11 -6.9M969.3 514.1l-11 12.8M1093.6 417.3l-11 27.4M959.6 501.1l-11 30.7M689.5 525l-0.9 -2.2M756.3 498.9l-11 -7.7M762.4 493.8l-11 -7.9M799.3 470.5l-11 -27.6M817.8 457.7l-11 -31.5M922.3 383.5l-11 -23.4M946.9 366.5l-11 -23.4M657 556.3l-8.8 -10.2M739.1 504.5l-11 2.3M763.7 488.1l-5.7 -1.3M756.4 486.4l-1.3 -0.3M754.4 486l-1.7 -0.4M776 476.2l-11 -10.8M905.2 385.3l-11 -14.7M734.3 494l-11 14M752.7 485.6l-0.6 0.4M758.9 479.2l-11 3.3M615.2 547.4l-11 11.8M861.2 375.7l-11 16.3M739.5 451.5l-5.7 16.7M733.4 469.2l-0.2 0.6M733 470.5l-0.3 0.9M732.4 472l-0.1 0.3M731.9 473.6l-0.1 0.3M731.5 474.9l-0.1 0.3M856.3 369l-11 23.1M426.5 566.2l-11 -27.8M377.6 550.9l-1.9 6.4M375.4 558.3l-0.2 0.6M374.9 559.9l-0.1 0.3M557.2 418.1l-11 -53.5M575.7 404.4l-11 -60.8M692.5 324.5l-11 -62.8M698.7 319.6l-11 -63.1" stroke="#b1bf4b" stroke-width="3.4" stroke-linecap="round" fill="none"/>
<path d="M1751.3 388.1l6.2 -11.3M1763.6 377.8l6.2 11.8M1729.3 383.2l6.2 -11.3M1300.4 621.2l6.2 0.9M1248.9 626.6l6.2 -34.5M1031.7 505.4l6.2 1.9M980.3 510.6l6.2 -34M729.7 621.8l6.2 -6.2M712.6 626.6l6.1 -28.3M700.9 531.9l3.6 8.3M805.5 459.1l6.2 -5.1M811.6 454l6.2 3.6M745.3 491.2l6.1 -5.3M751.4 485.9l6.2 0.6M757.6 486.5l6.1 1.6M740.4 488.1l6.2 -1.2M754 464.8l6.1 -23.4M610.3 535l6.1 -17.9M563.4 408l6.2 -4.7M569.5 403.3l6.2 1.1M663.1 330.5l6.2 -29.7M1751.3 388.1l-11 -8.1M1763.6 377.8l-11 -8.2M1729.3 383.2l-11 13.6M1300.4 621.2l-11 -32.7M1248.9 626.6l-11 2.6M1031.7 505.4l-11 -32.3M980.3 510.6l-11 3.5M729.7 621.8l-11 -23.6M712.6 626.6l-11 -17.1M668.4 536.4l-3 -5.7M700.9 531.9l-11 -20.7M805.5 459.1l-11 -30.8M811.6 454l-11 -32.2M745.3 491.2l-11 2.8M751.4 485.9l-11 2.2M757.6 486.5l-4.3 0.2M747.2 486.9l-0.7 0M740.4 488.1l-4.7 5.7M754 464.8l-11 9.7M610.3 535l-11 19M563.4 408l-11 -58.7M569.5 403.3l-11 -61.2" stroke="#bdbe46" stroke-width="3.4" stroke-linecap="round" fill="none"/>
<path d="M1757.5 376.8l6.2 1M1740.3 379.9l6.2 -11.5M1752.6 369.6l2.5 5.1M1735.4 372l6.2 1M1277.1 621.9l6.1 -22.5M1301.7 604.3l3.5 12.5M1305.5 617.8l0.2 0.6M1233.1 611.2l6.1 -21.9M1521.2 373.1l6.2 -17.1M1545.8 356l6.2 15.2M1368.7 467.5l6.2 -8.9M1381 459l6.1 8.9M1486.8 376.8l6.2 -35.7M1334.4 471.2l6.2 -28.6M1312.4 466.4l6.2 -28.6M1442.8 367.1l6.2 -35.7M1302.7 453.1l6.2 -8.9M1433.1 353.8l6.2 -17.1M921.7 668.2l6.1 -37.4M1008.4 504.4l6.1 -21.3M1033 489.9l2.3 8.5M1035.5 499l0.3 1M964.4 496.5l6.1 -22.1M735.9 615.6l6.1 10.1M646.6 607.8l6.1 -38.1M782.2 460.6l6.2 -17.8M812.9 441.1l0.4 1.3M813.5 443.3l0.2 0.6M648.2 546.1l6.2 -29.7M765 465.4l6.1 -20M637.2 539.9l6.2 -30.2M626.2 540.6l6.2 -29.4M533.9 412.5l6.1 -26.2M706.1 295.8l6.2 24.3M1757.5 376.8l-11 -8.4M1740.3 379.9l-11 3.3M1752.6 369.6l-2.9 0.9M1735.4 372l-11 14.3M1277.1 621.9l-11 -20.7M1301.7 604.3l-2.1 -3.8M1299.3 599.8l-0.2 -0.3M1233.1 611.2l-11 23.2M1521.2 373.1l-11 -33.8M1545.8 356l-11 -33.8M1368.7 467.5l-11 -26.8M1381 459l-11 -26.8M1486.8 376.8l-11 -15.2M1334.4 471.2l-11 -7M1312.4 466.4l-11 10.8M1442.8 367.1l-11 17.1M1302.7 453.1l-11 26.8M1433.1 353.8l-11 31M921.7 668.2l-11 -20.2M1008.4 504.4l-11 -19.6M1033 489.9l-1.4 -2.7M964.4 496.5l-11 23.6M735.9 615.6l-11 -28.3M646.6 607.8l-11 21.8M782.2 460.6l-11 -15.2M812.9 441.1l-0.3 -0.6M812.3 439.9l-0.2 -0.3M648.2 546.1l-11 -6.2M765 465.4l-11 -0.7M637.2 539.9l-11 0.6M626.2 540.6l-11 6.9" stroke="#c8bc41" stroke-width="3.4" stroke-linecap="round" fill="none"/>
<path d="M1746.4 368.4l6.2 1.2M1374.9 458.7l6.2 0.4M1504 366.5l6.1 -27.2M1351.5 460l6.1 -19.3M1376.1 443l5.2 15.4M1381.5 459l0.1 0.3M1323.4 464.2l6.2 -29.3M1307.5 450.4l6.1 -19.3M1438 352l6.1 -27.2M938.9 660.8l6.2 -15.2M951.2 651.6l6.2 23.8M866.7 650.3l6.1 -35.6M701.6 609.4l6.1 -34.7M641.7 595l6.2 -16.5M687.7 524.2l0.9 -1.4M928.5 366.9l6.2 -8.6M934.6 358.4l6.2 0M940.8 358.4l6.1 8.1M894.2 370.6l6.2 -26.8M883.2 363.9l6.2 -27.4M749.2 449.2l6.2 -25.3M872.2 365.8l6.2 -26.8M744.3 442.3l6.1 -18.9M862.5 352.5l6.2 -8.6M382.4 539.9l6.1 -21M1746.4 368.4l-11 3.5M1374.9 458.7l-11 -27.4M1504 366.5l-11 -25.4M1351.5 460l-11 -17.4M1376.1 443l-3.6 -5.7M1323.4 464.2l-11 2.2M1307.5 450.4l-11 20.1M1438 352l-11 25.5M938.9 660.8l-11 -30M951.2 651.6l-11 -29.9M866.7 650.3l-11 15.6M701.6 609.4l-11 -14.8M641.7 595l-11 29.3M678.9 525.2l-7.4 -15M928.5 366.9l-11 -25M934.6 358.4l-11 -25.5M940.8 358.4l-11 -25M894.2 370.6l-11 -6.7M883.2 363.9l-11 1.9M749.2 449.2l-11 17.9M872.2 365.8l-11 9.9M744.3 442.3l-11 26.5M862.5 352.5l-11 25M382.4 539.9l-11 28.8" stroke="#d0bc3f" stroke-width="3.4" stroke-linecap="round" fill="none"/>
<path d="M1527.3 356l6.1 -8.7M1539.6 347.5l6.2 8.6M1475.8 361.5l6.2 -38M1453.8 356.7l6.2 -38M1439.3 336.7l0.6 -0.8M945 645.6l6.1 6.1M861.8 635.8l6.2 -12.6M1143.7 401.7l6.2 -11.9M1156 393.2l6.2 16.8M1126.6 403.6l6.2 -28M1104.6 398.7l6.2 -28M1099.7 392l6.2 -11.9M731 596.8l2.8 12.1M734 609.6l0.1 0.3M688.6 522.8l6.2 0.3M694.8 523.1l6.1 8.8M665.3 530.7l6.1 -20.5M689.9 511.2l0.9 2.5M691.1 514.4l0.1 0.3M691.6 515.7l0.1 0.3M911.3 360.1l6.1 -18.1M935.9 343l5.8 15.8M771.2 445.5l6.2 -21.6M621.3 520.1l6.1 -19.9M867.3 350.4l6.1 -18.1M616.5 517.1l6.2 -8.9M432.6 540.2l6.2 -1.5M438.8 538.7l6.1 18.9M577 369.7l6.1 20.9M1527.3 356l-11 -36.1M1539.6 347.5l-11 -36.1M1475.8 361.5l-11 -6.9M1453.8 356.7l-11 10.4M1439.3 336.7l-1.2 3.5M1437.9 340.9l-0.2 0.6M1437.5 342.1l-0.2 0.6M1437 343.7l-0.2 0.6M945 645.6l-11 -31.6M861.8 635.8l-11 22M1143.7 401.7l-11 -26.1M1156 393.2l-11 -26.1M1126.6 403.6l-11 -10M1104.6 398.7l-11 18.6M1099.7 392l-11 31.2M731 596.8l-11 -27.1M688.6 522.8l-11 -22.8M694.8 523.1l-11 -22.2M665.3 530.7l-11 -14.3M689.9 511.2l-1.2 -1.6M911.3 360.1l-11 -16.3M935.9 343l-3.4 -5M771.2 445.5l-11 -4.1M621.3 520.1l-11 14.9M867.3 350.4l-11 18.6M616.5 517.1l-11 21.6M432.6 540.2l-11 -27.7M438.8 538.7l-11 -22" stroke="#d7bc3e" stroke-width="3.4" stroke-linecap="round" fill="none"/>
<path d="M1283.3 599.4l6.2 -10.8M1295.6 590.6l6.1 13.6M1266.1 601.2l6.1 -24.4M1244.1 596l6.1 -24.1M1239.2 589.2l6.2 -10.4M1533.5 347.2l6.2 0.2M1464.8 354.6l6.2 -38.8M910.7 648l6.1 -40.5M877.7 638.1l6.1 -39.6M868 623.2l0.4 0.5M1014.6 483.1l6.2 -10M1026.9 475.7l6.1 14.2M1149.9 389.9l6.1 3.4M997.4 484.8l6.1 -23.7M1115.6 393.6l6.2 -29M975.4 480.9l6.1 -24.1M970.6 474.4l6.2 -10.5M718.7 598.3l6.2 -10.9M657.6 592.2l6.1 -40.9M647.9 578.6l0.6 0.4M788.3 442.8l6.1 -14.6M806.8 426.2l6.1 14.9M760.2 441.4l6.2 -24.2M750.5 423.4l6.2 -8.9M415.4 538.4l6.1 -25.9M669.2 300.8l6.1 -23.8M1283.3 599.4l-11 -22.5M1295.6 590.6l-11 -22.4M1266.1 601.2l-11 -9M1244.1 596l-11 15.2M1239.2 589.2l-11 26.5M1533.5 347.2l-11 -36.9M1464.8 354.6l-11 2.1M910.7 648l-11 -12.2M877.7 638.1l-11 12.2M868 623.2l-3.3 7.7M864.4 631.5l-0.1 0.3M864 632.5l-0.1 0.3M1014.6 483.1l-11 -21.9M1026.9 475.7l-11 -22.4M1149.9 389.9l-11 -27.1M997.4 484.8l-11 -8.3M1115.6 393.6l-11 5.2M975.4 480.9l-11 15.7M970.6 474.4l-11 26.6M718.7 598.3l-11 -23.5M657.6 592.2l-11 15.6M647.9 578.6l-3.2 8.8M644.4 588.1l-0.2 0.6M644 589.3l-0.2 0.6M643.5 590.6l-0.1 0.3M642.9 592.2l-0.1 0.3M788.3 442.8l-11 -18.9M806.8 426.2l-11 -22.2M760.2 441.4l-11 7.7M750.5 423.4l-11 28.1M415.4 538.4l-11 -15.7" stroke="#debb3c" stroke-width="3.4" stroke-linecap="round" fill="none"/>
<path d="M1289.4 588.6l6.2 2M1255.1 592.2l6.1 -24.9M1245.4 578.8l0.3 0.1M1357.7 440.8l6.2 -9.5M1370 432.2l6.1 10.7M1340.5 442.6l6.1 -20.5M1318.5 437.8l6.1 -20.5M1313.7 431.1l6.2 -9.5M899.7 635.7l6.1 -42M1020.7 473l6.2 2.6M986.4 476.6l6.1 -24.6M724.9 587.4l6.1 9.4M690.6 594.6l6.1 -39.2M794.5 428.3l6.2 -6.4M654.3 516.4l6.1 -21.5M632.3 511.2l6.1 -21.2M388.6 518.8l3.8 6M540.1 386.3l6.2 -21.8M700 275.3l6.1 20.5M1289.4 588.6l-11 -23.1M1255.1 592.2l-11 3.8M1245.4 578.8l-0.6 1.6M1357.7 440.8l-11 -18.6M1370 432.2l-11 -18.6M1340.5 442.6l-11 -7.7M1318.5 437.8l-11 12.6M1313.7 431.1l-11 22M899.7 635.7l-11 -3.2M1020.7 473l-11 -22.9M986.4 476.6l-11 4.3M976.7 463.9l-1 2.5M724.9 587.4l-11 -27M690.6 594.6l-11 -9.1M794.5 428.3l-11 -21.5M654.3 516.4l-11 -6.7M632.3 511.2l-11 8.9M388.6 518.8l-11 32" stroke="#e6bb3a" stroke-width="3.4" stroke-linecap="round" fill="none"/>
<path d="M1510.2 339.3l6.2 -19.4M1534.8 322.2l6.2 18.7M1363.8 431.2l6.2 1M1493 341.1l6.1 -30.1M1329.5 434.9l6.1 -20.9M1319.8 421.6l1 0.2M1449 331.5l6.1 -30.1M1444.1 324.8l6.2 -19.4M927.8 630.7l6.2 -16.7M888.7 632.6l6.1 -41.7M679.6 585.5l6.1 -41.7M668.6 584.5l6.1 -42.2M671.5 510.2l6.2 -10.2M683.8 500.8l6.1 10.4M800.6 421.8l6.2 4.4M917.5 342l6.2 -9.1M923.6 332.9l6.2 0.6M929.8 333.4l6.1 9.6M777.3 423.9l6.1 -17.2M900.3 343.8l6.1 -19.1M643.3 509.8l6.1 -21.8M889.3 336.5l6.1 -19.5M755.3 423.9l6.1 -19.5M878.3 339l6.1 -19.1M627.5 500.1l6.2 -9.8M873.5 332.3l6.2 -9.1M879.6 323.2l2.1 0.2M427.7 516.7l4.7 21.6M432.6 538.9l0.1 0.3M404.4 522.7l6.1 -25.2M393.4 523.1l6.1 -23.5M1510.2 339.3l-11 -28.3M1534.8 322.2l-11 -28.3M1363.8 431.2l-11 -19.1M1493 341.1l-11 -17.6M1329.5 434.9l-11 2.9M1319.8 421.6l-2.1 4.2M1449 331.5l-11 20.6M1444.1 324.8l-11 29M927.8 630.7l-11 -23.2M888.7 632.6l-11 5.5M679.6 585.5l-11 -1M668.6 584.5l-11 7.7M671.5 510.2l-11 -15.3M683.8 500.8l-11 -15.2M800.6 421.8l-11 -22.6M917.5 342l-11 -17.3M923.6 332.9l-11 -17.6M929.8 333.4l-11 -17.3M777.3 423.9l-11 -6.7M900.3 343.8l-11 -7.3M643.3 509.8l-11 1.4M889.3 336.5l-11 2.4M755.3 423.9l-11 18.4M878.3 339l-11 11.4M627.5 500.1l-11 17M873.5 332.3l-11 20.2M879.6 323.2l-3.3 6.2M427.7 516.7l-10.5 -10.5M404.4 522.7l-11 0.5M393.4 523.1l-11 16.7" stroke="#eebb39" stroke-width="3.4" stroke-linecap="round" fill="none"/>
<path d="M1272.2 576.9l6.2 -11.4M1284.5 568.2l6.1 15.7M940.1 621.7l4.7 21.6M945 644l0.2 1M872.8 614.7l6.2 -15.4M1015.9 453.3l6.1 16M1132.7 375.6l6.2 -12.8M1145 367.1l6.2 19.5M1110.7 370.7l6.2 -12.8M720 569.7l1.8 8.5M722 579.2l0.1 0.7M652.7 569.7l6.2 -17.5M677.6 500l6.2 0.8M766.3 417.3l6.1 -18.9M633.6 490.4l3.8 0.8M570.8 353.3l6.2 16.4M1272.2 576.9l-11 -9.6M1284.5 568.2l-11 -9.5M940.1 621.7l-11 -23.1M872.8 614.7l-11 21.2M1015.9 453.3l-11 -9.5M1132.7 375.6l-11 -11M1145 367.1l-11 -11M1110.7 370.7l-11 21.3M720 569.7l-11 -21.6M652.7 569.7l-11 25.4M677.6 500l-11 -15.6M766.3 417.3l-11 6.6M633.6 490.4l-5.9 9.5" stroke="#f5bb37" stroke-width="3.4" stroke-linecap="round" fill="none"/>
<path d="M1250.2 571.8l6.2 -11.3M1346.7 422.1l6.2 -10M1359 413.6l6.1 12M1324.7 417.3l6.2 -10M1003.6 461.2l6.2 -11M1138.9 362.7l6.1 4.3M1121.7 364.6l6.2 -13.2M1134 356.1l0.7 2.2M981.6 456.8l6.2 -11.2M1116.9 357.9l5.6 3.9M707.7 574.8l6.2 -14.4M660.5 494.9l6.2 -10.5M672.8 485.6l6.1 11.5M795.8 404l6.1 16.6M906.5 324.7l6.2 -9.5M918.8 316.1l6.1 10.6M638.5 489.9l6.2 -10.3M761.5 404.4l6.2 -8.9M884.5 319.8l6.2 -9.5M421.6 512.5l6.2 4.1M546.2 364.5l6.1 -15.2M675.4 277l6.2 -15.3M693.8 261.4l6.2 13.9M1250.2 571.8l-11 17.4M1346.7 422.1l-11 -8.1M1359 413.6l-11 -8.1M1324.7 417.3l-11 13.8M1003.6 461.2l-11 -9.2M1138.9 362.7l-11 -11.3M1121.7 364.6l-11 6.1M1134 356.1l-0.6 0.3M981.6 456.8l-11 17.6M1116.9 357.9l-6.1 12.3M707.7 574.8l-11 -19.3M660.5 494.9l-11 -6.9M672.8 485.6l-11 -6.8M795.8 404l-6.1 -5.2M788.6 397.9l-2.6 -2.2M785.5 395.3l-0.8 -0.6M906.5 324.7l-11 -7.6M918.8 316.1l-11 -7.6M638.5 489.9l-11 10.2M761.5 404.4l-11 19M884.5 319.8l-11 12.5M421.6 512.5l-11 -15" stroke="#f7bd36" stroke-width="3.4" stroke-linecap="round" fill="none"/>
<path d="M1278.4 565.4l6.2 2.8M1261.2 567.2l6.2 -11.6M1273.5 558.8l1.2 3.2M1256.4 560.6l6.2 3M1516.3 319.8l6.1 -9.6M1528.6 311.3l6.2 10.9M1352.8 412.2l6.2 1.4M1482 323.5l6.1 -32M1335.7 414l6.2 -10.1M1348 405.5l2.1 4.2M1330.8 407.3l6.2 1.4M1460 318.7l6.1 -32M1450.3 305.4l6.1 -9.6M934 614l6.1 7.7M879 599.3l2.2 3.1M1009.7 450.2l6.2 3.2M992.6 451.9l6.2 -11.4M1004.9 443.8l0.9 2.5M987.7 445.6l6.2 3M658.9 552.1l2.6 2.7M666.6 484.4l6.2 1.2M783.5 406.8l6.2 -7.6M789.6 399.2l6.2 4.7M912.6 315.2l6.2 0.9M649.5 488l6.2 -10.6M661.8 478.8l1.8 3.6M784.8 394.7l0.1 0.3M895.5 317.1l6.2 -9.6M907.8 308.5l2.7 4.7M644.6 479.6l6.2 1.5M767.6 395.6l4.8 3.2M890.6 310.4l6.2 0.9M399.6 499.6l6.2 10M564.7 343.6l6.1 9.7M1278.4 565.4l-11 -9.8M1261.2 567.2l-11 4.6M1273.5 558.8l-1.3 0.5M1256.4 560.6l-11 18.2M1516.3 319.8l-11 -30.2M1528.6 311.3l-11 -30.2M1352.8 412.2l-11 -8.3M1482 323.5l-11 -7.7M1335.7 414l-11 3.3M1348 405.5l-2.3 0.7M1330.8 407.3l-11 14.2M1460 318.7l-11 12.7M1450.3 305.4l-11 31.3M934 614l-11 -24.3M879 599.3l-11 23.9M1009.7 450.2l-11 -9.6M992.6 451.9l-11 4.9M1004.9 443.8l-1.2 0.5M987.7 445.6l-11 18.3M658.9 552.1l-11 26.4M666.6 484.4l-11 -7M783.5 406.8l-11 -8.4M789.6 399.2l-11 -9.2M912.6 315.2l-11 -7.7M649.5 488l-11 1.9M661.8 478.8l-3 0.6M895.5 317.1l-11 2.8M907.8 308.5l-3.2 0.8M644.6 479.6l-11 10.8M767.6 395.6l-4.7 8.2M890.6 310.4l-11 12.8M399.6 499.6l-11 19.2" stroke="#f9bf34" stroke-width="3.4" stroke-linecap="round" fill="none"/>
<path d="M1267.4 555.6l6.2 3.1M1522.5 310.3l6.2 1M1341.8 403.9l6.2 1.6M1471 315.8l6.1 -32.7M916.8 607.5l6.2 -17.8M929.1 598.6l1.2 6.2M883.8 598.5l6.2 -17.2M998.7 440.5l6.2 3.3M1127.9 351.4l6.1 4.7M713.9 560.4l6.1 9.4M663.7 551.3l6.2 -18.3M655.6 477.4l6.2 1.4M772.5 398.4l6.2 -8.4M778.6 390l6.2 4.7M901.6 307.5l6.2 1.1M410.6 497.5l6.2 8.1M552.4 349.3l6.2 -7.2M558.5 342.2l6.2 1.5M681.5 261.7l6.2 -5.3M687.7 256.5l6.1 4.9M1267.4 555.6l-11 4.9M1522.5 310.3l-11 -30.8M1341.8 403.9l-11 3.4M1471 315.8l-11 2.9M916.8 607.5l-11 -13.8M929.1 598.6l-3.6 -4.4M883.8 598.5l-11 16.2M998.7 440.5l-11 5.1M1127.9 351.4l-11 6.5M713.9 560.4l-11 -21.7M663.7 551.3l-11 18.4M655.6 477.4l-11 2.2M772.5 398.4l-11 6M778.6 390l-11 5.6M901.6 307.5l-11 2.9M410.6 497.5l-11 2.1" stroke="#fac133" stroke-width="3.4" stroke-linecap="round" fill="none"/>
<path d="M1499.1 311l6.2 -21.3M1523.7 294l4.1 14.5M1528.1 309.1l0.1 0.3M1455.1 301.3l6.2 -21.3M696.7 555.4l6.2 -16.8M709 548.2l0.6 3.3M1499.1 311l-11 -19.5M1523.7 294l-2.6 -4.6M1520.8 288.7l-0.2 -0.3M1455.1 301.3l-11 23.4M696.7 555.4l-11 -11.6M709 548.2l-2 -2.3" stroke="#fcc332" stroke-width="3.4" stroke-linecap="round" fill="none"/>
<path d="M923 589.7l6.1 9M905.8 593.7l6.2 -18.3M894.8 590.8l6.2 -18.2M685.7 543.9l6.2 -18.2M674.7 542.3l6.2 -18.6M923 589.7l-11 -14.3M905.8 593.7l-11 -2.9M894.8 590.8l-11 7.7M685.7 543.9l-11 -1.6M674.7 542.3l-11 9" stroke="#fbcc2d" stroke-width="3.4" stroke-linecap="round" fill="none"/>
<path d="M890 581.3l5.4 8.3M702.9 538.6l6.1 9.6M669.9 533l5.5 7.2M890 581.3l-11 18M702.9 538.6l-11 -12.9M669.9 533l-11 19.2" stroke="#fbd528" stroke-width="3.4" stroke-linecap="round" fill="none"/>
<path d="M1505.3 289.7l6.1 -10.2M1517.6 281.2l6.2 12.8M1488.1 291.5l6.2 -22.6M1466.1 286.7l6.2 -22.6M1461.3 280l6.1 -10.2M1505.3 289.7l-11 -20.7M1517.6 281.2l-11 -20.7M1488.1 291.5l-11 -8.4M1466.1 286.7l-11 14.6M1461.3 280l-11 25.3" stroke="#fade23" stroke-width="3.4" stroke-linecap="round" fill="none"/>
<path d="M1511.4 279.5l6.2 1.7M1477.1 283.2l6.2 -23M1467.4 269.8l1 0.3M912 575.4l6.1 9.7M901 572.7l6.1 9.8M691.9 525.7l6.1 9.5M680.9 523.7l6.1 9.1M1511.4 279.5l-11 -21.1M1477.1 283.2l-11 3.5M1467.4 269.8l-1.7 4M1465.5 274.5l-0.1 0.3M912 575.4l-11 -2.7M901 572.7l-11 8.6M691.9 525.7l-11 -2M680.9 523.7l-11 9.3" stroke="#fae71e" stroke-width="3.4" stroke-linecap="round" fill="none"/>
<path d="M1494.3 269l6.1 -10.7M1500.4 258.3l6.2 2.1M1506.6 260.5l6.2 14M1483.3 260.2l6.1 -10.8M1489.4 249.4l6.2 2.3M1495.6 251.6l1.6 3.7M1472.3 264.1l6.1 -10.7M1478.4 253.5l6.2 2.1M1494.3 269l-11 -8.8M1500.4 258.3l-11 -9M1506.6 260.5l-11 -8.8M1483.3 260.2l-11 4M1489.4 249.4l-11 4.1M1495.6 251.6l-2.2 0.8M1472.3 264.1l-11 15.9M1478.4 253.5l-11 16.3" stroke="#f9f019" stroke-width="3.4" stroke-linecap="round" fill="none"/>
<path d="M644.2 415.8L638.2 419.8L632.2 425.8L629.2 432.2L629.2 497.2L632.8 491.2L644.8 479.2L656.8 477.2L662.2 478.8L672.8 484.8L684.2 500.2L691.2 511.8L730.2 590.8L733.2 592.2L746.8 614.2L750.8 610.2L758.8 621.8L765.2 612.2L769.8 617.8L777.2 602.2L779.8 604.8L780.8 603.8L786.8 586.2L788.2 587.2L792.2 574.8L793.8 568.2L794.8 569.2L797.8 559.8L798.2 554.2L799.2 553.2L800.8 554.8L802.2 543.8L802.8 543.2L804.2 544.8L804.2 540.8L805.2 540.8L805.2 433.8L802.8 427.2L794.2 418.8L779.8 411.2L759.2 405.2L735.2 401.8L705.8 401.2L685.2 403.2L660.8 408.8ZM778.8 459.8L776.2 461.2L762.2 465.2L745.2 468.2L737.8 468.2L738.8 462.8L739.8 461.8L740.8 462.2L742.2 460.8L745.2 463.2L750.2 443.2L750.8 442.8L753.2 445.8L755.2 444.8L758.2 448.2L760.8 438.8L763.8 442.8L768.2 444.8L769.8 448.2L771.2 445.2L774.8 449.8ZM1248.8 286.2L1218.2 286.8L1189.8 290.8L1164.8 298.2L1155.2 302.8L1147.8 307.8L1141.2 314.2L1137.8 321.8L1137.8 359.2L1145.8 367.2L1150.8 378.8L1150.2 379.2L1130.2 375.8L1109.2 373.8L1067.2 373.2L1037.2 375.8L1008.2 380.8L979.2 389.2L966.2 394.8L956.2 400.2L947.8 406.2L939.8 414.2L935.2 421.8L933.2 430.2L933.2 568.8L934.8 565.2L935.2 570.2L937.8 563.8L938.8 564.8L940.2 578.8L942.2 568.2L943.2 568.2L946.2 591.2L948.2 579.8L949.2 579.8L951.2 589.8L950.8 594.8L953.2 606.2L954.8 598.8L955.8 597.8L961.8 619.8L961.2 621.2L963.8 612.2L969.8 632.8L971.2 626.8L972.2 625.8L978.8 642.8L981.2 634.8L985.8 645.2L988.2 645.8L990.8 640.8L992.2 643.8L993.8 643.8L1013.2 614.8L1025.8 601.2L1036.2 596.2L1043.2 595.8L1053.8 599.2L1071.8 619.2L1099.2 663.2L1117.2 688.2L1123.2 694.2L1139.2 703.8L1141.2 702.2L1148.8 705.8L1148.8 749.2L1149.8 750.2L1150.8 770.2L1153.8 774.8L1156.2 793.2L1157.8 795.8L1157.8 797.8L1163.8 803.8L1164.8 808.8L1166.2 807.2L1170.8 820.8L1171.8 821.8L1173.8 819.2L1175.8 823.8L1194.8 831.2L1215.2 836.8L1218.8 833.8L1228.2 837.8L1233.2 833.8L1244.2 836.8L1247.8 832.8L1252.8 830.8L1262.8 833.2L1269.8 826.8L1278.2 829.2L1284.2 821.8L1291.2 824.2L1295.8 815.8L1301.8 819.2L1305.2 809.2L1307.8 811.2L1310.8 806.2L1311.8 801.2L1312.8 800.2L1314.8 802.2L1318.2 787.2L1319.8 789.2L1321.8 772.2L1322.2 771.8L1323.2 773.2L1324.8 752.2L1324.2 573.2L1321.8 568.2L1317.8 563.8L1311.8 559.2L1303.2 554.8L1285.8 548.8L1265.8 545.2L1263.8 543.8L1275.8 518.2L1302.2 452.8L1312.8 431.8L1329.8 408.8L1332.2 406.8L1338.8 404.8L1338.8 322.2L1335.2 314.8L1331.2 310.2L1322.2 303.8L1312.2 298.8L1301.2 294.8L1274.8 288.8ZM1300.8 600.8L1285.2 606.2L1267.2 609.8L1242.8 611.8L1231.8 611.8L1229.8 610.8L1239.2 588.2L1255.8 561.2L1267.2 555.2L1273.2 558.2L1285.2 568.8ZM972.8 470.2L986.8 446.2L998.8 440.2L1004.8 443.2L1016.8 453.8L1032.2 486.2L1030.2 486.8L1018.2 484.8L996.8 479.8L973.8 471.8Z" fill="#ff0000" fill-opacity="0.5" fill-rule="evenodd"/>
<path d="M1324.8 579.2L1323.2 584.8L1318.2 590.8L1310.8 596.2L1300.8 600.8L1307.8 621.2L1307.2 622.8L1308.2 622.8L1308.2 626.2L1318.2 657.8L1315.8 658.2L1319.8 684.2L1323.2 694.8L1322.2 695.8L1324.8 725.2ZM629.2 438.2L629.2 497.2L632.8 491.2L644.8 479.2L656.8 477.2L662.2 478.8L674.2 486.2L685.2 501.8L696.8 522.2L705.8 541.2L722.2 510.2L727.2 490.2L728.8 489.8L732.2 491.2L737.2 468.8L727.8 469.8L699.8 469.2L683.2 467.2L668.8 464.2L657.2 460.8L643.2 454.2L633.2 446.2L630.8 442.8ZM805.2 437.2L803.8 442.8L797.2 450.2L790.8 454.8L779.2 459.8L789.2 490.8L787.8 493.8L788.8 497.2L798.2 515.8L797.8 519.2L799.2 528.2L805.2 539.8ZM933.2 432.8L933.2 568.8L946.8 536.2L959.2 500.8L972.2 471.2L956.8 463.2L945.2 454.8L936.8 444.8L933.8 437.8ZM1338.8 328.8L1337.2 333.8L1329.8 342.2L1321.8 347.8L1308.8 353.8L1298.2 357.2L1277.8 361.8L1255.8 364.2L1233.8 364.8L1199.8 361.8L1179.2 357.2L1167.2 353.2L1156.2 348.2L1147.2 342.2L1141.2 336.2L1138.2 331.2L1137.8 328.2L1137.8 359.2L1145.8 367.2L1156.8 392.8L1169.2 434.2L1180.8 477.2L1171.8 480.2L1146.8 485.8L1106.8 490.2L1064.2 490.2L1032.2 486.8L1044.8 518.8L1053.2 544.8L1063.2 569.2L1065.2 567.8L1069.8 549.2L1073.2 547.8L1080.2 547.2L1083.8 528.8L1094.8 529.2L1096.2 518.2L1097.8 516.8L1096.8 516.2L1097.8 509.2L1098.8 508.2L1109.2 512.2L1110.8 506.8L1124.8 514.8L1135.8 524.2L1135.2 526.8L1146.2 537.8L1148.2 541.8L1147.8 542.8L1150.2 545.8L1157.8 560.8L1157.8 561.8L1151.2 568.2L1148.8 574.2L1148.8 734.2L1149.8 725.2L1151.8 727.8L1151.8 725.2L1152.8 724.2L1155.8 726.8L1156.8 726.2L1159.2 727.8L1166.8 728.8L1174.2 725.2L1183.2 716.2L1190.8 705.2L1201.2 684.2L1215.8 649.8L1227.8 615.2L1235.2 598.2L1235.8 575.2L1236.2 574.8L1239.2 576.8L1245.2 576.2L1252.8 565.2L1263.2 545.2L1256.2 543.8L1235.8 542.8L1235.8 513.2L1251.2 513.8L1255.8 511.2L1262.8 514.8L1266.8 513.8L1276.8 515.8L1302.2 452.8L1312.8 431.8L1329.8 408.8L1332.2 406.8L1338.8 404.8Z" fill="#ff0000" fill-opacity="0.5" fill-rule="evenodd"/>
<path d="M1150.8 379.2L1158.8 398.2L1180.8 464.8L1185.2 475.8L1181.2 477.2L1190.2 508.2L1200.8 536.8L1204.8 544.2L1203.2 545.8L1190.8 547.8L1174.2 552.8L1158.2 561.2L1169.8 580.8L1179.8 592.8L1185.2 597.2L1188.8 605.2L1188.2 605.8L1173.2 601.2L1162.2 595.8L1151.8 586.8L1148.8 580.2L1148.8 705.8L1152.8 706.8L1158.2 705.2L1167.8 708.2L1170.2 704.2L1175.8 705.8L1181.2 701.8L1186.2 702.8L1188.8 701.8L1190.2 698.8L1193.8 699.2L1201.2 684.2L1215.8 649.8L1227.8 615.2L1235.8 596.8L1235.8 430.8L1233.2 421.2L1228.8 414.2L1221.8 407.2L1212.8 400.8L1202.8 395.2L1187.2 388.8L1171.2 383.8ZM1191.2 602.2L1193.2 605.8L1192.8 606.8L1188.8 605.8Z" fill="#ff0000" fill-opacity="0.5" fill-rule="evenodd"/>
<path d="M1224.2 611.2L1224.8 616.2L1227.2 616.2L1229.8 611.2ZM1193.8 607.2L1195.8 612.2L1199.2 608.8L1200.8 612.2L1206.8 612.2L1210.8 610.2L1212.2 615.2L1215.8 610.8L1216.8 613.8L1220.2 612.2L1220.8 614.8L1222.8 611.2L1210.8 610.2ZM1205.2 545.2L1211.8 558.8L1218.8 567.2L1227.2 570.8L1228.2 570.2L1235.8 574.8L1235.8 543.2L1222.2 543.2ZM1235.8 433.8L1235.2 438.8L1232.2 445.2L1222.8 456.2L1214.8 462.2L1205.2 467.8L1185.2 475.8L1191.2 492.8L1201.2 516.2L1204.8 515.8L1209.2 512.2L1217.2 514.2L1222.2 513.8L1226.8 511.2L1235.8 512.8Z" fill="#ff0000" fill-opacity="0.5" fill-rule="evenodd"/>
<clipPath id="tc"><path d="M644.2 415.8L638.2 419.8L632.2 425.8L629.2 432.2L629.2 497.2L632.8 491.2L644.8 479.2L656.8 477.2L662.2 478.8L672.8 484.8L684.2 500.2L691.2 511.8L730.2 590.8L733.2 592.2L746.8 614.2L750.8 610.2L758.8 621.8L765.2 612.2L769.8 617.8L777.2 602.2L779.8 604.8L780.8 603.8L786.8 586.2L788.2 587.2L792.2 574.8L793.8 568.2L794.8 569.2L797.8 559.8L798.2 554.2L799.2 553.2L800.8 554.8L802.2 543.8L802.8 543.2L804.2 544.8L804.2 540.8L805.2 540.8L805.2 433.8L802.8 427.2L794.2 418.8L779.8 411.2L759.2 405.2L735.2 401.8L705.8 401.2L685.2 403.2L660.8 408.8ZM778.8 459.8L776.2 461.2L762.2 465.2L745.2 468.2L737.8 468.2L738.8 462.8L739.8 461.8L740.8 462.2L742.2 460.8L745.2 463.2L750.2 443.2L750.8 442.8L753.2 445.8L755.2 444.8L758.2 448.2L760.8 438.8L763.8 442.8L768.2 444.8L769.8 448.2L771.2 445.2L774.8 449.8ZM1248.8 286.2L1218.2 286.8L1189.8 290.8L1164.8 298.2L1155.2 302.8L1147.8 307.8L1141.2 314.2L1137.8 321.8L1137.8 359.2L1145.8 367.2L1150.8 378.8L1150.2 379.2L1130.2 375.8L1109.2 373.8L1067.2 373.2L1037.2 375.8L1008.2 380.8L979.2 389.2L966.2 394.8L956.2 400.2L947.8 406.2L939.8 414.2L935.2 421.8L933.2 430.2L933.2 568.8L934.8 565.2L935.2 570.2L937.8 563.8L938.8 564.8L940.2 578.8L942.2 568.2L943.2 568.2L946.2 591.2L948.2 579.8L949.2 579.8L951.2 589.8L950.8 594.8L953.2 606.2L954.8 598.8L955.8 597.8L961.8 619.8L961.2 621.2L963.8 612.2L969.8 632.8L971.2 626.8L972.2 625.8L978.8 642.8L981.2 634.8L985.8 645.2L988.2 645.8L990.8 640.8L992.2 643.8L993.8 643.8L1013.2 614.8L1025.8 601.2L1036.2 596.2L1043.2 595.8L1053.8 599.2L1071.8 619.2L1099.2 663.2L1117.2 688.2L1123.2 694.2L1139.2 703.8L1141.2 702.2L1148.8 705.8L1148.8 749.2L1149.8 750.2L1150.8 770.2L1153.8 774.8L1156.2 793.2L1157.8 795.8L1157.8 797.8L1163.8 803.8L1164.8 808.8L1166.2 807.2L1170.8 820.8L1171.8 821.8L1173.8 819.2L1175.8 823.8L1194.8 831.2L1215.2 836.8L1218.8 833.8L1228.2 837.8L1233.2 833.8L1244.2 836.8L1247.8 832.8L1252.8 830.8L1262.8 833.2L1269.8 826.8L1278.2 829.2L1284.2 821.8L1291.2 824.2L1295.8 815.8L1301.8 819.2L1305.2 809.2L1307.8 811.2L1310.8 806.2L1311.8 801.2L1312.8 800.2L1314.8 802.2L1318.2 787.2L1319.8 789.2L1321.8 772.2L1322.2 771.8L1323.2 773.2L1324.8 752.2L1324.2 573.2L1321.8 568.2L1317.8 563.8L1311.8 559.2L1303.2 554.8L1285.8 548.8L1265.8 545.2L1263.8 543.8L1275.8 518.2L1302.2 452.8L1312.8 431.8L1329.8 408.8L1332.2 406.8L1338.8 404.8L1338.8 322.2L1335.2 314.8L1331.2 310.2L1322.2 303.8L1312.2 298.8L1301.2 294.8L1274.8 288.8ZM1300.8 600.8L1285.2 606.2L1267.2 609.8L1242.8 611.8L1231.8 611.8L1229.8 610.8L1239.2 588.2L1255.8 561.2L1267.2 555.2L1273.2 558.2L1285.2 568.8ZM972.8 470.2L986.8 446.2L998.8 440.2L1004.8 443.2L1016.8 453.8L1032.2 486.2L1030.2 486.8L1018.2 484.8L996.8 479.8L973.8 471.8Z" clip-rule="evenodd"/></clipPath>
<path d="M760.2 405.4V633M734.3 401.7V629.3M706.7 401.2V628.8M680.1 404V631.6M657.2 410V637.6M640.1 418.3V645.9M630.6 428.4V656M629.5 439.1V666.7M637 449.4V677M652.4 458.4V686M674.1 465V692.6M700 468.8V696.4M727.6 469.3V696.9M754.1 466.4V694M777.1 460.5V688.1M794.2 452.1V679.7M803.7 442.1V669.7M804.8 431.4V659M797.2 421V648.6M781.9 412.1V639.7M1158.3 380.5V608.1M1113.9 374.1V601.7M1066.6 373.3V600.9M1021 378.2V605.8M981.7 388.3V615.9M952.4 402.7V630.3M936.1 419.9V647.5M934.3 438.3V665.9M947.2 456V683.6M973.5 471.3V698.9M1010.7 482.7V710.3M1055.1 489.2V716.8M1102.4 490V717.6M1148 485.1V712.7M1187.3 474.9V702.5M1216.6 460.6V688.2M1232.9 443.3V670.9M1234.7 425V652.6M1221.8 407.3V634.9M1195.5 392V619.6M1287.5 291.1V518.7M1257.8 286.8V514.4M1226.3 286.3V513.9M1195.9 289.5V517.1M1169.7 296.3V523.9M1150.2 305.9V533.5M1139.3 317.3V544.9M1138.1 329.6V557.2M1146.7 341.4V569M1164.3 351.6V579.2M1189.1 359.2V586.8M1218.7 363.5V591.1M1250.2 364.1V591.7M1280.6 360.8V588.4M1306.8 354V581.6M1326.3 344.4V572M1337.2 333V560.6M1338.4 320.7V548.3M1329.8 308.9V536.5M1312.3 298.7V526.3M1279.7 547.3V774.9M1253.8 543.5V771.1M1226.2 543V770.6M1199.6 545.9V773.5M1176.7 551.8V779.4M1159.6 560.2V787.8M1150.1 570.2V797.8M1149 580.9V808.5M1156.5 591.3V818.9M1171.9 600.2V827.8M1193.6 606.9V834.5M1219.5 610.6V838.2M1247.1 611.1V838.7M1273.7 608.2V835.8M1296.6 602.3V829.9M1313.7 593.9V821.5M1323.2 583.9V811.5M1324.3 573.2V800.8M1316.8 562.9V790.5M1301.4 553.9V781.5" stroke="#ff0000" stroke-opacity="0.55" stroke-width="1.4" fill="none" clip-path="url(#tc)"/>
<path d="M1092.2 842.8L1090.8 847.8L1090.8 854.2L1092.2 859.2L1095.8 864.8L1107.8 859.8L1113.8 852.2L1124.8 854.8L1131.8 859.2L1133.2 854.2L1133.2 847.8L1131.8 842.8L1129.2 838.2L1124.8 833.8L1120.2 831.2L1115.2 829.8L1108.8 829.8L1103.8 831.2L1099.2 833.8L1094.8 838.2Z" fill="#000" fill-rule="evenodd"/>
<rect x="981" y="362" width="38.6" height="24" fill="#000"/><circle cx="998" cy="384" r="12.5" fill="#0000ff"/>
<path d="M975 645L990 651L1010 665L1025 682L1042 705L1060 735L1076 768L1090 800L1100 828L1106 845" fill="none" stroke="#0000ff" stroke-width="14" stroke-linejoin="round" stroke-linecap="round"/><path d="M972 636L1005 653L1030 673L1052 698L1074 736L1091 772L1105 806L1114 831L1119 846" fill="none" stroke="#00ff00" stroke-width="24" stroke-linejoin="round" stroke-linecap="round"/><path d="M988 662L1002 668L1018 677L1034 692L1050 714L1066 742L1082 775L1096 809L1106 836L1110 848" fill="none" stroke="#ff0000" stroke-width="19" stroke-linejoin="round" stroke-linecap="round"/><path d="M936 449L917 451L898 457L880 467L865 481L856 499L853 519L856 540L862 558L868 572" fill="none" stroke="#00ff00" stroke-width="27" stroke-linejoin="round" stroke-linecap="round"/><path d="M945 462L930 466L918 476L908 489L901 504L896 522L892 542L889 560L887 574" fill="none" stroke="#0000ff" stroke-width="18" stroke-linejoin="round" stroke-linecap="round"/><path d="M962 466L948 471L934 475L920 480L904 491L889 509L880 529L876 552L876 572L877 588" fill="none" stroke="#ff0000" stroke-width="22" stroke-linejoin="round" stroke-linecap="round"/><path d="M966 399L1008 383L1012 385L958 455L944 452L937 441Z" fill="#800080"/><path d="M1008 384L1016 382L1014 410L1002 419L986 430L958 456L954 452Z" fill="#808000"/><path d="M1014 406L1013 426L1005 440L990 451L975 461L962 470L956 458L976 441L996 424Z" fill="#ff0000"/>
<ellipse cx="717.1" cy="435.2" rx="88.2" ry="34.3" fill="none" stroke="#000" stroke-width="8"/>
<ellipse cx="1084.5" cy="431.6" rx="151.3" ry="58.7" fill="none" stroke="#000" stroke-width="8"/>
<ellipse cx="1238.3" cy="325.2" rx="100.9" ry="39.2" fill="none" stroke="#000" stroke-width="8"/>
<ellipse cx="1236.6" cy="577.1" rx="88.2" ry="34.3" fill="none" stroke="#000" stroke-width="8"/>
<path d="M1303.5 1075.5L202.5 836.8L202.5 438M1303.5 1075.5L1918 647.3" stroke="#262626" stroke-width="3.6" fill="none" stroke-linejoin="miter"/><path d="M202.5 832.1l-29.1 -6M202.5 718.3l-29.1 -6M202.5 604.5l-29.1 -6M202.5 490.7l-29.1 -6M1303.0 1075.2l-24.7 17.2M1082.9 1026.9l-24.7 17.2M862.8 978.7l-24.7 17.2M642.7 930.5l-24.7 17.2M422.6 882.3l-24.7 17.2M202.5 834.1l-24.7 17.2M1303.0 1075.2l28.1 6.5M1610.5 862.2l28.1 6.5M1918.0 649.3l28.1 6.5" stroke="#262626" stroke-width="3.6" fill="none"/><text x="151" y="505.4" text-anchor="end" font-size="67" fill="#262626">2</text><text x="150.2" y="617.6" text-anchor="end" font-size="67" fill="#262626">1</text><text x="152.2" y="731.3" text-anchor="end" font-size="67" fill="#262626">0</text><text x="149.3" y="845.5" text-anchor="end" font-size="67" fill="#262626">-1</text><text x="160.9" y="929.9" text-anchor="end" font-size="67" fill="#262626">100</text><text x="380.6" y="976" text-anchor="end" font-size="67" fill="#262626">80</text><text x="600.1" y="1023.5" text-anchor="end" font-size="67" fill="#262626">60</text><text x="821.3" y="1072.2" text-anchor="end" font-size="67" fill="#262626">40</text><text x="1039.4" y="1119.1" text-anchor="end" font-size="67" fill="#262626">20</text><text x="1261.4" y="1165.5" text-anchor="end" font-size="67" fill="#262626">0</text><text x="1354.5" y="1147.5" font-size="67" fill="#262626">0</text><text x="1660.6" y="934.8" font-size="67" fill="#262626">50</text><text x="1969" y="720.4" font-size="67" fill="#262626">100</text><text x="581" y="1145.4" font-size="73" fill="#262626">Y(km)</text><text x="1587.5" y="1039.6" font-size="73" fill="#262626">X(km)</text><text transform="translate(61.5,641.5) rotate(-90)" text-anchor="middle" font-size="73" fill="#262626">Z(km)</text><rect x="1387.3" y="404.2" width="556.1" height="227.2" fill="#fff" stroke="#262626" stroke-width="3.4"/><rect x="1402.9" y="435.5" width="164.9" height="22.4" fill="#0000ff"/><text x="1579" y="467.1" font-size="59" fill="#000">MOPSO</text><rect x="1402.9" y="506.2" width="164.9" height="22.4" fill="#00ff00"/><text x="1579" y="538.9" font-size="59" fill="#000">GMOPSO</text><rect x="1402.9" y="577.2" width="164.9" height="22.4" fill="#ff0000"/><text x="1579" y="609.6" font-size="59" fill="#000">GMOPSO-QL</text><text x="903" y="319.4" font-size="76" font-weight="bold" fill="#000">Target</text><text x="908" y="828.1" font-size="76" font-weight="bold" fill="#000">Start</text>
</svg></body></html>
